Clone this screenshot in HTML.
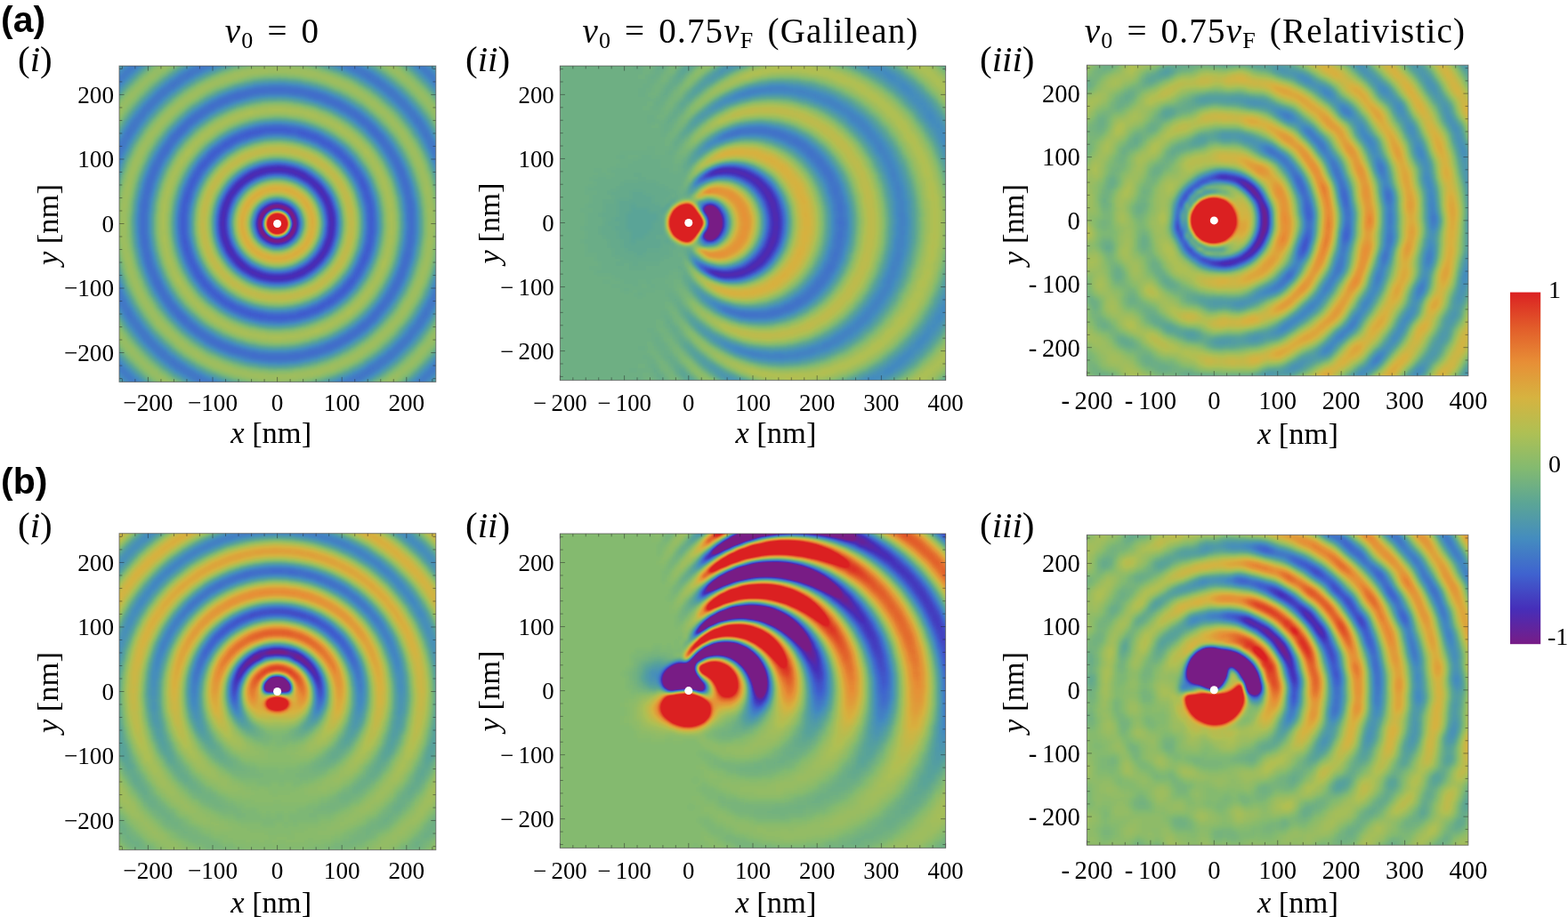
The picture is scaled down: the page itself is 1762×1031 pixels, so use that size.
<!DOCTYPE html>
<html lang="en"><head><meta charset="utf-8"><title>Figure</title>
<style>html,body{margin:0;padding:0;background:#fff}svg{display:block}text{font-family:"Liberation Serif","DejaVu Serif",serif;fill:#000}.ax{font-size:34.5px}.it{font-style:italic}.pl{font-size:41px}.bl{font-family:"Liberation Sans",sans-serif;font-weight:bold;font-size:41px}.tt{font-size:39px;letter-spacing:1.2px;word-spacing:4px}</style></head><body>
<svg width="1762" height="1031" viewBox="0 0 1762 1031">
<defs><filter id="hm" filterUnits="userSpaceOnUse" x="0" y="0" width="1762" height="1031" color-interpolation-filters="sRGB"><feGaussianBlur stdDeviation="2.5"/><feComponentTransfer><feFuncR type="table" tableValues="0.471 0.471 0.471 0.471 0.471 0.471 0.471 0.471 0.471 0.471 0.471 0.424 0.373 0.325 0.275 0.267 0.263 0.255 0.247 0.255 0.259 0.263 0.267 0.29 0.31 0.333 0.357 0.396 0.435 0.475 0.514 0.557 0.6 0.639 0.682 0.722 0.761 0.8 0.839 0.855 0.871 0.886 0.906 0.898 0.894 0.89 0.886 0.878 0.871 0.863 0.859 0.859 0.859 0.859 0.859 0.859 0.859 0.859 0.859 0.859 0.859"/><feFuncG type="table" tableValues="0.11 0.11 0.11 0.11 0.11 0.11 0.11 0.11 0.11 0.11 0.11 0.125 0.145 0.165 0.18 0.235 0.286 0.337 0.388 0.431 0.471 0.51 0.549 0.573 0.6 0.624 0.647 0.667 0.69 0.71 0.729 0.737 0.741 0.745 0.753 0.737 0.725 0.714 0.698 0.667 0.631 0.596 0.561 0.51 0.459 0.412 0.361 0.302 0.247 0.188 0.129 0.129 0.129 0.129 0.129 0.129 0.129 0.129 0.129 0.129 0.129"/><feFuncB type="table" tableValues="0.525 0.525 0.525 0.525 0.525 0.525 0.525 0.525 0.525 0.525 0.525 0.576 0.627 0.678 0.725 0.749 0.769 0.792 0.812 0.796 0.78 0.765 0.749 0.71 0.667 0.627 0.588 0.549 0.514 0.478 0.439 0.412 0.384 0.357 0.329 0.31 0.29 0.271 0.251 0.239 0.231 0.224 0.212 0.2 0.188 0.176 0.165 0.157 0.149 0.141 0.133 0.133 0.133 0.133 0.133 0.133 0.133 0.133 0.133 0.133 0.133"/><feFuncA type="linear" slope="1000" intercept="0"/></feComponentTransfer></filter>
<linearGradient id="cb" x1="0" y1="0" x2="0" y2="1"><stop offset="0" stop-color="#db2122"/><stop offset="0.1" stop-color="#e25c2a"/><stop offset="0.2" stop-color="#e78f36"/><stop offset="0.3" stop-color="#d6b340"/><stop offset="0.4" stop-color="#aec054"/><stop offset="0.5" stop-color="#83ba70"/><stop offset="0.6" stop-color="#5ba596"/><stop offset="0.7" stop-color="#448cbf"/><stop offset="0.8" stop-color="#3f63cf"/><stop offset="0.9" stop-color="#462eb9"/><stop offset="1" stop-color="#781c86"/></linearGradient></defs>
<rect width="1762" height="1031" fill="#fff"/>
<clipPath id="ca1"><rect x="134" y="74.1" width="355.8" height="355.3"/></clipPath>
<g clip-path="url(#ca1)"><g filter="url(#hm)"><g transform="translate(119 61.5) scale(5)" stroke-width="1.04" fill="none">
<path stroke="#2d2d2d" d="M36 35h1m-2 1h1m-1 4h1m0 1h1"/>
<path stroke="#2f2f2f" d="M40 35h1m0 1h1m0 2h1m-2 2h1m-2 1h1m-3 1h1"/>
<path stroke="#313131" d="M37 34h3m1 1h1m-8 2h1m7 0h1m-9 1h1m-1 1h1m7 0h1m-2 2h1m-5 1h1m1 0h1"/>
<path stroke="#333333" d="M31 28h1m-4 3h1m19 0h1M35 35h1M26 36h1m8 5h1m12 4h1M30 47h1m14 1h1"/>
<path stroke="#353535" d="M35 26h7M32 27h2m9 0h2m0 1h1M30 29h1m15 0h1M29 30h1m17 0h1M27 32h1m21 0h1M27 33h1m21 0h1M26 35h1m23 0h1m-1 1h1M26 37h1m23 0h1M26 38h1m23 0h1M26 39h1m23 0h1M26 40h1m15 0h1m7 0h1M26 41h1m23 0h1M40 42h1M27 43h1m21 0h1M27 44h1m21 0h1M28 45h1m0 1h1m17 0h1m-2 1h1M31 48h1m0 1h2m9 0h2M35 50h7"/>
<path stroke="#373737" d="M34 26h1m7 0h1M26 34h1m9 0h1m3 0h1m9 0h1M34 36h1m7 0h1m-9 4h1m-9 2h1m9 0h1m13 0h1M34 50h1m7 0h1"/>
<path stroke="#393939" d="M34 27h1m7 0h1M32 28h1m11 0h1M29 29h1m17 0h1m0 1h1M27 34h1m-1 8h1m21 0h1M28 44h1m19 2h1M29 47h1m17 0h1M30 48h1m15 0h1M34 49h1m7 0h1"/>
<path stroke="#3c3c3c" d="M30 28h1m15 0h1M28 30h1m-1 2h1m19 0h1m0 2h1M48 44h1M28 46h1m3 2h1m11 0h1"/>
<path stroke="#3e3e3e" d="M38 25h2m-7 1h1m9 0h1M26 33h1m23 0h1m0 4h1M25 38h1m25 0h1m-2 5h1m-2 2h1M33 50h1m9 0h1m-6 1h1"/>
<path stroke="#404040" d="M37 25h1m-7 2h1m3 0h1m5 0h1m3 0h1M31 29h1m-5 2h1m1 0h1m19 0h1M27 35h1m23 1h1M25 37h1m-1 2h1m25 0h1M27 41h1m-2 2h1m0 2h1m1 0h1m1 2h1m-1 2h1m3 0h1m9 0h1m-9 2h1m1 0h1"/>
<path stroke="#424242" d="M36 25h1m3 0h1m4 4h1M30 30h1m16 1h1m1 4h1M25 36h1m-1 4h1m25 0h1m-3 1h1m-3 4h1M30 46h1m14 1h1m-5 2h1m-6 2h1m3 0h1"/>
<path stroke="#444444" d="M46 30h1M46 46h1"/>
<path stroke="#464646" d="M35 25h1m5 0h1m-6 2h1m3 0h1m-8 1h1m9 0h1M28 33h1m22 2h1M27 36h1m-1 4h1m-3 1h1m25 0h1M28 43h1m4 5h1m9 0h1m-8 1h1m3 0h1m0 2h1"/>
<path stroke="#484848" d="M34 17h8M31 18h2m11 0h2M28 19h2m17 0h1M27 20h1m21 0h1M24 22h1m27 0h1M23 23h1m29 0h1M22 24h1m31 0h1M21 25h1m33 0h1M32 26h1m11 0h1M20 27h1m35 0h1M19 28h1m37 0h1M19 29h1m37 0h1m0 1h1M18 31h1m39 0h1M18 32h1m31 0h1m7 0h1M38 33h1m9 0h1M17 34h1m23 0h1m17 0h1M17 35h1m7 0h1m8 0h1m7 0h1m16 0h1M17 36h1m31 0h1m9 0h1M17 37h1m41 0h1M17 38h1m15 0h1m9 0h1m15 0h1M17 39h1m41 0h1M17 40h1m31 0h1m9 0h1M17 41h1m16 0h1m7 0h1m16 0h1M17 42h1m23 0h1m17 0h1M38 43h1m9 0h1M18 44h1m31 0h1m7 0h1M18 45h1m39 0h1m-1 1h1M19 47h1m37 0h1M20 49h1m35 0h1M21 50h1m22 0h1M35 51h1m19 0h1M22 52h1m31 0h1M23 53h1m29 0h1M24 54h1m27 0h1M25 55h1m24 0h1M27 56h1m21 0h1M28 57h2m17 0h2M31 58h2m11 0h2M34 59h9"/>
<path stroke="#4a4a4a" d="M33 17h1m8 0h2M30 18h1m2 0h1m9 0h1m2 0h1m-1 1h1m1 0h1M26 20h1m21 0h1m1 0h1M25 21h2m23 0h2M25 22h1m25 0h1M22 25h1m31 0h1M20 26h2m33 0h2M37 27h1m1 0h1M29 28h1m17 0h1M28 29h1m19 0h1M18 30h2m37 0h1M26 32h1M17 33h2m39 0h2M35 34h1m-9 3h1m-1 2h1m21 0h1M35 42h1M17 43h2m39 0h2M26 44h1m-9 2h2m37 0h1M28 47h1m19 0h1M19 48h2m8 0h1m17 0h1m8 0h2M37 49h1m1 0h1M20 50h1m11 0h1m22 0h2M21 51h2m31 0h1M25 54h1m25 0h1M26 55h1m24 0h1M26 56h1m1 0h1m19 0h1m1 0h1M30 57h1m15 0h1M30 58h1m2 0h1m9 0h1m2 0h1M33 59h1m9 0h1"/>
<path stroke="#4c4c4c" d="M32 17h1m11 0h1M34 18h1m12 0h1M30 19h1m-3 1h1m-6 2h1m0 1h1m27 0h1M23 24h1m29 0h1M38 27h1M20 28h1m35 0h1m1 1h1M17 32h1m41 0h1M37 33h1m1 0h1m1 4h1m1 0h1m5 0h1M27 38h1m13 1h1m1 0h1M18 42h1m18 1h1m1 0h1M17 44h1m41 0h1M38 49h1M23 52h1m29 0h1M24 53h1m27 0h1m1 0h1m-2 1h1M34 58h1m12 0h1M32 59h1m11 0h1"/>
<path stroke="#4f4f4f" d="M33 8h11M29 9h3M45 9h3M26 10h2m21 0h1M25 11h1m25 0h2M23 12h1m29 0h1M21 13h1m33 0h1M20 14h1m35 0h1M18 15h2m37 0h2M17 16h1m19 0h3m19 0h1M16 17h2m41 0h2M15 18h2m12 0h1m12 0h1m17 0h2M15 19h1m11 0h1m3 0h1m13 0h1m3 0h1m11 0h1M14 20h1m47 0h1M13 21h1m10 0h1m2 0h1m21 0h1m2 0h1m10 0h1M13 22h1m39 0h1M12 23h1m9 0h1m31 0h1m9 0h1M21 24h1m33 0h1m9 0h1M11 25h1m22 0h1m7 0h1m22 0h1M10 26h1m55 0h1M10 27h1m8 0h1m10 0h1m15 0h1m8 0h1m1 0h1m8 0h1M10 28h1M9 29h1m8 0h1m48 0h1M9 30h1m17 0h1m21 0h1m17 0h1M9 31h1m57 0h1M8 33h1m59 0h1M8 34h1m9 0h1m6 0h1m25 0h1m6 0h1m9 0h1M8 35h1m9 0h1m49 0h1M8 36h1m7 0h1m51 0h1M8 37h1m7 0h1m16 0h1m26 0h1m7 0h1M8 38h1m7 0h1m32 0h1m10 0h1m7 0h1M8 39h1m7 0h1m16 0h1m26 0h1m7 0h1M8 40h1m51 0h1m7 0h1M8 41h1m59 0h1M8 42h1m16 0h1m25 0h1m6 0h1m9 0h1M8 43h1m59 0h1M9 45h1m9 0h1m37 0h1m9 0h1M9 46h1m17 0h1m21 0h1m17 0h1M9 47h1m8 0h1m39 0h1m8 0h1m-2 1h1M10 49h1m8 0h1m10 0h1m15 0h1m10 0h1m8 0h1m-1 1h1M11 51h1m22 0h1m7 0h1m22 0h1M11 52h1m9 0h1m33 0h1m9 0h1M12 53h1m9 0h1m41 0h1M23 54h1M13 55h1m35 0h1m2 0h1m10 0h1M14 56h1m47 0h1M15 57h1m11 0h1m3 0h1m13 0h1m3 0h1m11 0h1M16 58h1m12 0h1m5 0h1m6 0h1m17 0h1M16 59h2m42 0h1M17 60h1m20 0h2m19 0h1M19 61h1m37 0h2M20 62h1m35 0h1M21 63h1m33 0h1M23 64h1m29 0h2M24 65h2m25 0h2M26 66h3m20 0h2M29 67h3m13 0h3M33 68h11"/>
<path stroke="#515151" d="M25 1h1M50 1h2M32 8h1M44 8h1M28 9h1m3 0h1M44 9h1m3 0h1M28 10h2m17 0h2m1 0h1M24 11h1m1 0h1m23 0h1M22 12h1m1 0h1m27 0h1m1 0h1M22 13h1m31 0h1m1 0h1M19 14h1m37 0h1M18 16h1m16 0h2m3 0h1m17 0h1M31 17h1m13 0h1M35 18h1m4 0h2M14 19h1m47 0h1M14 21h1m-3 1h1m50 0h2M11 24h2M1 25h1m18 0h1M1 26h1m9 0h1m53 0h1M21 27h1M9 28h1m56 0h2m8 1h1M17 31h1m1 0h1m37 0h1m1 0h1M8 32h2m57 0h2M58 35h1m1 0h1m-1 1h1M35 37h1m-1 2h1M16 40h1m1 1h1m39 0h1M8 44h2m19 0h1m37 0h2M17 45h1m41 0h1m8 0h1m7 1h1M20 47h1m55 0h1M9 48h2m56 0h1m8 0h1M21 49h1m33 0h1M1 50h1m8 0h2m53 0h1M1 51h1m10 1h1m51 0h1M12 54h2m49 0h2M24 55h1m2 0h1m23 1h1M14 57h1m47 0h1M15 58h1m25 0h1m19 0h1M31 59h1m13 0h1m13 0h1M18 60h1m17 0h2m2 0h1m17 0h1M18 61h1m0 1h1m37 0h1M22 63h1m31 0h1m1 0h1M22 64h1m1 0h1m27 0h1M26 65h1m23 0h1M29 66h1m18 0h1M28 67h1m3 0h2m10 0h1m3 0h1M32 68h1m11 0h1M23 74h1m5 2h2m14 0h4"/>
<path stroke="#535353" d="M30 0h2M44 0h2M24 1h1m1 0h2M49 1h1m2 0h1M22 2h2M53 2h2M20 3h2M55 3h2M18 4h2M57 4h2M17 5h2M58 5h2M15 6h2M60 6h2M14 7h2M61 7h2M13 8h1M31 8h1M45 8h1M63 8h1M12 9h1M33 9h1m8 0h2M64 9h1M11 10h1m13 0h1m25 0h1m13 0h1M10 11h1m12 0h1m29 0h1m12 0h1M9 12h1m57 0h1M8 13h1m11 0h1m47 0h1M7 14h1m13 0h1m33 0h1m13 0h1M6 15h1m62 0h2M6 16h1m34 0h1m28 0h1M5 17h1m65 0h1M4 18h2m30 0h1m34 0h2M4 19h1m67 0h1M3 20h1m9 0h1m11 0h1m3 0h1m17 0h1m3 0h1m11 0h1m9 0h1M3 21h1m58 0h1m10 0h1M2 22h1m71 0h1M2 23h1m8 0h1m53 0h1m8 0h1M1 24h2m61 0h1m9 0h1M10 25h1m45 0h1m9 0h1m8 0h1m-1 1h1M1 27h1m74 0h1M34 28h1m23 0h1m17 0h1M10 29h1m9 0h1m11 0h1m11 0h1m11 0h1m9 0h1m9 1h1M0 31h1m7 0h1m59 0h1m7 0h1M29 32h1m17 0h1m28 0h1M9 33h1m57 0h1M9 34h1m6 1h1m20 0h1m1 0h1m37 0h1M18 36h1m39 0h1M18 37h1m39 0h1m18 0h1M18 38h1m-1 1h1m-1 1h1m39 0h1M16 41h1m20 0h1m22 0h1M9 42h1m18 0h1M9 43h1m57 0h1M47 44h1m28 0h1M0 45h1m7 0h1m67 0h1M0 47h1m9 0h1m21 0h1m11 0h1m11 0h1m9 0h1M34 48h1M1 49h1m74 0h1m-2 1h1M10 51h1m9 0h1m35 0h1m9 0h1m8 0h1M1 52h2M2 53h1m8 0h1m53 0h1m8 0h1M2 54h1m71 0h1M3 55h1m10 0h1m47 0h1m10 0h1M3 56h1m9 0h1m11 0h1m3 0h1m17 0h1m15 0h1m9 0h1M4 57h1m67 0h1M4 58h2m30 0h2m1 0h2m30 0h2M5 59h1m65 0h1M6 60h1m28 0h1m5 0h1m28 0h1M7 61h1m62 0h1M7 62h1m13 0h1m33 0h1m13 0h1M8 63h1m11 0h1m47 0h1M9 64h1m57 0h1M10 65h1m12 0h1m29 0h1m12 0h1M11 66h1m13 0h1m21 0h1m3 0h1m13 0h1M12 67h1m29 0h2m20 0h1M13 68h1m17 0h1m13 0h1m17 0h1M14 69h2m45 0h2M15 70h2m43 0h1M17 71h2m39 0h2M19 72h1m37 0h2M20 73h2m33 0h2M22 74h1m1 0h1m27 0h3M25 75h2m22 0h3M27 76h2m2 0h2m11 0h1m4 0h1M38 77h2"/>
<path stroke="#555555" d="M9 0h1M28 0h2m2 0h3m7 0h2m2 0h3M67 0h1M7 1h2M28 1h1M48 1h1M68 1h2M6 2h1M24 2h1M52 2h1M70 2h1M5 3h1M22 3h1M54 3h1M71 3h1M4 4h1M20 4h1M56 4h1M72 4h1M3 5h1M16 5h1M60 5h1M73 5h1M59 6h1M74 6h1M1 7h1M37 7h3M74 7h1M1 8h1M12 8h1m1 0h1M46 8h1M62 8h1m1 0h1M75 8h2M11 9h1m1 0h1M27 9h1m6 0h2m5 0h1m7 0h1M63 9h1m1 0h1M76 9h1M10 10h1m19 0h1m15 0h1m19 0h1M9 11h1m17 0h1m21 0h1m17 0h1M8 12h1m12 0h1m33 0h1m12 0h1M23 13h1m29 0h1m15 0h1M8 14h1m59 0h1M7 15h1m12 0h1m35 0h1M5 16h1m28 0h1m7 0h1m17 0h1m10 0h1M6 17h1m21 1h1m8 0h3m8 0h1M32 19h1m11 0h1M4 20h1m10 0h1m45 0h1m10 0h1M12 21h1m51 0h1M3 22h1m22 0h1m23 0h1m22 0h1M1 23h1m11 0h1m49 0h1m11 1h1M22 26h1m31 0h1m21 0h1M9 27h1m1 0h1m53 0h1m1 0h1m7 0h1M0 28h2m16 0h1m23 0h1M0 29h1M0 30h1m7 0h1m1 0h1m57 0h1M0 32h1m18 0h1m37 0h1M0 33h1m75 0h2M0 34h1m15 0h1m11 0h1m19 0h1m11 0h1m6 0h1m9 0h1M9 35h1m57 0h1m1 0h1M7 36h1m61 0h1m7 0h1M7 37h1m61 0h1M7 38h1m50 0h1m10 0h1m7 0h1M7 39h1m50 0h1m10 0h1m7 0h1M7 40h1m61 0h1m7 0h1M9 41h1m29 0h1m27 0h1m9 0h1M0 42h1m15 0h1m31 0h1m11 0h1m6 0h1m9 0h1M0 43h1m75 0h2M0 44h1m18 0h1M0 46h1m7 0h1m57 0h1m1 0h1M0 48h2m16 0h1m23 0h1m15 0h1M9 49h1m1 0h1m53 0h1m1 0h1m7 0h1M22 50h1m31 0h1m21 0h1M12 51h1m61 1h2M13 53h1m49 0h1M3 54h1m22 0h1m23 0h1m22 0h1M12 55h1m51 0h1m9 0h1M4 56h1m10 0h1m45 0h1m10 0h1M32 57h1m-5 1h1m9 0h1m9 0h1m21 1h1M5 60h1m28 0h1m7 0h1m17 0h1m10 0h1M6 61h1m13 0h1m35 0h1m12 0h1M8 62h1m59 0h1M9 63h1m13 0h1m29 0h1M8 64h1m12 0h1m33 0h1m12 0h1M9 65h1m17 0h1m21 0h1m17 0h1M10 66h1m19 0h1m15 0h1m19 0h1M0 67h1m10 0h1m1 0h1m13 0h1m6 0h2m5 0h1m7 0h1m13 0h1m1 0h1m10 0h1M1 68h1m10 0h1m1 0h1m31 0h1m15 0h1m1 0h1m11 0h1M1 69h1m34 0h5m33 0h1M17 70h1m41 0h1m1 0h1m12 0h1M3 71h1m12 0h1m43 0h1m12 0h1M4 72h1m13 0h1m1 0h1m35 0h1m15 0h1M5 73h1m16 0h1m31 0h1m2 0h1m13 0h1M6 74h1m18 0h1m43 0h2M24 75h1m2 0h2m23 0h1M8 76h2m16 0h1m6 0h1m9 0h1m6 0h1m16 0h2M34 77h4m2 0h3"/>
<path stroke="#575757" d="M10 0h1M27 0h1m7 0h7m7 0h1M66 0h1M23 1h1M47 1h1m5 0h1M7 2h1M21 2h1m3 0h1M51 2h1m3 0h1M69 2h1M6 3h1M19 3h1M57 3h1M70 3h1M5 4h1M59 4h1M71 4h1M4 5h1M72 5h1M2 6h2M17 6h1M73 6h1M2 7h1M13 7h1M35 7h2m3 0h2M63 7h1M75 7h1M30 8h1M0 9h1M36 9h5M0 10h1m11 0h1m51 0h1m12 0h1M11 11h1m53 0h1m11 0h1M10 12h1m14 0h1m25 0h1m14 0h1M7 13h1m1 0h1m57 0h1m2 1h1M17 15h1m41 0h1M16 16h1m2 0h1m37 0h1M4 17h1m10 0h1m2 0h1m11 0h1m15 0h1m14 0h1m8 0h1M14 18h1m2 0h1m41 0h1m2 0h1M3 19h1m12 0h1m9 0h1m23 0h1m9 0h1m12 0h1M2 21h1m71 0h1M25 23h1m25 0h1m23 0h1M24 24h1M2 25h1m9 0h1m10 0h1m29 0h1m10 0h1m9 0h1M19 26h1m25 0h1m11 0h1M0 27h1m74 1h1M17 30h1m41 0h1m6 0h1M50 31h1m26 0h1m-1 1h1M60 33h1M7 34h1m61 0h1m6 0h1M0 35h1m6 0h1m68 0h1M0 36h1m8 0h1m26 0h1m30 0h1M0 37h1m8 0h1m57 0h1M0 38h1m8 0h1M0 39h1m8 0h1M0 40h1m8 0h1m26 0h1m30 0h1M0 41h1m6 0h1m61 0h1m6 0h1m-8 1h1m6 0h1M57 44h1m19 0h1M50 45h1m26 0h1M10 46h1m6 0h1m41 0h1M1 47h1m73 1h1M0 49h1m18 1h1m25 0h1m11 0h1M2 51h1m20 0h1m29 0h1m10 0h1m9 0h1M1 53h1m1 0h1m21 0h1m25 0h1m23 0h1M2 55h1m0 2h1m12 0h1m9 0h1m17 0h1m5 0h1m9 0h1m12 0h1M14 58h1m2 0h1M4 59h1m1 0h1m8 0h1m2 0h1m11 0h1m15 0h1m14 0h1m10 0h1M16 60h1m2 0h1m37 0h1M17 61h1m41 0h1m-2 1h1M7 63h1m59 0h1m1 0h1M10 64h1m14 0h1m25 0h1m14 0h1M11 65h1m53 0h1m11 0h1M0 66h1m11 0h1m51 0h1m12 0h1M36 67h5M30 68h1m44 0h1M2 69h1m10 0h1m21 0h1m5 0h2m20 0h1m11 0h1M2 70h2m69 0h1M4 71h1m14 0h1m52 0h1M5 72h1m53 0h1m11 0h1M6 73h1m12 0h1m50 0h1M7 74h1m13 0h1m29 0h1m3 0h1M7 75h2m39 0h1m4 0h1m14 0h2M10 76h1m23 0h3m4 0h2m23 0h1M10 77h2m20 0h2m9 0h2m20 0h2"/>
<path stroke="#595959" d="M8 0h1M50 0h1M68 0h1M6 1h1M29 1h1M67 1h1m2 0h1M5 2h1M4 3h1M23 3h1M53 3h1M72 3h1M3 4h1M17 4h1m3 0h1M55 4h1M73 4h1M2 5h1M19 5h1M57 5h1M74 5h1M1 6h1M14 6h1M62 6h1M16 7h1M34 7h1m7 0h1M60 7h1M0 8h1M29 8h1M47 8h1M1 9h1M77 9h1M24 10h1m6 0h1m13 0h1m6 0h1m23 0h1M6 14h1m11 0h1m3 0h1m35 0h1M7 16h1m25 0h1m9 0h1m25 0h1M58 17h1m13 0h1M5 19h1m65 0h1M4 21h1m23 0h1m19 0h1m23 0h1M14 22h1M3 23h1m69 0h1M10 24h1m41 0h1m13 0h1M43 25h1m32 0h1M2 26h1m28 0h1m35 0h1M21 28h1M1 29h1m6 0h1m59 0h1m6 0h1M31 30h1m13 0h1m31 0h1M10 31h1m15 0h1m3 0h1m15 0h1M16 33h1m8 0h1m10 0h1m3 0h1m10 0h1m17 0h1M43 36h1m32 0h1m-1 1h1M35 38h6m26 0h1m8 0h1M67 39h1m8 0h1M43 40h1m32 0h1M7 42h1m8 1h1m8 0h1m10 0h1m3 0h1m10 0h1m8 0h1M10 45h1m15 0h1m3 0h1m15 0h1m19 0h1M31 46h1m13 0h1M8 47h1m59 0h1m6 0h1M21 48h1m9 2h1m35 0h1m6 0h1M33 51h1m9 0h1m32 0h1M10 52h1m13 0h1m27 0h1m13 0h1m6 1h1M14 54h1M4 55h1m67 0h1M30 56h1M5 57h1m65 0h1M59 58h1m2 0h1m-5 1h1M7 60h1m25 0h1m9 0h1m25 0h1M6 62h1m11 0h1m35 0h1m15 0h1M22 65h1m1 1h1m6 0h1m13 0h1m6 0h1m23 0h1M50 67h1m26 0h1M0 68h1m46 0h1M16 69h1m17 0h1m25 0h1M1 70h1m12 0h1m47 0h1m-6 1h1m16 0h1M3 72h1m13 0h1m3 0h1m33 0h1m17 0h1M4 73h1m18 0h1m29 0h1m18 0h1M5 74h1m20 0h1m23 0h1m20 0h1M23 75h1m5 0h1m17 0h1M25 76h1m11 0h4m10 0h1M30 77h2m13 0h1m18 0h1m2 0h1"/>
<path stroke="#5b5b5b" d="M26 0h1M9 1h1M22 1h1m7 0h1M46 1h1m7 0h1M8 2h1M26 2h1M50 2h1m5 0h1M71 2h1M61 5h1M75 6h1M33 7h1m9 0h1M76 7h1M15 8h1M26 9h1M50 9h1M75 9h1m-9 1h1M22 11h1m5 0h1m19 0h1m5 0h1m22 1h1M19 13h1m37 0h1m-4 1h1M5 15h1m2 0h1m62 0h1M13 19h1m19 0h1m9 0h1m19 0h1M2 20h1m27 0h1m15 0h1m27 0h1M23 21h1m29 0h1M1 22h1m9 0h1m10 0h1m31 0h1m7 0h1m2 0h1M21 23h1m33 0h1M38 24h1m-6 1h1M0 26h1m8 0h1m64 0h1M11 28h1m43 0h1m9 0h1M1 30h1m18 0h1m35 0h1m18 0h1M66 31h1M7 33h1m11 0h1m13 3h1m18 2h1M33 40h1M7 43h1m11 0h1m49 0h1M1 46h1m18 0h1m35 0h1m18 0h1m1 0h1M11 48h1m43 0h1m9 0h1M0 50h1m1 0h1m6 0h1m11 3h1m33 0h1M1 54h1m9 0h1m10 0h1m31 0h1m7 0h1m2 0h1M23 55h1m4 0h1m19 0h1m4 0h1M2 56h1m43 0h1m27 0h1M13 57h1m19 0h1m9 0h1m19 0h1M5 61h1m62 0h1m2 0h1M22 62h1m-4 1h1m37 0h1m19 1h1M28 65h1m19 0h1m5 0h1M1 67h1m24 0h1m48 0h1M15 68h1m13 0h1m31 0h1M33 69h1m9 0h1m32 0h1m-2 1h1M2 71h1m12 0h1m45 0h1M8 74h1m11 0h1m35 0h1m11 0h1M6 75h1m2 0h1m20 0h1m15 0h1m20 0h1m2 0h1M7 76h1m61 0h1M9 77h1m2 0h1m33 0h1"/>
<path stroke="#5e5e5e" d="M11 0h1M65 0h1M45 1h1M20 2h1m6 0h1M68 2h1M7 3h1M18 3h1m5 0h1M52 3h1m5 0h1M69 3h1M6 4h1m8 1h1M4 6h1M18 6h1M58 6h1M3 7h1M44 7h1M73 7h1M2 8h1m8 0h1M61 8h1m3 0h1m8 0h1M10 9h1M66 9h1M9 10h1m22 0h1m11 0h1M0 11h1m7 0h1m59 0h1M26 12h1m23 0h1M24 13h1m27 0h1M21 15h1m46 0h1M44 16h1M3 18h1m2 0h1m63 0h1m2 0h1M52 20h1m11 0h1m10 2h1M3 24h1m9 0h1m6 0h1m16 0h1m1 0h1m23 0h1m9 0h1m2 0h1M12 26h1m45 1h1M8 28h1m59 0h1M59 29h1m17 0h1M7 32h1m2 0h1m49 0h1m8 0h1M57 33h1M24 37h1m27 0h1M24 38h1m-1 1h1m27 0h1m4 4h1M10 44h1m49 0h1m5 0h1m2 0h1M1 45h1m75 2h1M12 50h1m51 0h1M3 52h1m9 0h1m23 0h3m16 0h1m6 0h1m9 0h1m2 0h1m-2 2h1M52 56h1M3 58h1m2 0h1m63 0h1m2 0h1M8 61h1m0 1h1m14 1h1m27 0h1M26 64h1m23 0h1M0 65h1m7 0h1m59 0h1M9 66h1m22 0h1m11 0h1m22 0h1M10 67h1m55 0h1M2 68h1m8 0h1m53 0h1m8 0h1M3 69h1m28 0h1m11 0h1m28 0h1M18 70h1m39 0h1M7 73h1m10 0h1m5 0h1m27 0h1m5 0h1m10 0h1M22 75h1m31 0h1M29 77h1m17 0h1"/>
<path stroke="#606060" d="M7 0h1M25 0h1M51 0h1M69 0h1M31 1h1M49 2h1M16 4h1m5 0h1M54 4h1m5 0h1m9 0h1M5 5h1M20 5h1M56 5h1M71 5h1m0 1h1M0 7h1M12 7h1M32 7h1M64 7h1M28 8h1M48 8h1M14 9h1M62 9h1m13 2h1M7 12h1m12 0h1m35 0h1m12 0h1M10 13h1M9 14h1m57 0h1M55 15h1M4 16h1m27 0h1m39 0h1M29 17h1m17 0h1M27 18h1m21 0h1M5 20h1m6 0h1m11 0h1m46 0h1M15 21h1m45 0h1M4 22h1m67 0h1M56 24h1M0 25h1m63 1h1M2 27h1m15 0h1m55 0h1M35 28h1m5 0h1m6 0h1m28 0h1M17 29h1M1 31h1m73 0h1M16 32h1m49 0h1M34 34h1m7 0h1M28 35h1m9 0h1m1 1h1m11 0h1M40 40h1m11 0h1M28 41h1m9 0h1m3 1h1M7 44h1m8 0h1m58 1h1M17 47h1m41 0h1M8 48h1m32 0h1m26 0h1m8 0h1M2 49h1m15 0h1m39 0h1m15 0h1M0 51h1m19 1h1M4 54h1m10 1h1m45 0h1M5 56h1m6 0h1m11 0h1m39 0h1m6 0h1M27 58h1m21 0h1M29 59h1m17 0h1M4 60h1m27 0h1m11 0h1m27 0h1M21 61h1m33 0h1m11 1h1M7 64h1m12 0h1m35 0h1m12 0h1m6 1h1M13 66h1m0 1h1m47 0h1M28 68h1m19 0h1M0 69h1m11 0h1m51 0h1M4 70h1m67 0h1M5 71h1m14 0h1m35 0h1m14 0h1M6 72h1m15 0h1m31 0h1m5 0h1m9 0h1M27 74h1m21 0h1M31 75h1m13 0h1M11 76h1m12 0h1m27 0h1m12 0h1"/>
<path stroke="#626262" d="M32 1h1M44 1h1M55 1h1M71 1h1M3 3h1M73 3h1M13 6h1M63 6h1M17 7h1M31 7h1M45 7h1M77 8h1M25 9h1M51 9h1M13 10h1m9 0h1m9 0h1m9 0h1m9 0h1m9 0h1M12 11h1m16 0h1m17 0h1m16 0h1M11 12h1m53 0h1M6 13h1m59 0h1m3 0h1m6 0h1M60 15h1M20 16h1m35 0h1M7 17h1m26 2h1m7 0h1M16 20h1m10 2h1m21 0h1M10 23h1m55 0h1M36 24h1m3 0h1M9 25h1m57 0h1M22 27h1m31 0h1M28 28h1M11 29h1m53 0h1M7 31h1m61 0h1M1 32h1m73 0h1M10 33h1m8 1h1m37 0h1M48 35h1M24 36h1m36 2h1m-1 1h1M24 40h1m23 1h1M19 42h1m14 0h1M10 43h1m55 0h1M1 44h1m5 1h1m61 0h1M11 47h1m37 0h1M28 48h1m6 0h1m12 0h1M22 49h1M9 51h1m57 0h1M36 52h1m3 0h1M10 53h1m55 0h1M27 54h1m21 0h1m22 0h1M1 55h1m14 1h1m17 1h1m7 0h1M7 59h1m12 1h1m40 0h1m-2 1h1M6 63h1m3 0h1m55 0h1m3 0h1m6 0h1M11 64h1m53 0h1M12 65h1m16 0h1m17 0h1m16 0h1M23 66h1m9 0h1m9 0h1m9 0h1m9 0h1M25 67h1m25 0h1m25 1h1M17 69h1m13 0h1m13 0h1m13 0h1M13 70h1m49 0h1M16 72h1m57 0h1M3 73h1m69 0h1M4 74h1m27 1h1m11 0h1M8 77h1m4 0h1m14 0h1m19 0h1m14 0h1m4 0h1m8 0h1"/>
<path stroke="#646464" d="M52 0h1M5 1h1m4 0h1M21 1h1M33 1h1m9 0h1M66 1h1M4 2h1M19 2h1m8 0h1M48 2h1m8 0h1M72 2h1M25 3h1M51 3h1M2 4h1M74 4h1M1 5h1M75 5h1m0 1h1M59 7h1M1 10h1m73 0h1M59 14h1m11 0h1M16 15h1m20 0h3M15 16h1m45 0h1M14 17h1m47 0h1m6 0h1M18 18h1M2 19h1m22 0h1m25 0h1m22 0h1M31 20h1m28 0h1M1 21h1m63 0h1m9 0h1M14 23h1m61 0h1M0 24h1m2 1h1m15 0h1m37 0h1M29 27h1m17 0h1M2 28h1m24 1h1m21 0h1M20 31h1m39 0h1M1 33h1m64 0h1m8 0h1M61 36h1M15 37h1m45 0h1M15 38h1m-1 1h1m45 1h1m-5 2h1m17 2h1M20 45h1m39 0h1M27 47h1m37 0h1M2 48h1m71 0h1M29 49h1m17 0h1m6 0h1M3 51h1m15 0h1m37 0h1m15 0h1M0 52h1m75 1h1M65 55h1m9 0h1M31 56h1m28 0h1M2 57h1m22 0h1m25 0h1m22 0h1M14 59h1m4 0h1m42 0h1m6 0h1M15 60h1m40 0h1M16 61h1m20 0h3M17 62h1m5 0h1m35 0h1m11 0h1M1 66h1m73 0h1m0 4h1M1 71h1m73 0h1M2 72h1m22 1h1m25 0h1M19 74h1m8 0h1m19 0h1m8 0h1m14 0h1M5 75h1m4 0h1m10 0h1m11 0h1m9 0h1m11 0h1m10 0h1m4 0h1M6 76h1m63 0h1"/>
<path stroke="#666666" d="M12 0h1M24 0h1M64 0h1M42 1h1M9 2h1M67 2h1M17 3h1M59 3h1M23 4h1M14 5h1M62 5h1M19 6h1M39 6h1M57 6h1M16 8h1M27 8h1M49 8h1M60 8h1M2 9h1M74 9h1M34 10h1m7 0h1M21 11h1m33 0h1M0 12h1m26 0h1m21 0h1M18 13h1m39 0h1M5 14h1m11 0h1m5 0h1m29 0h1M36 15h1m3 0h1M8 16h1m22 0h1m13 0h1M3 17h1m15 0h1m37 0h1m15 0h1M58 18h1m4 0h1M6 19h1m10 0h1m17 0h1m5 0h1m17 0h1M45 20h1M11 21h1m50 2h1m10 2h1M8 27h1m3 0h1m55 0h1m8 0h1m-4 1h1M21 29h1m11 0h1m9 0h1m25 1h1M16 31h1m39 0h1m-6 1h1M29 33h1M10 34h1m55 0h1m8 0h1M19 35h1m32 0h1M15 36h1M6 37h1m63 0h1M6 38h1m63 0h1m-1 1h1M15 40h1m54 0h1M19 41h1m32 0h1M1 42h1m8 0h1m55 0h1M1 43h1m27 0h1m17 0h1m27 0h1M51 44h1M16 45h1m39 0h1m12 1h1M21 47h1m11 0h1m9 0h1M8 49h1m3 0h1m55 0h1m8 0h1M44 51h1M14 53h1m47 0h1M11 55h1m33 1h1M6 57h1m10 0h1m17 0h1m5 0h1m17 0h1m10 0h1M18 58h1m39 0h1M3 59h1m53 0h1m15 0h1M8 60h1m22 0h1m13 0h1M36 61h1m3 0h1M5 62h1m47 0h1m4 1h1M0 64h1m26 0h1m-7 1h1m33 0h1M34 66h1m7 0h1M2 67h1m71 0h1M16 68h1m10 0h1m21 0h1M19 70h1m18 0h2M14 71h1m47 0h1M17 73h1m41 0h1M9 74h1m57 0h1M34 75h1m7 0h1M23 76h1m29 0h1M27 77h1m21 0h1"/>
<path stroke="#686868" d="M6 0h1M34 1h2m5 0h1M29 2h1M47 2h1M8 3h1M68 3h1M53 4h1M21 5h1M55 5h1M0 6h1M36 6h3m1 0h1M30 7h1M46 7h1M3 8h1M66 8h1m6 0h1M67 9h1M35 10h1m5 0h1M30 11h1m15 0h1M25 13h1m25 0h1M35 15h1m5 0h1m30 0h1m-5 1h1M13 18h1m56 1h1M5 21h1m23 0h1m17 0h1m23 0h1M4 23h1m21 0h1m23 0h1m21 0h1M35 24h1m5 0h1M13 25h1m18 0h1m11 0h1m18 0h1M23 26h1m29 0h1m23 0h1M64 27h1m-6 1h1M2 29h1m52 0h1m18 0h1M7 30h1m3 0h1m53 0h1M25 32h1m21 1h1M1 34h1M1 35h1m8 0h1m4 0h1m8 0h1m18 0h1m13 0h1m3 0h1m4 0h1m3 0h1M6 36h1m63 0h1M41 38h1M6 39h1M6 40h1m3 1h1m4 0h1m8 0h1m32 0h1m3 0h1m8 0h1m4 1h1M25 44h1M7 46h1m3 0h1M2 47h1m52 0h1m8 2h1M23 50h1m29 0h1m23 0h1M13 51h1m18 0h1m30 0h1M35 52h1m5 0h1M4 53h1m21 0h1m23 0h1m21 0h1M5 55h1m23 0h1m17 0h1M13 58h1m49 0h1m4 2h1M35 61h1m5 0h1M18 63h1m6 0h1m25 0h1m-3 1h1M30 65h1m15 0h1M35 66h1m5 0h1M3 68h1m56 0h1m12 0h1M30 69h1m15 0h1M0 70h1m35 0h2m2 0h1m16 0h1M21 71h1m33 0h1M7 72h1m15 0h1m29 0h1M8 73h1m59 0h1M29 74h1m17 0h1M35 75h1m5 0h1M14 77h1"/>
<path stroke="#6a6a6a" d="M53 0h1M70 0h1M20 1h1M36 1h2m2 0h1M26 3h1M50 3h1M7 4h1m7 0h1M61 4h1m7 0h1M6 5h1M70 5h1M5 6h1M35 6h1m5 0h1M71 6h1M4 7h1M72 7h1m4 0h1M10 8h1M9 9h1m5 0h1M52 9h1m8 0h1M8 10h1m27 0h2m2 0h1m27 0h1m0 1h1M19 12h1m37 0h1m18 0h1m0 2h1M4 15h1m4 0h1m57 0h1M28 17h1m19 0h1M36 19h1m3 0h1m23 0h1M54 21h1M9 24h1m15 0h1m25 0h1m15 0h1M24 25h1M3 26h1m26 0h1m15 0h1m11 0h1M17 28h1m18 0h1m3 0h1m9 2h1M35 33h1m5 0h1M6 35h1m26 0h1m41 0h1M1 36h1m8 0h1m8 0h1m8 0h1m19 0h1m26 0h1M1 38h1M1 39h1m73 0h1M1 40h1m8 0h1m8 0h1m8 0h1m37 0h1m8 0h1M1 41h1m4 0h1m26 0h1m9 0h1m22 0h1m8 0h1m-6 1h1M35 43h1m5 0h1m8 3h1m14 0h1m8 1h1M17 48h1m18 0h1m3 0h1m18 0h1M3 50h1m42 0h1m11 0h1m14 0h1M24 51h1m0 1h1m25 0h1m15 0h1M0 53h1m53 2h1m16 0h1M1 56h1m73 0h1M12 57h1m23 0h1m3 0h1m23 0h1M50 58h1M28 59h1m19 0h1M4 61h1m4 0h1m57 0h1m4 0h1m4 1h1M57 64h1m18 0h1M7 65h1m61 0h1M8 66h1m27 0h1m2 0h2m27 0h1M9 67h1m5 0h1m36 0h1m14 0h1M10 68h1m55 0h1M4 69h1m60 0h1m6 0h1M5 70h1m29 0h1m5 0h1m29 0h1M6 71h1m63 0h1M15 72h1m45 0h1m7 0h1M26 73h1m23 0h1M36 75h5M12 76h1m51 0h1M7 77h1m18 0h1m23 0h1m11 0h1m6 0h1"/>
<path stroke="#6c6c6c" d="M23 0h1M77 0h1M38 1h2M56 1h1M18 2h1M30 2h1M58 2h1M34 6h1m7 0h1M11 7h1m6 0h1M29 7h1M47 7h1M58 7h1m6 0h1M24 9h1M14 10h1m7 0h1m15 0h2m14 0h1m7 0h1M7 11h1m62 1h1M10 14h1m11 1h1m11 0h1m7 0h1m11 0h1M2 18h1m4 0h1m18 0h1m23 0h1m18 0h1m4 0h1M12 19h1m24 0h3M1 20h1m73 0h1M22 21h1M10 22h1m4 0h1m5 0h1m33 0h1m5 0h1m4 0h1m9 0h1M0 23h1m51 2h1M18 26h1m49 0h1m4 0h1M7 29h1m61 0h1M16 30h1m9 0h1M6 34h1m8 0h1m45 0h1m8 0h1M57 36h1m8 0h1M1 37h1m8 0h1m8 0h1m46 0h1m8 0h1M10 38h1m8 0h1m46 0h1m8 0h1M10 39h1m8 0h1m46 0h1M48 40h1m8 0h1M6 42h1m8 0h1m45 0h1M26 46h1M7 47h1m61 0h1M18 50h1m11 0h1m37 0h1M52 51h1M9 52h1m46 1h1M10 54h1m4 0h1m5 0h1m33 0h1m5 0h1m4 0h1m9 0h1M22 55h1m14 2h1m1 0h1M2 58h1m4 0h1m18 0h1m47 0h1M22 61h1m11 0h1m7 0h1m11 0h1m11 1h1M19 64h1m50 0h1M1 65h1m73 0h1M14 66h1m7 0h1m14 0h2m15 0h1M24 67h1m36 0h1M50 68h1M11 69h1m6 0h1m28 0h1m10 0h1m18 0h1M34 70h1m7 0h1M18 74h1m11 0h1m15 0h1m11 0h1M11 75h1m8 0h1m35 0h1M22 76h1m31 0h1M0 77h1"/>
<path stroke="#6e6e6e" d="M13 0h1M63 0h1M4 1h1m6 0h1M65 1h1m6 0h1M3 2h1M46 2h1M73 2h1M2 3h1M16 3h1M60 3h1M74 3h1M1 4h1M24 4h1M75 4h1M12 6h1M33 6h1m9 0h1M64 6h1M26 8h1M50 8h1M1 11h1m11 0h1m17 0h1m13 0h1m17 0h1m11 0h1M6 12h1m5 0h1m15 0h1m19 0h1M0 13h1m10 0h1m54 1h1M30 16h1m15 0h1M23 20h1m8 0h1m11 0h1m8 0h1M20 23h1m35 0h1m20 2h1M8 26h1m3 2h1M2 30h1m57 0h1m13 0h1M11 31h1m53 0h1M20 32h1m35 0h1M6 33h1m63 0h1M57 37h1m-1 1h1M28 39h1m28 0h1M6 43h1m63 0h1M20 44h1M11 45h1M2 46h1m13 0h1m43 0h1m13 0h1M12 48h1M8 50h1m68 1h1M20 53h1m2 3h1m8 0h1m11 0h1m8 0h1M38 57h1m30 1h1M30 60h1m15 0h1m26 0h1M10 62h1M0 63h1m10 0h1M6 64h1m5 0h1m15 0h1m19 0h1M13 65h1m17 0h1m13 0h1m16 1h1M26 68h1m2 1h1M12 70h1m30 0h1m20 0h1M1 72h1m22 0h1m27 0h1m22 0h1M2 73h1m71 0h1M3 74h1m69 0h1m-9 1h1m6 0h1"/>
<path stroke="#717171" d="M10 2h1M31 2h1M45 2h1M66 2h1M27 3h1M49 3h1m2 1h1M13 5h1m8 0h1M63 5h1M76 5h1M20 6h1M56 6h1M2 10h1m71 0h1M20 11h1m35 0h1m7 1h1M5 13h1m20 0h1m38 0h1m5 0h1M24 14h1m27 0h1M33 15h1m9 0h1M3 16h1m17 0h1m33 0h1m17 0h1M6 20h1m4 0h1m53 0h1m4 0h1M16 21h1m43 0h1M5 22h1m22 0h1M4 24h1m9 0h1m19 0h1m7 0h1m29 0h1M3 27h1m33 1h1m1 0h1m24 0h1M2 31h1m27 1h1m39 0h1M15 33h1m45 0h1M24 34h1m27 0h1M28 37h1m19 0h1m-1 2h1M24 42h1m27 0h1M15 43h1m45 0h1M30 44h1m25 0h1M2 45h1m62 0h1M32 46h1M22 48h1m14 0h1m1 0h1m24 0h1M3 49h1m0 3h1m9 0h1m19 0h1m7 0h1m19 0h1m9 0h1M0 54h1m4 0h1m22 0h1m19 0h1M16 55h1M6 56h1m4 0h1m53 0h1m4 0h1M3 60h1m17 0h1m33 0h1M43 61h1M24 62h1m27 0h1M5 63h1m59 0h1m5 0h1m-8 1h1M20 65h1m35 0h1m6 0h1M2 66h1m17 4h1m12 0h1m22 0h1M13 71h1m8 0h1m40 0h1m12 0h1M16 73h1m10 0h1m21 0h1m10 0h1M10 74h1m20 0h1m13 0h1m20 0h1M4 75h1m0 1h1m65 0h1m5 0h1M25 77h1m25 0h1m24 0h1"/>
<path stroke="#737373" d="M5 0h1M22 0h1M54 0h1M71 0h1M57 1h1M9 3h1M0 5h1M54 5h1M32 6h1M44 6h1M28 7h1M48 7h1M17 8h1M59 8h1M3 9h1m28 2h1m11 0h1m5 2h1M16 14h1m43 0h1M15 15h1m45 0h1M14 16h1m47 0h1M8 17h1m59 0h1M24 19h1m27 0h1m22 0h1M46 21h1m29 0h1M0 22h1m47 0h1m22 0h1M19 24h1m37 0h1m4 0h1M13 26h1m49 0h1m9 1h1M7 28h1m14 0h1m15 0h1m15 0h1m14 0h1M21 30h1m10 0h1m11 0h1m29 1h1M6 32h1m4 0h1m34 0h1M28 38h1m15 0h1M6 44h1m39 0h1m23 0h1m3 1h1M21 46h1m22 0h1M7 48h1m30 0h1m15 0h1m14 0h1m3 1h1M13 50h1m49 0h1M19 52h1m37 0h1m9 1h1m3 1h1M30 55h1m15 0h1m13 0h1M24 57h1m27 0h1m22 0h1M8 59h1m11 0h1m47 0h1M14 60h1m47 0h1M15 61h1m17 0h1m27 0h1m15 0h1M16 62h1m43 0h1M26 63h1m23 0h1m-7 2h1m29 1h1M3 67h1m13 1h1m41 0h1M28 69h1m19 0h1M32 70h1m11 0h1M0 71h1m53 0h1m12 2h1M13 76h1m1 1h1m45 0h1"/>
<path stroke="#757575" d="M19 1h1M32 2h1M44 2h1M59 2h1m7 1h1M8 4h1m5 0h1M62 4h1M77 6h1M4 8h1M25 8h1M72 8h1M23 9h1M53 9h1M73 9h1M17 13h1m41 0h1m16 0h1M4 14h1m67 0h1m4 1h1M13 17h1m6 0h1m6 0h1m21 0h1m6 0h1m6 0h1m10 0h1M19 18h1M1 19h1m16 0h1m39 0h1M17 20h1m41 0h1M30 21h1m35 0h1M9 23h1m57 0h1m9 1h1M8 25h1m59 0h1M17 27h1m41 0h1m-5 3h1m14 1h1M2 32h1m35 0h1m22 0h1m3 0h1m8 0h1M32 38h1m15 0h1M2 44h1m8 0h1m26 0h1m26 0h1m8 0h1M31 45h1m19 0h1m18 0h1M55 46h1M17 49h1m41 0h1m8 2h1m8 1h1M9 53h1m66 2h1M17 56h1m41 0h1M1 57h1m16 0h1m0 1h1m-7 1h1m13 0h1m21 0h1m6 0h1m6 0h1m10 0h1M4 62h1m67 0h1M17 63h1m41 0h1m16 0h1M32 65h1M23 67h1m29 0h1m19 0h1M4 68h1m46 0h1m25 2h1M14 72h1m47 0h1M9 73h1m7 1h1m14 0h1m11 0h1m14 0h1M19 75h1m37 0h1M21 76h1m33 0h1m7 0h1M6 77h1m45 0h1m17 0h1"/>
<path stroke="#777777" d="M0 0h1M14 0h1m2 2h1M28 3h1M48 3h1M25 4h1M51 4h1M68 4h1M7 5h1M69 5h1M6 6h1M31 6h1M45 6h1M70 6h1M5 7h1m4 0h1m8 0h1M57 7h1m8 0h1m4 0h1M9 8h1M51 8h1M67 8h1M8 9h1m7 0h1M60 9h1m7 0h1M7 10h1m13 0h1m33 0h1m13 0h1M18 12h1m10 0h1m17 0h1m10 0h1M23 15h1m8 0h1m11 0h1M9 16h1m19 0h1m17 0h1m19 0h1M2 17h1m54 1h1m6 0h1M7 19h1m25 1h1m9 0h1M10 21h1M4 25h1m26 0h1m13 0h1m26 0h1M3 28h1m69 0h1M12 29h1m3 0h1m43 0h1M6 31h1m24 0h1m13 0h1m5 0h1M15 32h1M2 33h1m17 0h1m35 0h1M29 34h1m14 3h1m-1 2h1M29 42h1M20 43h1m-6 1h1m21 0h1m23 0h1M6 45h1m18 0h1m19 0h1M12 47h1m3 0h1m17 0h1m25 0h1M3 48h1m69 0h1M4 51h1m3 0h1m22 0h1m13 0h1m26 0h1M10 55h1m55 0h1M33 56h1m9 0h1M7 57h1m50 0h1m10 0h1M57 58h1m6 0h1M2 59h1m6 1h1m19 0h1m17 0h1m19 0h1M32 61h1m11 0h1M0 62h1m28 2h1m17 0h1m10 0h1m16 0h1M33 65h1M21 66h1m33 0h1m13 0h1M8 67h1m7 0h1m43 0h1m7 0h1M9 68h1m15 0h1m41 0h1m4 0h1M5 69h1m4 0h1m8 0h1m46 0h1m4 0h1M6 70h1m24 0h1m13 0h1m24 0h1M7 71h1m61 0h1M8 72h1m16 0h1m25 0h1m16 0h1M28 73h1m19 0h1M33 74h1m9 0h1M24 77h1"/>
<path stroke="#797979" d="M21 0h1M55 0h1m6 0h1M12 1h1M64 1h1M33 2h2m8 0h1M74 2h1M61 3h1M75 3h1M23 5h1M53 5h1M11 6h1m9 0h1M65 6h1M49 7h1M6 11h1m26 0h1m9 0h1m26 0h1M1 12h1m73 0h1M0 14h1m2 1h1m49 0h1m19 0h1M12 18h1m12 0h1m25 0h1m17 1h1M0 21h1m4 2h1m9 0h1m11 0h1m21 0h1m11 0h1M43 24h1M18 25h1m39 0h1M7 27h1m15 0h1m45 0h1M34 29h1m7 0h1m21 0h1M25 31h1m11 1h1m1 0h1M11 33h1m40 0h1m12 0h1m8 0h1M2 34h1m44 0h1M32 37h1m-1 2h1m14 3h1M2 43h1m8 0h1m40 0h1m3 0h1m8 0h1m8 0h1M39 44h1m2 3h1m21 0h1M49 48h1M23 49h1m29 0h1m15 0h1M18 51h1m39 0h1M5 53h1m9 0h1m11 0h1m21 0h1m11 0h1m9 0h1M0 55h1m5 0h1m5 3h1m12 0h1m25 0h1M3 61h1m19 0h1m29 0h1m12 0h1m6 0h1M1 64h1m16 0h1M6 65h1m36 0h1m26 0h1M7 66h1m41 3h1m7 0h1M11 70h1m9 0h1m33 0h1m9 0h1M23 71h1m29 0h1M15 73h1m45 0h1M34 74h1m39 0h1M12 75h1m51 0h1m8 0h1m3 0h1M1 77h1m73 0h1"/>
<path stroke="#7b7b7b" d="M76 0h1M3 1h1M73 1h1m3 0h1M2 2h1m8 0h1M35 2h1m5 0h2M65 2h1M1 3h1M15 3h1M29 3h1M76 4h1M12 5h1M38 5h1M64 5h1M46 6h1m8 0h1M27 7h1M15 10h1m45 0h1M2 11h1m11 0h1m4 0h1m14 0h1m7 0h1m14 0h1m4 0h1m11 0h1M5 12h1m65 0h1M27 13h1M11 14h1m13 0h1m12 0h1M10 15h1m55 0h1m10 1h1m-3 2h1M11 19h1m53 0h1m10 1h1M6 21h1m63 0h1m0 2h1m5 0h1M33 24h1M14 25h1m-2 2h1m14 0h1m19 0h1m4 0h1m9 0h1M27 28h1m21 0h1M3 29h1m2 1h1m63 0h1M24 33h1m49 1h1M2 35h1m2 2h1m65 0h1M5 38h1m8 0h1m47 0h1m8 0h1M5 39h1m56 0h1m8 0h1m-1 1h1M2 41h1M2 42h1m8 0h1m62 0h1M24 43h1M6 46h1m63 0h1M3 47h1m23 1h1M7 49h1m5 0h1m14 0h1m19 0h1M14 51h1m18 1h1m9 0h1m33 1h1m-8 2h1m5 1h1M11 57h1m53 0h1m11 3h1M10 61h1m14 1h1m12 0h1m26 0h1M27 63h1M5 64h1m65 0h1M2 65h1m11 0h1m4 0h1m42 0h1m11 0h1M15 66h1m45 0h1M27 69h1m2 1h1m15 0h1M12 71h1m24 0h1m26 0h1m11 1h1M1 73h1m27 0h1m17 0h1m27 0h1M2 74h1m8 0h1m23 0h1m5 0h2m22 0h1M3 75h1m14 0h1m39 0h1M0 76h1m3 0h1m15 0h1m35 0h1m15 0h1M16 77h1m6 0h1m29 0h1m6 0h1"/>
<path stroke="#7d7d7d" d="M4 0h1M72 0h1M18 1h1M58 1h1M36 2h2m1 0h2M60 2h1M47 3h1M0 4h1M26 4h1M50 4h1M35 5h3m1 0h2M77 5h1M30 6h1M18 8h1m5 0h1M52 8h1m5 0h1M22 9h1M54 9h1m18 1h1M13 12h1m16 0h1m32 0h1M4 13h1m7 0h1m36 0h1m14 0h1m7 0h1M37 14h1m1 0h2m10 0h1m13 0h1m10 0h1M31 15h1m13 0h1M2 16h1m19 0h1M1 18h1m6 0h1m59 0h1M22 20h1m11 0h1m7 0h1m11 0h1M21 21h1m33 0h1M9 22h1m46 0h1m10 0h1M26 24h1m41 0h1m-7 1h1M4 26h1m19 0h1m47 0h1M50 29h1m22 0h1M12 30h1m2 1h1m45 0h1M11 34h1m8 0h1m35 0h1m8 0h1M11 35h1m59 0h1m2 0h1M2 36h1m2 0h1m8 0h1m47 0h1m8 0h1m2 0h1M2 37h1m11 0h1m47 0h1M53 38h1M2 39h1m11 0h1M2 40h1m2 0h1m8 0h1m47 0h1m11 0h1M5 41h1m65 0h1m2 0h1M20 42h1m35 0h1m8 0h1M15 45h1m45 0h1M12 46h1m37 1h1m22 0h1M63 49h1M4 50h1m19 0h1m27 0h1m9 1h1M8 52h1m17 0h1m41 0h1M9 54h1m10 0h1m35 0h1m10 0h1M21 55h1m33 0h1M22 56h1m11 0h1m7 0h1m11 0h1M1 58h1m6 0h1m59 0h1m6 0h1M31 61h1m13 0h1M11 62h1m24 0h2m1 0h1m11 0h1m24 0h1M12 63h1m36 0h1m14 0h1M13 64h1m16 0h1m15 0h1m16 0h1M34 65h1m7 0h1m14 0h1M22 67h1m31 0h1M18 68h1m33 0h1m5 0h1M36 71h1m1 0h4M0 72h1m25 0h1m23 0h1M36 74h2m2 0h1M14 76h1m47 0h1m8 1h1"/>
<path stroke="#808080" d="M15 0h1m4 0h1M56 0h1m4 0h1M16 2h1M38 2h1M10 3h1M30 3h1M46 3h1M66 3h1M9 4h1m3 0h1M63 4h1m3 0h1M34 5h1m6 0h2m4 1h1m2 1h1M3 10h1m52 0h1M35 11h1m5 0h1m4 1h1M15 14h1m20 0h1m24 0h1M0 15h1m61 0h1M28 16h1m19 0h1m5 0h1m8 0h1m10 0h1M50 17h1m2 2h1M0 20h1m65 0h1M31 21h1m13 0h1M16 22h1m3 0h1m8 0h1m30 0h1M37 23h3M8 24h1m41 0h1M25 25h1m25 0h1M7 26h1m9 0h1m11 0h1m17 0h1m4 0h1m6 0h1m9 0h1M16 28h1m43 0h1M6 29h1m15 0h1m3 0h1m43 0h1M3 30h1m60 0h1M21 31h1M5 34h1m65 0h1M5 35h1m56 0h1m2 0h1M23 37h1m29 0h1m20 0h1M2 38h1m20 0h1m50 0h1M53 39h1m20 0h1M11 41h1m2 0h1m47 0h1m2 0h1M5 42h1m65 0h1M21 45h1m33 0h1M3 46h1m60 0h1M6 47h1m15 0h1m3 0h1m43 0h1M16 48h1m43 0h1M7 50h1m21 0h1m17 0h1m11 0h1m9 0h1m2 0h1M25 51h1m25 0h1m-2 1h1M37 53h3m17 0h1M16 54h1m12 0h1m30 0h1m16 0h1M31 55h1m13 0h1M0 56h1m52 1h1m-4 2h1M2 60h1m19 0h1m5 0h1m19 0h1m5 0h1m19 0h1M62 61h1M15 62h1m24 0h2m19 0h1M4 63h1m67 0h1M35 65h1m5 0h1M3 66h1m69 0h1m-2 1h1M24 68h1m1 1h1m23 0h1M29 70h1m17 0h1M34 71h2m41 0h1M9 72h1m3 0h1m49 0h1M10 73h1m19 0h1m35 0h1M16 74h1m21 0h2m20 0h1M13 75h1m62 1h1M5 77h1"/>
<path stroke="#828282" d="M75 0h1M13 1h1M63 1h1M75 2h1m1 0h1M14 3h1M62 3h1M27 4h1M49 4h1M8 5h1M24 5h1m8 0h1m9 0h1m8 0h1M68 5h1M7 6h1m2 0h1M22 6h1m6 0h1M69 6h1M6 7h1M9 7h1M20 7h1m5 0h1M56 7h1M67 7h1m2 0h1M5 8h1M8 8h1M68 8h1m2 0h1M4 9h1M7 9h1m9 0h1M59 9h1m9 0h1m2 0h1M20 10h1m15 1h5M1 13h1m14 0h1m43 0h1m14 0h1M3 14h1m31 0h1m5 0h1m31 0h1M14 15h1m-2 1h1M9 17h1m11 0h1m4 0h1m28 0h1m11 0h1m7 0h1m1 0h1M23 19h1M7 20h1m2 0h1m58 0h1M17 21h1M6 22h1m40 0h1m29 0h1M19 23h1m37 0h1M5 24h1m65 0h1M54 29h1m18 1h1M55 31h1M5 33h1m65 0h1M62 34h1M14 35h1m-4 1h1m53 0h1M11 37h1m53 0h1M11 38h1m-1 1h1m11 0h1M11 40h1m41 0h1m11 0h1M20 41h1m41 1h1M5 43h1m65 0h1m1 3h1M54 47h1M17 50h1M5 52h1m65 0h1M19 53h1M6 54h1m40 0h1M17 55h1m41 0h1M7 56h1m2 0h1m24 0h1m30 0h1m2 0h1M23 57h1m52 0h1M9 59h1m11 0h1m4 0h1m28 0h1m8 0h1m2 0h1m9 0h1M13 60h1m49 0h1M0 61h1m13 0h1M3 62h1m31 0h1m37 0h1M1 63h1m14 0h1m43 0h1m14 0h1M59 64h1M36 65h2m1 0h2M20 66h1m35 0h1M4 67h1m2 0h1m9 0h1m41 0h1m9 0h1M5 68h1m2 0h1m59 0h1m2 0h1M6 69h1m2 0h1m10 0h1m35 0h1m10 0h1M7 70h1m14 0h1m31 0h1M8 71h1m15 0h1m8 0h1m8 0h1m9 0h1m15 0h1M27 72h1m21 0h1m17 0h1M14 73h1m31 0h1m15 0h1m12 1h1M0 75h1m1 0h1m60 0h1M2 77h1m14 0h1m4 0h1m31 0h1m4 0h1m14 0h1"/>
<path stroke="#848484" d="M1 0h1M3 0h1M19 0h1M57 0h1M73 0h1M0 1h1M2 1h1M17 1h1M59 1h1M74 1h1M1 2h1M12 2h1M64 2h1M0 3h1M31 3h1M45 3h1M76 3h1m0 1h1M32 5h1M65 5h1M48 6h1m5 0h1M66 6h1M23 8h1M53 8h1M6 10h1m9 0h1m43 0h1m9 0h1M5 11h1m65 0h1M2 12h1m14 0h1m13 0h1m13 0h1m13 0h1m14 0h1M28 13h1m19 0h1M34 14h1m7 0h1M2 15h1m21 0h1m5 0h1m15 0h1m5 0h1M10 16h1m55 0h1M1 17h1m10 0h1m51 0h1M20 18h1m35 0h1m8 0h1m10 1h1M18 20h1m16 0h1m5 0h1m16 0h1m0 1h1m10 1h1M8 23h1m27 0h1m3 0h1m27 0h1M15 24h1m45 0h1M4 27h1m67 0h1M6 28h1m6 0h1m56 0h1M15 30h1m45 0h1M3 31h1m8 0h1m51 0h1m8 0h1M36 32h1m3 0h1m30 0h1M14 34h1m5 1h1m35 0h1M23 36h1m20 0h1m8 0h1m11 2h1m-1 1h1M23 40h1m8 0h1m11 0h1m11 1h1M14 42h1M5 44h1m34 0h1m30 0h1M3 45h1m8 0h1m51 0h1m8 0h1M15 46h1m45 0h1M6 48h1m6 0h1m49 0h1m6 0h1M4 49h1m67 0h1M15 52h1m42 0h1m2 0h1M8 53h1m27 0h1m3 0h1m29 1h1m6 1h1M18 56h1m22 0h1m16 0h1M19 57h1m0 1h1m31 0h1m3 0h1M1 59h1m10 0h1m62 0h1M10 60h1M2 61h1m21 0h1m5 0h1m15 0h1m5 0h1m23 0h1M34 62h1m7 0h1M28 63h1m19 0h1M2 64h1m14 0h1m13 0h1m13 0h1m28 0h1M5 65h1m32 0h1m32 0h1M6 66h1m63 0h1M23 68h1m46 1h1M10 70h1m55 0h1m2 0h1M32 71h1m10 0h1m21 0h1m11 1h1M0 73h1m30 0h1m13 0h1m30 0h1M1 74h1m10 0h1m51 0h1m12 0h1M17 75h1m41 0h1m14 0h1M3 76h1m15 0h1m37 0h1m15 0h1M21 77h1m33 0h1m16 0h1"/>
<path stroke="#868686" d="M2 0h1M16 0h1M60 0h1M74 0h1m0 1h2M0 2h1M15 2h1M61 2h1M11 3h1M32 3h1M44 3h1M65 3h1M77 3h1M10 4h1m1 0h1M48 4h1M64 4h1M11 5h1M25 5h1M44 5h1m6 0h1M28 6h1M25 7h1M51 7h1M19 8h1M57 8h1M21 9h1M55 9h1M3 11h1m11 0h1m2 0h1m39 0h1m2 0h1m11 0h1M4 12h1m67 0h1m0 1h1M26 14h1m16 0h1m6 0h1m24 0h1M11 15h1m53 0h1m8 0h1m1 0h1M0 16h1m74 0h1M11 18h1m12 0h1m27 0h1m24 0h1M0 19h1m7 0h1m10 0h1m37 0h1m10 0h1M40 20h1M9 21h1m57 0h1m9 0h1M18 24h1m13 0h1m11 0h1m13 0h1M5 25h1m1 0h1m38 0h1m22 0h1M14 26h1m47 0h1M4 28h1m58 0h1M35 29h1m5 0h1m9 1h1M3 32h1m1 0h1m18 0h1m27 0h1m20 0h1M14 33h1m47 0h1M29 35h1M20 36h1m11 0h1m-4 5h1m32 2h1M3 44h1m20 0h1m11 0h1m15 0h1m20 0h1m-3 1h1M51 46h1M35 47h1M4 48h1m9 2h1m47 0h1M5 51h1m1 0h1m38 0h1m22 0h1M18 52h1m13 0h1m11 0h1m23 1h1M9 55h1m57 0h1M36 56h1m3 0h1m36 0h1M0 57h1m7 0h1m48 0h1m10 0h1M11 58h1m12 0h1m40 0h1m11 0h1M0 60h1m65 0h1m-2 1h1m8 0h1M26 62h1m23 0h1M4 64h1m9 0h1m57 0h1M3 65h1m11 0h1m2 0h1m39 0h1m2 0h1m11 0h1M4 66h1m11 0h1m43 0h1m11 0h1M21 67h1m33 0h1M19 68h1m33 0h1m3 0h1M25 69h1m25 0h1M28 70h1m19 0h1M11 71h1m13 0h1m18 0h1M12 72h1m15 0h1m35 0h1m1 0h1M11 73h1m20 0h1m11 0h1m20 0h1m11 0h1M0 74h1m14 0h1m45 0h1M14 75h1m47 0h1m12 0h2M1 76h1m13 0h1m45 0h1m13 0h1M3 77h2m13 0h1m39 0h1m14 0h1"/>
<path stroke="#888888" d="M17 0h2M58 0h2M1 1h1M14 1h1m1 0h1M60 1h1m1 0h1M13 2h2M62 2h2M76 2h1M12 3h2M33 3h2m7 0h2M63 3h1M11 4h1M28 4h1M66 4h1M9 5h1M31 5h1M45 5h1M67 5h1M8 6h2M23 6h1M49 6h1m3 0h1M67 6h2M7 7h2M21 7h1M55 7h1M68 7h2M6 8h2M69 8h2M5 9h2M18 9h1M58 9h1M70 9h2M4 10h2m51 0h1m13 0h2M4 11h1m67 0h1M14 12h1m17 0h1m11 0h1m17 0h1M2 13h2m9 0h1m49 0h1m10 0h1M1 14h2m9 0h1m20 0h1m28 0h1m1 0h1m9 0h1m0 1h1M1 16h1m25 0h1m21 0h1m3 0h1m22 0h1M0 17h1M0 18h1m75 0h1M10 19h1m55 0h1m10 0h1M36 20h2m39 0h1M7 21h1m24 0h1m11 0h1m24 0h1M6 23h1m28 0h1m5 0h1m28 0h1M30 25h1m40 0h1M6 27h1m9 0h1m43 0h1m9 0h1M23 28h1m48 0h1M25 30h1m7 0h1m9 0h1M5 31h1m65 0h1M12 32h1m8 0h1M3 33h1m26 0h1m42 0h1M23 35h1m23 0h1m5 0h1m2 1h1M20 37h1m-1 2h1m-1 1h1m35 0h1M23 41h1m23 0h1m5 0h1M43 42h1M3 43h1m10 0h1m15 0h1m42 0h1M12 44h1m8 0h1m42 0h1M5 45h1m19 1h1m7 0h1m9 0h1m27 0h1M4 47h1m36 0h1M23 48h1m48 0h1M6 49h1m9 0h1m43 0h1m9 0h1M30 51h1m28 0h1m11 0h1M6 53h1m9 0h1m11 0h1m6 0h1m5 0h1m18 0h1m9 0h1M7 55h1m24 0h1m11 0h1m24 0h1M37 56h2M10 57h1m55 0h1m10 0h1M0 58h1m8 0h1m66 0h1M0 59h1m0 1h1m25 0h1m21 0h1m3 0h1m21 0h2M11 61h1m63 0h1M1 62h2m9 0h1m20 0h1m9 0h1m20 0h1m10 0h1M2 63h2m9 0h1m49 0h1m9 0h2M3 64h1m28 0h1m11 0h1m17 0h1m9 1h1M19 66h1m37 0h1M5 67h2m51 0h1m11 0h2M6 68h2m61 0h2M7 69h2m12 0h1m33 0h1m12 0h2M8 70h2m13 0h1m3 0h1m21 0h1m3 0h1m13 0h2M9 71h2m20 0h1m13 0h1m5 0h1m14 0h2M10 72h2m36 0h1M13 73h1m19 0h1m9 0h1m19 0h1M13 74h1m48 0h2m12 0h1M1 75h1m13 0h2m43 0h2M2 76h1m13 0h1m1 0h1m39 0h1m15 0h1M19 77h2m35 0h2"/>
<path stroke="#8a8a8a" d="M15 1h1M61 1h1M35 3h7M64 3h1M29 4h1m6 0h6m5 0h1M65 4h1M10 5h1M26 5h1m3 0h1M46 5h2m2 0h1M66 5h1M24 6h1m1 0h2M24 7h1M52 7h1M20 8h1m1 0h1M54 8h1m1 1h1M17 10h1m1 0h1m39 0h1M17 11h1M3 12h1m12 0h1m16 0h1m26 0h1m12 0h1M15 13h1m13 0h1m17 0h1m13 0h1M14 14h1m17 0h1m11 0h1M1 15h1m11 0h1m15 0h1m17 0h1m15 0h1M12 16h1m10 0h1m40 0h1M10 17h1m14 0h1m25 0h1m13 0h1m10 0h1M9 18h1m57 0h1M8 20h2m11 0h1m16 0h2m15 0h1m12 0h1M20 21h1m35 0h1M8 22h1m48 0h1m10 0h1M16 23h1m11 0h1m19 0h1m11 0h1M7 24h1m61 0h1M17 25h1m41 0h1M5 26h1m64 0h2M53 28h1M4 29h1m8 0h1m1 0h1m45 0h1m1 0h1m7 0h2M5 30h1m65 0h1M14 32h1m40 0h1m6 0h1m1 0h1M34 33h1m7 0h1m3 0h1M3 34h1m29 0h1m9 0h1m28 0h2M3 35h2m68 0h1M3 36h2m67 0h2M3 37h2m51 0h1m15 0h2M4 38h1m15 0h1m35 0h1m15 0h2M3 39h2m51 0h1m15 0h1M3 40h2m67 0h2M3 41h2m67 0h2M3 42h2m28 0h1m39 0h1M12 43h1m21 0h1m7 0h1m3 0h1m17 0h1M14 44h1m40 0h1m6 0h1M5 46h1m7 1h1m1 0h1m45 0h1m1 0h1m7 0h2M53 48h1M5 50h2m63 0h2M17 51h1M6 52h2m61 0h1M48 53h1M8 54h1m59 0h1M20 55h1m35 0h1M8 56h2m29 0h1m15 0h1m12 0h1m-2 2h1M10 59h2m13 0h1m25 0h1m13 0h2m9 0h1M12 60h1m10 0h1m40 0h1M1 61h1m11 0h1m15 0h1m17 0h1m15 0h1M14 62h1m17 0h1m11 0h1m17 0h1m11 0h1M15 63h1m13 0h1m17 0h1m13 0h1M16 64h1m16 0h1m26 0h1m12 0h1M4 65h1m0 1h1m11 0h1m41 0h1m11 0h1M18 67h1m37 0h1M22 68h1m31 0h1M24 69h1m27 0h1m-1 1h1M26 71h1m2 0h2m15 0h1m3 0h1M29 72h2m4 0h6m6 0h1m17 0h1M12 73h1m21 0h9m21 0h1M14 74h1m2 2h1m41 0h2"/>
<path stroke="#8c8c8c" d="M30 4h6m6 0h5M27 5h3M48 5h2M25 6h1M50 6h3M22 7h2M53 7h2M21 8h1M55 8h2M19 9h2M57 9h1M18 10h1m39 0h1M16 11h1m42 0h2M15 12h1m18 0h1m7 0h2m17 0h1M14 13h1m47 0h1M13 14h1m13 0h1m21 0h1m13 0h1M12 15h1m12 0h1m25 0h1m12 0h1M11 16h1m53 0h1M11 17h1m10 0h1m31 0h1m11 0h1M10 18h1m55 0h1M9 19h1m12 0h1m31 0h1m12 0h1m-1 1h1M8 21h1m59 0h1M7 22h1m9 0h1m1 0h1m10 0h1m15 0h1m12 0h1m9 0h1M7 23h1m50 0h1m10 0h1M6 24h1m63 0h1M6 25h1m8 0h1m45 0h1m8 0h1M6 26h1M5 27h1m8 0h1m47 0h1m8 0h1M5 28h1m65 0h1M5 29h1M4 30h1m17 0h1m31 0h1m17 0h1M4 31h1m57 0h1m9 0h1M4 32h1m67 0h1M4 33h1m7 0h1m51 0h1m7 0h1M4 34h1m67 1h1M3 38h1m59 0h1m-1 1h1m9 0h1M53 42h1m18 0h1M4 43h1m67 0h1M4 44h1m67 0h1M4 45h1m9 0h1m47 0h1m9 0h1M4 46h1m17 0h1m31 0h1m17 0h1M5 47h1M5 48h1m65 0h1M5 49h1m8 0h1m47 0h1m8 0h1M6 51h1m8 0h1m45 0h1m8 0h1m-1 1h1M7 53h1m61 0h1M7 54h1m9 0h1m1 0h1m10 0h1m15 0h1m10 0h1m1 0h1m9 0h1M8 55h1m59 0h1M21 56h1m45 0h1M9 57h1m12 0h1m31 0h1m12 0h1M10 58h1m42 0h1m12 0h1M22 59h1m31 0h1M11 60h1m53 0h1M12 61h1m12 0h1m25 0h1m12 0h1M13 62h1m13 0h1m21 0h1m13 0h1M14 63h1m47 0h1M15 64h1m18 0h1m8 0h1m17 0h1M16 65h2m41 0h2M18 66h1m39 0h1M19 67h2m36 0h1M20 68h2m33 0h2M22 69h2m29 0h2M24 70h3m23 0h2M27 71h2m18 0h3M31 72h4m6 0h6"/>
<path stroke="#8e8e8e" d="M35 12h2m3 0h2M30 13h1m4 0h6m5 0h1M31 14h1m13 0h1m2 0h1M28 15h1m19 0h1M24 16h1m1 0h1m23 0h1M24 17h1m-4 1h1m1 0h1m29 0h1m1 0h1M20 19h1m35 0h1M19 20h1m37 0h1M18 21h1m39 0h1M18 23h1m15 0h1m7 0h1M27 24h1m21 0h1m9 0h2M16 26h1m31 0h1m11 0h1M24 27h1m2 0h1m21 0h1m2 0h1M15 28h1m34 0h1m10 0h1M13 30h1m49 0h1M14 31h1m16 1h1M12 34h1m10 0h1m29 0h1m10 0h1M12 35h1m50 0h2M13 36h1m49 0h1M13 37h1m49 0h1M13 38h1m-1 1h1m-2 1h2m49 0h1M12 41h1m50 0h2M12 42h1m10 0h1m40 0h1M13 46h1m49 0h1M14 48h2m45 0h1M24 49h1m2 0h1m21 0h1m2 0h1M16 50h1m43 0h1M16 52h1m10 0h1m21 0h1m10 0h1M18 53h1m15 0h1m7 0h1m15 0h1M18 55h1m39 0h1M19 56h1m37 0h1M20 57h1m35 0h1M21 58h1m1 0h1m31 0h1M24 60h1m1 0h1m23 0h1m1 0h1M28 61h1m19 0h1M31 62h1m13 0h1M30 63h1m5 0h5m5 0h1M35 64h2m3 0h3"/>
<path stroke="#909090" d="M37 12h3m-9 1h1m1 0h2m6 0h5M28 14h3m15 0h2M26 15h2m21 0h2M25 16h1m25 0h2M23 17h1m28 0h2M22 18h1m31 0h1M21 19h1m33 0h1M20 20h1m35 0h1M19 21h1m13 0h1m9 0h1m13 0h1M17 23h1m41 0h1M16 24h2m13 0h1m13 0h1M16 25h1m9 0h1m23 0h1m9 0h1M15 26h1m9 0h1m2 0h1m22 0h1m9 0h1M15 27h1m45 0h1M14 28h1m11 0h1m35 0h1M14 29h1m21 0h1m3 0h1m21 0h1M14 30h1m47 0h1M13 31h1m10 0h1m7 0h1m11 0h1m7 0h1m10 0h1M13 32h1m31 0h1m17 0h1M13 33h1m7 0h1m33 0h1m7 0h1M13 34h1m49 0h1M13 35h1m-2 1h1m16 0h1m17 0h1m16 0h1M12 37h1m51 0h1M12 38h1m51 0h1M12 39h1m51 0h1M29 40h1m17 0h1m16 0h1M13 41h1m-1 1h1m49 0h1M13 43h1m7 0h1m33 0h1m7 0h1M13 44h1m17 0h1m13 0h1m17 0h1M13 45h1m10 0h1m7 0h1m11 0h1m7 0h1m10 0h1M14 46h1m47 0h1M14 47h1m21 0h1m3 0h1M26 48h1m23 0h1m11 0h1M15 49h1m45 0h1M15 50h1m9 0h1m2 0h1m19 0h1m2 0h1m9 0h1M26 51h1m23 0h1m9 0h1M17 52h1m13 0h1m13 0h1m13 0h1M17 53h1m41 0h1M18 54h1m39 0h1M19 55h1m13 0h1m9 0h1m13 0h1M20 56h1m35 0h1M21 57h1m33 0h1M22 58h1m0 1h2m27 0h2M25 60h1m25 0h1M26 61h2m21 0h2M28 62h3m15 0h1m1 0h1M31 63h5m5 0h5m-9 1h3"/>
<path stroke="#939393" d="M32 13h1M18 22h1m39 0h1M29 23h1m13 0h1m7 6h1m-8 6h1m-1 6h1m8 2h1m-3 4h1m10 0h1M16 51h1m30 0h1M29 53h1m24 5h1m-8 4h1"/>
<path stroke="#959595" d="M34 21h1m7 0h1M31 22h1m13 0h1M33 23h1m13 0h1M29 25h1m17 0h1M23 29h1m1 0h1m11 0h1m1 0h1m13 0h1M22 31h1m31 0h1M35 32h1m5 0h1M23 33h1m29 0h1M21 34h1m33 0h1M32 35h1m-4 2h1m-1 2h1m2 2h1M21 42h1m33 0h1M23 43h1m11 1h1m5 0h1M22 45h1m31 0h1M23 47h1m1 0h1m11 0h1m1 0h1m13 0h1M29 51h1m3 2h1m9 0h1m3 0h1M31 54h1m13 0h1M34 55h1m7 0h1"/>
<path stroke="#979797" d="M35 21h1m5 0h1m-5 1h3M28 24h1m9 5h1M21 35h1m0 2h1m24 0h1m6 0h1M22 38h1m6 0h1m17 0h1m6 0h1M22 39h1m24 0h1m6 0h1m-1 1h1M21 41h1m16 6h1m7 5h1M37 54h2m-4 1h1m5 0h1"/>
<path stroke="#999999" d="M36 21h1m1 0h1m1 0h1m-9 1h1m3 0h1m3 0h2m2 0h1M32 23h1m11 0h1M30 24h1m15 0h1m1 0h1M27 25h1m-1 1h1m21 0h1M26 27h1m23 0h1M24 28h1m27 0h1M24 30h1m9 0h1m7 0h1m9 0h1M22 32h2m29 0h1M30 34h1m15 0h1m8 1h1M21 36h2m31 0h2M21 37h1m33 0h1m-1 2h1M21 40h2m32 0h1m-1 1h1M30 42h1m15 0h1M22 44h2m29 0h2M24 46h1m9 0h1m7 0h1m9 0h1M24 48h1m27 0h1M25 49h1m24 0h1M26 50h1m22 0h1M27 51h1m21 0h1M28 52h1m1 0h1m17 0h1M30 53h1m1 0h1m11 0h1M32 54h1m3 0h1m2 0h2m3 0h1m-9 1h5"/>
<path stroke="#9b9b9b" d="M37 21h1m1 0h1m-7 1h3m6 0h2M30 23h2m13 0h2M29 24h1m17 0h1M28 25h1m19 0h2M26 26h1m23 0h1M25 27h1m25 0h1M25 28h1m25 0h1M24 29h1m27 0h1M23 30h1m29 0h1M23 31h1m29 0h1m0 1h1M22 33h1m31 0h1M22 34h1m31 0h1M22 35h1m31 0h1M21 38h1m33 0h1M21 39h1m0 2h1m31 0h1M22 42h1m31 0h1M22 43h1m31 0h1M23 45h1m29 0h1M23 46h1m29 0h1M24 47h1m27 0h1M25 48h1m25 0h1M26 49h1m24 0h1M27 50h1m22 0h1M28 51h1m19 0h1M29 52h1m17 0h1M31 53h1m13 0h2M33 54h3m5 0h3"/>
<path stroke="#9d9d9d" d="M38 31h1m4 2h1m1 4h1M31 38h1m13 0h1m-1 1h1M33 43h1m9 0h1m-6 2h1"/>
<path stroke="#9f9f9f" d="M37 31h1m1 0h1m2 1h1M33 33h1m-3 4h1m-1 2h1m12 3h1m-8 3h1m1 0h1"/>
<path stroke="#a2a2a2" d="M35 30h1m-3 1h1m2 0h1m6 0h1M34 32h1m-4 1h1m13 0h1M32 34h1m11 0h1M30 35h1m15 0h1M31 36h1m13 0h1m-1 4h1M30 41h1m1 1h1m-2 1h1m13 0h1M34 44h1m7 0h1M33 45h1m9 0h1m-9 1h1m5 0h1"/>
<path stroke="#a4a4a4" d="M41 30h1m-2 1h1m-9 1h1m11 0h1M31 40h1m14 1h1M32 44h1m11 0h1m-9 1h1m3 0h1"/>
<path stroke="#a6a6a6" d="M36 30h1m2 0h2m-6 1h1m5 0h1m1 1h1M31 35h1m13 0h1M30 36h1m15 0h1m-1 3h1M30 40h1m15 0h1M31 41h1m13 0h1M35 45h1m5 0h1m-6 1h1m3 0h1"/>
<path stroke="#a8a8a8" d="M37 30h2m-5 1h1m7 0h1M33 32h1m-2 1h1m11 0h1M31 34h1m13 0h1M30 37h1m15 0h1M30 38h1m15 0h1M30 39h1m0 3h1m13 0h1M32 43h1m11 0h1M33 44h1m9 0h1M34 45h1m7 0h1m-6 1h3"/>
<path stroke="#bfbfbf" d="M36 37h5m-5 2h5"/>
<path stroke="#c4c4c4" d="M37 36h2m-2 4h2"/>
<path stroke="#d2d2d2" d="M39 36h1m-1 4h1"/>
</g>
<path fill="#eeeeee" fill-rule="evenodd" d="M315.5 264.8 311.5 265.1 308.5 264.9 307.5 264.7 304.8 263.5 302.5 261.9 300.5 259.8 298.3 255.5 298 251.5 298.2 248.5 299.5 244.8 301.1 242.5 303.2 240.5 307.5 238.3 311.5 237.9 315.5 238.2 318.5 239.5 320 240.5 322.5 243 323.5 244.5 324.8 247.5 325.2 252.5 324.8 255.5 323.5 258.5 322.5 260 320 262.5Z"/>
<path fill="#111111" fill-rule="evenodd" d="M314.5 271.5 310.5 271.7 306.5 271 302.3 269.5 299.2 267.5 296.5 265 294.5 262.4 292.5 258.3 291.5 254.1 291.4 249.5 292.3 245.5 293.5 242.4 295.5 239.2 298 236.5 300.6 234.5 304.6 232.5 308.4 231.5 311.5 231.3 314.8 231.5 318.6 232.5 322.6 234.5 326.2 237.5 328.5 240.3 330.5 244.2 331.5 247.6 331.8 251.5 331.5 255.4 330.5 258.8 328.5 262.7 326.2 265.5 322.6 268.5 318.6 270.5ZM315.6 267.5 319.5 266 321.5 264.7 323.9 262.5 326.1 259.5 327 257.5 327.9 254.5 328.2 251.5 327.9 248.5 327 245.5 326.1 243.5 323.9 240.5 321.5 238.3 317.5 236 314.5 235.2 311.5 234.9 308.5 235.3 305.5 236.1 302.5 237.7 300.2 239.5 297.7 242.5 296.2 245.5 295.3 248.5 295 251.5 295.3 254.5 296.2 257.5 297.7 260.5 300.2 263.5 302.5 265.3 305.5 266.9 309.5 267.9 312.5 268Z"/>
</g></g>
<path d="M137.36 429.4v-3.3M137.36 74.1v3.3M151.88 429.4v-3.3M151.88 74.1v3.3M166.4 429.4v-5.5M166.4 74.1v5.5M180.92 429.4v-3.3M180.92 74.1v3.3M195.44 429.4v-3.3M195.44 74.1v3.3M209.96 429.4v-3.3M209.96 74.1v3.3M224.48 429.4v-3.3M224.48 74.1v3.3M239 429.4v-5.5M239 74.1v5.5M253.52 429.4v-3.3M253.52 74.1v3.3M268.04 429.4v-3.3M268.04 74.1v3.3M282.56 429.4v-3.3M282.56 74.1v3.3M297.08 429.4v-3.3M297.08 74.1v3.3M311.6 429.4v-5.5M311.6 74.1v5.5M326.12 429.4v-3.3M326.12 74.1v3.3M340.64 429.4v-3.3M340.64 74.1v3.3M355.16 429.4v-3.3M355.16 74.1v3.3M369.68 429.4v-3.3M369.68 74.1v3.3M384.2 429.4v-5.5M384.2 74.1v5.5M398.72 429.4v-3.3M398.72 74.1v3.3M413.24 429.4v-3.3M413.24 74.1v3.3M427.76 429.4v-3.3M427.76 74.1v3.3M442.28 429.4v-3.3M442.28 74.1v3.3M456.8 429.4v-5.5M456.8 74.1v5.5M471.32 429.4v-3.3M471.32 74.1v3.3M485.84 429.4v-3.3M485.84 74.1v3.3M134 425.57h3.3M489.8 425.57h-3.3M134 411.07h3.3M489.8 411.07h-3.3M134 396.56h5.5M489.8 396.56h-5.5M134 382.05h3.3M489.8 382.05h-3.3M134 367.55h3.3M489.8 367.55h-3.3M134 353.04h3.3M489.8 353.04h-3.3M134 338.54h3.3M489.8 338.54h-3.3M134 324.03h5.5M489.8 324.03h-5.5M134 309.52h3.3M489.8 309.52h-3.3M134 295.02h3.3M489.8 295.02h-3.3M134 280.51h3.3M489.8 280.51h-3.3M134 266.01h3.3M489.8 266.01h-3.3M134 251.5h5.5M489.8 251.5h-5.5M134 236.99h3.3M489.8 236.99h-3.3M134 222.49h3.3M489.8 222.49h-3.3M134 207.98h3.3M489.8 207.98h-3.3M134 193.48h3.3M489.8 193.48h-3.3M134 178.97h5.5M489.8 178.97h-5.5M134 164.46h3.3M489.8 164.46h-3.3M134 149.96h3.3M489.8 149.96h-3.3M134 135.45h3.3M489.8 135.45h-3.3M134 120.95h3.3M489.8 120.95h-3.3M134 106.44h5.5M489.8 106.44h-5.5M134 91.93h3.3M489.8 91.93h-3.3M134 77.43h3.3M489.8 77.43h-3.3" stroke="#222" stroke-opacity="0.6" stroke-width="0.8" fill="none"/><rect x="134" y="74.1" width="355.8" height="355.3" fill="none" stroke="#555" stroke-opacity="0.75" stroke-width="1"/><circle cx="311.6" cy="251.5" r="4.5" fill="#fff"/>
<g font-size="27.2">
<text x="166.4" y="461.7" text-anchor="middle">−200</text>
<text x="239" y="461.7" text-anchor="middle">−100</text>
<text x="311.6" y="461.7" text-anchor="middle">0</text>
<text x="384.2" y="461.7" text-anchor="middle">100</text>
<text x="456.8" y="461.7" text-anchor="middle">200</text>
<text x="128" y="405.94" text-anchor="end">−200</text>
<text x="128" y="333.41" text-anchor="end">−100</text>
<text x="128" y="260.88" text-anchor="end">0</text>
<text x="128" y="188.35" text-anchor="end">100</text>
<text x="128" y="115.82" text-anchor="end">200</text>
</g>
<text class="ax" x="304.7" y="497.5" text-anchor="middle"><tspan class="it">x</tspan> [nm]</text>
<text class="ax" transform="translate(64.8 252.6) rotate(-90)" text-anchor="middle"><tspan class="it">y</tspan> [nm]</text>
<clipPath id="ca2"><rect x="629.4" y="74.1" width="433.2" height="353.5"/></clipPath>
<g clip-path="url(#ca2)"><g filter="url(#hm)"><g transform="translate(614 61.5) scale(5)" stroke-width="1.04" fill="none">
<path stroke="#2d2d2d" d="M38 36h1"/>
<path stroke="#2f2f2f" d="M36 40h3m-2 1h1"/>
<path stroke="#313131" d="M38 26h2M36 36h2M37 49h1"/>
<path stroke="#333333" d="M40 26h3m-8 9h4M38 49h1m4 0h1"/>
<path stroke="#353535" d="M36 27h1m7 0h2m0 1h1m0 1h1m1 2h1m0 2h1M36 34h1m14 2h1M39 37h1m11 0h1M39 38h1m-4 1h3m12 0h1M35 41h2m14 0h1m-2 1h1m-1 1h1m-2 2h1m-2 1h1m-2 1h1m-3 1h2m-5 1h1m1 0h1m-6 1h2"/>
<path stroke="#373737" d="M43 26h1m-7 1h1m5 0h1m3 1h1m0 1h1m-1 1h2m-1 2h2M37 34h1m12 0h2m-1 1h1M36 37h3m-3 1h3m12 0h1M39 39h1m11 1h1m-1 2h1m-3 2h2m-5 3h1m-8 2h1m1 0h1m-1 1h1"/>
<path stroke="#393939" d="M37 26h1m7 2h1m4 3h1m0 2h1m-2 2h1M38 41h1m11 0h1m-3 4h1m-2 1h1m0 1h1M36 49h1m3 0h1m4 0h1m-4 1h1"/>
<path stroke="#3c3c3c" d="M44 26h1m-3 1h1m3 0h1m1 4h1M39 36h1m10 0h1m1 1h1m-1 1h1m-1 1h1M35 40h1m14 0h1m-2 3h1m1 0h1m-3 3h1m-6 2h1m2 0h1M38 50h1"/>
<path stroke="#3e3e3e" d="M38 27h1m7 2h1m0 1h1m1 3h1m2 3h1m-3 1h1m-1 1h1m-1 1h1m1 1h1m-3 5h1M35 48h1m7 2h1"/>
<path stroke="#404040" d="M41 27h1m9 5h1m0 3h1M36 42h1m11 2h1"/>
<path stroke="#424242" d="M35 27h1m3 0h2m3 1h1m3 0h1m0 1h1M35 34h1m3 6h1m12 1h1M37 42h1m11 0h1m-5 5h1M36 48h1m6 0h1m2 1h1"/>
<path stroke="#444444" d="M45 26h1M34 28h1m15 2h1m-2 4h1m1 10h1m-5 1h1m-4 5h1"/>
<path stroke="#464646" d="M47 27h1M35 28h1m12 4h1m3 2h1m-1 8h1m-7 4h1m2 1h1"/>
<path stroke="#484848" d="M40 25h2m-4 9h1m10 7h1m0 5h1m-3 2h1"/>
<path stroke="#4a4a4a" d="M42 25h1m2 4h1m1 2h1m3 0h1m-3 4h1M35 36h1M34 48h1m2 0h1m4 0h1"/>
<path stroke="#4c4c4c" d="M39 25h1m3 3h1m2 2h1m5 3h1M39 35h1m9 5h1m-2 3h1M34 47h1m2 3h1"/>
<path stroke="#4f4f4f" d="M49 36h1m3 1h1m-1 1h1m-2 5h1m-9 4h1m2 2h1m-3 1h1"/>
<path stroke="#515151" d="M43 17h7M40 18h3m8 0h3m2 2h1m2 2h1m1 2h1M43 25h1m-8 1h1m9 0h1m15 0h1m0 1h1M36 28h1m-4 1h1m14 4h1m4 3h1m12 2h1M49 39h1m3 0h1M35 42h1m15 3h1M33 47h1m7 1h1m21 0h1m-8 8h1m-4 1h2M41 58h4m5 0h3m-7 1h1"/>
<path stroke="#535353" d="M42 17h1m7 0h2m-2 1h1m2 1h4m-2 1h1m1 0h1m-1 1h2m-1 1h1m0 1h2m-1 1h1m0 1h2m0 1h1M49 28h1m13 0h2M50 29h1m13 0h1m-1 1h2m-2 1h2m-1 1h1m-1 1h1m-1 1h2m-2 1h2m-1 1h1M49 37h1m15 0h2M40 38h1m8 0h1m15 0h1m0 1h1M53 40h1m11 0h2m-2 1h2m-2 1h1m-1 1h1M47 44h1m17 0h1m-2 1h2m-2 1h1m-1 1h1M38 48h1m25 0h1M35 49h1m26 0h2m-2 1h1m-2 1h2m-3 1h2m-3 1h2m-3 1h2m-4 1h3m-4 1h1m1 0h1M39 57h2m14 0h1M45 58h5m-6 1h2m1 0h3"/>
<path stroke="#555555" d="M43 18h1m5 0h1m4 0h1M39 19h1m18 1h1m0 1h1m0 1h1m0 1h1m0 1h1m-1 3h1m1 0h1M42 28h1m20 1h1m1 0h1M52 32h1m11 0h1m1 0h1m-1 1h1M53 35h1m11 1h1M40 37h1m24 2h1M39 41h1m8 1h1m17 0h1m-1 1h1m-3 1h1M45 46h1m19 0h1m-3 1h1m-3 3h1m1 0h1m-4 1h1m-7 5h1m-3 1h1M40 58h1m12 0h1M43 59h1m6 0h1"/>
<path stroke="#575757" d="M46 8h5m1 0h1m1 0h1M43 9h2m7 8h1M39 18h1m4 0h2m1 0h2m6 0h1M38 19h1m13 0h1m1 1h1m1 1h1M44 25h1m15 0h1m2 0h1m-3 1h1M48 27h1m-5 2h1m18 1h1m0 3h1m2 4h1m-1 1h1M40 39h1m26 0h1M53 41h1M38 42h1m25 0h1m-1 1h1m1 1h1M46 45h1m16 1h1m1 1h1M39 48h2m21 0h1m1 1h1m-6 3h1m2 0h1m-5 1h1m2 0h1m-5 1h1m2 0h1m-6 1h1m3 0h1M41 57h1m9 0h1m4 0h1m-3 1h1m-4 1h1m11 6h1M44 67h3m11 0h1m-9 1h1m1 0h2"/>
<path stroke="#595959" d="M45 8h1m5 0h1m1 0h1m1 0h3M45 9h1M58 9h3m0 1h3m-1 1h3m-1 1h2m0 1h2m-1 1h2m-1 1h2M46 16h3m21 0h2M41 17h1m29 0h2M46 18h1m25 0h2M40 19h1m16 0h1m15 0h1m0 1h1m-1 1h2M57 22h1m17 0h1M58 23h1m17 0h1M59 24h1m16 0h1m0 1h1M64 26h1m12 0h1m-1 1h2M62 28h1m2 0h1m12 0h1M34 29h1m43 0h1M51 30h1m26 0h2M63 31h1m2 0h1m12 0h1M47 32h1m31 0h1M36 33h1m42 0h1M48 34h1m15 0h1m2 0h1m11 0h1M64 35h1m2 0h1m11 0h1M67 36h1m11 0h2m-2 1h2m-2 1h2m-2 1h1M67 40h1m11 0h2M64 41h1m2 0h1m11 0h1m-1 1h1m-1 1h1M52 44h1m26 0h1M63 45h1m2 0h1m11 0h2M33 46h1m44 0h2M35 47h1m26 0h1m15 0h1m-2 1h2M61 49h1m15 0h1m-1 1h1M41 51h1m21 0h1m12 0h2m-2 1h1m-2 1h2m-2 1h1m-2 1h2M37 56h2m14 0h1m4 0h1m14 0h2M38 57h1m11 0h1m22 0h1m-2 1h1m-2 1h2m-3 1h2m-3 1h2m-4 1h2m-3 1h2m-4 1h3m-5 1h1m1 0h1M42 66h2m15 0h4M47 67h1m8 0h2m1 0h1M47 68h3m1 0h1m2 0h3"/>
<path stroke="#5b5b5b" d="M49 0h1M44 1h2M69 1h3m0 1h1m0 1h2m1 1h1m0 1h1M50 7h4M80 7h1M58 8h1M81 8h1M42 9h1m3 0h1m9 0h2m3 0h1M40 10h3m17 0h1m3 0h1m-3 1h1m1 1h1m2 0h1m-2 1h1m3 1h1m15 0h1M68 15h1m2 0h1M45 16h1m3 0h1m22 0h1M53 17h1m-3 2h1m20 0h1m1 0h1m14 0h1M36 20h2m35 0h1m1 0h1M60 21h1m0 1h1m12 0h1m1 0h1M62 23h1m12 0h1m1 1h1m13 0h1M38 25h1m37 0h1m1 1h1M61 27h1M37 28h1m39 0h1m1 1h1M66 30h1m11 1h1m-1 1h1m1 1h1M53 34h1m26 0h1m-1 1h1M40 36h1m23 0h1m-1 1h1m-1 1h1m-1 1h1m15 0h1M64 40h1M34 41h1m45 0h1M67 42h1m10 0h1m1 0h1m-3 1h1m1 0h1M63 44h1m14 0h1M66 46h1M50 47h1m26 0h1m1 0h1M49 48h1m15 0h1m12 1h1M60 50h1m15 0h1m1 0h1M40 51h1m1 0h1m48 0h1M77 52h1m13 1h1M56 54h1m17 0h1m1 0h1m13 1h1M42 57h1m29 0h1m1 0h1m14 0h1M55 58h1m15 0h1m1 0h1M42 59h1m9 0h1m17 0h1m17 0h1M69 60h1m-2 1h1m0 1h1m-5 1h1m2 0h1m16 0h1m-2 1h1M40 65h1m24 0h1m17 0h1M41 66h1m21 0h1M43 67h1m4 0h2m1 0h2m1 0h2m4 0h1m20 0h1M46 68h1m10 0h1m22 0h1m-2 1h1m-2 1h1m-3 1h2m-6 2h2M45 75h3m19 0h3M50 76h1m13 0h1"/>
<path stroke="#5e5e5e" d="M47 0h2m1 0h1M63 0h5M90 0h1M46 1h1M67 1h2M91 1h1M71 2h1m1 0h1M92 2h1M75 3h1M75 4h1m0 1h1m1 0h1M77 6h3M49 7h1m4 0h1M79 7h1M44 8h1M59 8h1M80 8h1M47 9h1m7 0h1m6 0h1M81 9h2M59 10h1m22 0h2M38 11h2m26 0h1m16 0h2m-1 1h2M69 13h1m15 0h2M67 14h1m17 0h1m0 1h2M44 16h1m5 0h1m18 0h1m17 0h2M70 17h1m2 0h1m14 0h2M56 18h1m14 0h1m2 0h1m13 0h2M37 19h1m3 0h1m48 0h1M53 20h1m5 0h1m29 0h2M55 21h1m20 0h1m13 0h2m-2 1h2M77 23h1m13 0h1M63 24h1m11 0h1m2 1h1m12 0h2M60 26h1m15 0h1m14 0h2M65 27h1m26 0h1M79 28h1m12 0h1M62 29h1m14 0h1m14 0h1m-1 1h1M80 31h1m11 0h1M63 32h1m16 0h1M37 33h1m29 0h1m10 0h1m-1 1h1m-1 1h1m-1 1h1m-1 3h1m-1 2h1M35 43h1m31 0h1m12 1h1m-1 1h1m-4 1h1m14 0h1M43 47h1m48 0h1M79 48h1m12 0h1M76 49h1m15 0h1M46 50h1m17 0h1m26 0h2M59 51h1m15 0h1M58 52h1m16 0h1m15 0h1M57 53h1m19 0h1m12 0h1M61 54h1m28 0h2M36 55h1m36 0h1m15 0h1M75 56h1m13 0h2M49 57h1m7 0h1m30 0h1M39 58h1m48 0h2m-3 1h1M72 60h1m14 0h2m-3 1h2M66 62h1m18 0h2M63 64h1m3 0h1m17 0h1M39 65h1m21 0h1m22 0h1M44 66h1m13 0h1m23 0h2M50 67h1m2 0h1m7 0h1m20 0h1M58 68h1m20 0h1m1 0h1m-4 1h1m1 0h1m-4 1h1m1 0h1m-6 2h3m-3 1h1m-6 1h4m18 0h2M44 75h1m21 0h1m3 0h1m20 0h1M48 76h2m1 0h3m7 0h3m1 0h2"/>
<path stroke="#606060" d="M51 0h2m9 0h1m5 0h1M89 0h1M43 1h1M72 1h1M90 1h1m1 0h1M42 2h2M70 2h1M91 2h1M72 3h1M92 3h1M74 4h1m2 0h1m2 2h1M48 7h1m6 0h2M78 7h1m2 0h1M60 8h1M79 8h1m2 0h1M48 9h1m4 0h2m8 0h1M83 9h1M43 10h1m40 0h1M40 11h1m20 0h1m23 0h1M37 12h1m30 0h1m-4 1h1m18 0h1m2 1h1m0 1h1m-3 1h1M54 17h1m32 0h1M50 19h1m7 0h1m16 0h1m12 0h1M38 20h1m-4 1h2m36 0h1m15 0h1M56 22h1m20 0h1m12 1h1M78 24h1m13 0h1M59 25h1M47 26h1m28 1h1m2 0h1m11 0h1M41 28h1m24 1h1M45 30h1m31 0h1m2 0h1M46 31h1m20 1h1m24 0h1M34 33h1m28 0h1m28 0h1M34 35h1m43 2h1m2 0h1m-4 1h1m2 0h1M35 39h1m45 0h1M40 40h1m37 0h1M48 41h1m4 1h1m9 1h1m28 0h1m-1 1h1M77 45h1m14 0h1M51 46h1m10 0h1m-2 2h1M48 49h1m30 0h1m11 0h1M43 51h1m34 0h1m13 0h1m-3 1h1m1 0h1M62 53h1m11 0h1M35 55h1m18 0h1m5 0h1m15 0h1m14 0h1M36 56h1m2 0h1m12 0h1m19 0h1M43 57h1m4 0h1m22 0h1m18 0h1M74 58h1M53 59h1m19 0h1m15 0h1m-4 1h1M67 61h1m3 0h1m-2 1h1m16 0h1M64 63h1m4 0h1m14 0h1m1 0h1M38 64h1m44 0h1M41 65h1m18 0h1m5 0h1m15 0h1M40 66h1m16 0h1m6 0h1m16 0h1M42 67h1m19 0h1m17 0h1M45 68h1m13 0h1m-8 1h1m22 2h1m2 0h1m-6 1h1M41 73h1m29 0h1m3 0h1m16 0h1M43 74h2m28 0h1M48 75h1m16 0h1m5 0h1m18 0h1M54 76h7m6 0h1m20 0h3"/>
<path stroke="#626262" d="M46 0h1m6 0h1m6 0h2m7 0h1M88 0h1m2 0h1M47 1h1M66 1h1m2 1h1m4 0h1M40 3h2M76 3h1M39 4h1M73 4h1m1 1h1m3 0h1M47 7h1m9 0h1M41 9h1m7 0h4M80 9h1M39 10h1m18 0h1m6 0h1m15 0h1M67 11h1m14 0h1M38 12h1m24 0h1m19 0h1m2 0h1m0 1h1M66 14h1m4 0h1m0 1h1m12 0h1M43 16h1m7 0h1m37 0h1M40 17h1m-3 1h1m48 0h1m2 0h1M72 20h1m3 0h1m11 0h1m2 0h1M34 22h1m54 0h1M57 23h1m16 0h1m17 0h1M58 24h1m31 0h1M45 25h1m18 0h1m10 0h1m14 0h1M79 26h1M61 28h1m29 0h1M80 29h1M62 30h1M52 31h1m24 0h1m3 2h1M34 34h1m4 0h1m41 0h1m10 0h1M81 35h1m10 0h1M81 36h1m10 0h1m-1 1h1m-1 1h1m-1 1h1M81 40h1m10 0h1M81 41h1m10 0h1M63 42h1m17 0h1m10 0h1M47 43h1m19 1h1m9 0h1m2 2h1M66 47h1m9 1h1m14 0h1M65 49h1m13 1h1M39 51h1m50 0h1M63 52h1m14 0h1m13 1h1M34 54h2m37 0h1m3 0h1m11 0h1M37 55h1m21 1h1m28 0h1m2 0h1M44 57h2m1 0h1m27 0h1m-6 1h1m16 0h1M41 59h1m27 0h1M46 60h4m18 0h1m16 1h1m2 0h1M36 63h1m0 1h1m1 0h1m22 0h1m5 0h1m16 1h1M45 66h1m10 0h1m27 0h1m-2 1h1m-2 1h1M50 69h2m1 0h2m22 0h1m3 0h1m-6 1h1m3 0h1m-7 1h1M39 72h1m37 0h1m14 0h1M40 73h1m1 0h1m27 0h1m20 0h1M42 74h1m2 0h1m22 0h1m-5 1h1m7 0h1m16 0h1m2 0h1M47 76h1m20 0h1m22 0h1"/>
<path stroke="#646464" d="M54 0h6M73 1h1M89 1h1M41 2h1m2 0h1M90 2h1M39 3h1M71 3h1M38 4h1M78 4h1M92 4h1M37 5h1M76 6h1m5 1h1M43 8h1M61 8h1M83 8h1m0 1h1M44 10h1m12 0h1m27 0h1M60 11h1M36 12h1m-2 1h2m33 0h1M34 14h1m49 0h1m3 0h1M67 15h1M52 16h1m15 0h1m4 0h1m-5 1h1m4 0h1m-5 1h1M42 19h1m6 0h1m21 0h1m19 0h1M52 20h1m1 1h1m6 0h1m15 0h1M62 22h1m10 0h1m18 0h1M78 23h1m10 0h1M79 25h1m-5 1h1M38 28h1m1 0h1m35 0h1m3 0h1m10 1h1M32 30h2m33 1h1m9 1h1m3 0h1M35 33h1m17 0h1m9 1h1M48 35h1m19 1h1m-1 1h1m-1 1h1m-1 1h1m-1 1h1m8 3h1m3 0h1m-1 1h1M62 45h1M32 46h1m58 0h1M76 47h1m3 0h1m10 0h1M60 49h1m14 1h1m14 0h1M64 51h1m9 1h1m14 1h1M55 54h1m16 1h1M51 56h1m24 0h1M37 57h1m8 0h1m9 1h1m33 0h1m-5 1h1M45 60h1m43 0h1M72 61h1M35 62h1m29 0h1m18 0h1M37 63h1m45 0h1m3 0h1m-2 1h1M38 65h1m3 0h1m22 1h1m-3 1h1m-4 1h1m17 0h1M49 69h1m5 0h2M38 71h1m40 0h1M40 72h1m31 0h1m3 1h1m-3 1h1m15 0h1M43 75h1m5 0h1m19 1h1m17 0h1"/>
<path stroke="#666666" d="M45 0h1M70 0h1M42 1h1m5 0h1M65 1h1m2 1h1m6 0h1M42 3h1M70 3h1M91 3h1M38 5h1M74 5h1M36 6h1M81 6h1M46 7h1M58 7h1M77 7h1M62 8h1m1 1h1m1 1h1M41 11h1m44 0h1M62 12h1m6 0h1m-6 1h1m18 0h1M35 14h1m-3 1h1m21 2h1m30 0h1m3 0h1M57 18h1m17 0h1m11 1h1M35 20h1m24 0h1M34 21h1m53 0h1M63 23h1m10 1h1M65 26h1m24 0h1M60 27h1m19 0h1M33 28h1m5 0h1m10 0h1m15 0h1m9 1h1m14 1h1M62 31h1m18 0h1m-5 2h1m-1 1h1M63 35h1m4 0h1m-6 5h1m-1 1h1m4 0h1m8 1h1M67 45h1m-7 2h1m18 1h1M59 50h1m19 1h1M33 53h2m43 0h1m13 1h1M53 55h1m34 0h1M40 56h1m17 1h1m28 0h1m3 0h1M54 59h1m19 0h1M50 60h1m22 0h1m11 0h1M34 61h1m-1 1h1m36 0h1m16 0h1M35 63h1m34 0h1M61 64h1m20 0h1M59 65h1m7 0h1m13 0h1M46 66h1m8 0h1m24 0h1m-2 1h1M44 68h1M35 69h1m12 0h1M36 70h2m37 0h1M37 71h1m0 1h1m4 1h1m-3 1h1m25 0h1M50 75h1m12 0h1m24 0h1M46 76h1"/>
<path stroke="#686868" d="M71 0h1M87 0h1m4 0h1M33 1h1M64 1h1m9 0h1m2 2h1M40 4h1M72 4h1M36 5h1M80 5h1M35 6h1M34 7h2M59 7h1M33 8h1M78 8h1m0 1h1M45 10h1m10 0h1m23 0h1M37 11h1m30 0h1m12 0h1M39 12h1m42 0h1m4 0h1M37 13h1m51 2h1M42 16h1m42 0h1m5 2h1M48 19h1m27 0h1M39 20h1m32 1h1m19 0h1M35 22h1m42 0h1M33 23h1m55 1h1M34 27h1m55 0h1M35 29h1m7 0h1m7 0h1m9 0h1m5 1h1m13 0h1m9 1h1M27 34h1m40 0h1m8 1h1M63 36h1m13 0h1M54 37h1m8 0h1M54 38h1m8 0h1m-1 1h1m13 0h1M48 40h1m28 0h1m-1 1h1M68 42h1M53 43h1m37 1h1M32 45h1m19 0h1m28 0h1m9 0h1M44 46h1m31 0h1M66 48h1m8 1h1m4 0h1m9 0h1M65 50h1M44 51h1m13 0h1m15 0h1M57 52h1m31 0h1M56 53h1m16 0h1m3 2h1m-7 1h1m3 2h1m10 0h1m3 1h1M44 60h1m6 0h1M33 61h1m32 0h1m17 0h1M36 62h1m26 1h1m5 1h1M47 66h1m6 0h1m30 0h1M41 67h1m42 0h1M34 68h1m26 0h1m21 0h1M57 69h1m18 0h1m5 0h1M39 71h1m33 0h1m18 0h1M41 72h1m29 0h1m6 0h1M69 73h1M46 74h1m19 0h1m22 0h1M34 75h1m27 0h1m10 0h1M35 76h1"/>
<path stroke="#6a6a6a" d="M34 0h2M49 1h1M88 1h1M40 2h1m4 0h1M67 2h1M37 4h1M79 4h1M92 5h1M37 6h1M52 6h1M75 6h1M45 7h1M34 8h1m5 1h1M65 9h1m-7 2h1m28 2h1M65 14h1m6 0h1M34 15h1m38 0h1m10 0h1M32 16h1m20 0h1m20 0h1m15 0h1m-5 2h1M36 19h1m6 0h1m3 0h1m11 0h1m-9 1h1m19 0h1m5 0h1M33 22h1m21 0h1m32 0h1M73 23h1M64 24h1m14 0h1m-6 1h1M59 26h1m20 0h1M49 27h1m16 0h1m8 0h1m5 2h1m-6 1h1M32 31h1m29 1h1m28 0h1M28 33h1m9 0h1m8 0h1m20 0h1m22 0h1M82 35h1M48 36h1m33 0h1m-6 1h1m4 0h1m-6 1h1m4 0h1M54 39h1m27 0h1m-1 1h1m-1 1h1M34 42h1m56 0h1M36 43h1m54 0h1M46 44h1m15 0h1m13 1h1M67 46h1m13 0h1M36 47h1m5 0h1m17 1h1m29 0h1M36 50h1m52 1h1M33 52h1m45 0h1M63 53h1m-2 1h1m25 0h1M61 55h1m30 0h1M50 56h1m36 0h1M70 57h1m5 0h1M38 58h1m30 0h1m21 0h1M68 59h1M32 60h2m9 0h1m23 0h1m21 1h1M38 63h1m-3 1h1m3 0h1m46 0h1M58 65h1m27 0h1M39 66h1m8 0h1m4 0h1m12 0h1M33 67h1m30 0h1M33 68h1m43 0h1M34 69h1m1 0h1m10 0h1m10 0h1M35 70h1m45 0h1m9 2h1M39 73h1m50 0h1M75 74h1M33 75h1m17 0h1M36 76h1m33 0h1m15 0h1m5 0h1"/>
<path stroke="#6c6c6c" d="M44 0h1M34 1h1M63 1h1M32 2h2M76 2h1M89 2h1M31 3h1M69 3h1M90 3h1M71 4h1M91 4h1M73 5h1M50 6h2m1 0h2M82 6h1M60 7h1M76 7h1m6 0h1M42 8h1M63 8h1M84 8h1M32 9h2M85 9h1M55 10h1m11 0h1m18 0h1M42 11h1m20 2h1m7 0h1M33 14h1m49 0h1m5 0h1M66 15h1M33 16h1m-3 1h1m7 0h1m35 0h1M44 19h3m23 0h1m16 1h1m4 0h1M37 21h1m15 0h1M34 23h1m21 0h1M32 24h1m25 1h1m30 0h1m0 3h1M67 29h1m8 2h1m5 2h1m-1 1h1m8 0h1M26 35h1m13 0h1m50 0h1M54 36h1M35 37h1m12 0h1m-1 1h1m-1 1h1m5 1h1m36 0h1m-1 1h1M82 42h1M62 43h1m5 0h1M45 45h1M34 46h1m26 0h1m19 1h1m8 0h1M75 48h1M47 50h1m32 0h1M32 52h1m3 2h1m17 0h1m17 0h1m5 0h1M34 55h1m0 1h1m24 0h1m-4 2h1M32 59h1m7 0h1m14 0h1m29 0h1M64 62h1m18 0h1m-2 1h1m5 0h1m-8 1h1M43 65h1m24 0h1M32 66h1m16 0h2m1 0h1M32 67h1m45 0h1M43 68h1m18 0h1m11 2h1M36 71h1m43 0h1M32 73h1m11 0h1m23 0h1m8 0h1M32 74h2m31 0h1m-5 1h1M34 76h1"/>
<path stroke="#6e6e6e" d="M36 0h1M72 0h1M86 0h1M32 1h1M50 1h1M62 1h1M75 1h1M66 2h1M38 3h1m4 0h1M78 3h1M30 4h1m8 1h1M55 6h2M77 8h1M31 10h2m5 0h1m7 0h1M30 11h1m56 0h1M61 12h1m8 0h1M34 13h1m1 1h1m-5 1h1m14 0h2m18 1h1M32 17h1m23 0h1m11 0h1m16 0h1m5 0h1M30 18h1m6 0h1m20 0h1m10 0h1m6 0h1m1 3h1m-7 1h1M32 23h1m46 0h1m8 0h1M33 24h1m23 0h1M46 25h1m18 0h1m14 0h1M60 28h1m14 0h1m5 0h1m8 1h1M61 30h1m-9 2h1m14 0h1m7 0h1m5 0h1M62 33h1M19 34h1m-1 1h4m31 0h1M18 36h7m66 0h1M18 37h7m66 0h1M18 38h6m67 0h1M18 39h6m67 0h1M19 40h4m-4 1h3m-3 1h1m7 0h1m9 1h1m44 0h1M32 44h1m35 0h1m7 0h1M67 47h1M50 48h1m15 1h1m7 1h1m14 0h1M32 51h1m31 1h1m8 0h1m14 1h1M33 54h1m4 1h1m13 0h1m34 0h1M41 56h1m35 0h1m14 0h1m-7 1h1M31 58h1m-1 1h1m20 1h1m21 0h1m15 0h1M35 61h1m37 0h1m-2 1h1M62 63h1m-3 1h1M31 65h1m5 0h1m19 0h1m22 0h1M31 66h1m19 0h1m27 0h1M35 68h1m48 0h1M46 69h1m12 0h1M38 70h1m53 0h1M30 71h1m41 0h1M30 72h2m38 0h1m8 0h1M31 73h1m15 1h1M35 75h1m6 0h1m9 0h2m6 0h1m13 0h1m12 0h1M45 76h1m25 0h1"/>
<path stroke="#717171" d="M27 0h2M41 1h1M31 2h1M46 2h1M30 3h1m1 0h1M31 4h1m9 0h1M29 5h2m4 0h1M81 5h1M29 6h1m4 0h1M49 6h1M74 6h1M33 7h1m2 0h1M61 7h1M32 8h1M31 9h1M78 9h1M47 10h1m6 0h1M31 11h1m26 0h1m10 0h1m10 0h1M30 12h1m4 0h1m45 0h1m6 0h1m-7 1h1M64 14h1M46 15h1m2 0h1m40 0h1M41 16h1m12 0h1M31 18h1m45 1h1m8 0h1m5 0h1M50 20h1m11 1h1m24 0h1M63 22h1m9 2h1M31 25h2m4 0h1m10 1h1m25 0h1m14 0h1M32 29h1m19 1h1m37 0h1M19 31h3m9 0h1m50 0h1M19 32h5m-8 1h8m52 0h1M16 34h3m1 0h6m36 0h1M16 35h3m4 0h3M16 36h2m7 0h2M15 37h3m7 0h2M14 38h1m1 0h2m6 0h3M15 39h3m6 0h3M16 40h3m4 0h4M16 41h3m3 0h3m1 0h1M17 42h2m1 0h6m13 0h1m7 0h1m14 0h1M17 43h9m2 0h1m47 0h1M18 44h5m1 0h1m6 0h1m50 0h1M20 45h2m11 0h1m56 1h1M51 47h1m23 0h1m5 1h1M59 49h1M31 50h1m-1 1h1m33 0h1m14 0h1M32 53h1m22 0h1m23 0h1m-9 2h1m6 0h1M49 56h1M30 57h1m5 0h1m22 0h1M30 58h1m44 1h1m15 0h1M34 60h1m49 0h1M65 61h1m23 1h1M71 63h1M30 64h1m39 0h1M30 65h1m36 1h1m18 0h1M34 67h1m30 0h1m19 0h1M75 69h1m7 0h1M29 70h1m52 0h1M29 71h1m7 1h1m4 0h1m47 0h1m-2 1h1M40 74h1m23 0h1m11 0h1m11 0h1M27 75h1m26 0h1m3 0h2M28 76h1m56 0h1"/>
<path stroke="#737373" d="M33 0h1M26 1h2M51 1h1m9 0h1M87 1h1M26 2h1M77 2h1M25 3h1M68 3h1M29 4h1M80 4h1M72 5h1M28 6h1M48 6h1m8 0h1M92 6h1M27 7h2M44 7h1M27 8h1M64 8h1M26 9h1M66 9h1M48 10h1m4 0h1m14 0h1m10 0h1M29 12h1m10 0h1M28 13h2m8 0h1M28 14h1m44 0h1M27 15h1m7 0h1m9 0h1m4 0h1m23 0h1M31 16h1m52 0h1m6 0h1M29 19h2m-2 1h1m10 0h1m20 0h1m9 1h1M54 22h1m24 0h1M64 23h1M31 24h1m48 0h1m7 0h1M31 26h1m34 0h1M20 27h1m38 0h1m21 0h1m7 0h1M21 28h1m45 0h1M17 29h8m50 0h1M16 30h11m17 0h1m37 0h1M14 31h5m3 0h7m32 0h1m6 0h1m21 0h1M15 32h4m5 0h4m1 0h1m1 0h1m14 0h1M13 33h1m1 0h1m8 0h3M13 34h3m60 0h1M13 35h3m-4 1h4m53 0h1M13 37h2m54 0h1M13 38h1m1 0h1m53 0h1M12 39h3m54 0h1M12 40h4m-3 1h3m9 0h1m1 0h1m26 0h1m7 0h1M14 42h3m9 0h1m49 0h1M14 43h3m9 0h1M15 44h3m5 0h1m1 0h3m25 0h1m36 0h1M15 45h5m2 0h6m3 0h1m29 0h1m20 0h1m7 0h1M17 46h9M16 47h1m2 0h2m1 0h1m1 0h1m35 0h1M19 48h1m1 0h1m8 0h1m0 1h1m17 0h1m31 0h1m7 0h1M58 50h1M38 51h1m6 0h1m42 1h1m-2 2h1M28 55h1m0 1h1m40 0h1m21 1h1M76 58h1m8 0h1M33 59h1m-7 1h1m14 0h1m10 0h1m12 0h1M28 61h1m3 0h1m50 0h1M28 62h2m3 0h1m-5 1h1m-1 1h1m11 0h1M32 65h1m11 0h1m11 0h1m30 0h1M33 66h1m-7 2h1m35 0h1m12 0h1M28 69h1m31 0h1M28 70h1m23 0h2m19 0h1M24 71h1m15 0h1m50 0h1M25 72h1m-1 1h1m7 0h1m33 0h1m10 0h1M26 74h1m4 0h1m2 0h1m13 0h1M26 75h1m5 0h1m22 0h3M27 76h1m9 0h1m34 0h1"/>
<path stroke="#757575" d="M22 0h1M73 0h1M85 0h1M21 1h1M35 1h1M52 1h1m7 0h1M20 2h2m3 0h1M39 2h1M65 2h1M88 2h1M20 3h1m3 0h1m1 0h1M44 3h1M79 3h1m9 0h1M24 4h2M36 4h1M70 4h1M90 4h1M23 5h2m3 0h1M23 6h1M38 6h1M58 6h1M22 7h1M62 7h1M75 7h1m8 0h1M21 8h1m4 0h1m8 0h1M21 9h1m5 0h1m-3 1h2m3 0h1m18 0h4M24 11h2m3 0h1m6 0h1m6 0h1m13 0h1M24 12h1m35 0h1m10 0h1M30 13h1m31 0h1m9 0h1m16 0h1M23 14h1m3 0h1m1 0h1m-7 1h1m4 0h1m36 0h1m17 0h1M26 16h2m47 0h1M26 17h2m2 0h1m45 0h1M26 18h1m58 0h1M60 19h1M28 20h1m5 0h1m43 0h1M23 21h1m4 0h2m3 0h1m18 0h1M17 22h1m1 0h1m1 0h1m1 0h1m3 0h2m3 0h1m54 0h1M16 23h2m3 0h3m1 0h1m1 0h1M17 24h1m1 0h7m1 0h1m14 0h1M16 25h1m1 0h8m1 0h1m2 0h1M11 26h1m2 0h14m2 0h1m4 0h1m45 0h1M12 27h1m2 0h5m1 0h11M10 28h11m1 0h9M11 29h6m8 0h6m29 0h1M9 30h7m11 0h3M9 31h1m1 0h3m15 0h1m15 0h1M10 32h5m15 0h1m59 0h1M10 33h3m1 0h1m14 0h1m60 0h1M9 34h4m13 0h1m20 0h1m6 0h1M8 35h1m1 0h3m14 0h1m34 0h1m6 0h1m6 0h1m6 0h1M9 36h3m71 0h1M9 37h4m70 0h1M9 38h4m70 0h1M8 39h4m71 0h1M9 40h3m50 0h1m6 0h1m6 0h1m6 0h1M9 41h4m27 0h1m35 0h1M8 42h6m14 0h1M9 43h5m13 0h1m1 0h2m59 0h1M9 44h6m13 0h3M9 45h1m1 0h4m13 0h2m38 0h1M11 46h6m9 0h5m44 0h1m6 0h1M12 47h4m1 0h2m2 0h1m1 0h1m1 0h6m10 0h1M10 48h1m1 0h7m1 0h1m1 0h8m59 0h1M11 49h17m2 0h1m43 0h1M15 50h12m3 0h1m1 0h1M13 51h1m3 0h4m1 0h2m33 0h1m15 0h1M15 52h1m1 0h1m1 0h2m2 0h4m4 0h1m24 0h1m23 0h1M17 53h2m2 0h1m1 0h1m3 0h1m7 0h1m36 0h1M20 54h2m5 0h2m34 0h1M29 55h1m32 0h1M30 56h1m17 0h1m37 0h1M29 57h1m1 0h1m37 0h1m7 0h1M26 58h1m5 0h1m25 0h1m9 0h1M26 59h2m28 0h1m10 0h1M31 60h1m-5 1h1m62 0h1M23 62h1m13 0h1m25 0h1m18 0h1M24 63h1m3 0h1m1 0h1m3 0h1m4 0h1M24 64h2m5 0h1m27 0h1m28 0h1M24 65h3m42 0h1M21 66h1m3 0h2m3 0h1m-5 1h2m3 0h1m8 0h1m36 0h1M22 68h1m3 0h1m1 0h1m3 0h1m9 0h1M23 69h1m3 0h1m1 0h1m3 0h1m3 0h1m7 0h1M23 70h2m5 0h1m3 0h1m15 0h2m2 0h2M19 71h1m11 0h1m49 0h1M24 72h1m4 0h1m2 0h1m36 0h1M20 73h1m5 0h1m3 0h1m7 0h1m6 0h1M20 74h2m3 0h1m1 0h1m35 0h1M17 75h1m3 0h2m5 0h1m46 0h1M22 76h1m6 0h1m14 0h1"/>
<path stroke="#777777" d="M0 0h20m1 0h1m1 0h1m2 0h1m2 0h1M43 0h1M0 1h19m1 0h1m1 0h1m2 0h1m2 0h1M59 1h1M76 1h1M0 2h20m4 0h1m2 0h1m6 0h1M47 2h1M64 2h1M0 3h20m1 0h1M0 4h22m1 0h1M0 5h21m1 0h1m2 0h1M82 5h1m8 0h1M0 6h23m1 0h1m2 0h1m2 0h1M47 6h1M59 6h1M83 6h1M0 7h22m1 0h1m2 0h1m2 0h1M0 8h21m1 0h2m4 0h1M41 8h1M76 8h1m8 0h1M0 9h21m1 0h1m2 0h1m8 0h1m4 0h1M86 9h1M0 10h25m62 0h1M0 11h23m3 0h1m43 0h1M0 12h22m1 0h1m1 0h1m2 0h1m2 0h1M0 13h26M0 14h23m1 0h1M0 15h23m1 0h3m17 0h1m6 0h1M0 16h24m1 0h1m2 0h1m5 0h1m20 0h1M0 17h26m31 0h1M0 18h26m3 0h1m62 0h1M0 19h27m1 0h1m2 0h1m3 0h1M0 20h27m3 0h1m18 0h1m20 0h1m15 0h1M0 21h23m1 0h4M0 22h17m1 0h1m1 0h1m1 0h1m1 0h3m9 0h1M0 23h16m2 0h3m3 0h1m1 0h1m1 0h1m2 0h1m23 0h1m16 0h1M0 24h17m1 0h1m7 0h1m1 0h1m1 0h1m10 0h1m23 0h1M0 25h16m1 0h1m8 0h1m1 0h2m43 0h1M0 26h11m1 0h2m14 0h2m28 0h1M0 27h12m1 0h2m59 0h1M0 28h10m79 0h1M0 29h11m31 0h1m39 0h1M0 30h9m21 0h1m3 0h1m33 0h1m6 0h1M0 31h9m1 0h1m19 0h1m2 0h1M0 32h10m18 0h1m3 0h1M0 33h10m17 0h1M0 34h9m60 0h1m13 0h1M0 35h8m1 0h1M0 36h9m53 0h1m13 0h1M0 37h9m53 0h1m13 0h1M0 38h9m32 0h1m20 0h1m13 0h1M0 39h8m54 0h1m13 0h1M0 40h9M0 41h9m60 0h1m13 0h1M0 42h8m75 0h1m6 0h1M0 43h9m25 0h1M0 44h9m52 0h1M0 45h9m1 0h1m19 0h1M0 46h11m41 0h1M0 47h12m25 0h1m44 0h1M0 48h10m1 0h1m19 0h1m1 0h1m33 0h1M0 49h11m17 0h2M0 50h15m12 0h3m36 0h1m14 0h1M0 51h13m1 0h3m4 0h1m2 0h5m1 0h1m57 0h1M0 52h15m1 0h1m1 0h1m2 0h2m4 0h2m5 0h1M0 53h17m2 0h2m1 0h1m1 0h3m1 0h1m35 0h1M0 54h20m2 0h5m2 0h1m23 0h1m25 0h1M0 55h28m2 0h1m20 0h1M0 56h27m1 0h1m13 0h1m4 0h1m13 0h1m16 0h1M0 57h27M0 58h26m1 0h1m9 0h1M0 59h26m4 0h1m8 0h1m44 0h1M0 60h25m1 0h1m1 0h1m46 0h1m15 0h1M0 61h25m1 0h1m2 0h1m44 0h1M0 62h23m1 0h1m2 0h1m45 0h1M0 63h24m1 0h1m35 0h1m19 0h1m7 0h1M0 64h24m56 0h1M0 65h23m6 0h1m49 0h1M0 66h21m1 0h1m1 0h1m2 0h1m10 0h1m39 0h1M0 67h23m2 0h1m40 0h1M0 68h22m1 0h1M0 69h23m1 0h1m36 0h1m30 0h1M0 70h21m1 0h1m33 0h1M0 71h19m1 0h4m1 0h1m2 0h1m6 0h1m35 0h1M0 72h22m1 0h1m2 0h1m53 0h1M0 73h20m1 0h1m2 0h1m41 0h1M0 74h20m2 0h1m54 0h1M0 75h17m1 0h1m1 0h1m4 0h1m60 0h1M0 76h19m2 0h1m1 0h1m9 0h1"/>
<path stroke="#797979" d="M20 0h1M37 0h1M74 0h1M19 1h1m3 0h1m7 0h1M53 1h2m1 0h3M22 2h1m7 0h1M78 2h1M22 3h2m5 0h1m3 0h1m3 0h1M67 3h1M22 4h1m3 0h1m5 0h1M21 5h1m5 0h1m3 0h1m8 0h1M25 6h1M73 6h1M24 7h2M24 8h2m5 0h1M65 8h1M23 9h2M67 9h1M27 10h1m5 0h1M23 11h1m8 0h1m55 0h1M22 12h1m3 0h1m-1 1h2m-3 1h2m55 0h1m7 0h1M29 15h1m22 0h1M24 16h1m41 0h1M28 17h1m4 0h1m4 0h1m28 0h1m16 0h1M27 18h1m4 0h1m26 0h1m8 0h1m8 0h1M27 19h1m41 0h1M27 20h1m10 1h1m40 0h1M29 22h1m-1 1h2m49 0h1M29 24h1m13 0h1m12 0h1m0 1h1m30 0h1M32 26h1m34 1h1M31 28h1m50 0h1m6 1h1M31 30h1m21 1h1m21 0h1M61 32h1m21 1h1m6 1h1m-1 1h1m-1 1h1M41 37h1m-7 1h1m54 1h1M34 40h1m55 0h1m-1 1h1M33 42h1m20 0h1m14 0h1M31 43h2m50 0h1m-9 2h1M60 46h1m7 0h1m20 1h1M59 48h1m14 0h1M29 51h1m3 0h1m-5 1h2m-2 1h1m1 0h1m55 0h1M32 54h1m38 0h1M33 55h1m52 0h1M27 56h1m6 0h1m8 0h1M27 57h2m56 0h1M29 58h1m62 0h1M28 59h1m47 0h1M25 60h1m28 0h1M25 61h1m10 0h1m10 0h3m14 0h1M25 62h2m3 0h1m-5 1h2m44 0h1M26 64h1m1 0h1m6 0h1m35 0h1M23 65h1m3 0h1m17 0h1m9 0h1M23 66h1m44 0h1M23 67h2m3 0h1m57 0h1M24 68h2m3 0h1m34 0h1m20 0h1M26 69h1m47 0h1M21 70h1m3 0h1m1 0h1m21 0h1m7 0h1m25 0h1M22 72h1m-1 1h2m3 0h1m60 0h1M23 74h2m24 0h1m12 0h1m24 0h1M19 75h1m3 0h1m17 0h1M19 76h2m3 0h1m1 0h1m46 0h1m10 0h1"/>
<path stroke="#7b7b7b" d="M24 0h2m6 0h1M24 1h1M40 1h1M55 1h1M86 1h1M23 2h1m4 0h1M87 2h1M27 3h1M27 4h2M42 4h1M69 4h1M81 4h1M26 5h1M71 5h1M26 6h1m6 0h1M60 6h1M32 7h1m4 0h1m5 0h1M63 7h1M92 7h1M29 8h1M28 9h1m1 0h1M77 9h1M28 10h2m7 0h1m31 0h1m8 0h1M27 11h2m15 0h1m11 0h1m22 0h1M27 12h1m31 0h1m20 0h1m8 0h1m-9 1h1M30 14h1m1 0h1m4 0h1m25 0h1m10 0h1M31 15h1m11 0h1m47 0h1M29 16h2m9 0h1M29 17h1m-2 1h1m7 0h1m41 1h1m6 0h1M41 20h1M30 21h1m-1 1h2m39 0h1m15 1h1M40 24h1m25 1h1m14 0h1m6 1h1M50 27h1m0 1h1m22 0h1M36 29h1m46 3h1M69 33h1M28 34h1m61 3h1m-1 1h1M41 39h1m5 2h1M38 43h1m30 0h1m13 1h1M31 46h1m11 0h1m45 0h1M32 47h1m49 1h1M34 49h1m13 1h1m39 0h1m-8 1h1M65 52h1m6 0h1M30 53h1m49 0h1M30 54h1m8 1h1m39 0h1M31 56h1m14 0h1m13 1h1M28 58h1m48 0h1M29 59h1m-1 1h1m11 0h1m41 0h1M46 61h1m3 0h1m39 1h1M27 64h1m14 0h1m15 0h1M28 65h1m7 0h1m17 0h1m33 0h1M28 66h1m58 0h1M36 68h1m38 0h1M25 69h1m36 0h1m21 0h1M26 70h1m12 0h1m8 0h1m9 0h1m13 0h1m18 0h1M26 71h2m42 0h1m11 0h1m7 0h1M27 72h2m7 0h1m6 0h1m24 0h1m20 0h1M29 73h1m49 0h1M28 74h1m1 0h1m8 0h1m21 0h1M24 75h1m11 0h1m39 0h1M25 76h1m4 0h1"/>
<path stroke="#7d7d7d" d="M30 0h1M84 0h1M29 1h1M77 1h1M29 2h1M48 2h1M63 2h1M28 3h1M66 3h1M80 3h1m7 0h1M34 5h1M90 5h1M46 6h1M30 7h1M74 7h1M66 8h1M29 9h1m11 3h1m30 0h1M31 13h1m1 0h1m5 0h1m21 0h1m11 0h1m16 0h1M30 15h1m44 0h1m0 1h1m6 0h1m8 1h1M31 20h1m16 0h1m13 0h1M31 21h2m18 0h1m11 0h1m22 0h1M53 22h1M35 23h1m8 1h1m36 0h1M47 25h1m25 1h1m8 1h1M59 28h1M31 29h1m36 0h1m-9 1h1m28 0h1m-7 1h1M69 32h1m5 0h1M54 33h1m6 0h1M46 43h1m14 0h1m13 1h1m7 1h1m5 0h1M31 47h1m8 0h1m33 0h1M58 49h1m8 0h1m20 0h1M73 50h1M46 51h1m40 1h1M54 53h1M31 54h1m5 0h1m-7 1h1m18 0h1m19 0h1M44 56h2m23 0h1M32 57h1m2 0h1m42 0h1m5 1h1M57 59h1m34 0h1M30 60h1m4 0h1m29 0h1M30 61h1m14 0h1m36 0h1m8 0h1M62 62h1M31 63h1m28 0h1M32 64h1m13 1h1m23 0h1M29 66h1m-1 1h2m4 0h1m31 0h1m8 0h1M31 68h1m-2 1h1m13 0h1M31 70h1m9 1h1m39 1h1M28 73h1m17 0h1m18 0h1M29 74h1m5 0h1m14 0h1m27 0h1M29 75h1m1 0h1m0 1h1m5 0h1m4 0h1"/>
<path stroke="#808080" d="M31 0h1M42 0h1M75 0h1M30 1h1m7 1h1M62 2h1M79 2h1M45 3h1M35 4h1M89 4h1M52 5h4M31 6h1M61 6h1M72 6h1M84 6h1m6 0h1M64 7h1M85 7h1M30 8h1m5 0h1M86 8h1M68 9h1M87 9h1M55 11h1m15 0h1M34 12h1m-4 2h1m21 1h1m10 0h1m17 0h1M56 16h1m1 1h1m18 0h1m6 1h1M32 19h1m28 0h1M33 20h1m45 0h1M70 21h1m-7 1h1m15 0h1m-9 2h1m14 0h1M33 25h1m54 2h1M52 29h1m21 0h1m8 1h1m5 1h1M33 33h1m41 0h1M47 35h1m36 1h1m-1 2h1m-1 1h1M27 40h1m33 2h1m-8 1h1m20 0h1m-7 1h1M53 45h1m6 0h1m22 1h1M38 47h1m29 0h1M32 49h1m49 0h1M57 50h1m8 1h1M55 52h1m30 2h1M32 55h1m52 1h1M68 57h1M33 58h1m25 0h1m7 0h1m-2 1h1M55 60h1M31 61h1m19 0h1m23 0h1M31 62h2m5 0h1m35 0h1m6 0h1M40 63h1m32 0h1M57 64h1m31 0h1M33 65h1m13 0h1m4 0h2M34 66h1m4 1h1M30 68h1m10 0h1m23 0h1m26 0h1M32 69h1m30 0h1m9 0h1M33 70h1m13 0h1m11 0h1M32 71h1m0 1h1m0 1h1m2 0h1m13 1h1m8 0h1M30 75h1m54 0h1M31 76h1m42 0h1m8 0h1"/>
<path stroke="#828282" d="M38 0h1M36 1h1M35 2h1M49 2h1M61 2h1M34 3h1M65 3h1m2 1h1M82 4h1M32 5h1M50 5h2m4 0h1M70 5h1M83 5h1M32 6h1m6 0h1M31 7h1m8 1h1M75 8h1M92 8h1M35 9h1m2 0h1m-5 1h1m35 0h1m17 0h1M33 11h1m1 0h1m9 0h1M32 12h1m25 0h1M32 13h1m58 1h1M36 15h1m5 0h1m22 1h1m26 0h1M78 18h1M34 19h1m-3 1h1m9 0h1m4 0h1m37 0h1m0 2h1M54 23h1m10 0h1M34 24h1m14 2h1m17 0h1m14 0h1M32 27h1m25 0h1m9 1h1m19 0h1m-6 1h1M69 31h1M36 32h1m52 0h1M30 33h1m58 0h1M33 34h1m27 0h1m13 0h1m8 1h1M55 37h1m14 0h1m13 0h1M55 38h1m14 0h1M55 39h1m28 1h1M61 41h1m22 0h1M75 42h1m8 0h1m4 1h1M45 44h1m43 0h1M35 46h1m3 1h1m19 0h1m23 0h1m4 1h1M73 49h1m8 1h1M56 51h1m15 0h1m14 0h1m-7 1h1M71 53h1M52 54h1m27 0h1M63 55h1m-2 1h1m16 0h1M34 59h1m3 0h1m38 0h1m5 0h1m-8 1h1M44 61h1M33 63h1m46 0h1m9 0h1M72 64h1m6 0h1M48 65h1m2 0h1m26 0h1M37 66h1m31 0h1m7 0h1m8 2h1M31 69h1m6 0h1m46 0h1M60 70h1m10 0h1M34 71h1m34 0h1m-3 1h1m-4 1h1m15 0h1M52 74h1m6 0h1m26 0h1M77 75h1"/>
<path stroke="#848484" d="M83 0h1m1 1h1M50 2h1m9 0h1M86 2h1M36 3h1M81 3h1M33 4h1m9 0h1M33 5h1m7 0h1M57 5h1M45 6h1M62 6h1M42 7h1M73 7h1m2 2h1m0 1h1M54 11h1m34 0h1M33 12h1m45 0h1M60 13h1m13 0h1m5 0h1M62 14h1m18 0h1M54 15h1M35 16h1m3 0h1m-6 1h1m2 0h1m28 0h1m16 0h1M33 18h1m26 0h1m6 0h1m0 1h1m0 1h1m10 1h1M71 23h1m9 0h1M39 24h1m32 1h1m14 0h1M57 26h1m15 1h1M41 29h1m17 0h1m14 1h1M60 31h1m-7 1h1M32 33h1m13 0h1m37 0h1m-1 1h1m4 0h1M61 35h1m13 0h1M41 36h1m13 0h1m14 0h1m4 0h1m-6 3h1M47 40h1m22 0h1m4 0h1m13 0h1M75 41h1m13 0h1M29 42h1m59 0h1m-6 1h1M44 45h1m24 0h1m4 1h1m13 1h1M51 48h1m16 0h1M50 49h1m13 5h1m5 0h1M32 56h2m50 1h1M36 58h1m3 2h1m41 0h1M52 61h1m10 0h1m27 1h1M32 63h1m1 1h1m8 0h1m5 1h2m20 0h1m16 1h1M68 67h1m18 0h1M66 68h1m7 0h1M43 69h1m47 0h1M32 70h1m51 0h1m5 0h1m-8 1h1m5 0h1M35 72h1m8 0h1m43 0h1M47 73h1m15 0h1m23 0h1M38 74h1m14 0h6M40 75h1m34 1h1"/>
<path stroke="#868686" d="M41 0h1M76 0h1M39 1h1M78 1h1M37 2h1M35 3h1M46 3h1M87 3h1M34 4h1M67 4h1M88 4h1M49 5h1m8 0h1M89 5h1m0 1h1M65 7h1M91 7h1M67 8h1M36 10h1m9 1h1m6 0h1m24 0h1M42 12h1m14 0h1m15 0h1m16 0h1M48 14h1m26 0h1m0 1h1m0 1h1M35 18h1m43 1h1m4 0h1M43 20h4m3 1h1m34 0h1M52 22h1m33 1h1M45 24h1m9 0h1m10 0h1M56 25h1m25 0h1M32 28h1m50 0h1m4 1h1M43 30h1m9 0h1m15 0h1m14 2h1M40 34h1m29 0h1m-1 1h1m18 0h1M47 36h1m13 0h1m27 0h1M61 37h1m13 0h1m13 0h1M75 38h1m13 0h1M61 39h1m13 0h1m13 0h1M55 40h1m5 0h1m8 1h1M60 44h1m23 0h1M34 45h1m39 0h1M52 47h1M32 48h1m25 0h1m24 0h1M67 50h1m19 0h1m-6 1h1M42 52h1m10 1h1m11 0h1m15 0h1m4 0h1M40 55h1m8 0h1m30 0h1m4 0h1M61 57h1m16 1h1M58 59h1m-3 1h1m7 0h1m27 0h1M37 61h1m5 0h1m9 0h1m7 1h1m-3 1h1M33 64h1m22 0h1M34 65h2m53 0h1M70 66h1M36 67h1m38 0h1m16 0h1M37 68h1m26 1h1M40 70h1m5 0h1m14 0h1M33 71h1m8 0h1m9 0h3M34 72h1m31 0h1m15 0h1M35 73h2m-1 1h1m42 0h1M37 75h1m1 1h1m2 0h1m39 0h1"/>
<path stroke="#888888" d="M36 2h1M51 2h1m7 0h1M80 2h1M64 3h1M48 5h1M59 5h1m9 0h1M84 5h1M44 6h1M63 6h1m7 0h1M85 6h1M38 7h1M86 7h1M74 8h1M87 8h1M36 9h1M69 9h1M88 9h1m3 0h1M35 10h1m-2 1h1m12 0h1m4 0h1m19 0h1M40 13h1m50 0h1M38 14h1m7 0h2m1 0h2m12 1h1m28 0h1M57 16h1m24 0h1M59 17h1m18 0h1M33 19h1m29 1h1m16 0h1M39 21h1m-3 1h1m32 0h1m10 0h1m0 2h1m4 2h1M68 27h1m14 0h1M73 28h1m10 2h1m3 0h1M74 31h1m9 0h1M60 32h1M31 33h1m7 0h1m15 2h1M27 36h7m27 2h1M47 39h1m-7 1h1m13 1h1m14 1h1M33 43h1m-1 1h1m20 0h1m29 1h1m3 0h1M59 46h1m9 0h1m18 0h1M73 48h1m13 1h1M33 50h1m38 0h1M37 51h1m9 0h1m-7 1h1m1 0h1m22 0h1m4 0h1m14 0h1M36 53h1m14 1h1m29 0h1M69 55h1M33 57h2m44 0h1M60 58h1m22 0h1M65 59h1m10 2h1m4 0h1m-7 1h1m4 0h1m-7 1h1m4 0h1m10 1h1M35 66h1m40 0h1M38 67h1m1 1h1m31 1h1m-3 1h1M51 71h1m3 0h2m11 0h1M48 73h1m13 0h1m18 0h1M37 74h1m47 0h1m-2 1h1"/>
<path stroke="#8a8a8a" d="M39 0h2M77 0h1m4 0h1M37 1h1M79 1h1m4 0h1M52 2h3m1 0h3M85 2h1M47 3h1M63 3h1M82 3h1m0 1h1M60 5h1M40 6h1M66 7h1M37 8h1m1 0h1M68 8h1M37 9h1M75 9h1m-5 1h1m4 0h1m12 0h1M48 11h2m1 0h1m38 0h1M59 13h1m-9 1h1m9 0h1m18 0h1M41 15h1m13 0h1m25 0h1M34 18h1m44 0h1m3 0h1M62 19h1m21 1h1M64 21h1m0 1h1m5 2h1m14 0h1M36 25h1m11 0h1m18 0h1m4 1h1m10 0h1M33 27h1m53 0h1M58 28h1m10 1h1m14 0h1m3 2h1M35 32h1m9 0h1m24 0h1m3 0h1m-5 1h1M55 34h1m29 1h1m-1 1h1M47 37h1m37 0h1M47 38h1m37 0h1m-1 1h1m-1 1h1M46 42h1m13 1h1m9 0h1m3 1h1m13 0h1M42 46h1m10 0h1m30 0h1M73 47h1M57 49h1m25 0h1M35 50h1m13 0h1m33 0h1M44 52h1m9 0h1m27 0h1m2 2h1M48 55h1m19 1h1m11 0h1m3 0h1M67 57h1M34 58h2m30 0h1M35 59h1m1 0h1m44 0h1M36 60h1m40 0h1M54 61h1m7 0h1m29 0h1M39 62h1m1 1h1m49 0h1M44 64h1m10 0h1m17 0h1m4 0h1m-7 1h1m4 0h1M36 66h1m52 0h1M37 67h1m31 0h1m18 0h1M67 68h1m5 0h1m13 0h1m3 0h1M39 69h1m25 0h1m20 0h1m3 0h1M45 70h1m16 0h1m22 0h1m3 0h1M50 71h1m6 0h2m29 0h1M45 72h1m19 0h1m21 0h1M61 73h1m24 0h1m-7 1h1M39 75h1m38 0h1M40 76h2m34 0h1"/>
<path stroke="#8c8c8c" d="M38 1h1M55 2h1M81 2h1m4 1h1M44 4h1M66 4h1M87 4h1M42 5h1m4 0h1M61 5h1m6 0h1M88 5h1M64 6h1m5 0h1M86 6h1m2 0h1M39 7h1m1 0h1M72 7h1M90 7h1M38 8h1M73 8h1M88 8h1m2 0h1M70 9h1m21 1h1M50 11h1m22 0h1m3 0h1M43 12h1m12 0h1m17 0h1m3 0h1m12 0h1M75 13h1m3 0h1M45 14h1m6 0h1m23 0h1m15 0h1M37 15h1m39 0h1M36 16h1m1 0h1m25 0h1M35 17h2m28 0h1m16 0h1M61 18h1M49 21h1m19 0h1m11 0h1m3 1h1M53 23h1m12 0h1m15 0h1m0 2h1m2 0h1M33 26h1m17 1h1m32 1h1m2 0h1M37 29h1m2 0h1m32 0h1M59 30h1M44 31h1m-8 1h1m50 0h1M60 33h1m13 0h1m10 0h1m2 0h1m-4 1h1m2 0h1m-4 7h1m-1 1h1m2 0h1M74 43h1m13 0h1M70 44h1m-2 3h1m14 0h1m2 0h1m-1 1h1M68 49h1m3 0h1M56 50h1M34 51h1m20 0h1m11 0h1m18 0h1M35 52h1m4 0h1m29 1h1m11 0h1m2 0h1M38 54h1m25 1h1m-2 1h1m19 1h1m-5 1h1m-2 1h1M39 60h1m17 0h1m23 0h1M42 61h1m17 1h1m31 0h1M58 63h1m31 2h1M71 66h1m20 0h1M74 67h1M38 68h2m28 0h1M42 69h1m28 0h1M41 70h1m21 0h1m5 0h1M49 71h1m9 0h1m7 0h1m16 0h1m-2 1h1M49 73h1m10 0h1m23 1h1M38 75h1m44 0h1m-7 1h1m3 0h1"/>
<path stroke="#8e8e8e" d="M78 0h1m2 0h1M80 1h1m2 0h1m0 1h1M48 3h1M62 3h1M52 4h5m8 0h1M84 4h1M46 5h1M62 5h1M85 5h1M41 6h1m1 0h1M40 7h1M67 7h1M87 7h1M69 8h1m4 1h1M89 9h1M72 10h1m17 0h1m0 1h1m0 2h1M44 14h1m11 1h1m5 0h1m-5 1h1m19 0h1m2 0h1M60 17h1m18 0h1M66 18h1m0 1h1m12 0h1m2 0h1M68 20h1m12 0h1m2 1h1m-3 1h1M70 23h1m14 0h1M46 24h1m36 0h1M71 25h1m-4 1h1m17 0h1M57 27h1m14 0h1m11 0h1M52 28h1m16 0h1m17 1h1M73 30h1M54 31h1m15 0h1m14 0h1m-1 1h1M46 34h1m27 0h1M41 35h1m32 0h1m13 0h1m-1 1h1M71 37h1m16 0h1M71 38h1m16 0h1m-1 1h1m-1 1h1M74 41h1m13 0h1M40 42h1m14 0h1m4 0h1m13 0h1m10 1h1m-1 1h1M59 45h1m25 0h1M73 46h1m13 0h1M58 47h1m25 1h1M33 49h1m50 0h1m1 1h1M71 51h1m11 0h1M66 53h1m-2 1h1m3 0h1M41 55h1m5 0h1m33 0h1m2 0h1M62 57h1m17 0h1m1 1h1M36 59h1m22 0h1m3 1h1M38 61h1m38 0h1m2 0h1M47 62h4m25 0h1m2 0h1m-5 1h1m2 0h1m13 0h1M45 64h1m8 0h1m19 0h1m2 0h1m13 0h1M76 65h1m15 0h1M75 66h1m-6 1h1m20 0h1M72 68h1m15 0h1m1 0h1M40 69h2m24 0h1m20 0h1m1 0h1M44 70h1m41 0h1m1 0h1M43 71h1m4 0h1m11 0h1m26 0h1M64 72h1m21 0h1M50 73h1m8 0h1m22 0h1m2 0h1m-5 1h1m-3 1h1m0 1h1"/>
<path stroke="#909090" d="M79 0h2m0 1h2M82 2h2M49 3h1M60 3h2M83 3h3M45 4h1m4 0h2m5 0h2m5 0h1M85 4h2M43 5h1M63 5h1m3 0h1M86 5h2M42 6h1M65 6h1m3 0h1M87 6h2M68 7h1m2 0h1M88 7h2M72 8h1M89 8h2M71 9h1M90 9h2M75 10h1m15 0h1M74 11h1m1 0h1m15 0h1M55 12h1m19 0h1m1 0h1m14 0h1M41 13h1m16 0h1m17 0h1m1 0h1M39 14h1m13 0h1m6 0h1m16 0h1m1 0h1M40 15h1m37 0h1m1 0h1M37 16h1m43 1h1m-2 1h1m1 0h1m0 2h1m-2 1h1M51 22h1m17 0h1m14 0h1M36 23h1m46 0h1M38 24h1m15 0h1m12 0h1m17 0h1M55 25h1m28 0h1M34 26h1m15 0h1m5 0h1m27 0h1m1 1h1m-2 1h2M39 29h1m13 0h1m31 0h1M35 30h1m49 0h1m1 0h1M59 31h1m27 0h1M55 33h1m30 0h1M60 34h1m25 0h1M71 35h1m14 0h1M34 36h1m36 0h1m2 0h1m11 0h1M74 37h1m11 0h1M74 38h1m11 0h1M27 39h8m36 0h1m2 0h1m11 0h1M71 40h1m2 0h1m11 0h1M28 41h1m57 1h1m0 2h1M54 45h1m15 0h1m2 0h1m13 0h1m-3 1h1m-1 1h2M69 48h1m15 0h2m-1 1h1M68 50h1m15 0h1m0 1h1M45 52h1m37 0h1m1 0h1M52 53h1m30 0h2M50 54h1m31 0h1m1 0h1m-3 1h2M67 56h1m13 0h1m1 0h1m-3 1h1M61 58h1m18 0h1M64 59h1m14 0h1m1 0h1M37 60h2m39 0h1M41 61h1m13 0h1m5 0h1m16 0h1M46 62h1m4 0h1M42 63h1m14 0h1m-5 1h1m21 0h1m16 0h1M73 65h1m17 0h1M72 66h1m17 0h2M71 67h1m1 0h1m15 0h2M69 68h1m19 0h1M67 69h1m2 0h1m17 0h1M42 70h2m20 0h1m3 0h1m18 0h1M44 71h1m2 0h1m13 0h1m3 0h2m18 0h2M46 72h1m16 0h1m20 0h2M51 73h3m3 0h2m24 0h2m-3 1h2m-4 1h1m1 0h1m-5 1h2"/>
<path stroke="#939393" d="M50 3h2m1 0h2m1 0h4M46 4h1m1 0h2m9 0h5M44 5h2M64 5h3M66 6h3m0 1h2M70 8h2m0 1h2m-1 1h2m0 1h1M44 12h1m9 0h1m21 0h1m0 1h1M43 14h1m10 0h1m23 0h1M38 15h1m18 0h1m21 0h1M59 16h1m3 0h1m15 0h2m-1 1h1m0 1h1M63 19h1m17 0h2M64 20h1m17 0h1M40 21h1m7 0h1m16 0h1m2 0h1m14 0h1M66 22h1m16 0h1m0 1h1M35 24h1m48 0h1M34 25h1m33 0h1m16 0h1m-1 1h1M69 27h1m15 0h1M72 28h1M38 29h1m19 0h1m27 0h1M70 30h1m15 0h1M73 31h1m12 0h1M33 32h1m39 0h1m12 0h2m-1 1h1M71 34h1m15 0h1M60 35h1m26 0h1m-1 1h1M27 37h8m52 0h1M27 38h8m52 0h1m-1 1h1M60 40h1m26 0h1M60 41h1m10 0h1m14 0h2M71 42h1m15 0h1M55 43h1m30 0h2M73 44h1m12 0h1m-1 1h1M70 46h1m15 0h1M52 48h1m4 0h1m14 0h1M51 49h1m17 0h1m15 0h1M71 50h1m13 0h1M48 51h1m35 0h1M67 52h1m2 0h1m13 0h1m-2 2h1M42 55h1m3 0h1m21 0h1m13 1h1M66 57h1m15 0h1M65 58h1m15 0h1M60 59h1m19 0h1M58 60h1m20 0h2M56 61h1m22 0h1M40 62h1m4 0h1m6 0h1m6 0h1m17 0h2M56 63h1m19 0h2M46 64h2m3 0h2m23 0h1m-3 1h2m-3 1h2m-3 1h1m-3 1h2m-4 1h2m-5 1h3M45 71h2m15 0h3M47 72h1m2 0h13m-9 1h3m24 2h1"/>
<path stroke="#959595" d="M52 3h1m2 0h1M47 4h1m-3 8h1m7 0h1m3 1h1M40 14h1m14 0h1m3 0h1M39 15h1m21 0h1m-1 2h1m2 0h1m-3 1h1m2 0h1m0 1h1m0 1h1M52 23h1m14 0h1m1 0h1m0 1h1M49 25h1m19 1h1m1 0h1m-2 2h1m-1 1h1m1 0h1M42 30h1m16 2h1m11 0h1m-1 1h1m1 0h1M29 34h1m43 0h1M60 36h1m-5 1h1m3 0h1m-5 1h1m3 0h1m-5 1h1m3 0h1M41 41h1m4 0h1m26 1h1M39 43h1m5 0h1m25 0h1m1 0h1M59 44h1m11 0h1M43 45h1m14 1h1m-6 1h1m16 0h1m1 0h1m-2 2h1M34 50h1m33 1h1m1 0h1M39 52h1m13 0h1m15 1h1m-4 1h1M43 55h1m1 0h1m19 0h1m-2 1h1m-2 1h1m-2 1h1m-1 2h1M39 61h2m19 0h1M44 62h1m8 0h1m4 0h1M48 64h3m-3 8h2"/>
<path stroke="#979797" d="M46 12h3m1 0h3M42 13h1m4 0h5m3 0h2M41 14h2m13 0h1m1 0h1m-1 1h1m1 0h1m-1 1h1m1 0h1m0 1h1m-1 1h2m-1 1h1m0 1h1M47 21h1m18 0h1M38 22h1m11 0h1m16 0h2m-1 1h1M47 24h1m20 0h2M35 25h1m33 0h2m-1 1h1m-1 1h2M57 28h1m13 0h1m-1 1h1M54 30h1m3 0h1m12 0h2M34 31h1m36 0h2M55 32h1m16 1h1m-1 1h1M46 35h1m25 0h2M56 36h1m15 0h2m-2 1h2M42 38h1m29 0h2m-2 1h2M56 40h1m15 0h2M33 41h1m38 0h2m-2 1h1M59 43h1m12 0h1m-1 1h1m-2 1h2M41 46h1m29 0h2m-2 1h1m-2 1h2M56 49h1m13 0h1M50 50h1m4 0h1m13 0h2M35 51h2m17 0h1m-9 1h1m21 0h2M37 53h1m29 0h2M49 54h1m17 0h2M44 55h1m21 0h2m-3 1h2m-3 1h2m-2 1h1m-4 1h1m1 0h1m-5 1h3m-5 1h1M41 62h1m1 0h1m10 0h4M43 63h1m10 0h2"/>
<path stroke="#999999" d="M49 12h1m-7 1h4m5 0h3m2 1h1m1 1h1m1 1h1m0 1h1m2 2h1m0 1h1M41 21h1m25 0h1M42 23h2m9 1h1m-2 3h1m3 0h1m15 5h1M45 33h1m13 0h1m-4 2h1M42 37h1m13 4h1M44 44h1m10 0h1M36 46h1m17 0h1m14 5h1M36 52h1m14 1h1M39 54h1m23 4h1m-2 1h1m-5 2h2M42 62h1m1 1h10"/>
<path stroke="#9b9b9b" d="M42 21h1m2 0h2m2 1h1m-9 1h1m2 0h1m-8 1h1m16 1h1m-4 1h1m3 0h1m-3 2h1m4 3h1M38 32h1m17 2h1m2 0h1M42 39h1m3 1h1m12 1h1M30 42h1m25 0h1m2 0h1m-2 3h1m-2 2h1m-9 4h1"/>
<path stroke="#9d9d9d" d="M43 21h2m-8 2h1m7 0h1m5 0h1M36 24h1m11 0h1m1 1h1m3 4h1m2 0h1M43 31h1m11 0h1M44 32h1m-5 1h1m15 0h1M41 34h1m17 1h1M42 36h1m16 0h1m-4 7h1m1 1h1m-4 1h1m-3 3h1m2 0h1m-5 1h1m2 0h1m-3 2h1M38 52h1m8 0h1m4 0h1m-5 2h1"/>
<path stroke="#9f9f9f" d="M48 22h1m-9 1h1m5 0h1m5 1h1m2 3h1m0 1h1m-2 2h1m2 2h1M46 36h1m10 1h1m1 0h1m-3 1h1m1 0h1M46 39h1m10 0h1m1 0h1m-1 1h1M32 42h1m25 1h1M36 44h1m20 2h1m-4 1h1m-4 3h1m2 0h1M37 52h1m10 0h1m-6 1h1m6 0h1M40 54h1m6 0h1"/>
<path stroke="#a2a2a2" d="M39 22h1m7 1h1m2 0h1m-2 1h1m1 1h1m1 0h1m-2 1h1m1 0h1m-2 1h2m-1 1h2m-1 1h2M41 30h1m14 0h2m-2 1h2m-2 1h1m1 1h1m-2 1h2m-2 1h2m-2 1h1M46 37h1m-1 1h1m11 1h1M42 40h1m14 0h2m-2 1h2M45 42h1m11 0h2m-2 1h1M37 44h1m18 0h1m0 1h1M40 46h1m14 0h2m-2 1h2m-2 1h1m-2 1h1m-5 2h1m1 0h1m-4 1h1m1 0h1M38 53h1m2 0h2m1 0h2m3 0h1m-5 1h2"/>
<path stroke="#a4a4a4" d="M44 22h4M38 23h2m8 0h2m0 1h2m0 1h1m0 1h1m3 6h1m-1 1h1M28 35h5m25 1h1m-1 1h1m-1 1h1M41 42h1m15 2h1M42 45h1m13 0h1M37 46h1m16 2h1m-2 1h1m-2 1h2m-3 1h1m-2 1h1m-5 1h3m-8 1h4"/>
<path stroke="#a6a6a6" d="M40 22h4M39 32h1m5 2h1m-4 1h1m-3 8h1m3 0h1m-6 3h1m-1 7h2"/>
<path stroke="#a8a8a8" d="M42 41h1m2 0h1m-3 3h1m-9 1h1m2 1h1"/>
<path stroke="#aaaaaa" d="M36 30h1m3 0h1m1 1h1m1 2h1m0 2h1m-8 9h1"/>
<path stroke="#acacac" d="M43 32h1m-3 1h1m0 1h1m0 3h1m-1 1h1m-1 1h1m1 1h1m-7 4h1m1 1h1"/>
<path stroke="#aeaeae" d="M39 30h1m0 2h1m2 4h1m1 0h1m-3 4h1m-2 2h1m1 0h1m-4 1h1"/>
<path stroke="#b0b0b0" d="M37 30h2m-5 2h1m7 1h1m1 1h1m-2 1h1m1 2h1m-2 1h2m-1 1h1m-3 2h1m-1 2h1m-4 1h1m1 0h1"/>
<path stroke="#b2b2b2" d="M39 31h3m-1 1h2m0 1h1m-1 1h1m0 1h1m-1 1h1m-1 1h1m-1 2h1m-1 1h1m-1 1h1m-2 1h1m-2 1h1m-9 1h1m6 0h1m-2 1h1"/>
<path stroke="#b5b5b5" d="M37 31h2m-6 4h1m4 10h2"/>
<path stroke="#b7b7b7" d="M31 42h1m3 2h1m1 1h1"/>
<path stroke="#bbbbbb" d="M35 31h1m-4 3h1m3 11h1"/>
<path stroke="#bfbfbf" d="M36 31h1m-9 9h6m-5 1h4"/>
<path stroke="#c1c1c1" d="M30 34h2"/>
</g>
<path fill="#eeeeee" fill-rule="evenodd" d="M775.5 272.5 773.5 273.2 768.5 272.5 763.5 270.7 759.5 268.1 756.5 265.2 754 261.5 752.2 257.5 751.2 252.5 751.2 248.5 752.2 243.5 754 239.5 756.8 235.5 760 232.5 763.5 230.3 768.5 228.5 772.5 227.9 774.5 228 776.5 229 779.6 231.5 782.5 234.4 788.5 242.5 790.7 246.5 791.9 250.5 791.5 252.3 789.7 256.5 785.7 262.5 781.5 267.7 777.5 271.3Z"/>
<path fill="#111111" fill-rule="evenodd" d="M799.5 269.6 796.5 269.7 794.5 269 792.5 267.5 791.5 265.5 791.7 264.5 795.4 260.5 797.3 257.5 798.3 254.5 798.8 250.5 798.3 246.5 797.3 243.5 795.4 240.5 791.7 236.5 791.5 235.5 792.5 233.5 793.6 232.5 795.5 231.6 797.5 231.2 799.9 231.5 801.8 232.5 804 234.5 806.5 237.5 808.2 240.5 809.3 243.5 810.4 249.5 809.9 255.5 809 258.5 807.7 261.5 805.8 264.5 804 266.5 801.5 268.7Z"/>
</g></g>
<path d="M629.4 427.6v-5.5M629.4 74.1v5.5M643.84 427.6v-3.3M643.84 74.1v3.3M658.28 427.6v-3.3M658.28 74.1v3.3M672.72 427.6v-3.3M672.72 74.1v3.3M687.16 427.6v-3.3M687.16 74.1v3.3M701.6 427.6v-5.5M701.6 74.1v5.5M716.04 427.6v-3.3M716.04 74.1v3.3M730.48 427.6v-3.3M730.48 74.1v3.3M744.92 427.6v-3.3M744.92 74.1v3.3M759.36 427.6v-3.3M759.36 74.1v3.3M773.8 427.6v-5.5M773.8 74.1v5.5M788.24 427.6v-3.3M788.24 74.1v3.3M802.68 427.6v-3.3M802.68 74.1v3.3M817.12 427.6v-3.3M817.12 74.1v3.3M831.56 427.6v-3.3M831.56 74.1v3.3M846 427.6v-5.5M846 74.1v5.5M860.44 427.6v-3.3M860.44 74.1v3.3M874.88 427.6v-3.3M874.88 74.1v3.3M889.32 427.6v-3.3M889.32 74.1v3.3M903.76 427.6v-3.3M903.76 74.1v3.3M918.2 427.6v-5.5M918.2 74.1v5.5M932.64 427.6v-3.3M932.64 74.1v3.3M947.08 427.6v-3.3M947.08 74.1v3.3M961.52 427.6v-3.3M961.52 74.1v3.3M975.96 427.6v-3.3M975.96 74.1v3.3M990.4 427.6v-5.5M990.4 74.1v5.5M1004.84 427.6v-3.3M1004.84 74.1v3.3M1019.28 427.6v-3.3M1019.28 74.1v3.3M1033.72 427.6v-3.3M1033.72 74.1v3.3M1048.16 427.6v-3.3M1048.16 74.1v3.3M1062.6 427.6v-5.5M1062.6 74.1v5.5M629.4 423.42h3.3M1062.6 423.42h-3.3M629.4 409.01h3.3M1062.6 409.01h-3.3M629.4 394.6h5.5M1062.6 394.6h-5.5M629.4 380.19h3.3M1062.6 380.19h-3.3M629.4 365.78h3.3M1062.6 365.78h-3.3M629.4 351.37h3.3M1062.6 351.37h-3.3M629.4 336.96h3.3M1062.6 336.96h-3.3M629.4 322.55h5.5M1062.6 322.55h-5.5M629.4 308.14h3.3M1062.6 308.14h-3.3M629.4 293.73h3.3M1062.6 293.73h-3.3M629.4 279.32h3.3M1062.6 279.32h-3.3M629.4 264.91h3.3M1062.6 264.91h-3.3M629.4 250.5h5.5M1062.6 250.5h-5.5M629.4 236.09h3.3M1062.6 236.09h-3.3M629.4 221.68h3.3M1062.6 221.68h-3.3M629.4 207.27h3.3M1062.6 207.27h-3.3M629.4 192.86h3.3M1062.6 192.86h-3.3M629.4 178.45h5.5M1062.6 178.45h-5.5M629.4 164.04h3.3M1062.6 164.04h-3.3M629.4 149.63h3.3M1062.6 149.63h-3.3M629.4 135.22h3.3M1062.6 135.22h-3.3M629.4 120.81h3.3M1062.6 120.81h-3.3M629.4 106.4h5.5M1062.6 106.4h-5.5M629.4 91.99h3.3M1062.6 91.99h-3.3M629.4 77.58h3.3M1062.6 77.58h-3.3" stroke="#222" stroke-opacity="0.6" stroke-width="0.8" fill="none"/><rect x="629.4" y="74.1" width="433.2" height="353.5" fill="none" stroke="#555" stroke-opacity="0.75" stroke-width="1"/><circle cx="773.8" cy="250.5" r="4.5" fill="#fff"/>
<g font-size="26.8">
<text x="629.4" y="461.8" text-anchor="middle">− 200</text>
<text x="701.6" y="461.8" text-anchor="middle">− 100</text>
<text x="773.8" y="461.8" text-anchor="middle">0</text>
<text x="846" y="461.8" text-anchor="middle">100</text>
<text x="918.2" y="461.8" text-anchor="middle">200</text>
<text x="990.4" y="461.8" text-anchor="middle">300</text>
<text x="1062.6" y="461.8" text-anchor="middle">400</text>
<text x="622.7" y="403.85" text-anchor="end">− 200</text>
<text x="622.7" y="331.8" text-anchor="end">− 100</text>
<text x="622.7" y="259.75" text-anchor="end">0</text>
<text x="622.7" y="187.7" text-anchor="end">100</text>
<text x="622.7" y="115.65" text-anchor="end">200</text>
</g>
<text class="ax" x="871.9" y="498.4" text-anchor="middle"><tspan class="it">x</tspan> [nm]</text>
<text class="ax" transform="translate(561 251) rotate(-90)" text-anchor="middle"><tspan class="it">y</tspan> [nm]</text>
<clipPath id="ca3"><rect x="1221.4" y="73.2" width="428.5" height="349.4"/></clipPath>
<g clip-path="url(#ca3)"><g filter="url(#hm)"><g transform="translate(1206 60.5) scale(5)" stroke-width="1.04" fill="none">
<path stroke="#2a2a2a" d="M39 30h1m0 1h1m0 1h1m0 2h1m-1 1h1m0 2h1m-1 1h1m-2 2h1m-1 1h1m-2 2h1"/>
<path stroke="#2d2d2d" d="M38 29h1m3 7h2m-2 3h2m-4 5h1"/>
<path stroke="#2f2f2f" d="M42 37h1m-1 1h1m-2 4h1m-3 3h1m-6 2h1"/>
<path stroke="#313131" d="M40 30h1m1 12h1M33 47h1m1 0h1"/>
<path stroke="#333333" d="M37 29h1m3 4h2m0 2h1m-1 5h1m-6 6h1"/>
<path stroke="#353535" d="M33 28h2m6 3h1M37 46h1m-6 1h1"/>
<path stroke="#373737" d="M35 28h2m2 1h1m-2 1h1m1 2h1M23 39h1m7 8h1m4 0h1"/>
<path stroke="#393939" d="M32 28h1m6 3h1m0 12h1m0 1h1m-4 1h1m1 0h1"/>
<path stroke="#3c3c3c" d="M37 28h1M25 32h1m-3 6h1m0 3h1m16 0h1M26 44h1m9 2h1"/>
<path stroke="#3e3e3e" d="M31 28h1m-6 3h1m-3 3h1m0 9h1m13 1h1M29 46h1"/>
<path stroke="#404040" d="M27 30h1M27 45h1m11 1h1M30 47h1m6 0h1"/>
<path stroke="#424242" d="M28 29h2m12 3h1M24 33h1m16 1h1m1 0h1M23 37h1m-1 3h1m19 1h1m-2 2h1M28 46h1"/>
<path stroke="#444444" d="M33 27h1m-4 1h1m5 1h1M52 42h1"/>
<path stroke="#464646" d="M34 27h1m3 1h1M23 36h1m0 6h1m27 1h1m-2 1h1M35 46h1m-3 2h2"/>
<path stroke="#484848" d="M32 27h1M52 41h1m8 0h1M51 43h1M25 44h1m0 1h1m24 0h1M29 47h1"/>
<path stroke="#4a4a4a" d="M25 31h1m26 3h1m-1 1h1m-1 1h1M41 40h1m19 0h1M52 44h1M32 48h1"/>
<path stroke="#4c4c4c" d="M35 27h1m-7 1h1m20 0h1m-1 1h1M26 30h1m24 0h1m-1 1h1m8 0h1m-1 1h1m-9 1h1m8 0h1m-1 1h1M23 35h1m29 1h1m-2 1h2m7 2h1M24 40h1m27 0h1m8 2h1M30 46h1m4 2h1m12 2h1"/>
<path stroke="#4f4f4f" d="M44 22h1m6 7h1m8 1h1m-9 2h1m8 0h1m8 0h1M41 35h1m11 0h1m7 0h1m-1 1h1m-1 2h1M51 42h1M27 46h1m10 1h1"/>
<path stroke="#515151" d="M46 23h1m0 1h1m10 1h1M49 27h1m9 0h1m-1 1h1M30 29h1m4 0h1m24 0h1M41 30h1m28 1h1M24 32h1m35 1h1m0 4h1M52 38h2m-2 1h2m-1 1h1m-1 1h1m6 0h1M40 42h1m19 0h1M50 45h1m19 0h1M34 46h1m-4 2h1m15 3h1"/>
<path stroke="#535353" d="M53 18h1m0 1h1m0 1h1m-1 1h1M45 22h1m-1 1h1m2 2h1m0 1h1m8 0h2m9 0h1M31 27h1m4 0h1m13 0h1M27 29h1m12 0h1M28 30h1m21 0h1m1 1h1m8 0h1M51 32h1m19 0h1M25 33h1m44 0h2M53 34h1M23 41h1m47 0h1M25 42h1m45 0h1M60 43h1m-1 1h1m9 0h1M37 45h1m12 1h2m17 0h2M59 48h1M48 49h2m9 0h1M46 52h1"/>
<path stroke="#555555" d="M61 13h1M47 14h2m3 3h1m1 3h1M43 21h1m12 0h1M43 22h1m12 0h1m1 2h1m9 1h2M48 26h1m20 1h1M49 28h1m9 1h1M37 30h1m32 0h1M23 34h1m36 0h1m10 2h1m-1 1h1m8 0h2M44 38h1m26 0h1M60 40h1m10 0h1M43 42h1m9 0h1m16 0h1M24 43h1m36 0h1m8 0h1M50 44h1M28 45h1m12 0h1m18 0h1m-1 1h1M28 47h1m30 0h2m8 0h1M47 50h1m10 0h1m9 0h1M48 51h1m19 0h1m9 1h1M45 53h1m32 0h1M62 61h1m5 8h1"/>
<path stroke="#575757" d="M60 12h1m-9 6h1m0 1h1M44 21h1m12 2h1M46 24h1m10 0h1m10 0h1M47 25h1m20 1h1M58 27h1m-8 1h1m8 0h1m10 3h1M28 32h1m11 1h1m2 0h1m7 0h1m18 1h2m8 0h1M71 35h1m8 0h1M62 36h1m17 0h1M44 37h1m17 0h1m-1 1h1m17 0h2M41 39h1m20 0h1m8 0h1M62 40h1M51 41h1m18 0h1m0 2h1M52 45h1m16 0h1m10 0h1M40 46h1m38 0h2M50 47h1m28 0h1M36 48h1m12 0h1m10 0h1m8 0h1M49 50h1m-4 1h1m10 0h2M45 52h1m1 0h1m9 0h1M44 53h1m11 0h1m20 0h1m-1 1h1M53 57h1m9 3h1m-3 2h1m-2 1h1m-2 1h1m8 4h1m-2 1h1"/>
<path stroke="#595959" d="M57 9h1m2 4h1m-8 4h1m11 1h1m0 1h1m-1 1h1M42 21h1m4 2h1m30 0h1M48 24h1m10 1h1M28 28h1m40 0h1M52 30h1m8 0h1m18 2h1M27 33h1m52 0h1M51 34h1M24 35h1m26 0h1m10 0h1M41 36h1m2 0h1m25 0h1m10 0h1M70 37h1m-1 1h1M44 39h1m25 0h1m9 0h1M70 40h1m-9 1h1m-2 3h1m18 0h1m-2 1h1M59 46h1m10 1h1M30 48h1m19 0h1m7 1h1m9 0h2M59 50h1m8 2h1M57 53h1m-2 1h1m-2 1h1m10 0h1M54 56h1m10 0h1m-1 1h1M52 58h1m-2 1h1m11 0h1M49 60h1m-2 1h1m14 0h1M47 62h1m14 0h1m-5 3h1m-2 1h1m-2 1h1m12 1h1m-3 2h1"/>
<path stroke="#5b5b5b" d="M52 6h1m3 2h1M69 8h1M56 9h1m4 3h1m11 0h1M46 13h2m14 0h1M49 14h1m11 0h2M48 15h2m1 2h1m12 0h1M54 18h1m0 1h1m9 0h1M56 20h1m10 0h1m-1 1h1m9 0h1M57 22h1m9 0h1m9 0h2M44 23h1m11 0h1m-8 2h1m10 2h1m18 0h1M70 28h1m8 0h1M70 29h1m8 0h1M59 30h1m20 0h1M42 31h1m7 0h1m29 0h1M53 33h1M26 34h1m33 1h1m9 0h1m19 2h1M41 38h1m47 0h2M60 39h1m20 0h1M26 41h1m53 2h1M42 44h1M31 46h1m1 0h1m46 1h1m-2 1h1M60 49h1m27 0h1M69 50h1m18 0h1M78 51h1M56 52h1m10 0h1M43 53h1m2 0h1m20 0h1M42 54h2m11 0h1m11 0h1m10 0h1m-2 1h1M53 56h1m12 0h1M52 57h1m-2 1h1m12 0h1M50 59h1m13 0h1m10 0h1M50 60h1m11 0h1m11 0h1M47 61h1m-2 1h1m26 0h1M59 63h1m1 0h1m-2 1h1m11 0h1M57 67h1m11 0h1"/>
<path stroke="#5e5e5e" d="M62 1h1M51 5h1m3 3h1M70 8h1M70 9h1M58 10h1m13 1h1m0 2h1M46 14h1m3 1h1m0 1h1m12 0h1m10 0h1M65 17h1m9 0h2m-1 1h1m0 2h1M66 21h1m20 0h1M46 22h1m8 0h1m31 0h1M68 23h1m8 0h1m-9 1h1m8 0h1M57 25h1m21 0h1m-1 1h1M30 27h1m6 0h1m10 0h1m19 0h1m1 0h1M39 28h1m-6 1h1m14 0h1m19 0h1m10 0h1M69 30h1m9 0h1M30 31h1m38 0h1m-8 3h1m27 0h1M81 35h1M51 36h1M41 37h1m47 0h1M25 38h1m-1 1h1m63 0h2M80 40h1M27 42h1m52 0h1M28 43h1m21 0h1m20 1h1m7 0h1M25 45h1m33 0h1m1 0h1m-4 3h1m9 0h1m19 0h1M79 49h1M67 51h1m11 0h1m7 0h2M58 52h1m18 0h1M68 53h1M44 54h1m21 0h1M54 55h1m0 1h1m-2 1h1m21 0h1M53 58h1m11 0h1m9 0h2M48 60h1m0 1h1m23 0h2M60 62h1m11 1h2M58 64h1m12 1h1M56 66h1m1 0h1m11 0h1m-5 4h1m-2 1h2m10 0h2M64 72h2m11 0h1m8 3h1"/>
<path stroke="#606060" d="M63 2h2M64 3h1m0 1h1M50 5h1m0 1h1m1 0h1M53 7h2M68 7h2M80 7h1M57 8h1m0 1h1M69 9h1M57 10h1m13 0h1M40 11h2m17 0h1m-1 1h1m12 0h1M45 13h1m2 0h1m25 1h1m9 0h1M63 15h1m20 0h1M52 16h1m32 0h1m-1 1h2M64 18h1m21 0h1M76 19h1m9 0h1m0 1h1M78 21h1M42 22h1m25 0h1M58 23h1m8 0h1m19 0h1m-9 1h1M50 26h1m19 0h1M61 29h1m27 0h1M38 31h1m20 0h1m29 0h1M39 32h1m29 0h1m19 0h1M23 33h1m65 0h2M81 34h1m7 0h1m0 1h1M60 36h1m28 0h2M60 38h1M22 39h1m66 1h1M80 41h1M62 42h1M39 43h1m13 0h1M38 44h1m30 0h1M26 46h1m5 0h1m28 0h1M49 47h1m1 0h1m36 0h1M50 49h1m6 1h1m20 0h2m7 0h1M69 51h1M44 52h1m34 0h1m7 0h1m-1 1h1M41 54h1m-2 1h2m25 0h1m8 0h1M37 56h2m37 0h1M64 57h1M52 59h1m21 0h1m0 1h1M61 61h1M45 63h2m24 1h1M57 65h1m1 0h1m-5 2h1m14 0h1M50 70h1m-2 1h1m26 1h1M59 75h2m24 0h1"/>
<path stroke="#626262" d="M60 0h1M73 0h1M61 1h1m1 0h1m1 2h1M47 4h1m4 1h1M66 5h1m0 1h2M79 6h1M90 6h1M55 7h1M90 7h1M68 8h1M80 8h2m9 0h1M71 9h1m9 0h1M39 11h1m2 0h1m15 0h1m1 0h1m12 0h1M44 12h2m37 0h1M74 13h1m8 0h1M63 14h1m9 0h1M47 15h1m16 0h1m9 0h2m9 0h1M50 16h1m12 0h1m2 2h1m8 0h1M38 19h2m27 0h1m9 0h1M40 20h3m22 0h1m10 0h1m9 0h1M41 21h1m15 0h1m30 1h1m-1 1h1M59 24h1m7 0h1m10 1h1m9 1h1m-1 1h1M58 28h1m21 0h1m7 0h2M31 29h1m56 0h1M25 30h1m45 0h1m17 0h1M31 31h1m47 0h1M53 32h1m25 0h1m10 0h1M62 33h1m18 0h1M44 35h1m44 0h1M60 37h1M22 38h1m1 1h1m26 1h1m29 0h1m8 0h1M72 41h1m16 0h1m-1 1h1M79 43h1M33 44h1m37 1h1m16 1h2M39 47h1m49 0h1M48 48h1m21 0h1m9 0h1m8 0h1M47 49h1m19 1h1m20 2h1M42 53h1m12 0h1m20 1h1m10 0h1M56 55h1m8 0h1m20 0h1M36 56h1m2 0h1m37 0h1M66 57h1m-4 1h1M49 59h1m35 0h1M64 60h1M45 62h1m2 0h1m25 0h1M44 63h1m-5 1h2m30 1h1m-2 1h1m-4 1h1m22 0h1M55 68h2m10 0h1M51 69h1m-3 1h1m1 0h1m16 0h1m9 0h1M48 71h1m40 0h1m-2 1h1M63 73h2m11 0h1M61 74h1m24 0h1M73 75h2"/>
<path stroke="#646464" d="M59 0h1M74 0h1M86 0h1M37 1h2M87 1h1M62 2h1M46 3h1M77 3h1M88 3h1M46 4h1m1 0h2M66 4h1M78 4h1M49 5h1M67 5h1M78 5h2m0 1h1M52 7h1M79 7h1M91 7h1M54 8h1m15 2h1m1 0h1m9 0h1M38 11h1m4 0h1m27 0h1m11 0h1M43 12h1m28 1h1m11 0h1M62 15h1m2 1h1m8 0h1m1 0h1M34 18h1m-1 1h1m2 0h1m2 0h1m46 0h1M39 20h1m3 0h1m1 1h1m8 0h1m13 0h1m7 0h1m9 0h1M45 24h1m41 0h2M67 25h1m20 0h1M47 26h1m12 0h1m17 2h1M52 29h1M24 31h1m56 1h1m-3 1h1m-1 1h1M25 37h1m25 0h1m20 0h1M44 40h1m27 0h1m17 1h1M23 42h1m55 0h1m10 0h1m-2 1h1M24 44h1m34 0h1m29 0h1m-1 1h1M49 46h1m11 1h1m6 0h1m9 0h1M29 48h1m48 0h1m-1 1h1m8 0h1m1 0h1M46 50h1m12 1h1m6 2h1M45 54h1m11 0h1m28 0h1M39 55h1m2 0h1m44 0h1M35 56h1m50 0h1M36 57h2m37 0h1m9 1h1M76 59h1M51 60h1m21 0h1m10 0h1M46 61h1m25 1h1m10 1h1M39 64h1m2 0h1m39 0h1M33 65h1m36 0h1m20 1h1M81 67h1m-2 1h1M52 69h1m16 0h1m9 0h1m-1 1h1M50 71h1m13 0h1M43 72h2m18 0h1m14 0h1m10 0h1M43 73h1m31 0h1M62 74h1m12 0h1m11 0h1M61 75h1"/>
<path stroke="#666666" d="M61 0h1M85 0h1M34 1h1m1 0h1m2 0h1M74 1h2M86 1h1m0 1h2M45 3h1m1 0h1M63 3h1M76 3h1M50 4h1M64 4h1M77 4h1M89 4h1M65 5h1M90 5h1M50 6h1m5 1h1M67 7h1M81 7h1M55 9h1M91 9h1M35 10h5m19 0h1m21 0h1m0 1h1M42 12h1m3 0h1m15 0h1m21 0h1M50 14h1m9 0h1m22 0h1M51 15h1m32 1h1m1 0h1M33 18h1m1 0h3m47 0h1M33 19h1m1 0h2m27 0h1M53 20h1m24 0h1m9 1h1M66 22h1m9 0h1M43 23h1m35 0h1m-3 1h1M46 25h1m23 0h1m16 0h1M57 26h1m20 0h1M51 27h1m26 0h1m1 0h1m8 0h1M26 29h1m6 0h1m54 1h1M29 31h1m51 0h1m8 0h1M50 32h1m11 0h1m6 1h1m9 2h1M54 36h1m17 0h1m6 0h1M54 37h1m24 0h1m-8 1h1M51 39h1m20 0h1M22 40h1m58 1h1M72 42h1m-4 1h1m11 0h1m8 0h1M30 44h2m49 0h1m-1 1h1m6 0h1M52 46h1m25 0h1M58 47h1M37 48h1m51 2h1M45 51h1m10 0h1m12 1h1m9 1h1m6 0h1M40 54h1m27 0h1M31 56h4m5 0h1m23 0h1M51 57h1m25 0h1m8 0h1M50 58h1m35 0h1M62 59h1m21 0h1m0 1h1m-2 1h1M63 62h1m19 0h1M26 63h1m14 0h3m29 1h1m9 0h1M32 65h1m1 0h1m46 0h2m8 0h1M69 66h1m11 0h1m-2 1h1M53 68h2m36 0h1M53 69h1m12 0h1m23 0h1m-2 1h2M47 71h1m19 0h1m20 0h1M45 72h1m1 0h2m-7 1h1m19 0h1m14 0h1m9 0h2M60 74h1m13 0h1"/>
<path stroke="#686868" d="M58 0h1M87 0h1M32 1h2m1 0h1m4 0h1M60 1h1M34 2h2m4 0h1M75 2h2m1 1h1M89 3h1M20 4h2M45 4h1m2 1h1M89 5h1M54 6h1M66 6h1M78 6h1M90 8h1M80 9h1m1 0h1M29 10h6m5 0h1m15 0h1M37 11h1m6 0h1m-5 1h2m32 0h1M44 13h1m4 0h1m13 0h1m9 2h1M49 16h1m13 1h1m10 0h1M38 18h1m12 0h1m25 0h1m9 0h1M52 19h1m22 0h1m9 0h1M38 20h1m29 0h1M40 21h1m45 1h1M48 23h1m20 0h1M56 24h1m23 2h1m6 0h1M29 27h1m31 1h1m6 0h1M32 29h1m45 0h1m11 0h1M49 30h1m40 0h1m-3 1h1M29 32h1m29 0h1m12 1h1m-1 1h1m-1 1h1M25 36h1m-4 1h1m28 1h1m2 0h1m24 0h1m8 0h1m-1 1h1M25 40h1m24 2h1m18 0h1m11 0h1M62 43h1m27 1h1M68 46h1m2 0h1M27 47h1m33 1h1m25 0h1M70 49h1M58 53h1m17 0h1m11 0h1M54 54h1M38 55h1m39 0h1M30 56h1m21 0h1m14 0h1m17 0h1m1 0h1M35 57h1m2 0h1m16 0h1m29 0h1M54 58h1m19 0h1M65 59h1m20 0h1M47 60h1m2 1h1m32 0h1M44 62h1m39 0h1M25 63h1m14 0h1m6 0h1m14 0h1m8 0h1m10 0h1M34 64h2m2 0h1m4 0h2M31 65h1m3 0h2m2 0h2m41 1h1M54 67h1m-3 1h1m17 0h1m8 0h1m1 0h1m8 0h1M50 69h1m29 0h1M52 70h1m24 0h1m-2 1h1m13 0h1M42 72h1m3 0h1m-6 1h1m2 0h1M35 74h2m3 0h2m21 0h1m-6 1h1m28 0h1"/>
<path stroke="#6a6a6a" d="M72 0h1M31 1h1M64 1h1M88 1h1M33 2h1m2 0h4m1 0h1M65 2h1M44 3h1m3 0h1M87 3h1M51 4h1M79 4h1m8 0h1M47 5h1M89 6h1M70 7h1m0 1h1m7 0h1M28 10h1m12 0h2m26 0h1M28 11h2m4 0h3m24 0h1m20 1h1M59 13h1M45 14h1m29 0h1m9 0h1m-3 1h1M54 17h1M32 18h1m22 0h1M28 19h2m2 0h1m8 0h1m14 0h1M27 20h2m12 2h1m16 0h1m21 3h1m8 1h1m-3 1h1M27 28h1m20 0h1m22 1h1m9 1h1M62 31h1m9 1h1m15 0h1M54 35h1m27 2h1m-1 1h1M54 39h1m24 0h1M54 40h1m33 0h1M40 41h1m28 0h1m9 0h1m8 0h1m-1 1h1M59 43h1m28 0h1M27 44h1m4 0h1m20 0h1m34 0h1M49 45h1m28 0h1m11 0h1M81 46h1M67 49h1m12 0h1M60 50h1M49 51h1m27 0h1M43 52h1m4 0h1m37 0h1M41 53h1m5 0h1m40 1h1M53 55h1m31 0h1M29 56h1m1 1h2m44 1h1m5 2h1M27 63h1m30 0h1m25 0h1M32 64h2m2 0h2m7 0h1m15 0h1M37 65h2m2 0h1m41 0h1M55 66h1m24 0h1M58 67h1m31 0h1M57 68h1m-4 1h1m23 0h1M48 70h1m16 0h1M51 71h1m27 0h1M49 72h1m16 0h1m8 0h1M40 73h1m4 0h1m19 0h1M30 74h1m6 0h2m3 0h1m33 0h1m8 0h1m2 0h1M72 75h1m2 0h1"/>
<path stroke="#6c6c6c" d="M62 0h1M75 0h1M30 1h1M41 1h1M76 1h1M32 2h1m9 0h2M77 2h1M43 3h1M66 3h1m0 1h1M90 4h1M19 5h2M53 5h1M68 5h1m8 0h1m2 0h1M69 6h1M91 6h1M53 8h1m4 0h1m9 1h1m14 1h1m7 0h1M30 11h1m2 0h1m5 1h1m7 0h1m23 0h1M21 13h1m42 1h1m7 0h1M53 16h1m-4 1h1m15 0h1m17 0h1m2 0h1M63 18h1M30 19h1m-2 1h1m55 0h1m-7 2h1M66 23h1m9 0h1m9 0h1M49 24h1m10 1h1M32 26h3m32 0h1m22 2h1M32 31h1m20 0h1m34 2h1M69 34h1m18 0h1M22 36h1m65 1h1M26 40h9m34 0h1m9 0h1M26 43h1m2 0h1m13 0h1m-8 2h1m53 1h1m-4 1h1M51 48h1m5 1h1m12 1h1m18 1h1M66 52h1m-2 2h1M28 55h2m1 0h3m3 0h1m5 0h1m-3 1h1m14 0h1m18 0h1M30 57h1m2 0h2m31 1h1m17 0h1M53 59h1m10 2h1m10 0h1m9 0h1M21 62h2m26 0h1m9 0h1M24 63h1m49 0h1M26 64h2m29 0h1m23 0h1M56 65h1m3 0h1m-2 1h1m11 1h1m10 0h1M51 68h1m37 1h1M44 71h3m40 1h1M29 73h2m4 0h2m2 0h1m21 0h1m27 0h1M29 74h1m1 0h1m2 0h1m4 0h1"/>
<path stroke="#6e6e6e" d="M29 1h1M73 1h1M31 2h1M44 2h2M61 2h1M74 2h1M86 2h1m2 0h1M21 3h1M41 3h2m6 0h1M75 3h1M19 4h1m2 0h1M76 4h1M18 5h1M17 6h1M51 7h1M89 7h1M82 8h1M72 9h1M27 10h1m15 0h1M27 11h1m3 0h2m24 0h1m12 0h1m10 0h1m2 0h1M58 12h1M20 13h1m1 0h1m59 0h1M20 14h2m39 1h1m3 0h1M48 16h1m13 0h1m14 1h1M31 18h1m7 0h1M27 19h1m3 0h1m-6 1h1m10 0h1m6 0h1m12 0h1m30 0h1M65 21h1M47 22h1m7 1h1m3 0h1m29 0h1m-1 1h1M77 25h1m11 0h1M71 28h1m15 0h1M78 30h1M27 31h1m-5 1h1m2 0h1m16 0h1m6 1h1m8 0h1M22 35h1m65 0h1M63 36h1m24 0h1M63 37h1M24 38h1m44 1h1M59 42h1m12 1h1M29 44h1m32 0h1m15 0h1M58 46h1m12 1h1m18 0h1m-5 4h1M55 52h1m13 1h1M27 55h1m2 0h1m3 0h3m-9 1h1m10 1h1m47 0h1M73 59h1M52 60h1m8 0h1M20 61h2m50 0h1M23 62h1m58 0h1M23 63h1m4 0h1m10 0h1M25 64h1m2 0h1m2 0h1m38 0h1m13 0h1m6 0h1M30 65h1m11 0h1M32 66h2m1 0h1m36 0h1m17 0h1M55 69h1m35 0h1M53 70h1m34 0h1M62 72h1m27 0h1M28 73h1m2 0h1m5 0h2m7 0h1m27 0h1m11 0h1M28 74h1m3 0h2m9 0h1m18 1h1m21 0h1"/>
<path stroke="#717171" d="M57 0h1M84 0h1M28 1h1M42 1h1M59 1h1M85 1h1M30 2h1M46 2h1M20 3h1m1 0h2M40 3h1m3 1h1M17 5h1m3 0h1M46 5h1M88 5h1M16 6h1m1 0h1M55 6h1M81 6h1M57 7h1M78 7h1M30 9h4m2 0h2M59 9h1m0 1h1m12 0h1m6 0h1M26 11h1m18 0h1M26 12h1m11 0h1m4 1h1m41 0h1M46 15h1m5 0h1m23 0h1m9 0h1M29 18h2m36 0h1m6 0h1M42 19h1m35 0h1M34 20h1m40 0h1M23 21h5m11 0h1M22 22h1m46 0h1m19 0h1M42 23h1m27 1h1m9 0h1m5 0h1M50 25h1M38 27h1m51 0h1M58 29h1m9 0h1m12 0h1M62 30h1m9 1h1M22 34h1m17 0h1m3 0h1M25 35h1m43 0h1M24 36h1m44 0h1m12 0h1M69 37h1m-7 1h1m5 0h1m12 1h1M22 41h1m31 0h1m32 5h1M48 47h1m32 0h1M28 48h1m21 2h1m29 0h1M20 51h2m-1 1h2m16 2h1m6 0h1m32 0h1m5 0h1M26 55h1m30 0h1m10 0h1m6 0h1m12 0h1M63 57h1M48 59h1m34 0h1M18 60h2m56 0h1m9 0h1M19 61h1m25 0h1m14 0h1M20 62h1m3 0h2m17 0h1M29 64h2m15 0h1M11 65h2m67 0h1M31 66h1m2 0h1m1 0h1m16 1h1m13 0h1m11 0h1M49 69h1m31 0h1m-2 1h1M43 71h1m19 0h1M41 72h1M25 73h3m4 0h3m-8 1h1m31 0h1m4 0h1m-8 1h1"/>
<path stroke="#737373" d="M10 0h2M27 1h1M43 1h1M25 2h2m1 0h2M47 2h1M24 3h2M62 3h1M79 3h1M52 4h1M63 4h1m0 1h1M49 6h1M2 7h2M16 7h1M67 8h1M12 9h1M34 9h2m2 0h1M54 9h1M90 9h1M11 10h2m12 1h1m48 0h1m16 0h1M22 12h1m1 0h2m1 0h1m20 0h1M23 13h1m-5 1h1m2 0h1m50 2h1m9 0h1M17 17h1m10 1h1M14 19h1m53 0h1M13 20h2m10 0h1m7 0h1m1 0h2M23 22h1m20 2h1M31 26h1m3 0h1m11 1h1m9 0h1m13 0h1M52 28h1M8 29h1m78 0h1M50 34h1m3 0h1m8 1h1m-1 4h1m-1 1h1M44 41h1m5 0h1M7 43h1m15 0h1M7 44h1m41 0h1m18 1h1m21 3h1M19 49h1m13 0h2m26 0h1M10 50h1m9 0h1m56 0h1m8 0h1M44 51h1m25 0h1M59 52h1m16 0h1M25 54h3m-3 1h1m38 0h1M27 56h1m1 1h1m37 0h1m16 0h1M17 59h2m-2 1h1m4 1h1m3 1h1m-5 1h1m15 0h1M10 64h2m17 1h1m39 0h1m3 0h1M37 66h1M16 69h1m3 2h1m31 0h1M25 72h2m23 0h1m28 0h1M7 73h1m39 0h1m30 0h1M26 74h1m17 0h1m28 0h1M11 75h2"/>
<path stroke="#757575" d="M12 0h1M38 0h1M9 1h1M26 1h1M77 1h1M24 2h1m2 0h1M78 2h1M7 3h1M26 3h1m6 0h2m4 0h1M50 3h1M90 3h1M18 4h1m4 0h1M80 4h1m6 0h1M16 5h1m2 1h1M65 6h1M15 7h1m1 0h1M66 7h1M1 8h2M13 9h1M29 9h1M79 9h1m3 0h1M26 10h1M10 11h2m-2 1h1m10 0h1m1 0h1m4 0h1m8 0h1M24 13h2m45 0h1m3 0h1M51 14h1m30 0h1M6 15h1m12 0h2M6 16h1m10 0h2m47 0h1m20 0h1M18 17h1m14 0h4m3 1h1M13 19h1m10 1h1m5 0h1m33 0h1M12 21h2m8 0h1m5 0h1m50 0h1m5 0h1M1 22h2m8 0h1m9 0h1m2 0h1m29 0h1M1 23h1m19 0h2m43 1h1m19 1h1M18 26h2m-2 1h1m9 0h1m32 0h1M8 28h1m0 1h1m31 0h1M8 30h1m27 0h1m-4 1h2m43 0h1m12 2h1m-1 1h1M14 35h2m10 0h10m46 0h1m8 1h1M24 37h1m66 0h1M59 41h1M15 42h2M8 43h1m6 0h2m61 0h1M8 44h1m15 1h1m37 0h1M25 46h1m-8 1h1m-1 1h1m19 0h1m8 0h1m19 0h1m3 0h1M9 49h2m7 0h1m13 0h1m13 0h1M9 50h1m9 0h1m46 1h1m13 0h1M1 52h2m17 0h1m2 0h1m18 0h1m46 0h1M22 53h2M13 55h1m30 0h1M4 56h1m8 0h1m12 0h1m15 0h1m35 0h1M40 57h1m33 0h1M16 58h2m44 0h1m24 0h1M77 59h1M20 60h1m44 0h1M6 61h2m10 0h1m32 0h1m30 0h1M27 62h1m14 0h1m28 0h1m13 0h1M21 63h1m26 0h1m32 0h1M24 64h1M10 65h1m2 0h1m29 0h1M12 66h2m16 0h1m7 0h1m29 0h1m14 0h1M52 67h1M16 68h1m49 0h1m11 0h1m3 0h1m6 0h1M17 69h1m38 0h1M17 70h4m26 0h1m16 0h1m4 0h1m21 0h1M19 71h1m1 0h1m46 0h1m18 0h1M6 72h1m17 0h1m2 0h1m12 0h1M6 73h1m1 0h1m15 0h1m35 0h1M25 74h1m19 0h1"/>
<path stroke="#777777" d="M37 0h1m1 0h1M63 0h1M88 0h1M8 1h1m1 0h1M25 1h1M44 1h1M7 2h3M23 2h1M48 2h1M60 2h1M6 3h1M8 3h1M27 3h1m4 0h1m2 0h1M6 4h1M43 4h1M91 5h1M3 6h1M15 6h1M77 6h1M88 6h1M1 7h1M82 7h1M3 8h1m9 0h1M11 9h1M28 9h1M10 10h1m2 0h1m41 0h1M12 11h1m11 0h1m37 0h1M9 12h1m10 0h1m42 0h1m17 0h1m3 0h1m5 0h1M19 13h1m6 0h1m15 0h1m7 0h1M6 14h1M5 15h1m12 0h1m53 0h1M5 16h1m13 0h1M5 17h2m9 0h1m15 0h1m4 0h1M14 18h3m67 0h1M15 19h1m10 0h1m61 0h1M12 20h1m18 0h2M11 21h1m63 0h1M40 22h1M2 23h1m8 0h1M1 24h1m8 0h1m9 0h2m38 0h1m15 0h1M19 25h2m35 0h1M46 26h1m30 0h1m12 0h1M17 27h1m1 0h1m47 0h1M9 28h1m71 0h1M7 30h1m34 0h1m10 0h1m14 0h1M7 31h1m8 0h1m32 0h1M7 32h1m19 0h1M6 33h2m7 0h1M7 34h1m6 0h3m42 0h1M50 35h1m40 0h1M14 36h1m76 2h1M82 40h1M15 41h2m46 0h1M7 42h1M6 43h1m8 1h2m70 1h1M0 46h1m40 0h1M0 47h1m16 0h1M0 48h1m8 0h2m6 0h1m1 0h1m66 1h1m3 0h1M45 50h1m10 0h1M1 51h2m6 0h2m8 0h1m2 0h1M1 53h2m18 0h1m2 0h2m14 0h1M2 54h1m10 0h1m10 0h1m3 0h1m29 0h1m16 0h1M3 55h2m7 0h1M5 56h1m6 0h1m1 0h1m73 0h1M4 57h2m9 0h2m1 1h1m17 0h2m11 0h1m5 0h1M16 59h1m2 0h1m67 0h1M5 60h2m65 0h1M7 62h1m21 1h1m33 0h1m27 0h1M9 64h1m2 0h1m14 1h2m61 0h1M11 66h1m2 0h1m39 0h1M15 68h1m1 0h1m32 0h1M15 69h1m2 0h1m58 0h1M16 70h1m4 0h1m32 0h1M18 71h1m3 0h1m19 0h1M5 72h1m1 0h1m15 0h1m4 0h4M9 73h1m38 0h1M7 74h2m68 0h1m11 0h1M0 75h1m34 0h3"/>
<path stroke="#797979" d="M9 0h1M30 0h4m6 0h1M76 0h1M58 1h1M89 1h1M66 2h1M19 3h1m8 0h1m2 0h1m4 0h1m1 0h1M86 3h1M5 4h1M7 4h1m9 0h1m6 0h2M42 4h1M75 4h1M5 5h1M22 5h1M45 5h1m8 0h1M76 5h1M2 6h1M4 6h1M48 6h1M70 6h1M4 7h1M18 7h1M71 7h1M12 8h1m1 0h2M52 8h1M89 8h1M1 9h1M14 9h1M39 9h1M25 10h1m18 0h1m23 0h1M9 11h1m13 0h1M11 12h1m17 0h1m6 0h1M7 14h1m10 0h1m4 0h1m20 0h1M7 15h1m13 0h1M4 16h1m2 0h1m69 0h1M4 17h1m26 0h1M5 18h1m7 0h1m3 0h1m45 1h1M15 20h1m7 0h1M2 21h2m10 0h1m14 0h1m8 0h1m7 0h1m11 0h1m10 0h1m19 0h1M3 22h1m6 0h1m1 0h1m12 0h1m39 0h1M10 23h1m9 0h1m2 0h1M2 24h1m8 0h1m10 0h1M1 25h1m8 0h1m7 0h1m2 0h1M9 26h2m6 0h1m2 0h1m30 0h1m19 0h1m14 0h1M0 27h1m7 0h2m67 0h1M0 28h1m16 0h2M7 29h1m9 0h1m7 0h1m22 0h1m13 0h1M9 30h1m6 0h1m7 0h1m62 0h1M8 31h1m6 0h1m52 0h1M6 32h1m8 0h2m61 0h1M16 33h1m5 0h1m31 0h1M6 34h1m56 0h1m18 0h1M7 35h1m5 0h1m2 0h1m-2 1h1m34 0h1M6 38h2m83 1h1M59 40h1M6 42h1m1 0h1m45 0h1m23 0h1M6 44h1m27 0h1m37 0h1M0 45h1m6 0h2m8 0h1m24 0h1m10 0h1m4 0h1M17 46h2m43 0h1M19 47h1m32 0h1m24 0h1M57 48h1m19 0h1M20 49h1m10 0h1m3 0h1m41 0h1M11 50h1m6 0h1m2 0h1m38 1h1m19 1h1M54 53h1m30 0h1M3 54h1m8 0h1m10 0h1m5 0h1m8 0h1m30 0h1M14 55h1m9 0h1M3 56h1m11 0h1m9 0h1m58 0h1M14 57h1m2 0h1m38 0h1M4 58h2m9 0h1m15 0h1M5 59h1m1 1h1m8 0h1m4 0h1m24 0h1m35 0h1M5 61h1m2 0h1m14 0h1M6 62h1m1 0h1m32 0h1m22 0h1m10 0h1M9 63h2m23 0h4M23 64h1m50 0h1m5 0h1M0 65h1m13 0h1m11 0h1m57 0h1M0 66h2m37 0h2m38 0h1M1 67h2m11 0h3m2 2h1m45 0h1m4 0h1m17 0h1M4 70h1m17 0h1m53 0h1M4 71h2m17 0h3m49 0h1M4 72h1m3 0h1m10 0h4m9 0h1m2 0h5m34 0h1M5 73h1m17 0h1m66 0h1M9 74h2m13 0h1M13 75h1m18 0h3m3 0h1m32 0h1m4 0h1m11 0h1"/>
<path stroke="#7b7b7b" d="M13 0h1M34 0h3M71 0h1M11 1h1M24 1h1M45 1h1M65 1h1M6 2h1m3 0h1M22 2h1M85 2h1M5 3h1M9 3h1M29 3h2m6 0h1M67 3h1M4 4h1M26 4h1M41 4h1M68 4h1M4 5h1M15 5h1M69 5h1M5 6h1M20 6h1M56 6h1M14 7h1M50 7h1M78 8h1M0 9h1M2 9h1m7 0h1M27 9h1M40 9h1M0 10h1m8 0h1m14 0h1m59 0h1M0 11h1m45 0h1m22 0h1m10 0h1M8 12h1m25 0h2M7 13h4m53 0h1M5 14h1m53 0h1M17 15h1m64 0h1M16 16h1m30 0h1M3 17h1m3 0h1m7 0h1m33 0h1m12 0h1m10 0h1M3 18h2m1 0h1m20 0h1m50 0h1M4 19h1m7 0h1m3 0h1m8 0h1m17 0h1m30 0h1M3 20h1M1 21h1m8 0h1M0 22h1m84 0h1M0 23h1m79 0h1M0 24h1m8 0h1m9 0h1M0 25h1m8 0h1m1 0h1m33 0h1M0 26h2m6 0h1m21 0h1m5 0h1m44 1h1M7 28h1m32 0h1m36 0h1M0 29h1m15 0h1m1 0h1m-4 1h1m1 0h1m54 0h1M6 31h1m10 0h1m69 0h1M8 32h1m21 0h1m60 0h1M14 33h1m11 0h1m51 0h1m3 0h1M8 34h1m4 0h1m64 0h1M6 35h1M0 36h1m6 0h1m5 0h1M0 37h1m6 0h1m6 0h2M6 39h2m7 0h1m-1 1h2m23 0h1m41 1h1M14 42h1m76 0h1M0 43h1m13 0h1m2 0h1m73 0h1M0 44h1m13 0h1m2 0h1m69 0h1M15 45h2M8 46h1m39 0h1m28 0h1M8 47h2m16 0h1m13 0h1M8 48h1m72 0h1M0 49h1m7 0h1m2 0h1m5 0h1m33 0h1m19 0h1M0 50h2m6 0h1m81 0h1M11 51h1m-2 1h2m12 0h1M12 53h2m12 0h1m38 0h1m23 0h1M1 54h1m20 0h1M2 55h1m8 0h1m39 1h1m16 0h1M12 57h2m14 0h1m21 0h1M30 58h1m4 0h1m37 0h1m9 0h1M4 59h1m1 0h1m47 0h1m11 0h1M17 61h1m26 0h1m41 0h1M9 62h1m9 0h1m8 0h1M8 63h1m21 0h1m2 0h1m36 0h1m14 0h1M13 64h1M9 65h1m34 0h1M2 66h1m7 0h1m4 0h1m25 0h1M12 67h2m69 0h1M2 68h2m10 0h1m43 0h1M3 69h1M3 70h1m11 0h1m7 0h1m22 0h1M3 71h1m13 0h1m8 0h1m53 0h1M9 72h1m8 0h1m14 0h2m16 0h1m9 0h1m5 0h1m18 0h1m-2 1h1M6 74h1m4 0h1m34 0h1M10 75h1m19 0h2m7 0h2m15 0h1"/>
<path stroke="#7d7d7d" d="M0 0h1M8 0h1M27 0h3M41 0h1M56 0h1M7 1h1M72 1h1M21 2h1M49 2h1M73 2h1M51 3h1M74 3h1M8 4h1m7 0h1M3 5h1M6 5h1M81 5h1m5 0h1M1 6h1M13 7h1M0 8h1M4 8h1m6 0h1m4 0h1M72 8h1M26 9h1M41 9h2M1 10h1m59 0h1M8 11h1m4 0h1m42 0h1M0 12h1m11 0h1m17 0h1m2 0h1m15 0h1m20 0h1M6 13h1m11 0h1m8 0h1m13 0h1m49 0h1M8 14h1m15 0h1m40 0h1m20 0h1M4 15h1m55 0h1M3 16h1m50 0h1M14 17h1m4 0h1m10 0h1m36 0h1M18 18h1m22 0h1m14 0h1m31 0h1M3 19h1m1 0h1m45 0h1m5 0h1m26 0h1M4 20h1m6 0h1m10 0h1m56 0h1M4 21h1m16 0h1m31 0h1M13 22h1m6 0h1m5 0h1m48 0h1M3 23h1m5 0h1m2 0h1m57 0h1M2 25h1m5 0h1m8 0h1m72 0h1M11 26h1m9 0h1m39 0h1M1 27h1m8 0h1m75 0h1M10 28h1m5 0h1m2 0h1m6 0h1M10 29h1m66 0h1M0 30h1m5 0h1m22 0h1m28 0h1M23 31h1M14 32h1m2 0h1m64 0h1M8 33h1M0 35h1m7 0h1m69 0h1M6 36h1m1 0h1m7 0h1m61 0h1M6 37h1m1 0h1m69 0h1M0 38h1m4 0h1m2 0h1m5 0h2M5 39h1m2 0h1m12 0h1M6 40h3m5 0h1m35 0h1m40 0h1M6 41h3m5 0h1m72 0h1m3 0h1M0 42h1m16 0h1m45 0h1m18 0h1m4 0h1M1 43h1m3 0h1m3 0h1m21 0h1m17 0h1m32 0h1m4 0h1M1 44h1m7 0h1m58 0h1m22 0h1M1 45h1M1 46h1m5 0h1m8 0h1m-1 1h1m45 0h1m23 1h1M30 49h1M2 50h1m63 0h1M0 51h1m2 0h1m19 0h1M3 52h1m5 0h1m2 0h1m6 0h1m50 0h1M3 53h1m7 0h1m8 0h1M11 54h1m2 0h1m15 0h2m21 0h1M5 55h1m78 0h1M11 56h1m4 0h1m7 0h1m38 0h1M3 57h1m14 0h1m22 0h1m36 0h1M14 58h1m17 0h1m5 0h1M15 59h1m4 0h1M4 60h1m0 2h1m44 0h1m30 0h1m9 0h1M11 63h1m8 0h1m11 0h1M0 64h1m46 0h1m14 0h1M1 65h1m23 0h1m29 0h1M29 66h1M0 67h1m2 0h1m13 0h1m41 0h1m29 0h1M1 68h1m2 0h1m13 0h1m52 0h1M2 69h1m1 0h1m9 0h1m5 0h3m25 0h1m8 0h1M5 70h1m0 1h1m9 0h1m36 0h1m37 0h1M3 72h1m6 1h1m11 0h1m26 0h1m16 0h1M12 74h1m52 0h1m18 0h1M1 75h1m27 0h1m11 0h1m21 0h1"/>
<path stroke="#808080" d="M14 0h1M26 0h1M6 1h1M84 1h1M5 2h1M90 2h1M4 3h1M18 3h1M61 3h1M27 4h1M40 4h1M53 4h1m8 0h1M91 4h1M14 6h1m6 0h1M47 6h1M0 7h1M5 7h1M58 7h1M88 7h1M31 8h2M59 8h1M9 9h1M67 9h1M14 10h1m75 0h1M22 11h1m62 0h1M7 12h1m11 0h1m11 0h2m42 0h1M5 13h1m5 0h1m46 0h1m22 0h1M17 14h1m7 0h1m45 0h1m4 0h1M8 15h1m44 0h1M2 16h1m17 0h1M2 17h1m26 0h1m8 0h1m16 0h1m27 0h1M2 18h1m47 0h1M2 20h1m42 0h1m6 0h1m16 0h1M0 21h1m14 0h1M4 22h1m54 0h1M41 23h1M8 24h1m3 0h1m-1 1h1m9 0h1m43 0h1m4 0h1m9 1h1M7 27h1m8 0h1m3 0h1M1 28h1m4 1h1m8 0h1m16 1h1M0 31h1m8 0h1m72 0h1m8 0h1M5 32h1m62 0h1m18 0h1M5 33h1m11 0h1m69 0h1M0 34h1m16 0h1m22 1h1m18 0h1M5 37h1m7 0h1m2 0h1m56 0h1m-1 1h1m4 0h1M14 39h1m1 0h1m42 0h1m27 0h1M9 40h1m11 0h1m51 0h1m13 0h1M0 41h1m8 0h1m7 0h1m55 0h1m4 0h1M5 42h1m3 0h1m12 0h1m16 0h1M27 43h1M2 44h1m20 0h1m58 0h1M6 45h1m2 0h1m8 0h1m13 0h1m2 0h1m36 0h1m4 0h1M9 46h1M1 47h1m5 0h1m2 0h1m56 0h1M1 48h1m9 0h1m4 0h1m3 0h1m6 0h1M1 49h1m14 0h1m0 1h1M8 51h1m3 0h1m5 0h1m36 0h1M0 52h1m24 0h1M10 53h1m16 0h1m31 0h1m15 0h1m4 0h1M4 54h1m27 0h3m1 0h2m51 0h1M15 55h1m7 0h1m21 0h1m6 0h1M2 56h1m3 0h1m50 0h1m16 0h1M6 57h1m4 0h1m15 0h1m60 0h1M3 58h1m2 0h1m12 0h1m13 0h2m32 0h1M3 59h1m57 0h1M8 60h1m6 0h1m37 0h1m33 0h1M4 61h1m4 0h1m6 0h1m7 0h1m15 1h1m17 0h1M7 63h1m23 0h1m25 0h1M8 64h1m13 0h1m33 0h1m12 0h1M45 65h1m15 0h1M16 66h1m43 0h1M11 67h1m20 0h2m17 0h1m20 0h1m5 0h1M13 68h1M5 69h1m76 0h1M2 70h1m21 0h1m20 0h1m9 0h1m31 0h1M7 71h1m19 0h1m34 0h1M4 73h1m14 0h3m51 0h1m5 0h1M23 74h1m34 0h1M28 75h1"/>
<path stroke="#828282" d="M25 0h1M42 0h1M83 0h1M0 1h1M12 1h1M23 1h1M46 1h1M78 1h1M20 2h1M59 2h1M79 2h1M10 3h1M3 4h1M9 4h1M2 5h1M7 5h1M23 5h1M44 5h1M63 5h1M6 6h1m5 1h1m6 0h1M77 7h1M17 8h1M33 8h1m3 0h1M83 8h1M3 9h1M15 9h1m9 0h1M53 9h1m6 0h1M8 10h1m14 0h1m55 0h1M1 11h1m19 0h1M6 12h1m50 0h1M0 13h1m39 0h1M4 14h1m4 0h1M3 15h1m12 0h1m5 0h1m22 0h1M8 16h1m6 0h1m56 0h1M13 17h1M7 18h1m4 0h1M2 19h1m3 0h1m10 0h1m6 0h1M1 20h1m3 0h1m4 0h1m5 0h1m13 1h1m6 0h1M9 22h1m4 0h1m12 0h1m-4 1h1m24 0h1m35 0h1M3 24h1m14 0h1m4 0h1m19 0h1m46 0h1M7 25h1m68 0h1M2 26h1m4 0h1m4 0h1m3 0h1m5 0h1M11 27h1m15 0h1m34 1h1m9 1h1M5 30h1m4 0h1m3 0h1m3 0h1m12 0h1M5 31h1m8 0h1M0 32h1m30 0h1m17 0h1M0 33h1m12 0h1m25 0h1m23 0h1M5 34h1M1 35h1m10 0h1m4 0h1M1 36h1m71 0h1M4 37h1m45 0h1M4 38h1m11 0h1m4 0h1m65 0h1M0 39h1m8 0h1m63 0h1M0 40h1m4 0h1m11 0h1M5 41h1M2 43h1m1 0h1m25 0h1m3 0h1M3 44h1m1 0h1m31 0h1m5 0h1M2 45h1m11 0h1m14 0h1m1 0h1m50 0h1M15 46h1m3 0h1m66 1h1M7 48h1m13 1h1m14 0h1M3 50h1m8 0h1m9 0h1m38 0h1m9 0h1M43 51h1m32 0h1m13 0h1M8 52h1m4 0h1m27 0h1m43 0h1M0 53h1m8 0h1m4 0h1m6 1h1m13 0h1m28 0h1M1 55h1m4 0h1m72 0h1M17 56h1m25 0h1M26 57h1M13 58h1m15 0h1M7 59h1m64 0h1m9 0h1M3 60h1m18 0h1m42 1h1M10 62h1m7 0h1M0 63h1m5 0h1m5 0h1m1 1h1m70 0h1m4 0h1M2 65h1m12 0h1m8 0h1m54 0h1M3 66h1m5 0h1m32 0h1m10 0h1m19 0h1m10 0h1M4 67h1m26 0h1m2 0h3M0 68h1m4 0h1m13 0h1M1 69h1m4 1h1m7 0h1m29 0h1m18 0h1m17 0h1M2 71h1m5 0h1m6 0h1m25 0h1M10 72h1m6 0h1m-7 1h1m47 0h1M47 74h1m24 0h1M9 75h1m4 0h1m12 0h1m14 0h1m40 0h1"/>
<path stroke="#848484" d="M7 0h1m7 0h1m8 0h1M77 0h1M47 1h1M11 2h1M50 2h1M80 3h1M15 4h1M86 4h1M0 6h1M64 6h1M82 6h1M5 8h1m4 0h1M30 8h1m5 0h1M8 9h1M43 9h1M73 9h1M89 9h1M2 10h1m4 1h1m6 0h1m32 0h1M13 12h1m3 1h1m21 0h1M10 14h1m15 0h1m25 0h1m13 1h1m10 0h1m9 0h1M1 16h1m59 0h1M1 17h1m26 0h1m59 0h1M26 18h1m41 0h1M11 19h1m11 0h1m34 1h1m25 0h1m4 0h1M5 21h1m3 0h1m24 0h1m1 0h1m-9 1h1m10 0h1m8 0h1M4 23h1m3 0h1m4 0h1m5 0h1m55 0h1m5 2h1M29 26h1m7 0h1M2 27h1m18 0h1m30 0h1M2 28h1m3 0h1m8 0h1m31 0h1m9 0h1m9 0h1m18 0h1M1 29h1m3 0h1m13 0h1m13 1h1m48 0h1M18 31h1m18 0h1m5 0h1M9 32h1m24 0h1m19 0h1M1 33h1m42 0h1m23 0h1M1 34h1m10 0h1m74 0h1M5 35h1m3 0h1m63 0h1M2 36h1m2 0h1m11 0h1m41 0h1M1 37h1m1 0h1m17 0h1m65 0h1M9 38h1m3 0h1m45 0h1M13 39h1m26 0h1m9 0h1m27 0h1M10 40h1m67 0h1M26 42h1m17 0h1m28 0h1M3 43h1m64 0h1M13 44h1m4 0h1m14 1h1m14 0h1m42 0h1M20 47h1m26 0h1M2 49h1m4 0h1m21 0h1M16 50h1m7 1h1M14 52h1m34 0h1M4 53h1m34 0h1m8 0h1M0 54h1m9 0h1m73 0h1M10 55h1m58 0h1m19 0h1M10 56h1m14 1h1M12 58h1m65 0h1M14 59h1m32 0h1M0 60h1m8 0h1M0 61h1m2 0h1m39 0h1m8 0h1m18 0h1m4 0h1M4 62h1m24 0h1m9 0h1m9 1h1m25 0h1m4 0h1M1 64h1m5 0h1m0 1h1m59 0h1M28 66h1m38 0h1m21 0h1M18 67h1m18 0h1M12 68h1m64 0h1m5 0h1M6 69h1m6 0h1m9 0h1m1 1h2m16 0h1M9 71h1m18 0h1M2 72h1m49 0h1M3 73h1m14 0h1M0 74h1m4 0h1m72 0h1M26 75h1m16 0h1m11 0h1"/>
<path stroke="#868686" d="M1 0h1M6 0h1m9 0h1M43 0h1M64 0h1M5 1h1M22 1h1M57 1h1M0 2h1M4 2h1M3 3h1M17 3h1M52 3h1M2 4h1m7 0h1M28 4h1m4 0h2M1 5h1M14 5h1m9 0h1M55 5h1M13 6h1M57 6h1M6 7h1m4 0h1m6 1h1M29 8h1m4 0h2m2 0h1M66 8h1M4 9h1M24 9h1m20 1h1m8 0h1m19 0h1M20 11h1m69 0h1M1 12h1m3 0h1m12 0h1M4 13h1m7 0h1m15 0h1M0 14h1m10 0h1m4 0h1m26 0h1M2 15h1m11 1h1m6 0h1m60 0h1M8 17h1m3 0h1m65 0h1M1 18h1m40 0h1m19 0h1m10 0h1M1 19h1M0 20h1m20 0h1m52 0h1M20 21h1m10 0h1m1 0h1m1 0h1m28 0h1M5 22h1m54 1h1m4 0h1m24 0h1M7 24h1m5 0h1m3 0h1m37 0h1m29 0h1M3 25h1m9 0h1m2 0h1m6 0h1m37 0h1M23 26h1M12 27h1m9 0h1m16 0h1M11 28h1m8 0h1m-7 1h1m38 0h1M1 30h1m2 0h1m25 0h1m46 0h1m13 0h1M1 31h1m2 0h1m30 0h1M1 32h1m16 0h1m3 0h1m10 0h1m1 0h1m27 0h1M9 33h1m8 0h1m54 0h1M9 34h1m8 0h1m2 0h1m51 0h1M2 35h1m15 0h1m2 0h1m65 0h1M3 36h2m4 0h1m2 0h1m8 0h1m65 0h1M2 37h1m6 0h1m7 0h1m41 0h1M50 38h1M4 39h1m5 0h1m6 0h1m8 0h10M13 40h1m-4 1h1m2 0h1m7 0h1m3 0h1m42 0h1M1 42h1m2 0h1m5 0h1m2 0h1m54 0h1M10 43h1m2 0h1m4 0h1m14 0h1m4 0h1m15 0h1m8 0h1M4 44h1m30 0h1m22 0h1M13 45h1m20 0h1M2 46h1m3 0h1m3 0h1m3 0h1m9 0h1m47 0h1M6 47h1m4 0h1m3 0h1m41 0h1M6 48h1m8 0h1m46 0h1M12 49h1m43 0h1m24 0h1M4 50h1m2 0h1m5 1h1m36 0h1M26 52h1M8 53h1m19 0h1m41 0h1M5 54h1m3 0h1m37 0h1M22 55h1m35 0h1M1 56h1m16 0h1m4 0h1M2 57h1m16 0h1m42 0h1m20 0h1M11 58h1m27 0h1m48 0h1M2 59h1m5 0h1m12 0h1M2 60h1m42 0h1m14 0h1M15 61h1m9 0h1m33 0h1m21 0h1M0 62h1m85 0h1M5 63h1m15 1h1M3 65h1m70 0h1M4 66h1m0 1h1m4 0h1m19 0h1m7 0h1m27 0h1M6 68h1m4 0h1m8 0h2m27 0h1m38 0h1M0 69h1m0 1h1m5 0h1m21 1h1M16 72h1m43 0h1M2 73h1m47 0h1M1 74h1m11 0h1m8 0h1m67 0h1M2 75h1m4 0h2"/>
<path stroke="#888888" d="M5 0h1M23 0h1M55 0h1M89 0h1M13 1h1M48 1h1M19 2h1M0 3h1M16 3h1M85 3h1m5 0h1M1 4h1M31 4h2m6 0h1M81 4h1M0 5h1M8 5h1M25 5h2M43 5h1M7 6h1M22 6h1M46 6h1M76 6h1M87 6h1M20 7h1M49 7h1M65 7h1M6 8h1M9 8h1M27 8h2M51 8h1M16 9h1M78 9h1m5 0h1M7 10h1m7 0h1m6 0h1M2 11h1m3 0h1m56 0h1m16 1h1M16 13h1m21 0h1m12 0h1m34 0h1M3 14h1m77 0h1m9 0h1M0 15h2m7 0h1m5 0h1m7 0h1m47 0h1M0 16h1m12 0h1m18 0h1M20 17h1m18 0h1M19 18h1M7 19h1m10 0h1m25 0h1m34 0h1M6 20h1m2 0h1m6 1h1m15 0h1m51 0h1M15 22h1m13 0h1m40 0h1m9 0h1M25 23h1m24 1h1M6 26h1m6 0h1m42 0h1M6 27h1m8 0h1m7 0h1m22 0h1M3 28h1m87 0h1M2 29h3m6 0h1m12 0h1m61 0h1m4 0h1M2 30h2m15 0h1m15 0h1m12 0h1m9 1h1M4 32h1m8 0h1m18 0h1m5 0h1m34 0h1M2 33h1m1 0h1m7 0h1m8 0h1M2 34h1m1 0h1m20 0h1M3 35h2m6 0h1m6 1h1m21 0h1M12 37h1M1 38h1m1 0h1m8 0h1m4 0h1m-7 1h2m-2 1h1m56 0h1M18 41h1m-1 1h1m9 0h1m3 1h1m2 0h1m41 1h1M3 45h1m1 0h1m13 0h1m3 0h1M13 46h1m39 0h1m28 0h1m3 0h1M2 47h1m22 0h1m46 0h1M2 48h1m9 0h1m8 0h1m17 0h1m6 0h1M3 49h4m8 0h1m29 0h1M15 50h1m28 0h1M4 51h1m2 0h1m6 0h4m67 0h1M4 52h1m13 0h1m0 1h1M6 54h1m1 0h1m6 0h1m4 0h1M0 55h1m6 0h1m1 0h1m6 0h1m4 0h1m52 0h1M10 57h1m13 0h1m17 0h1m25 0h1m4 0h1M2 58h1m4 0h1m12 0h1M0 59h2M1 60h1m75 0h1M1 61h2m7 0h1m15 0h2m63 0h1M3 62h1m7 0h1m5 0h1M4 63h1m8 0h1m5 0h1m44 0h1M2 64h1m3 0h1m8 0h1M7 65h1m15 0h1m22 0h1M5 66h1m1 0h2m8 0h1m9 0h1m15 0h1M6 67h1m2 0h1M7 68h1m14 0h1M7 69h1m4 0h1m11 0h1m39 0h1m11 0h1M8 70h1m4 0h1m13 0h1M1 71h1m8 0h1m3 0h1m15 0h4m6 0h1m13 0h1m31 0h1M1 72h1m78 0h1m10 0h1M1 73h1m10 0h1m4 0h1m3 1h1M6 75h1m8 0h1m9 0h1m18 0h1m25 0h1m18 0h1"/>
<path stroke="#8a8a8a" d="M2 0h1M4 0h1M17 0h1M1 1h1M4 1h1m9 0h1M1 2h1M3 2h1m8 0h1M67 2h1M84 2h1M1 3h2m8 0h1M60 3h1m7 0h1M0 4h1M14 4h1M29 4h2M54 4h1M69 4h1m4 0h1M9 5h1M42 5h1M75 5h1M11 6h2M71 6h1M7 7h1M83 7h1M7 8h2M26 8h1M88 8h1M5 9h1M7 9h1M23 9h1M3 10h1m11 1h1m3 0h1m-6 1h2m1 0h1m32 0h1m13 0h1M1 13h1m13 0h1m54 0h1M27 14h1m3 2h1m1 0h4m51 0h1M0 17h1m26 0h1m20 0h1M8 18h1m2 0h1m13 0h1m57 0h1M10 19h1m11 0h1m46 0h1M17 20h1M8 22h1m10 0h1m70 0h1M5 23h1m1 0h1m6 0h1m3 0h1M4 24h1m1 0h1m17 0h1m56 0h1M6 25h1m78 0h1M3 26h1m11 0h1m12 0h1M3 27h1m9 0h2M4 28h2m6 0h3m6 0h3m1 0h1m46 0h1m9 1h1M23 30h1M2 31h2m6 0h1m2 0h1m5 0h1m8 0h1m34 0h1M2 32h1m16 0h1M3 33h1m15 0h1m8 0h1m20 0h1M3 34h1m7 0h1m7 0h1m7 0h8m33 0h1M19 35h1m-2 2h1m21 0h1m42 0h1M2 38h1m7 0h1m7 0h1m21 0h1m4 0h1m37 0h1M18 39h1m26 0h1M4 40h1m7 0h1m5 0h1m1 0h1M4 41h1m6 0h2m6 0h1m7 0h8M2 42h2m7 0h1m37 0h1M22 43h1M10 44h1m8 0h1M4 45h1m5 0h1m9 1h1m46 0h1m23 0h1M12 47h1m1 0h1M5 48h1m20 0h1m25 0h1M28 49h1m8 0h1m28 0h1M5 50h2m6 0h2m8 0h1m52 0h1M25 51h1m45 0h1M7 52h1m7 0h1m38 0h1m5 0h1m4 0h1m24 0h1M7 53h1m7 0h1m13 0h1M7 54h1m55 1h1M0 56h1m6 0h1m11 0h1m2 0h1m66 0h1M1 57h1m5 0h1m2 1h1m17 0h1m27 0h1M9 59h2m2 0h1m41 0h1M10 60h1m3 0h1m8 0h1m42 0h1M28 61h1m13 0h1m44 0h1M1 62h1m14 0h1m13 0h1m7 0h1m31 0h1M1 63h1m3 1h1m73 0h1M4 65h1m1 0h1m9 0h1m68 0h1m3 0h1M6 66h1m18 0h2m51 0h1M7 67h2m30 0h1M10 68h1m12 0h1m41 0h1M11 69h1m13 0h1m21 0h1m39 0h1M0 70h1m8 0h2m45 0h1m18 0h1M0 71h1m33 0h6m21 0h1m7 0h1m4 0h1M11 72h1m3 0h1M0 73h1m1 1h1m1 0h1m13 0h3m27 0h1M16 75h1m7 0h1m20 0h1m18 0h1m12 0h1"/>
<path stroke="#8c8c8c" d="M3 0h1M44 0h1M3 1h1M21 1h1M49 1h1M66 1h1M90 1h1M2 2h1M18 2h1M51 2h1m6 0h1M72 2h1M15 3h1M73 3h1M11 4h1M35 4h1M10 5h2m1 0h1M27 5h1M41 5h1M70 5h1M8 6h1m1 1h1M59 7h1M72 7h1M25 8h1M39 8h1M6 9h1M17 9h1M6 10h1m55 0h1m4 0h1m17 0h1M5 11h1m42 0h1m6 0h1m12 0h1m6 0h1M2 12h1m1 0h1m11 0h1M3 13h1m9 0h2m14 0h1m7 0h1m38 0h1M1 14h2m9 0h1m2 0h1m-6 1h2m2 0h1m9 0h1M9 16h1m2 0h1m33 0h1m20 0h1M40 17h1M0 18h1M0 19h1m7 0h2m10 1h1m42 0h1M6 21h1m1 0h1m38 0h1M6 22h1m9 0h1M6 23h1m19 0h1m13 0h1m13 0h1M5 24h1m10 0h1m54 0h1m3 0h1M14 25h2m16 0h1M14 26h1m9 0h1m41 0h1m9 0h1M24 27h1m1 0h1m45 0h1m18 0h1M24 28h1M13 29h1m6 0h1M11 30h1m1 0h1m6 0h1m13 0h1m28 0h1m22 0h1M20 31h1m56 0h1M3 32h1m6 0h1m9 0h2M10 33h2m8 0h1M10 34h1m9 0h1M10 35h1m-1 1h2m33 0h1m9 0h1M45 37h1m9 0h1M11 38h1m7 1h2m-2 1h1m0 1h1m-9 1h1m6 0h1m1 0h1M11 43h2m6 0h1m57 0h1M12 44h1m50 0h1M12 45h1m17 0h1m55 0h1M3 46h1m1 0h1m5 0h2M5 47h1m7 0h1m7 0h1M3 48h2m8 0h2m57 0h1M13 49h2m7 0h1m1 1h1m56 0h1M5 51h1m20 0h1m0 1h1m47 0h1M5 53h2m31 0h1m45 0h1M59 54h1m20 0h1M8 55h1m8 0h1m2 0h1M8 56h2m11 0h1m22 0h1M9 57h1m10 0h1m2 0h1M0 58h2m6 0h2m30 0h1m7 0h1m23 0h1M11 59h2m17 0h2m56 0h1M71 60h1m9 0h1M14 61h1M2 62h1m12 0h1m18 0h2m1 0h1m13 0h1M2 63h2m10 0h1m54 0h1M3 64h2m15 0h1m27 0h1m14 0h1M5 65h1m16 0h1m31 0h1M24 66h1m27 0h1M19 67h1m9 0h1m20 0h1m33 0h1M8 68h2M8 69h3m15 0h1M11 70h2m29 0h1m27 0h1M11 71h1m1 0h1M0 72h1m52 0h1m14 0h1m16 0h1M13 73h1m2 0h1m67 0h1M3 74h1m10 0h1m2 0h1m-1 1h1m5 0h1m30 0h1"/>
<path stroke="#8e8e8e" d="M18 0h1m3 0h1M54 0h1M70 0h1M2 1h1M15 1h1M13 2h3m1 0h1M14 3h1M36 4h1m1 0h1M61 4h1M12 5h1M62 5h1M82 5h1m3 0h1M9 6h2M8 7h2M32 7h1M19 8h1m4 0h1M77 8h1M44 9h1M4 10h2m10 0h1m4 0h1m67 0h1M3 11h2m13 0h1m60 0h1M3 12h1m65 0h1m16 0h1m3 0h1M2 13h1m33 0h1m28 0h1M13 14h2m27 0h1M12 15h2m11 0h1m55 0h1M22 16h1m7 0h1m6 0h1M11 17h1m9 0h1m50 0h1M20 18h1m3 0h1m32 0h1M19 19h1m69 0h1M7 20h2m10 1h1m39 0h1m20 0h1M7 22h1m22 0h1m7 0h1M15 23h3m-4 1h2m26 0h1M4 25h2m18 0h1m6 0h1m1 0h1m10 0h1m6 0h1M5 26h1m21 0h1m17 0h1M4 27h2m19 0h1m36 0h1M12 29h1m8 0h3m43 0h1M22 31h1m13 0h1m36 0h1M12 32h1m23 0h1M20 35h1m47 0h1M19 36h1m6 0h10m28 0h1m18 0h1M10 37h2m7 1h1m35 0h1M1 39h1m1 0h1m64 0h1m14 0h1M1 41h1m18 1h1m15 1h1m36 0h1M11 44h1m24 0h1M11 45h1m8 0h1M4 46h1m18 0h1M3 47h2m19 0h1m51 0h1m5 0h1m8 0h1M22 48h1m53 0h1M27 49h1m-3 1h1m25 0h1m33 0h1M6 51h1m35 0h1M5 52h2m9 0h1m23 0h1M30 53h1M19 54h1m54 0h1M18 55h2m26 0h1M20 56h1m62 0h1M0 57h1m7 0h1m12 0h1m35 0h1M21 58h1m60 0h1M22 59h1m6 0h1m6 0h1m30 0h1m10 0h1M11 60h1m1 0h1m30 0h1m9 0h1M11 61h1m17 0h1M12 62h1m1 0h1m21 0h1m28 0h1M15 63h1m70 0h1m3 0h1M75 64h1M18 66h1m9 1h1m11 0h1m36 0h1M24 68h1m34 0h1m-2 1h1m12 0h1m11 0h1M28 70h1m33 0h1m19 0h1M12 71h1m68 0h1M12 72h1m1 0h1m58 0h1M14 73h2m35 0h1m15 0h1M16 74h1m40 0h1m8 0h1M3 75h1m1 0h1m12 0h1m3 0h1m23 0h1"/>
<path stroke="#909090" d="M45 0h1M16 1h1m3 0h1M71 1h1m7 0h1m3 0h1M16 2h1M12 3h1M53 3h1M12 4h2M40 5h1M56 5h1M23 6h1M45 6h1M63 6h1M21 7h1m9 0h1m1 0h1M87 7h1M40 8h2M60 8h1M73 8h1M18 9h1M52 9h1m8 0h1M46 10h1M16 11h1m13 2h1m3 0h2m44 0h1M66 14h1M26 15h1m17 0h1m46 0h1M11 16h1m17 0h1m48 0h1M9 17h1m16 0h1m55 0h1M9 18h2m12 0h1m19 0h1M20 19h2m36 0h1m14 0h1M18 20h2M7 21h1m9 0h1m52 0h1m3 0h1m15 0h1M17 22h2m65 0h1M27 23h1m-3 1h1m35 0h1m3 0h1M29 25h2m3 0h1M4 26h1m20 0h1m59 0h1m5 0h1M76 27h1M42 29h1M12 30h1m8 0h2M11 31h2m8 0h1m32 0h1m31 0h1M11 32h1m46 0h1M49 34h1m-5 1h1m9 0h1M20 36h1m47 0h1M19 37h1m44 0h1m3 0h1M20 38h1m43 0h1m3 0h1M55 39h1M1 40h1m43 0h1m18 0h1M39 41h1M20 43h2m15 0h1m20 0h1m27 0h1M20 44h1m1 0h1m25 0h1m5 0h1m31 0h1M21 45h1m41 0h1M21 46h2m24 0h1m9 0h1m18 0h1M22 47h2m-1 1h3m65 0h1M23 49h4m35 0h1m9 0h1m3 0h1M26 50h1m28 0h1m25 1h1M17 52h1m0 1h1m12 0h1m5 0h1M16 54h1m53 0h1m-2 2h1m9 0h1M22 57h1m4 1h1m13 0h1m19 0h1M32 59h1m2 0h1m1 0h1M12 60h1m78 0h1M53 61h1M13 62h1m17 0h1m1 0h1m42 0h1m3 0h1M16 63h1m1 0h1m-3 1h1m72 0h1M17 65h1m3 0h1m1 1h1m20 0h1M20 67h5m1 0h2m13 0h1m18 0h1m27 0h1M25 68h1m7 0h1m38 0h1M27 69h1M13 72h1m77 1h1M15 74h1m33 0h1m21 0h1m7 0h1M4 75h1m14 0h3"/>
<path stroke="#939393" d="M19 0h1M53 0h1M65 0h1M78 0h1m3 0h1M17 1h3M50 1h1m5 0h1M80 2h1M91 2h1M13 3h1M59 3h1M81 3h1M37 4h1M28 5h1m3 0h2M24 6h3M58 6h1M48 7h1M23 8h1M42 8h1M22 9h1M88 9h1M17 10h1m2 0h1m57 0h1M17 11h1m31 0h1m36 0h1M56 12h1M32 13h2m-6 1h1m24 0h1m4 0h1m18 0h1m9 0h1M27 15h1m26 0h1m4 0h1M10 16h1m12 0h1m4 0h1m26 0h1m15 0h1M10 17h1m30 0h1m19 0h1m6 0h1M21 18h2m56 0h1M62 19h1m20 0h1M18 21h1m12 1h1m5 0h1M28 23h2m-5 2h1m1 0h2m6 0h1M26 26h1m11 0h1m33 0h1M53 28h1m22 0h1m5 0h1M47 29h1m15 0h1M48 31h1M37 32h1m39 0h1m8 0h1M35 33h1m3 1h1m9 1h1m14 0h1M20 37h1M2 39h1m61 0h1M3 40h1m79 0h1M2 41h2m73 1h1m8 0h1M44 43h1M21 44h1m6 0h1m-7 1h1m18 2h1m43 2h1m5 0h1M27 50h1m-1 1h1m0 1h1m52 0h1M32 53h5m53 0h1m-8 2h1M50 56h1m22 0h1M43 57h1m5 0h1m39 0h1M22 58h3m1 0h1m19 1h1M24 60h1m63 0h1M12 61h2m27 0h1M32 62h1M17 63h1m32 0h1M19 64h1m35 0h1m12 0h1M47 65h1m14 0h1m4 0h1m10 0h1M19 66h1m2 0h1m38 0h1m4 0h1m7 0h1m10 0h1M25 67h1m16 0h1m30 0h1M26 68h2m3 0h2m1 0h1m1 0h2m10 0h1M29 70h1m27 0h1m28 0h1M55 71h1m3 1h1m-8 1h1m5 0h1m13 0h1m7 0h1m2 1h1M53 75h1m28 0h1m7 0h1"/>
<path stroke="#959595" d="M21 0h1M46 0h1m5 2h1m2 2h1M85 4h1M29 5h1m1 0h1M27 6h1M83 6h1M22 7h1m2 0h3m2 0h1m5 0h2M76 7h1M20 8h1M50 8h1M84 8h1M19 9h1M66 9h1m7 0h1M18 10h2m69 1h1M31 13h1m25 0h1m32 0h1M41 14h1m28 0h1m17 1h1M26 16h2m32 0h1M22 17h1m2 0h1m30 0h1m-8 1h1m39 0h1M46 20h1M35 22h2m16 0h1m10 0h1M30 23h1m50 0h1M26 24h5m-5 1h1m9 0h1m38 0h1m15 0h1M56 27h1m28 0h1M41 28h1m1 2h1m23 0h1m5 0h1M36 33h1m46 2h1m-7 1h1m-1 1h1M55 40h1m-7 1h1m14 0h1m18 0h1m2 0h1M35 42h1m2 0h1m28 3h1M42 46h1m20 0h1m2 2h1M38 49h1M29 50h3m40 0h1m18 0h1M61 51h1m3 0h1m5 1h1M16 53h2m35 0h1m10 0h1M17 54h2m32 1h1m6 1h1m3 0h1M25 58h1m42 0h1M23 59h1m4 0h1m4 0h2m36 0h1m9 0h1M28 60h3m12 0h1m26 1h1M57 62h1m29 0h1M56 63h1m22 0h1M17 64h1m68 0h1M18 65h1m1 0h1m-1 1h2m29 0h1M35 68h1m2 0h1m37 0h1m7 0h1m2 0h1M28 69h1m17 0h1m16 0h1M31 70h3m7 0h1m18 1h1M50 74h1m-4 1h1m4 0h1m12 0h1"/>
<path stroke="#979797" d="M20 0h1M47 0h1m4 0h1m4 2h1M68 2h1M83 2h1M69 3h1M84 3h1M30 5h1m3 0h1m4 0h1M61 5h1M31 6h2M44 6h1M75 6h1M86 6h1M23 7h2m3 0h2m4 0h2m2 0h1M64 7h1M21 8h2M43 8h1M65 8h1M21 9h1m31 1h1m9 0h1m15 2h1M52 13h1m25 2h1M24 16h2m12 0h1m42 0h1m9 0h1M23 17h2m17 0h1m26 1h1M50 19h1m19 1h1m9 0h1M32 22h3m14 0h1m10 0h1m13 0h1M31 23h1m7 0h1m31 0h1m12 0h1M31 24h1m9 0h1m10 2h1m13 1h1m15 0h1M46 28h1m38 0h1M57 29h1m18 0h1m6 1h1m-1 1h1M44 32h1m38 0h1M38 33h1m19 0h1m18 0h1m5 0h1m2 0h1M55 34h1m8 0h1m12 0h1m5 0h1m-7 1h1M49 36h1m24 1h1m2 1h1M2 40h1m83 0h1M36 42h1m46 0h1m-1 1h1M43 45h1m2 2h1m6 0h1M40 48h1m41 0h1m2 0h1M28 50h1m3 0h4m7 0h1M28 51h1m0 1h1m54 0h1M60 53h1m13 0h1m6 0h1M52 54h1m30 0h1m6 0h1M72 57h1m6 0h1M42 58h1m-5 1h1M25 60h1m1 0h1m2 1h1m9 0h1m25 0h1M52 62h1m12 1h1M18 64h1m45 0h1M19 65h1m33 0h1m21 0h1M45 66h1m31 0h1m10 0h1M65 67h1M28 68h3m12 1h3M30 70h1m3 0h1m2 0h2m15 2h1m14 3h1m8 0h1"/>
<path stroke="#999999" d="M48 0h1M90 0h1M51 1h1M67 1h1M54 3h1m5 1h1m9 0h1m2 0h1m8 0h1M57 5h1M71 5h1m2 0h1M33 6h1m9 0h1M62 6h1m9 0h1M47 7h1M60 7h1M87 8h1M20 9h1M77 9h1m7 0h1M47 10h1m27 0h1m10 0h1m1 0h1M64 11h1m11 1h1m3 2h1M28 15h1m2 0h2m34 0h1M45 16h1m1 1h1m41 0h1M45 19h1m5 1h1m31 0h1M52 21h1m2 4h1m16 0h1m9 0h1M62 26h1m19 0h1M45 27h1m39 2h1M67 31h1M37 33h1m7 1h1m28 4h1m11 0h1M74 39h1m11 0h1M55 41h1m21 0h1M37 42h1m20 0h1m14 2h1m9 0h1M47 45h1m28 0h1M45 48h1m10 0h1m-5 1h1M36 50h1m4 1h1m33 0h1m15 0h1M39 52h1m8 2h1m14 0h1m6 1h1m9 0h1m9 0h1M45 56h1m23 1h1m19 1h1M24 59h1m35 0h1m30 0h1M26 60h1m4 0h1m46 0h1M58 61h1m18 0h1m2 0h1m7 0h1M69 62h1m20 0h1M76 63h1m12 0h1M49 64h1m28 0h1m7 1h1M49 67h1m35 0h1M64 68h1M29 69h1m2 0h2m41 0h1m10 0h1M35 70h2m2 0h2m33 0h1m10 1h1m-5 1h1m2 0h1M53 73h1m-3 1h1m4 0h1m34 0h1M51 75h1"/>
<path stroke="#9b9b9b" d="M49 0h3M66 0h1m2 0h1M55 1h1M91 1h1M53 2h1M71 2h1m0 1h1M35 5h1M85 5h1M28 6h3M41 6h2M59 6h1M39 7h1M73 7h1M84 7h1M45 9h1M62 9h1m-9 2h1m-4 1h1m13 0h1m23 0h1m-3 1h1M29 14h1m6 0h2m2 0h1m49 0h1M29 15h2m2 0h4m6 0h1m26 0h1m18 1h1M79 17h1m-8 1h1m9 0h1m-3 1h1M59 20h1m13 0h1m16 0h1M50 23h1m23 0h1M32 24h1m51 0h1m6 0h1M63 28h1m9 1h1M54 30h1m21 0h1M36 34h2m48 0h1M39 35h1m34 1h1M26 38h10m41 1h1M39 40h1m9 0h1m24 0h1m2 0h1M45 41h1m28 0h1M64 42h1m18 3h1M63 47h1m21 0h1M44 49h1M29 51h1m24 0h1M30 52h1m18 1h1m9 2h1m30 1h1m-9 1h1M43 58h1m27 0h1m7 0h1M27 59h1m17 0h1m10 0h1M42 60h1m16 0h1m7 0h1m12 0h1M31 61h1m3 0h1m32 2h1m19 2h1M43 67h1m32 0h1M39 68h1m-9 1h1m2 0h1m1 0h3m23 0h1m21 0h1M58 70h1m2 0h1m21 0h1M70 71h1m2 0h1m8 0h1M69 72h1m-2 1h1m14 0h1M52 74h2m26 0h1M48 75h1m17 0h1"/>
<path stroke="#9d9d9d" d="M79 0h1M52 1h3M70 1h1M82 1h1M56 2h1M69 2h1M81 2h1M58 3h1M38 5h1M83 5h1M34 6h1m5 0h1M61 6h1M40 7h2M86 7h1M49 8h1M61 8h1M51 9h1M87 9h1M50 11h1m16 0h1m10 0h1m9 0h1M68 12h1m18 0h1M69 13h1m7 0h1m1 0h1M30 14h2m3 0h1m2 0h2m-3 1h1m42 0h1m8 0h1M68 16h1m22 1h1M44 18h1m16 0h1M48 21h1m14 0h1m19 0h1m-3 1h1M32 23h1m58 0h1M33 24h1m1 0h1m46 0h1M37 25h1m5 0h1m21 0h1m18 0h1M40 27h1m42 2h1m1 1h1M48 32h1m18 0h1M55 33h1m8 0h1M38 34h1m19 0h1M37 35h1m48 0h1m-1 1h1M49 37h1m36 0h1M36 41h1m11 2h1m18 1h1M54 45h1m2 0h1m15 0h1m-1 1h1m9 0h1m1 0h1M73 47h1m-1 1h1M37 50h1m24 0h1m2 0h1M30 51h1m41 0h1m11 0h1M31 52h1m2 0h3m1 0h1m11 0h1m20 1h1m11 0h1m-3 1h1m-9 1h1m-4 1h1M44 57h1m16 0h1M47 58h1m9 0h1m23 0h1M25 59h2m12 0h1m3 0h1m24 0h1m10 0h1m9 0h1M32 60h1m2 0h2m18 0h1M32 61h1m1 0h1m1 0h2m1 0h1m47 2h1M65 64h1m1 0h1m8 0h1M48 65h1m17 0h1m10 0h1M46 66h1m28 0h2m9 0h1M74 67h1m12 0h1M40 68h1m6 0h1m12 0h1m12 0h1m11 0h2M30 69h1m4 0h1m6 0h1m16 0h1m-4 2h1m2 0h1m-2 1h1m-5 1h1m-1 1h2m11 0h1m2 0h1m8 1h1m1 0h1m9 0h1"/>
<path stroke="#9f9f9f" d="M67 0h2M68 1h1M80 1h1M54 2h2M70 2h1M82 2h1M55 3h1M70 3h1M82 3h2M56 4h1M84 4h1M36 5h2M60 5h1M35 6h2m2 0h1M60 6h1M73 6h1M84 6h2M42 7h1m3 0h1M61 7h1m1 0h1M44 8h1M74 8h1m1 0h1m8 0h1M48 10h1m17 0h1m20 0h1M76 11h1m10 0h1M55 12h1m10 1h1m22 0h1M32 14h3m19 0h1m23 0h1m9 0h1M42 15h1m36 0h1m10 0h1M39 16h1m39 0h1m-9 1h1m9 0h1M58 18h1m11 1h1m0 3h1m19 0h1M33 23h6m22 0h1m2 0h1M34 24h1m1 0h1m25 1h1M44 26h1m30 0h1M66 28h1m6 0h1M43 29h1m3 1h1m37 1h1M67 33h1m6 0h1M38 35h1m35 0h1M37 36h3M26 37h10m1 0h1m11 1h1m-1 1h1M38 41h1m19 0h1m8 0h1m-1 1h1m6 0h1M44 44h1m31 0h1M66 47h1m8 0h1m-1 1h1M39 49h1m42 0h1m-8 1h1M31 51h1m3 0h2m-5 1h2m3 0h1m36 0h1m16 0h1M47 55h1m24 1h1m-2 1h1m-3 1h1m21 0h1M41 59h2m1 0h1m35 0h1M33 60h2m2 0h1m32 0h1m18 0h1M33 61h1m4 0h1m15 0h1m34 0h2M66 62h1m12 0h1m8 0h2M51 63h1m26 0h1m9 0h1M54 64h1m32 0h2M52 65h1m10 0h1m12 0h1M50 66h1m14 0h1M44 67h1m16 0h1m13 0h1m10 0h1M41 68h3m31 0h1M39 69h1m32 0h1m12 0h1M71 70h1m12 0h2m-2 1h1M72 72h1M57 73h1m13 0h1m9 0h1m0 1h1M49 75h2m16 0h2m11 0h1"/>
<path stroke="#a2a2a2" d="M81 0h1m9 0h1M69 1h1M57 3h1M71 3h1M59 4h1M71 4h1M83 4h1M58 5h1M72 5h2M84 5h1M37 6h2M74 6h1M43 7h1M62 7h1M75 7h1m9 0h1m0 1h1M86 9h1M64 10h1m12 0h1m1 4h1m9 0h1M55 15h1M41 16h1m28 0h1m9 0h1m9 0h1M43 17h1m25 0h1m10 0h1m-1 1h1m-9 1h1m9 0h1M62 20h1m20 2h1m-2 1h1M40 24h1m10 0h1m2 0h1m17 0h1m1 0h1M39 26h1m44 0h1M53 27h1m19 0h1m9 1h1m0 1h1m-1 1h1M44 31h1m31 0h1m7 0h1M64 32h1m9 0h1M45 33h1m28 1h1M38 37h2m-1 1h1m44 0h1M39 39h1m27 1h1M34 42h1m20 0h1m29 0h1M64 43h1m2 0h1m17 0h1m-1 1h1m-1 1h1M46 46h1m16 2h1m-9 1h1m17 0h1m1 0h1M32 51h1m4 0h1m2 0h1m10 0h1m9 1h1m20 0h1m-1 1h1M60 54h1m10 0h1m10 0h1M62 55h1m19 0h1m-1 1h1m8 0h1M58 57h1m11 0h1m19 0h2M40 59h1m29 0h1M41 60h1m37 0h1M53 62h1m23 0h1M55 63h1m10 0h1m-1 1h1m10 0h1M65 65h1m21 0h1M62 66h1m24 0h1M63 68h1M41 69h1m17 1h2m-4 1h2m24 0h1M55 72h1m27 0h1m-3 2h1"/>
<path stroke="#a4a4a4" d="M81 1h1M56 3h1m0 1h2M72 4h1M59 5h1M44 7h2M74 7h1M62 8h1m1 0h1M46 9h1M63 9h1m1 0h1m9 0h2M49 10h1m2 0h1m23 0h1M65 11h1m11 1h2m9 0h1M53 13h1m2 0h1m21 0h1m9 0h1M67 14h1M38 15h1m19 0h1M40 16h1m1 0h3m11 0h1M46 17h1m10 0h1M48 18h1m32 0h1m9 0h1M59 19h1m30 0h1m0 1h1M60 21h1m12 0h1m7 0h1m9 0h1m-9 2h1M37 24h1m45 0h1M38 25h1m44 0h1M73 26h1m1 1h1m8 0h1M42 28h1m2 0h1m10 0h1m27 0h1M64 30h1m-1 1h1m9 0h1m10 1h1M34 33h1m13 0h1m18 1h1M36 35h1m21 0h1m17 2h1m7 0h1m-1 2h1M58 40h1m25 0h2M37 41h1m46 0h2m-2 1h1m-9 1h1m7 0h1M75 46h1M56 47h1m26 0h1M41 48h1m11 0h1M38 50h1m3 0h1m30 0h1m8 0h1m1 0h1M33 51h2m47 0h1M64 52h1m7 0h1m10 0h1M73 54h1m-3 1h1m19 0h1M46 56h1m24 0h1m8 0h1M48 57h1m-5 1h1m25 0h1m9 0h1M38 60h1m51 0h1M67 61h1m1 0h1m8 0h2M56 62h1m11 0h1m-2 1h1m9 0h1M50 64h1m13 1h1M47 66h1m0 1h1m15 0h1M44 68h1m16 0h1m12 0h1M40 69h1m19 0h2m11 0h2m-2 1h1m-4 2h1m11 0h1M69 73h2m11 0h1M69 74h1"/>
<path stroke="#a6a6a6" d="M80 0h1M48 8h1M75 8h1M50 9h1m2 2h1m12 0h1m10 0h1M52 12h1m13 0h1M57 14h1m11 0h1M41 15h1m26 0h1M59 16h1m9 0h1M60 17h1m9 0h1m19 0h1M70 18h2M61 19h1m19 0h1m9 0h1M47 20h1m33 0h2M71 21h1M53 23h1m8 1h1m10 1h2m8 1h1M44 27h1m18 0h1m19 0h1M43 28h1m31 0h1M44 29h1m1 0h1m7 0h1m11 0h1M44 30h1m12 0h1m16 0h1M55 32h1m20 0h1m7 0h1m-1 1h2m-2 2h1m-9 1h1m7 0h1M75 37h1M37 38h1m37 0h2m8 1h1M37 40h1m7 2h1m30 0h1M47 44h1m16 0h1m19 0h1M44 45h1m39 0h1M43 46h1m-2 1h1m2 0h1m28 0h1m-1 1h1M40 49h1m11 1h1M38 51h2m33 0h2M53 52h1m37 1h1m-1 1h1M72 55h1m8 0h1M49 56h1m9 0h1M46 58h1m13 0h1m29 0h1M69 59h1m20 0h1M39 60h2m27 0h1M57 61h1m9 1h1m10 0h1M52 63h1m-4 2h1m1 0h1m-4 1h2m-5 1h1m-1 1h2m15 0h1m9 2h1m-1 1h1m-2 1h1M55 73h2m11 1h1"/>
<path stroke="#a8a8a8" d="M45 8h1M63 8h1M47 9h1m1 0h1M64 9h1m0 1h1M51 11h1m2 1h1m12 0h1M54 13h1M39 15h2m28 0h1M44 17h2m-1 1h1m44 0h1M46 19h1m2 0h1m0 1h1m20 0h1m10 1h1m-1 1h1M38 24h2m24 0h1M42 25h1m9 0h1m2 1h1m9 0h1m8 0h1M44 28h1m19 1h1m10 0h1m0 4h1M48 34h1m35 0h2M65 35h1m1 0h1m8 0h1M58 36h1m16 0h1M58 37h1m26 0h1M38 38h1m46 0h1M37 39h1m20 0h1m8 0h1m7 0h1M36 40h1m1 0h1m26 0h1m-1 1h1M48 42h1m25 1h1M57 44h1M46 45h1m7 1h1m11 0h1m7 0h1m9 0h1m-1 1h1M44 48h1m38 0h2M43 49h1m21 0h1m8 0h1m9 0h1M39 50h1m1 0h1m12 0h1m19 0h1m8 1h1M73 52h1M63 53h1m9 0h1M51 54h1m-2 1h1m10 1h1M45 57h1m34 0h2M45 58h1m11 1h1m11 1h1m-2 1h1M54 62h1m-2 2h1m-4 1h1m13 1h1M47 67h1m14 0h2m7 4h1M56 72h2"/>
<path stroke="#aaaaaa" d="M46 8h2m0 1h1m1 1h2m0 1h1m0 1h1m1 1h1m11 0h2M55 14h1m15 5h1M60 20h1m11 0h1M49 21h1m0 1h1m22 0h1m-2 1h1m0 1h1m0 3h1m-1 1h1m-1 1h1m0 1h1M47 31h1m27 0h1m0 3h1M48 35h1m36 0h1M65 36h1m19 0h1M65 37h1M46 38h1m11 0h1M38 39h1m7 0h1m29 0h1M46 40h1m28 0h1m-1 1h2M45 43h1m9 0h1M45 44h1m-1 1h1m18 0h1m10 0h1M42 48h1m-2 1h1m21 0h1M40 50h1m11 3h1m8 0h1m10 0h1M62 54h1m9 0h1M60 55h1m20 1h1M59 59h1m-4 1h1m1 0h1m-4 1h1m-1 1h1m-3 1h2m-4 1h1m11 2h1M46 67h1"/>
<path stroke="#acacac" d="M56 14h1m11 0h1M58 17h1M47 18h1m11 0h2m-1 1h1M51 21h1m20 0h1M52 22h1m8 0h1m1 0h1m9 1h1M39 25h1m1 0h1m-2 1h1m2 0h1m19 0h1M41 27h1m3 2h1m20 1h1M45 32h1m29 0h1m-1 1h1M46 34h1m18 0h1M46 35h1m28 0h1M36 36h1m9 0h1m1 0h1m18 0h1M46 37h1m18 1h1m-1 1h1m10 1h1M48 41h1m17 0h1m-2 1h1m9 0h1m-2 2h1m-1 1h1M44 46h2m18 0h1M43 47h1m-1 1h1m-2 1h1m10 0h1m29 0h1m-1 1h1M62 51h1M49 54h1m11 0h1M48 55h1m12 0h1m-2 2h1m-3 1h1m-3 3h1m-5 3h1"/>
<path stroke="#aeaeae" d="M56 15h2m-1 1h2m0 1h1M46 18h1m1 2h2m11 0h1m10 2h1M51 23h1m10 0h2M40 25h1m23 0h1M42 27h2m21 0h1M54 28h1m9 0h1M55 31h1m1 0h1m8 0h1M47 32h1m-2 1h1m18 0h1M35 34h1m39 0h1M56 35h1m-1 1h1m-1 1h1m10 0h1m-1 1h1m-2 2h1M35 41h1m30 1h1m8 1h1M46 44h1m28 0h1M66 45h1M56 46h1M44 47h1m10 1h1m9 0h1M53 51h1m10 0h1M50 53h1m-2 2h1m-3 1h1m12 0h1M46 57h2m11 0h1m-3 3h1"/>
<path stroke="#b0b0b0" d="M47 19h2m1 2h1m10 0h2m0 3h1M54 25h1m8 0h1M53 26h1m1 1h1m9 1h1m-1 1h1M45 30h2m-2 1h1m11 1h1m8 0h1m-1 1h1m-1 1h1M48 37h1m-1 1h1m7 0h1m-9 1h1m-1 1h1m-3 1h1m0 2h1m9 0h1m7 0h1M55 44h1m-2 3h1m9 0h1M54 49h1m-2 1h1m-2 1h1m-2 1h1m-2 2h1m-3 2h1m10 2h1m-2 1h1"/>
<path stroke="#b2b2b2" d="M51 22h1m10 0h1M52 24h2M41 26h2m21 1h1m-9 2h1m8 1h1m-1 1h1M46 32h1m18 0h1M47 33h1m-1 1h1m8 0h1M47 35h1m18 0h1M36 39h1m10 0h1m8 0h1m-1 1h1M46 43h1m19 0h1m-1 1h1m-2 3h1M54 48h1m9 0h1m-2 2h2M52 52h1m9 0h1m-1 1h1"/>
<path stroke="#b5b5b5" d="M52 23h1m11 3h1M54 27h1m0 1h1m-1 2h1M46 31h1m9 2h2M47 36h1m18 0h1M47 37h1m-1 1h1m18 1h1M47 40h1m8 1h1M46 42h1m18 2h1M55 45h2m8 0h1m-1 1h1M55 47h1m8 2h1m-2 3h1M51 53h1"/>
<path stroke="#b7b7b7" d="M53 25h1m0 1h1m0 3h1M29 33h4m24 1h1m-1 1h1m-1 1h1M36 37h1m10 4h1m-1 1h1m9 0h1m-3 4h1m7 5h1"/>
<path stroke="#b9b9b9" d="M56 32h1m0 5h1m8 0h1M36 38h1m29 0h1M57 40h1m-1 1h1m-2 1h1m-1 2h1"/>
<path stroke="#bbbbbb" d="M56 30h1m-1 1h1m0 7h1m-1 1h1M33 42h1m22 1h1"/>
<path stroke="#bfbfbf" d="M29 42h4"/>
<path stroke="#c6c6c6" d="M33 33h1"/>
<path stroke="#d4d4d4" d="M35 40h1"/>
</g>
<path fill="#eeeeee" fill-rule="evenodd" d="M1366.5 274.5 1361.5 274.7 1355.5 273.6 1350.8 271.5 1346.5 268.5 1342.5 264.2 1340.2 260.5 1338.2 255.5 1337.2 250.5 1337.3 244.5 1338.4 239.5 1340.5 234.7 1343.4 230.5 1347.5 226.5 1351.5 224 1355.5 222.3 1360.5 221.3 1366.5 221.3 1371.5 222.4 1376.3 224.5 1380.5 227.4 1384.3 231.5 1386.7 235.5 1388.6 240.5 1389.5 245.5 1389.6 250.5 1388.7 255.5 1386.7 260.5 1384.1 264.5 1380.5 268.3 1376.5 271.2 1372.5 273.1Z"/>
</g></g>
<path d="M1221.46 422.6v-5.5M1221.46 73.2v5.5M1235.74 422.6v-3.3M1235.74 73.2v3.3M1250.03 422.6v-3.3M1250.03 73.2v3.3M1264.31 422.6v-3.3M1264.31 73.2v3.3M1278.6 422.6v-3.3M1278.6 73.2v3.3M1292.88 422.6v-5.5M1292.88 73.2v5.5M1307.16 422.6v-3.3M1307.16 73.2v3.3M1321.45 422.6v-3.3M1321.45 73.2v3.3M1335.73 422.6v-3.3M1335.73 73.2v3.3M1350.02 422.6v-3.3M1350.02 73.2v3.3M1364.3 422.6v-5.5M1364.3 73.2v5.5M1378.58 422.6v-3.3M1378.58 73.2v3.3M1392.87 422.6v-3.3M1392.87 73.2v3.3M1407.15 422.6v-3.3M1407.15 73.2v3.3M1421.44 422.6v-3.3M1421.44 73.2v3.3M1435.72 422.6v-5.5M1435.72 73.2v5.5M1450 422.6v-3.3M1450 73.2v3.3M1464.29 422.6v-3.3M1464.29 73.2v3.3M1478.57 422.6v-3.3M1478.57 73.2v3.3M1492.86 422.6v-3.3M1492.86 73.2v3.3M1507.14 422.6v-5.5M1507.14 73.2v5.5M1521.42 422.6v-3.3M1521.42 73.2v3.3M1535.71 422.6v-3.3M1535.71 73.2v3.3M1549.99 422.6v-3.3M1549.99 73.2v3.3M1564.28 422.6v-3.3M1564.28 73.2v3.3M1578.56 422.6v-5.5M1578.56 73.2v5.5M1592.84 422.6v-3.3M1592.84 73.2v3.3M1607.13 422.6v-3.3M1607.13 73.2v3.3M1621.41 422.6v-3.3M1621.41 73.2v3.3M1635.7 422.6v-3.3M1635.7 73.2v3.3M1221.4 419.21h3.3M1649.9 419.21h-3.3M1221.4 404.94h3.3M1649.9 404.94h-3.3M1221.4 390.66h5.5M1649.9 390.66h-5.5M1221.4 376.38h3.3M1649.9 376.38h-3.3M1221.4 362.11h3.3M1649.9 362.11h-3.3M1221.4 347.83h3.3M1649.9 347.83h-3.3M1221.4 333.56h3.3M1649.9 333.56h-3.3M1221.4 319.28h5.5M1649.9 319.28h-5.5M1221.4 305h3.3M1649.9 305h-3.3M1221.4 290.73h3.3M1649.9 290.73h-3.3M1221.4 276.45h3.3M1649.9 276.45h-3.3M1221.4 262.18h3.3M1649.9 262.18h-3.3M1221.4 247.9h5.5M1649.9 247.9h-5.5M1221.4 233.62h3.3M1649.9 233.62h-3.3M1221.4 219.35h3.3M1649.9 219.35h-3.3M1221.4 205.07h3.3M1649.9 205.07h-3.3M1221.4 190.8h3.3M1649.9 190.8h-3.3M1221.4 176.52h5.5M1649.9 176.52h-5.5M1221.4 162.24h3.3M1649.9 162.24h-3.3M1221.4 147.97h3.3M1649.9 147.97h-3.3M1221.4 133.69h3.3M1649.9 133.69h-3.3M1221.4 119.42h3.3M1649.9 119.42h-3.3M1221.4 105.14h5.5M1649.9 105.14h-5.5M1221.4 90.86h3.3M1649.9 90.86h-3.3M1221.4 76.59h3.3M1649.9 76.59h-3.3" stroke="#222" stroke-opacity="0.6" stroke-width="0.8" fill="none"/><rect x="1221.4" y="73.2" width="428.5" height="349.4" fill="none" stroke="#555" stroke-opacity="0.75" stroke-width="1"/><circle cx="1364.3" cy="247.9" r="4.5" fill="#fff"/>
<g font-size="28.6">
<text x="1221.46" y="459.6" text-anchor="middle">- 200</text>
<text x="1292.88" y="459.6" text-anchor="middle">- 100</text>
<text x="1364.3" y="459.6" text-anchor="middle">0</text>
<text x="1435.72" y="459.6" text-anchor="middle">100</text>
<text x="1507.14" y="459.6" text-anchor="middle">200</text>
<text x="1578.56" y="459.6" text-anchor="middle">300</text>
<text x="1649.98" y="459.6" text-anchor="middle">400</text>
<text x="1213.8" y="400.53" text-anchor="end">- 200</text>
<text x="1213.8" y="329.15" text-anchor="end">- 100</text>
<text x="1213.8" y="257.77" text-anchor="end">0</text>
<text x="1213.8" y="186.39" text-anchor="end">100</text>
<text x="1213.8" y="115.01" text-anchor="end">200</text>
</g>
<text class="ax" x="1458.4" y="499" text-anchor="middle"><tspan class="it">x</tspan> [nm]</text>
<text class="ax" transform="translate(1150 252.5) rotate(-90)" text-anchor="middle"><tspan class="it">y</tspan> [nm]</text>
<clipPath id="cb1"><rect x="134" y="599.7" width="355.8" height="355.9"/></clipPath>
<g clip-path="url(#cb1)"><g filter="url(#hm)"><g transform="translate(119 586.5) scale(5)" stroke-width="1.04" fill="none">
<path stroke="#2a2a2a" d="M33 30h1m9 0h1M32 31h2m9 0h2M31 32h1m13 0h1"/>
<path stroke="#2d2d2d" d="M34 31h1m7 0h1M32 32h1m11 0h1"/>
<path stroke="#2f2f2f" d="M38 29h1m-5 1h2m5 0h2M30 33h1m15 0h1M30 34h1m15 0h1"/>
<path stroke="#313131" d="M37 29h1m1 0h1m-9 4h1m13 0h1"/>
<path stroke="#333333" d="M36 29h1m3 0h1M29 35h1m17 0h1"/>
<path stroke="#353535" d="M36 30h1m3 0h1m6 6h1"/>
<path stroke="#373737" d="M37 30h1m1 0h1M29 36h1"/>
<path stroke="#393939" d="M34 29h2m5 0h2m-5 1h1M29 34h1m17 0h1"/>
<path stroke="#3e3e3e" d="M31 31h1m13 0h1M30 35h1m-2 2h1m17 0h1"/>
<path stroke="#404040" d="M30 32h1m15 0h1m-1 3h1m1 2h1"/>
<path stroke="#424242" d="M37 20h4m-9 1h2m8 0h3m1 1h1M28 37h1m-1 1h1m19 0h1"/>
<path stroke="#444444" d="M35 20h2m4 0h1m-8 1h1m-5 1h1m13 8h1M28 36h1m19 0h1M29 38h1m-2 1h1m19 0h1"/>
<path stroke="#464646" d="M35 21h1m5 0h1m3 0h1M29 22h1m1 0h1m13 0h1m1 0h1M28 23h2m17 0h2M27 24h1m21 0h1M26 25h1m5 5h1m14 8h1"/>
<path stroke="#484848" d="M34 20h1m7 0h1M31 21h1m4 0h1m3 0h1M26 24h1m23 0h1M25 25h1m24 0h2M24 26h2m25 0h2M23 28h1m9 4h1m9 0h1"/>
<path stroke="#4a4a4a" d="M37 21h3m-8 1h1m11 0h1M27 23h1m21 0h1M24 27h1m27 0h2m-1 1h1M22 29h1m31 0h1M29 33h1m17 0h1M29 39h1m17 0h1M28 40h1m19 0h1"/>
<path stroke="#4c4c4c" d="M37 11h3m1 0h1M31 12h1m13 0h1M33 20h1m9 0h1M28 24h1m19 0h1M23 27h1m-2 3h1m31 0h1m0 1h1M31 34h1m16 1h1M29 40h1"/>
<path stroke="#4f4f4f" d="M34 11h3m3 0h1m1 0h1M30 12h1m1 0h1m11 0h1m1 0h1M28 13h1m18 0h2M25 14h1m24 0h1M30 21h1m15 0h1M30 23h1m15 0h1m-9 5h1m15 0h1M21 30h1m33 0h1M21 31h1m-1 1h1m33 0h1M45 34h1M28 35h1m10 0h1m7 5h1"/>
<path stroke="#515151" d="M33 11h1m9 0h1M29 12h1m3 0h1m8 0h2m3 0h1M27 13h1m1 0h1m19 0h1M26 14h1m24 0h1M23 15h2m27 0h2M22 16h1m31 0h1M21 17h1m33 0h1M20 18h1m7 4h1m14 0h1m4 0h1M27 25h1m-6 3h1m14 0h1m1 0h1M23 29h1m29 0h1M35 31h1m5 0h1m14 1h1M20 33h1m35 0h1M20 34h1m35 0h1M28 41h2m17 0h2"/>
<path stroke="#535353" d="M32 11h1m11 0h1M34 12h1m6 0h1M27 14h1m21 0h1M25 15h1m25 0h1M23 16h1m29 0h1m2 1h1M19 18h1m36 0h2M18 19h2m37 0h2M18 20h1m39 0h1M17 21h1m15 1h1m26 0h1M49 25h1M20 32h1m11 1h1m11 0h1M20 35h1m16 0h2m17 0h1M30 36h1m-2 6h1m17 0h1"/>
<path stroke="#555555" d="M34 2h9M29 3h3M46 3h2M26 4h1M50 4h1m2 1h1M35 12h2m3 0h1M26 13h1m3 0h1m15 0h1m3 0h1M24 14h1m27 0h1M20 17h1m1 0h1m15 2h1M17 20h1m14 0h1m11 0h1m14 0h1m-1 1h2M16 22h1m-2 1h1m45 0h1M51 24h1M14 25h1m9 0h1m27 0h1m9 0h1M26 26h1m23 0h1M24 28h1m27 0h1m2 1h1M22 31h1m31 0h1M21 33h1m33 0h1M20 36h1m25 0h1m10 1h1"/>
<path stroke="#575757" d="M32 2h2m9 0h2M28 3h1m3 0h1M44 3h2m2 0h1M25 4h1m1 0h1M49 4h1m1 0h1M23 5h2M52 5h1M21 6h2M54 6h2M19 7h2M56 7h2M18 8h1M58 8h1M16 9h1M60 9h1M15 10h1m45 0h1M14 11h1m16 0h1m30 0h1M28 12h1m8 0h3m8 0h1M21 16h1m33 0h1m-2 1h1M37 19h1m1 0h1M16 21h1m44 1h1M14 24h2m9 0h1m35 0h2M13 26h1m9 0h1m29 0h1m9 0h1M13 27h1m11 0h1m25 0h1m11 0h1M12 28h1m-1 1h1m8 0h1m21 0h1m20 0h1M20 31h1m35 0h1M19 35h1m37 0h1M19 36h1m36 0h2M19 37h1m-1 1h1m37 0h1"/>
<path stroke="#595959" d="M12 1h1M64 1h1M31 2h1M45 2h1M27 3h1m5 0h1m9 0h1m5 0h1M24 4h1m3 0h1M48 4h1m3 0h1M22 5h1m2 0h1M51 5h1m2 0h1M20 6h1M56 6h1M17 8h1M59 8h1M17 9h1M59 9h1M13 11h1m31 0h1m17 0h1M12 12h2m49 0h2M11 13h2m18 0h1m13 0h1m18 0h1M11 14h1m16 0h1m19 0h1m16 0h1M10 15h1m11 0h1m31 0h1m11 0h1M9 16h1m14 0h1m42 0h1m0 1h1M21 18h1m33 0h1M36 19h1m3 0h1M15 22h1m18 0h1m7 0h1M16 23h1m9 0h1m4 0h1m18 0h1m9 0h1M29 24h1M14 26h1m47 0h1M13 28h1m22 0h1m3 0h1m23 0h1M33 29h1M12 30h1m51 0h1M11 31h1m53 0h1M11 32h1m53 0h1M19 34h1m37 0h1M20 37h1m35 0h1M19 39h1m37 0h1M19 40h1m37 0h1M29 43h1m17 0h1"/>
<path stroke="#5b5b5b" d="M14 0h1M11 1h1M36 1h5M65 1h1M10 2h1M30 2h1M46 2h1M66 2h1M9 3h1M34 3h2m6 0h1M67 3h1M8 4h1M68 4h1m0 1h1M23 6h1M53 6h1M70 6h1M18 7h1M58 7h1M19 8h1M57 8h1m3 1h1M14 10h1m1 0h1m19 0h5m19 0h1m1 0h1m2 3h1M10 14h1m55 0h1M26 15h1m23 0h1m1 1h1M8 17h1M7 18h2m59 0h2M7 19h1m12 0h1m35 0h1m12 0h1M6 20h1m12 0h1m50 0h1M47 21h1m22 0h1M5 22h1m11 0h1m41 0h1M45 23h1m16 0h1M47 24h1M13 25h1m49 0h1M12 27h1m41 0h1m9 0h1m-2 1h1M11 30h1m53 0h1M11 33h1m53 0h1M21 34h1m-2 4h1m35 0h1M20 39h1m-2 2h1m37 0h1M28 42h1m19 0h1"/>
<path stroke="#5e5e5e" d="M13 0h1M62 0h2M35 1h1m5 0h1M63 1h1M11 2h1M65 2h1M10 3h1M26 3h1m9 0h2m1 0h3m8 0h1M29 4h1M47 4h1M7 5h1M70 5h1M6 6h1M71 6h1M5 7h1M21 7h1M55 7h1M71 7h1M4 8h1M72 8h1M3 9h1M15 9h1M73 9h1M2 10h1m32 0h1m5 0h1m32 0h1M1 11h1m13 0h1m14 0h1m15 0h1m14 0h1m13 0h1M1 12h1m23 1h1m18 0h1m6 0h1m24 0h1M9 15h1m57 0h1M9 17h1m57 0h1M18 18h1m39 0h1M35 19h1m5 0h1m17 0h1m-3 1h1M6 21h1m11 0h1m10 0h1m28 0h1m12 0h1m-1 1h1M5 23h1m8 0h1m56 0h1M4 24h1m67 0h1M4 25h1m10 0h1m56 0h1M3 27h1m18 0h1m50 0h1M35 28h1m5 0h1M23 30h1m29 0h1M12 31h1m51 0h1m-8 2h1M10 34h2m36 0h1m6 0h1m9 0h2M10 35h2m54 0h1M10 36h1m55 0h1M10 37h1m55 0h1m-1 1h1M56 39h1M20 40h1m35 0h1M20 41h1m35 0h1M19 42h2m35 0h2"/>
<path stroke="#606060" d="M15 0h1M61 0h1M13 1h1M34 1h1m7 0h1M29 2h1M47 2h1M8 3h1M38 3h1M66 3h1m1 0h1M7 4h1M9 4h1M23 4h1M53 4h1M67 4h1m1 0h1M6 5h1M21 5h1m4 0h1M50 5h1m4 0h1M5 6h1M19 6h1M57 6h1M4 7h1M72 7h1M3 8h1M16 8h1M60 8h1M73 8h1M18 9h1M58 9h1M2 11h1m71 0h1M14 12h1m12 0h1m21 0h1m12 0h1m12 0h2M0 13h1m31 0h1M23 14h1m29 0h1m23 0h1M11 15h1m53 0h1m11 0h1M8 16h1m1 0h1m55 0h1m1 0h1M19 17h1m37 0h1M6 19h1m10 0h1m52 0h1M7 20h1m23 0h1m13 0h1m14 0h1m8 0h1M5 21h1m29 1h1m5 0h1m7 0h1M4 23h1m67 0h1M61 25h1M3 26h1m69 0h1M14 27h1M3 28h1m69 0h1M11 29h1m1 0h1m49 0h1m1 0h1m8 0h1m-1 1h1M2 31h1m43 0h1m27 0h1M22 32h1M10 33h1m8 0h1m46 0h1M28 34h1m36 1h1M1 36h1m8 2h1m16 0h1m21 0h1M10 39h1m38 0h1m16 0h1m-1 1h1M20 43h1m35 0h1M20 44h1"/>
<path stroke="#626262" d="M0 0h1M64 0h1M77 0h1M33 1h1m9 0h1M66 1h1M9 2h1M64 2h1m2 0h1M30 4h1M46 4h1M8 5h1M68 5h1M7 6h1M24 6h1M2 9h1M4 9h1M72 9h1m1 0h1M1 10h1m1 0h1m30 0h1m7 0h1m30 0h1M0 12h1m12 1h1m49 0h1M0 14h1m11 0h1m16 0h1m17 0h1m16 0h1m11 0h1M20 16h1m35 0h1M7 17h1m15 0h1m29 0h1m15 0h1M8 19h1m7 1h1M6 22h1m20 0h1m42 0h1M5 24h1m65 0h1M3 25h1m69 0h1M4 26h1m59 0h1m7 0h1M62 27h1M2 28h1m71 0h1M2 29h2m69 0h1M2 30h1m53 0h1M30 31h1m5 0h1M1 32h2m7 0h1m1 0h1m41 0h1m9 0h1m1 0h1m7 0h1M1 33h1m73 0h1M1 34h1m73 0h1M1 35h1m19 0h1M11 36h1m53 0h1M1 37h1m9 0h1m29 0h1m23 0h1M1 38h1m39 0h1M1 39h1m25 0h1M10 40h1m-1 1h1m55 0h1M10 42h1m55 0h1M19 43h1m10 0h1m15 0h1m10 0h1M29 44h2m15 0h1m9 0h1"/>
<path stroke="#646464" d="M12 0h1M76 0h1M10 1h1M44 1h1M77 1h1M12 2h1M28 2h1M48 2h1M25 3h1M51 3h1M27 5h1M49 5h1m2 1h1M69 6h1M6 7h1M17 7h1m4 0h1M59 7h1M70 7h1M5 8h1M20 8h1M56 8h1M71 8h1M17 10h1m57 0h1M12 11h1m51 0h1m11 0h1M11 12h1m53 0h1M1 13h1m8 0h1m22 0h1m9 0h1m22 0h1m10 3h1M34 19h1m7 0h1m25 0h1M5 20h1m65 0h1M15 21h1m45 0h1M4 22h1m67 0h1M13 24h1m2 0h1m43 0h1m2 0h1M28 25h1m19 0h1M12 26h1m61 1h1M21 28h1m33 0h1M3 30h1m16 0h1m24 0h1M1 31h1m38 0h1m34 1h1M2 33h1m71 0h1M2 34h1m71 0h1M55 35h1m19 0h1m-1 1h1M27 37h1m21 0h1m25 0h1M11 38h1m53 0h1m9 0h1M11 39h1m63 0h1M1 40h1m25 0h1m21 0h1M1 41h1m9 0h1M1 42h1m9 0h1m-2 1h1m54 0h2M47 44h1M11 45h1m8 0h1m35 0h1"/>
<path stroke="#666666" d="M16 0h1M60 0h1M14 1h1M32 1h1M11 3h1M65 3h1M31 4h1M45 4h1m8 3h1M13 10h1m19 0h1m9 0h1m15 0h1m3 0h1M29 11h1m17 0h1m27 2h1m1 0h1M67 14h1M0 15h1m26 0h1m21 0h1M25 16h1m25 0h1M9 18h1m57 0h1m2 0h1M7 21h1m61 0h1M36 22h1m3 0h1M3 24h1m69 0h1M2 27h1m1 0h1m67 0h1M11 28h1m53 0h1M24 29h1m27 0h1M1 30h1m29 0h1m41 0h1m-8 1h1m8 0h1M47 32h1m9 0h1M12 33h1m51 0h1M2 35h1m71 0h1M30 37h1m27 0h1M18 38h1m39 0h1M18 39h1m39 0h1m6 0h1M11 40h1m53 0h1m9 0h1M65 41h1m9 0h1M30 42h1m15 0h1m18 0h1m9 0h1M1 43h1m9 0h1m16 0h1m19 0h1M1 44h1m8 0h2m7 0h1m37 0h1m7 0h2M1 45h1m19 0h1m8 0h1m15 0h1m8 0h1m9 0h1M11 46h1m8 0h2m33 0h2m8 0h1M21 47h1"/>
<path stroke="#686868" d="M62 1h1M6 4h1M22 4h1M54 4h1M5 5h1M20 5h1M56 5h1M71 5h1M4 6h1M72 6h1m0 1h1M14 9h1M62 9h1M16 11h1M2 12h1m71 0h1M42 13h1M9 14h1m11 1h1m33 0h1m12 0h1M6 18h1m15 0h1m31 0h1m7 4h1M6 23h1m10 0h1m14 0h1m11 0h1m25 0h1M5 25h1m65 0h1M13 30h1m49 0h1m11 0h1M3 31h1m6 0h1m62 0h1M19 32h1m9 0h1M2 36h1m18 0h1m33 0h1m2 0h1m15 0h1m1 0h1M2 37h1m15 0h1m27 0h1m20 0h1m6 0h1m1 0h1M9 38h1m57 0h1m8 0h1M9 39h1m57 0h1m8 0h1M18 40h1m39 0h1m17 0h1m-2 3h1M21 44h1m33 0h1m18 0h2M2 45h1m7 0h1m55 0h1m7 0h1M2 46h1m71 0h1M2 47h1m8 0h1m43 0h1m9 0h1m8 0h1M12 48h1m51 0h1m9 0h1"/>
<path stroke="#6a6a6a" d="M31 1h1M45 1h1M27 2h1M49 2h1M7 3h1M69 3h1M10 4h1M32 4h1M44 4h1M66 4h1m3 0h1M25 6h1M58 6h1M3 7h1M74 8h1M19 9h1M57 9h1M0 11h1m2 0h1m56 0h1m12 0h1M26 12h1m23 0h1M24 13h1m9 0h1m17 0h1M30 14h1M8 15h1m67 0h1M10 17h1m55 0h1m10 0h1m-6 4h1M14 22h1m22 0h3m19 1h1M30 24h1m22 1h1M2 26h1m12 0h1m11 0h1m21 0h1m11 0h1m12 0h1M4 28h1m9 0h1m10 0h1m36 0h1m9 0h1M1 29h1m35 2h1M22 33h1M12 34h1m51 0h1m2 1h1m8 0h1M9 36h1m8 0h1m48 0h1M9 37h1M2 38h1m32 0h6m33 0h1M2 39h1m71 0h1M2 40h1m6 0h1m57 0h1m6 0h1M2 41h1m15 0h1m30 0h1m8 0h1m8 0h1m6 0h1m1 0h1M2 42h1m71 0h1M2 43h1m18 0h1m33 0h1m18 0h1M2 44h1m28 1h1m13 0h1m11 0h1m17 0h1M1 46h1m10 0h1m53 0h1m8 0h1M1 47h1m10 0h1m51 0h1M2 48h1m8 0h1m9 0h2m31 0h2m9 0h1M12 49h1m51 0h1m9 0h1M12 50h1m51 0h1m8 0h1m-1 1h1"/>
<path stroke="#6c6c6c" d="M1 0h1M65 0h1m9 0h1M0 1h1M8 2h1m4 0h1M63 2h1m4 0h1m8 0h1M24 3h1M52 3h1M9 5h1M28 5h1M48 5h1M67 5h1M18 6h1M51 6h1M2 8h1M15 8h1M61 8h1M1 9h1M75 9h1M4 10h1m27 0h1m11 0h1M15 12h1m45 0h1M35 13h1m5 0h1m4 1h1M11 16h1m53 0h1m3 0h1M21 19h1m11 0h1m9 0h1m11 0h1M8 20h1m37 0h1m21 0h1M4 21h1m23 0h1m19 0h1M18 22h1m54 1h1M24 24h1m21 0h1m5 0h1M23 25h1m40 0h1M26 27h1m23 0h1m0 1h1m23 1h1M10 30h1m55 0h1M23 31h1m15 0h1M3 32h1m69 0h1M54 33h1m21 0h1m-1 1h1M9 35h1m8 0h1m39 0h1M27 36h1m21 0h1M21 37h1m13 0h6m14 0h1M9 41h1m17 0h1m2 0h1M9 42h1m11 0h1m45 0h1m8 0h1m-1 1h1M12 45h1m6 0h1m44 0h1M10 46h1m20 0h1m13 0h1m18 0h1M20 47h1m1 0h1m31 0h1m1 0h1m18 0h1M3 48h1M2 49h2m18 0h1m31 0h1m18 0h1M2 50h2m9 0h1m49 0h1m10 0h1M3 51h1m9 0h1m49 0h1M3 52h1m9 0h1m49 0h1m9 0h1M4 53h1m67 0h1"/>
<path stroke="#6e6e6e" d="M11 0h1M30 1h1M46 1h1M67 1h1M33 4h1m9 0h1M8 6h1M68 6h1M23 7h1M53 7h1M6 8h1M21 8h1M55 8h1M5 9h1M71 9h1m0 1h1m4 2h1M14 13h1m47 0h1M1 14h1m11 0h1m8 0h1m31 0h1m20 0h1M12 15h1m51 0h1M0 16h1m6 0h1M5 19h1m65 0h1M20 20h1m9 0h1m25 0h1M19 21h1m37 0h1m0 1h1M3 23h1m47 0h1M12 25h1m61 0h1M5 26h1m48 0h1m16 0h1M11 27h1m53 0h1M1 28h1m11 3h1m39 0h1m9 0h1M3 33h1m5 1h1m57 0h1M12 35h1m51 0h1M0 37h1M0 38h1m20 0h1M0 39h1M0 40h1m20 0h1m-1 1h1m24 0h1M18 42h1m36 0h1m2 0h1m8 1h1M12 44h1m18 0h1m13 0h1m30 0h1M29 45h1m17 0h1M22 46h1m7 0h1m1 0h1m11 0h1m9 0h1M3 47h1m62 0h1m6 0h1M1 48h1m71 0h1M11 49h1m1 0h1m9 0h1m29 0h1m9 0h1m1 0h1M23 50h1m29 0h2M4 51h1m7 0h1m51 0h1m7 0h1M4 52h1m9 0h1m47 0h1m9 0h1M3 53h1m10 0h1m47 0h1m10 0h1M4 54h1m9 0h1m57 0h1M5 55h1"/>
<path stroke="#717171" d="M17 0h1M59 0h1M9 1h1M76 1h1M34 4h1m7 0h1M7 7h1M69 7h1m0 1h1m5 2h1M28 11h1m19 0h1M36 13h1m2 0h2m22 1h1M24 17h1m27 0h1m5 0h1M17 18h1m41 0h1m0 1h1M7 22h1m61 0h1M13 23h1m11 0h1m37 0h1M6 24h1m63 0h1M2 25h1m13 0h1m5 1h1m52 2h1M4 29h1m15 0h1m35 0h1m15 0h1M57 31h1M34 32h1m41 0h1m-4 1h1M0 35h1m30 0h1m13 0h1M0 36h1m54 2h1M21 39h1m33 0h1m-1 1h1M0 41h1m54 0h1M0 42h1m8 1h1m2 0h1m51 0h1M48 44h1m15 0h1m11 1h1M3 46h1m42 0h1m10 0h1m15 0h1M10 47h1m21 0h1m11 0h1M13 48h1m9 0h1m39 0h1m11 0h1M1 49h1m19 0h1m33 0h1M4 50h1m17 0h1m1 0h1m27 0h1M2 51h1m11 0h1m8 0h2m27 0h2m8 0h1m11 0h1M51 52h1M13 53h1m49 0h1M5 54h1m9 0h1m45 0h2m8 0h1M4 55h1m10 0h1m45 0h1m9 0h2M5 56h1m64 0h2M6 57h1m63 0h2M6 58h1m63 0h1"/>
<path stroke="#737373" d="M15 1h1M61 1h1M26 2h1M50 2h1M12 3h1M64 3h1M21 4h1M55 4h1M29 5h1M47 5h1M16 7h1M60 7h1M18 10h1m12 0h1m13 0h1m12 0h1M2 13h1m34 0h2m35 0h1M28 15h1m19 0h1M6 17h1m11 0h1m51 0h1m6 1h1M9 19h1m6 0h1m43 6h1M44 29h1m21 0h1M19 31h1m18 0h1m3 1h1M9 33h1m57 0h1M0 34h1m2 0h1m54 0h1m14 0h1M12 36h1m51 0h1M12 37h1m17 1h1m15 0h1M30 40h1M12 42h1m36 0h1M0 43h1m17 0h1m39 0h1M9 44h1m18 0h1m38 0h1M3 45h1m18 0h1m50 0h1M19 46h1m11 1h1m1 0h1m9 0h1m1 0h1M20 48h1m32 0h1m2 0h1m18 1h1M11 50h1m2 0h1m50 0h1m6 0h1M25 51h1M2 52h1m9 0h1m11 0h2m26 0h1m11 0h1m9 0h1M5 53h1m9 0h1m9 0h2m23 0h2m9 0h1m9 0h1M3 54h1m69 0h1M6 55h1m9 0h1m43 0h1M4 56h1m1 0h1m8 0h2m43 0h2m10 0h1M5 57h1m10 0h2m41 0h2M7 58h1m9 0h2m50 0h1M6 59h2m61 0h2M7 60h2m59 0h2M8 61h1m59 0h1m8 1h1m-1 1h1m-1 1h1m-2 1h1"/>
<path stroke="#757575" d="M47 1h1M35 4h1m4 0h2M19 5h1M57 5h1M26 6h1M50 6h1M12 10h1m51 0h1M11 11h1m53 0h1M10 12h1m55 0h1m0 1h1M31 14h1m13 0h1M19 16h1m6 0h1m23 0h1m6 0h1m18 0h1M67 19h1M15 20h1m45 0h1m10 0h1M3 22h1m46 0h1m22 0h1M33 23h1m9 0h1M1 27h1m3 0h1m9 0h1m-6 2h1m3 0h1m17 0h1m29 0h1M4 30h1m67 0h1m3 1h1M13 32h1M0 33h1m47 0h1M18 34h1m3 0h1M3 35h1m69 0h1M64 37h1M12 38h1m-1 1h1m17 0h1m7 0h1M12 40h1m33 0h1M12 41h1m51 0h1M27 42h1m36 0h1M3 43h1M0 44h1m2 0h1m69 0h1M32 45h1m11 0h1m9 0h1M33 46h1m42 0h1M13 47h1m49 0h1M10 48h1m22 0h1m9 0h1m22 0h1M4 49h1m47 0h1m19 0h1M1 50h1m60 0h1m12 0h1M22 51h1m28 0h1m2 0h1M5 52h1m9 0h1m7 0h1m2 0h1m23 0h1m2 0h1m7 0h1m9 0h1M24 53h1m27 0h1M13 54h1m2 0h1m9 0h2m21 0h2m9 0h1m2 0h1M14 55h1m47 0h1m7 0h1M17 56h1m41 0h1M7 57h1m10 0h1m50 0h1M5 58h1m52 0h2m11 0h1M8 59h1m9 0h2m37 0h2m9 0h1M19 60h1m36 0h1M9 61h1m57 0h1M8 62h2m56 0h3M0 63h1m8 0h2m55 0h1M0 64h1m9 0h1m54 0h2m9 0h1M0 65h2m63 0h1m9 0h1M0 66h2m73 0h2M1 67h2m71 0h2M2 68h1m71 0h1M3 69h1"/>
<path stroke="#777777" d="M29 1h1M23 3h1M53 3h1M70 3h1M5 4h1m5 0h1M36 4h2m1 0h1M71 4h1M4 5h1M72 5h1M3 6h1M73 6h1M13 9h1M63 9h1M0 10h1m16 1h1m33 1h1M9 13h1M8 14h1m59 0h1M10 18h1m33 1h1M4 20h1m21 2h1m47 2h1M55 27h1m5 0h1m9 0h1m3 0h1M34 28h1m7 0h1M0 32h1m8 0h1m53 0h1m3 0h1M28 33h1m25 1h1M3 36h1m69 0h1M3 37h1m60 1h1M46 39h1m17 0h1m-1 1h1M3 42h1m69 1h1M18 44h1m39 0h1M0 45h1m8 0h1m57 0h1M13 46h1m29 0h1M23 47h1m10 0h1m7 0h1m10 0h1m22 0h1M32 48h1m1 0h1m7 0h1m1 0h1M24 49h1m-4 1h1m3 0h1m29 0h1M11 51h1m53 0h1M2 53h1m24 0h1m21 0h1m24 0h1M25 54h1m2 0h1m19 0h1m2 0h1M3 55h1m13 0h1m9 0h2m18 0h3m9 0h1m13 0h1M4 57h1m10 0h1m42 0h1m2 0h1m10 0h1M8 58h1m7 0h1m2 0h1m37 0h1m2 0h1M17 59h1m2 0h1m35 0h1M6 60h1m2 0h1m10 0h2m33 0h1m1 0h1m9 0h1m2 0h1M7 61h1m12 0h2m33 0h2m9 0h1m2 0h1m7 0h1M10 62h1m11 0h2m29 0h2M11 63h1m53 0h1m1 0h1m8 0h1M11 64h2m51 0h1M11 65h3m50 0h1m12 0h1M2 66h1m9 0h3m48 0h2m9 0h1M13 67h2m47 0h2m12 0h1M1 68h1m1 0h1m11 0h1m45 0h2m10 0h1m1 0h1M2 69h1m1 0h1m67 0h3M3 70h2m66 0h3M4 71h2m65 0h2M5 72h3m61 0h2M6 73h2m61 0h2M8 74h1m59 0h1"/>
<path stroke="#797979" d="M2 0h1m7 0h1M66 0h1m7 0h1M0 2h1M14 2h1M6 3h1M38 4h1M65 4h1M30 5h1M17 6h1M59 6h1M2 7h1M24 7h1M52 7h1M74 7h1M20 9h1M37 9h3M56 9h1m2 2h1M3 12h1m21 0h1m47 0h1M23 13h1m29 0h1m2 2h1M5 18h1m17 0h1m29 0h1m12 0h1m4 0h1M32 19h1M8 21h1m53 0h1m5 0h1M2 24h1m14 0h1m41 0h1M6 25h1m22 0h1m35 1h1M21 27h1m2 3h1m27 0h1m23 0h1M4 31h1m22 4h1m21 0h1m23 2h1M3 38h1m69 0h1M3 39h1m35 0h1M3 40h1M3 41h1m69 0h1m-1 1h1M31 43h1M22 44h1m31 0h1M0 46h1m28 0h1m17 0h1m15 0h1m3 0h1M19 47h1m10 0h1m15 0h1m10 0h1M4 48h1m30 0h1m5 0h1m30 0h1M10 49h1m3 0h1m19 0h1m7 0h1m13 0h1m5 0h1m3 0h1M51 50h1M1 51h1m3 0h1m44 0h1m24 0h1M49 52h1M12 53h1m3 0h1m11 0h1m19 0h1m11 0h1m3 0h1M6 54h1m22 0h1m17 0h1m22 0h1M26 55h1m2 0h2m15 0h1m3 0h1M7 56h1m6 0h1m3 0h1m9 0h4m14 0h3m9 0h1m3 0h1m6 0h1m-2 2h1M5 59h1m3 0h1m49 0h1m11 0h1M18 60h1m39 0h1m18 0h1M10 61h1m8 0h1m2 0h2m29 0h2m2 0h1M0 62h1m10 0h1m8 0h2m2 0h1m27 0h1m2 0h1m9 0h1m10 0h1M8 63h1m13 0h4m26 0h3m13 0h1M1 64h1m7 0h1m14 0h3m23 0h2m15 0h1m7 0h1M10 65h1m52 0h1m2 0h1M11 66h1m50 0h1m2 0h1m11 0h1M0 67h1m2 0h1m11 0h2m44 0h1m2 0h1m8 0h1M4 68h1m8 0h2m1 0h1m42 0h2m2 0h1m8 0h1M15 69h3m40 0h4M5 70h1m11 0h2m39 0h2M6 71h1m12 0h2m35 0h3m11 0h1m2 0h1M4 72h1m50 0h1m15 0h1M5 73h1m2 0h1m59 0h1M7 74h1m1 0h1m57 0h1m1 0h1M8 75h3m55 0h3M9 76h3m53 0h3M12 77h2m49 0h3m11 0h1"/>
<path stroke="#7b7b7b" d="M18 0h1M38 0h1M58 0h1M28 1h1M7 2h1M25 2h1M51 2h1M62 2h1m6 0h1m7 1h1M10 5h1M46 5h1M1 8h1M14 8h1m7 0h1M54 8h1m7 0h1M75 8h1M36 9h1m3 0h1M30 10h1m15 0h1M4 11h1m22 0h1m21 0h1m22 0h1m4 0h1M16 12h1m15 2h1M1 15h1m18 0h1m48 0h1m5 0h1M0 17h1m13 4h1M7 23h1m4 1h1m51 0h1M47 25h1m22 0h1M1 26h1m9 0h1M0 31h1m71 0h1M13 33h1m4 0h1m39 0h1M8 39h1m59 0h1m4 0h1m-6 1h1m4 0h1M45 43h1M13 45h1M9 46h1M4 47h1m30 0h1m5 0h1m30 0h1M24 48h1m6 0h1m4 0h1m3 0h1m4 0h1m6 0h1m23 0h1M20 49h1m12 0h1m1 0h2m3 0h2m1 0h1M15 51h1m10 0h1m34 0h1m9 0h1M22 52h1m4 0h1m26 0h1M6 53h1m16 0h1m29 0h1M24 54h1m21 0h1m5 0h1M13 55h1m17 0h1m13 0h1m17 0h1M3 56h1m23 0h1m4 0h2m10 0h2m3 0h1m23 0h1M8 57h1m10 0h1m9 0h6m8 0h5m9 0h1m10 0h1M20 58h1m23 0h1m11 0h1m15 0h1M21 59h1m33 0h1m11 0h1M10 60h1m11 0h1m31 0h1M24 61h1m27 0h1m17 0h1M7 62h1m17 0h1m25 0h1m4 0h1m12 0h1M12 63h1m8 0h1m4 0h1m23 0h2m12 0h1M13 64h1m9 0h1m3 0h2m19 0h2m2 0h2m9 0h1M2 65h1m11 0h1m10 0h5m17 0h5m10 0h1m11 0h1M15 66h1m13 0h2m15 0h1m14 0h1M12 67h1m47 0h1M17 68h1m58 0h1M1 69h1m3 0h1m8 0h1m3 0h2m37 0h1m4 0h1m8 0h1m3 0h1M2 70h1m3 0h1m9 0h1m2 0h2m35 0h2m2 0h1m9 0h1m3 0h1M3 71h1m3 0h1m9 0h2m2 0h2m32 0h1m3 0h1m9 0h1M8 72h1m10 0h6m28 0h2m1 0h2m10 0h1m3 0h1M9 73h1m12 0h4m25 0h5m11 0h1m3 0h1M6 74h1m3 0h1m12 0h1m1 0h2m23 0h3m13 0h1m3 0h1M7 75h1m3 0h1m53 0h1m3 0h1M8 76h1m3 0h2m49 0h2m12 0h1M0 77h1m9 0h2m2 0h2m46 0h1m3 0h1m9 0h1"/>
<path stroke="#7d7d7d" d="M37 0h1m1 0h1M8 1h1M48 1h1M68 1h1M66 5h1M49 6h1M35 9h1M76 9h1M5 10h1m54 2h1M44 14h1M7 15h1m3 2h1m53 0h1M38 18h1m38 1h1m-9 4h1M31 24h1m13 0h1m29 2h1M5 28h1m4 0h1m55 0h1m4 0h1m4 1h1M14 30h1m42 0h1m4 0h1M9 31h1m57 0h1M23 32h1m29 0h1m9 1h1M22 35h1M8 37h1m59 0h1M8 38h1m59 0h1M37 39h1m39 0h1M8 40h1M8 41h1m59 0h1M22 43h1m4 0h1m21 0h1M18 45h1m9 0h1m19 0h1m9 0h1m4 0h1M23 46h1m10 0h1m18 0h1M0 47h1m66 0h1M14 48h1m22 0h3m22 0h1M37 49h3m4 0h1M5 50h1m29 0h2m1 0h3m25 0h1M21 51h1m33 0h1M1 52h1m9 0h1m53 0h1m9 0h1M29 53h1m17 0h1m22 0h1M2 54h1m14 0h1m12 0h1m28 0h1m14 0h1M7 55h1m10 0h1m6 0h1m6 0h2m9 0h2m6 0h1m6 0h1m10 0h1M34 56h5m1 0h4M28 57h1m6 0h8m5 0h1M4 58h1m10 0h1m14 0h14m1 0h2m14 0h1M16 59h1m17 0h3m2 0h1m2 0h2m16 0h1m16 0h1M17 60h1m5 0h1m29 0h1m5 0h1m6 0h1m4 0h1M0 61h1m5 0h1m11 0h1m39 0h1m6 0h1M19 62h1m6 0h1m23 0h1m6 0h1M1 63h1m25 0h2m19 0h2m5 0h2m18 0h1M8 64h1m13 0h1m6 0h2m14 0h3m6 0h1m13 0h1M9 65h1m5 0h1m8 0h1m5 0h4m9 0h4m5 0h1m14 0h1M3 66h1m6 0h1m15 0h3m2 0h4m1 0h1m1 0h2m1 0h5m1 0h4m15 0h1m6 0h1M4 67h1m6 0h1m5 0h1m11 0h11m1 0h7m11 0h1m5 0h1m6 0h1m4 0h1M0 68h1m11 0h1m5 0h1m16 0h3m2 0h1m1 0h1m15 0h1m5 0h1m6 0h1M13 69h1m6 0h1m35 0h1m6 0h1M15 70h1m5 0h1m32 0h2m5 0h1M16 71h1m6 0h1m29 0h2m5 0h1m13 0h1M3 72h1m14 0h1m6 0h1m25 0h2m5 0h1M4 73h1m5 0h1m9 0h2m4 0h3m18 0h1m1 0h2m5 0h2m8 0h1m5 0h1M5 74h1m5 0h1m10 0h1m1 0h1m2 0h4m14 0h5m3 0h2m10 0h1m5 0h1M12 75h1m11 0h12m1 0h1m4 0h11m11 0h1m5 0h1m6 0h1M0 76h1m13 0h1m12 0h1m1 0h8m2 0h11m18 0h2M1 77h1m14 0h1m19 0h1m2 0h1m1 0h1m18 0h2m5 0h1m7 0h1"/>
<path stroke="#808080" d="M35 0h2m3 0h2M16 1h1M75 1h1m0 1h1M20 4h1M56 4h1M31 5h1M45 5h1M9 6h1M27 6h1M67 6h1M8 7h1M68 7h1M6 9h1M41 9h1m29 1h1M15 13h1m45 0h1M29 15h1m17 0h1M12 16h1m51 0h1M37 18h1m1 0h1M22 19h1m31 0h1M29 20h1m17 0h1M3 21h1m69 0h1M18 23h1m15 0h1m7 0h1m15 0h1m15 0h1M16 26h1M0 30h1m18 0h1M4 32h1m67 0h1M54 35h1M8 36h1m59 0h1m8 0h1m-1 1h1M17 38h1m41 0h1m17 0h1M17 39h1m18 0h1m3 0h1m18 0h1m-1 1h1m17 0h1m-1 1h1M68 42h1m8 0h1M54 43h1M13 44h1m49 0h1M4 46h1m37 0h1m29 0h1M9 47h1m26 0h2m1 0h2M0 48h1m24 1h1m6 0h1m18 0h1m24 0h1M10 50h1m4 0h1m10 0h1m7 0h1m2 0h1m3 0h2m28 0h1M27 51h1m9 0h3m9 0h1M16 52h1m11 0h1m19 0h1m11 0h1M12 54h1m18 0h2m11 0h2m18 0h1M34 55h9m31 0h1M19 56h1m6 0h1m12 0h1m10 0h1m6 0h1m5 0h1M3 57h1m10 0h1m5 0h1m28 0h1m6 0h1m5 0h1m10 0h1M9 58h1m11 0h1m7 0h1m17 0h1m7 0h1m11 0h1M22 59h1m8 0h3m3 0h2m1 0h2m2 0h2m8 0h1M5 60h1m27 0h1m2 0h7M11 61h1m13 0h1m11 0h2m1 0h1m10 0h1m24 0h1M12 62h1m14 0h1m20 0h2m14 0h1M7 63h1m5 0h1m6 0h1m8 0h4m5 0h1m7 0h2m15 0h1m5 0h1M2 64h1m11 0h1m6 0h1m9 0h14m17 0h1m11 0h1M23 65h1m10 0h9m10 0h1m7 0h1M16 66h1m8 0h1m9 0h1m1 0h1m2 0h1m10 0h1m8 0h1M18 67h1m8 0h2m11 0h1m7 0h3m7 0h1M5 68h1m13 0h1m10 0h5m3 0h2m1 0h1m1 0h5m9 0h1M6 69h1m14 0h1m10 0h13m10 0h1m14 0h1m5 0h1M1 70h1m5 0h1m6 0h1m7 0h2m12 0h6m11 0h1m8 0h1m6 0h1m5 0h1M2 71h1m5 0h1m6 0h1m8 0h3m10 0h1m3 0h1m9 0h2m15 0h1M9 72h1m7 0h1m8 0h3m1 0h1m2 0h1m2 0h1m2 0h1m5 0h2m1 0h3m8 0h1m7 0h1m5 0h1M18 73h2m9 0h18m1 0h1m9 0h1M12 74h1m7 0h2m9 0h14m10 0h2M6 75h1m6 0h1m8 0h2m12 0h1m1 0h4m11 0h2m8 0h1M7 76h1m16 0h3m1 0h1m8 0h2m11 0h2m10 0h1m13 0h1M9 77h1m7 0h1m8 0h10m1 0h2m1 0h1m1 0h7m10 0h1"/>
<path stroke="#828282" d="M42 0h1M1 1h1M60 1h1M13 3h1m8 0h1M54 3h1m8 0h1M18 5h1M58 5h1M15 7h1M61 7h1M7 8h1M69 8h1M42 9h1M70 9h1M19 10h1m37 0h1M2 14h1m11 0h1m6 0h1m33 0h1m6 0h1m11 0h1M13 15h1m49 0h1M6 16h1m63 0h1M25 17h1m25 0h1m24 0h1M36 18h1m3 0h1m31 1h1M9 20h1m11 0h1m45 0h1M27 21h1m21 0h1M13 22h1m5 0h1m43 0h1M2 23h1m57 3h1M15 28h1m40 0h1M25 29h1M4 33h1m8 1h1m18 0h1m30 0h1m4 1h1m8 0h1M17 37h1m41 0h1M17 40h1m-1 1h1m41 0h1M8 42h1M8 43h1m59 0h1m8 0h1M32 44h1m11 0h1M4 45h1m28 0h1m9 0h1m28 0h1M58 46h1M38 47h1M19 48h1m10 0h1m26 0h1M5 49h1m14 1h1m12 0h1m9 0h1m6 0h1m5 0h1m4 0h1m14 0h1M35 51h2m3 0h3M6 52h1m29 0h5m29 0h1M1 53h1m15 0h1m12 0h1m5 0h6m4 0h1m7 0h1m20 0h1M7 54h1m15 0h1m9 0h11m9 0h1m15 0h1M2 55h1m49 0h1M8 56h1m4 0h1m37 0h1m16 0h1M27 57h1m0 1h1m19 0h1m28 0h1M4 59h1m5 0h1m19 0h1m15 0h1m6 0h1m12 0h1m5 0h1M0 60h1m15 0h1m7 0h1m6 0h2m1 0h2m7 0h2m7 0h1m7 0h1m4 0h1M5 61h1m11 0h1m8 0h1m6 0h4m2 0h1m1 0h4m5 0h1m8 0h1m11 0h1M1 62h1m4 0h1m11 0h1m9 0h3m1 0h16m10 0h1m11 0h1m4 0h1M19 63h1m13 0h5m1 0h7m11 0h1m-3 1h1M3 65h1m4 0h1m13 0h1m31 0h1m13 0h1m4 0h1M4 66h1m4 0h1m7 0h1m6 0h1m27 0h1m6 0h1m7 0h1m4 0h1M10 67h1m14 0h2m24 0h1m14 0h1M11 68h1m8 0h1m6 0h3m18 0h3m5 0h1m8 0h1m11 0h1M0 69h1m11 0h1m9 0h2m4 0h4m13 0h5m4 0h1m9 0h1M24 70h12m6 0h6m1 0h1m1 0h2m10 0h1M14 71h1m12 0h10m1 0h3m1 0h9m10 0h1M2 72h1m7 0h1m5 0h1m12 0h1m1 0h2m1 0h2m1 0h2m1 0h5m2 0h1m12 0h1m5 0h1m7 0h1M3 73h1m7 0h1m5 0h1m41 0h1m5 0h1m7 0h1M4 74h1m8 0h1m5 0h1m37 0h1m6 0h1m7 0h1m4 0h1M0 75h1m4 0h1m8 0h1m6 0h1m33 0h1m6 0h1m8 0h1M6 76h1m8 0h2m5 0h2m28 0h3m6 0h1M2 77h1m5 0h1m9 0h2m3 0h3m23 0h4m4 0h2m9 0h1m5 0h1"/>
<path stroke="#848484" d="M34 0h1M0 9h1M34 9h1m12 1h1M33 14h1m9 0h1M27 16h1m21 0h1M0 18h1m3 1h1m40 0h1m9 1h1M20 21h1m35 0h1m0 1h1m-5 2h1M1 25h1m73 0h1M6 26h1m21 0h1m19 0h1m21 0h1M20 28h1m40 0h1m14 0h1M0 29h1m4 0h1m45 0h1m19 0h1m-5 1h1M58 32h1M33 33h1m9 0h1m28 0h1M44 34h1m32 0h1M8 35h1m13 1h1m-1 6h1m31 0h1m4 0h1M13 43h1m49 0h1M4 44h1m3 0h1m68 0h1M23 45h1m-6 1h1m16 0h1m5 0h1M14 47h1m9 0h1m4 0h1m17 0h1m4 0h1m9 0h1M9 48h1m36 0h1m20 0h1M0 49h1m30 0h1m13 0h1m25 0h1M32 50h1m11 0h1M33 51h2m8 0h1m22 0h1M29 52h1m4 0h2m5 0h2m4 0h1m7 0h1M11 53h1m10 0h1m8 0h5m6 0h4m13 0h1m5 0h1M18 54h1m39 0h1M12 55h1m11 0h1m32 0h1m6 0h1M25 56h1m48 0h1M9 57h1m11 0h1m4 0h1m23 0h1m16 0h1M3 58h1m10 0h1m7 0h1m31 0h1m7 0h1M15 59h1m7 0h2m3 0h2m17 0h2m12 0h1M11 60h1m13 0h1m4 0h1m14 0h3m2 0h2m24 0h1M12 61h1m14 0h6m12 0h5m14 0h1M13 62h1m17 0h1m31 0h1M2 63h1m11 0h1m47 0h1m7 0h1m3 0h1M7 64h1m7 0h1m4 0h1m35 0h1m4 0h1m7 0h1M16 65h1m4 0h1m33 0h1m4 0h1M18 66h1m3 0h2m29 0h2m3 0h1M5 67h1m13 0h1m3 0h2m27 0h2m2 0h2m13 0h1M6 68h1m14 0h1m1 0h1m1 0h2m24 0h2m1 0h2m14 0h1M7 69h1m16 0h4m22 0h4m15 0h1M0 70h1m7 0h1m4 0h1m34 0h1m1 0h1m17 0h1m7 0h1M1 71h1m7 0h1m52 0h1m4 0h1m7 0h1M11 72h1m3 0h1m45 0h1M12 73h1m3 0h1m43 0h1m3 0h1M17 74h2m39 0h2m2 0h2M15 75h1m2 0h3m35 0h3m2 0h1m14 0h1M1 76h1m3 0h1m11 0h5m33 0h2m1 0h3m9 0h1m4 0h1M3 77h1m3 0h1m12 0h3m30 0h4m12 0h1m3 0h1"/>
<path stroke="#868686" d="M19 0h1M33 0h1m9 0h1M57 0h1M27 1h1M49 1h1M24 2h1M52 2h1M12 4h1M72 4h1M32 5h1M44 5h1M73 5h1M25 7h1M51 7h1M21 9h1M11 10h1m17 0h1m35 0h1M10 11h1m55 0h1m0 1h1M3 13h1m69 0h1m1 3h1M17 17h1m41 0h1M16 18h1m18 0h1m5 0h1m18 0h1M31 19h1m45 1h1M8 22h1m59 0h1M7 24h1m15 0h1m45 0h1M54 25h1m10 0h1M38 27h1M9 30h1m4 1h1m3 1h1m58 1h1M4 34h1m3 0h1m59 0h1m3 0h1M13 35h1m49 0h1M17 36h1m23 0h1m12 0h1m4 0h1M26 39h1m23 0h1M17 42h1m9 2h1m21 0h1m18 0h1m3 0h1M53 45h1m23 0h1M36 46h1m1 0h1m1 0h1m7 0h1M5 48h1m19 0h1m25 0h1m19 0h1M15 49h1m45 0h1M6 51h1m3 0h1m5 0h1m11 0h1m15 0h1m3 0h1m11 0h1m9 0h1m5 0h1M21 52h1m8 0h4m9 0h4M7 53h1M1 54h1m73 0h1M8 55h1m10 0h1m33 0h1M2 56h1m17 0h1m31 0h1m3 0h1M13 57h1m11 0h1m25 0h1m3 0h1m7 0h1m13 0h1M10 58h1m12 0h1m3 0h1m21 0h2m2 0h1m19 0h1M0 59h1m24 0h1m1 0h1m21 0h4M4 60h1m21 0h4m18 0h2m11 0h1m10 0h1M16 61h1m43 0h1m14 0h1M17 62h1m41 0h1m11 0h1M6 63h1m11 0h1m39 0h1M3 64h1m12 0h1m2 0h1m37 0h1m2 0h1m12 0h1M7 65h1m9 0h1m2 0h1m35 0h1m2 0h1m9 0h1m2 0h1M8 66h1m10 0h3m33 0h3m10 0h1M6 67h1m2 0h1m10 0h3m31 0h2m11 0h1M7 68h1m2 0h1m11 0h1m1 0h1m28 0h1m12 0h1M8 69h1m2 0h1m53 0h1m2 0h1m8 0h1M9 70h1m2 0h1m51 0h1m2 0h1M10 71h1m2 0h1m49 0h1m1 0h2M1 72h1m10 0h3m47 0h4m9 0h1M2 73h1m10 0h3m45 0h3m10 0h1m2 0h1M0 74h1m2 0h1m10 0h3m43 0h2m11 0h1m2 0h1M1 75h1m2 0h1m11 0h2m41 0h2m11 0h2m1 0h1M2 76h1m1 0h1m52 0h1m13 0h1m2 0h1M4 77h3m63 0h3"/>
<path stroke="#888888" d="M3 0h1M9 0h1M44 0h1M67 0h1M15 2h1M61 2h1m9 1h1M4 4h1M64 4h1M77 4h1M3 5h1M16 6h1M28 6h1M48 6h1M60 6h1M74 6h1M23 8h1M53 8h1M33 9h1m9 0h1M55 9h1m8 0h1m12 1h1M18 11h1m31 0h1M9 12h1m14 0h1m27 0h1M8 13h1m59 0h1M1 16h1m56 0h1M5 17h1m65 0h1M10 19h1m50 0h1m4 0h1M24 23h1m16 0h1m10 0h1M11 25h1m10 0h1M10 27h1m16 0h1m9 0h1m1 0h1m9 0h1m16 0h1M26 28h1m23 0h1m-5 2h1m0 1h1m14 0h1M4 35h1m8 1h1m21 0h6M22 37h1m27 1h1M26 40h1m23 0h1M22 41h1m31 0h1M4 42h1m8 0h1m17 0h1m13 0h1m17 0h1M4 43h1m12 0h1m41 0h1m12 0h1M8 45h1m59 0h1M14 46h1m13 0h1m8 0h1m1 0h1m22 0h1m14 0h1M9 49h1m9 0h1m6 0h1m19 0h1m3 0h1m6 0h1m9 0h1M0 50h1m26 0h1m3 0h1m13 0h1m3 0h1M20 51h1m10 0h2m14 0h1m8 0h1M17 52h1m41 0h1m6 0h1m2 1h1M11 54h1m10 0h1m31 0h1m10 0h1M23 55h1m44 0h1M9 56h1m14 0h1m39 0h1M22 57h1m29 0h3M24 58h3m24 0h2m13 0h1M3 59h1m7 0h1m2 0h1m11 0h1m35 0h1m2 0h1m7 0h1m2 0h1M12 60h1m2 0h1m48 0h1M1 61h1m11 0h1m49 0h1M2 62h1m2 0h1m8 0h3m43 0h1m1 0h1m11 0h1M15 63h3m41 0h3M17 64h2m39 0h2m10 0h1M4 65h1m13 0h2m37 0h2M5 66h1m63 0h1m1 0h1M7 67h2m59 0h1m1 0h1M8 68h2m57 0h3M9 69h2m55 0h2M10 70h2m53 0h2m10 0h1M0 71h1m10 0h2m51 0h1m11 0h2M0 72h1m75 0h2M0 73h2m73 0h2M1 74h2m71 0h2M2 75h2m70 0h1M3 76h1m68 0h2"/>
<path stroke="#8a8a8a" d="M32 0h1M73 0h1M6 2h1M70 2h1M0 3h1M5 3h1M33 5h1m9 0h1M2 6h1M1 7h1M75 7h1M12 9h1m13 2h1m31 0h1M4 12h1m67 0h1M22 13h1m31 0h1M34 14h1m7 0h1m26 0h1M30 15h1m15 0h1M18 16h1m-4 3h1m57 1h1M2 22h1m71 0h1M12 23h1m22 0h1m28 0h1M17 25h1m41 0h1m16 2h1M0 28h1m32 0h1m9 0h1M5 30h1m24 0h1m-2 1h1m47 1h1M8 33h1m14 0h1m44 0h1M27 34h1m21 0h1M17 35h1m22 0h1m18 0h1m12 0h1M4 36h1m58 0h1M13 37h1m40 0h1M22 38h1m3 0h1M13 40h1m8 0h1m31 0h1M4 41h1m8 0h1m36 0h1m12 0h1m8 0h1m-1 1h1M34 45h1M5 47h1m12 0h1m39 0h1m12 0h1m5 0h1M29 48h1m17 0h1M30 49h1M6 50h1m9 0h1m29 0h1m23 0h1M0 51h1m28 0h2m14 0h2M10 52h1m65 0h1M18 53h1m2 0h1m33 0h1m2 0h1M19 54h1m37 0h1m10 0h1M1 55h1m18 0h1m1 0h1m31 0h1m1 0h1m18 0h1M12 56h1m8 0h3m29 0h3m11 0h1m9 0h1M2 57h1m7 0h1m12 0h2m41 0h1m7 0h1M0 58h1m10 0h1m1 0h1m49 0h1m-1 1h2M1 60h1m11 0h2m47 0h2m11 0h1M2 61h1m1 0h1m9 0h2m45 0h2m9 0h1M4 62h1m56 0h1m10 0h1M3 63h1m1 0h1m65 0h1m1 0h1M4 64h3m64 0h2M5 65h2m63 0h2M6 66h2m62 0h1m-2 1h1"/>
<path stroke="#8c8c8c" d="M45 0h1M17 1h1M50 1h1M69 1h1M21 3h1M55 3h1M19 4h1M57 4h1M11 5h1M65 5h1M13 8h1M63 8h1M76 8h1M17 12h1M7 14h1M2 15h1m16 0h1m37 0h1M11 18h1m12 0h1m9 0h1m7 0h1m9 0h1m12 0h1m10 0h1M3 20h1m10 0h1m47 0h1M51 22h1M1 24h1m73 0h1M55 26h1M6 27h1m63 0h1m-4 2h1m3 1h1M24 31h1m27 0h1m24 0h1M53 33h1M31 36h1m40 0h1M4 37h1m45 0h1m12 0h1m8 0h1M4 38h1m8 0h1m40 0h1m8 0h1M4 39h1m8 0h1m8 0h1m12 0h1m5 0h1m12 0h1m8 0h1m8 0h1M4 40h1m58 0h1m8 0h1M26 41h1M17 44h1m5 0h1m29 0h1m5 0h1M14 45h1m27 0h1m6 0h1m12 0h1M5 46h1m2 0h1m15 0h1m27 0h1m15 0h1M28 47h1m19 0h1M15 48h1m45 0h1m15 0h1M9 50h1m9 0h1m8 0h3m16 0h2m8 0h1m2 0h1m6 0h1M0 52h1m6 0h1m12 0h1m35 0h1m12 0h1M10 53h1m55 0h1m9 0h1M8 54h1m11 0h2m33 0h1M9 55h1m1 0h1m9 0h1m33 0h1m9 0h1m1 0h1m9 0h1M1 56h1m73 0h1M11 57h2m51 0h1M2 58h1m9 0h1m51 0h2m8 0h1m1 0h1M12 59h2M3 60h1m69 0h1M3 61h1m69 0h2M3 62h1m69 0h1M4 63h1m67 0h1"/>
<path stroke="#8e8e8e" d="M31 0h1M2 1h1M7 1h1M26 1h1M59 1h1M1 2h1M23 2h1M53 2h1M75 2h1M14 3h1M62 3h1M34 5h1m7 0h1M59 5h1M10 6h1M29 6h1M47 6h1M66 6h1M50 7h1M32 9h1M44 9h1m3 1h1M5 11h1m65 0h1M59 12h1M35 14h1m5 0h1m28 1h1m3 0h1M4 18h1m67 0h1M0 19h1m47 1h1M9 21h1m57 0h1m9 0h1M25 22h1m6 2h1m11 0h1M30 25h1m15 0h1M21 26h1m-6 1h1m19 0h1m3 0h1m19 0h1M9 29h1m5 0h1m3 0h1m37 0h1m3 0h1M5 31h1m52 0h1M14 32h1m53 0h1M45 36h1M26 37h1m45 1h1M50 42h1M27 45h1m7 0h1m2 0h1m2 0h1m17 0h1m11 1h1M8 47h1m16 0h1m25 0h1m16 0h1M18 48h1m7 0h1m1 0h1m21 0h1m7 0h1M6 49h1m20 0h3m17 0h3m20 0h1m6 0h1M7 51h1m1 0h1m7 0h1m1 0h1m37 0h1m1 0h1M18 52h1m39 0h1M0 53h1m7 0h1m10 0h2m35 0h2M0 54h1m8 0h2m45 0h1m9 0h2m9 0h1M10 55h1M0 56h1m9 0h2m53 0h2M0 57h2m63 0h1m9 0h2m-2 1h1M1 59h2m71 0h2M2 60h1m71 0h1"/>
<path stroke="#909090" d="M20 0h1M56 0h1M74 1h1m1 2h1M17 5h1M35 5h1m5 0h1M9 7h1m4 0h1M26 7h1M62 7h1m4 0h1M0 8h1M7 9h1M6 10h1m13 0h1m7 0h1m27 0h1m13 0h1M16 13h1M6 15h1m21 1h1M12 17h1m13 0h1m23 0h1m13 0h1M28 20h1m34 1h1M8 23h1m27 0h1m3 0h1m27 0h1M18 24h1M7 25h1m61 0h1m-4 1h1m9 0h1M0 27h1m30 2h1m13 0h1m31 1h1M18 31h1m52 0h1M8 32h1m26 0h1m12 0h1m13 0h1M17 34h1m41 0h1M36 35h1m32 3h1M7 39h1m61 0h1M7 40h1m61 0h1m-1 1h1M26 42h1m5 1h1M14 44h1m18 0h1m9 0h1M5 45h1m11 0h1m18 0h2m1 0h2m30 0h1M15 47h1m45 0h1M8 48h1m39 0h2m18 0h1M16 49h1m1 0h1m41 0h1m16 1h1M18 51h1m48 0h1m1 0h1m7 0h1M8 52h2m9 0h1m37 0h1m9 0h2m8 0h1M67 53h2m8 0h1m-2 1h1M0 55h1m65 0h1m9 0h1m-1 1h1M1 58h1"/>
<path stroke="#939393" d="M30 0h1M46 0h1M36 5h1m3 0h1M8 8h1M24 8h1M52 8h1M68 8h1M22 9h1m8 0h1M45 9h1M69 9h1m7 0h1M60 13h1M3 14h1m11 0h1m4 0h1m15 0h1m3 0h1m15 0h1m4 0h1M13 16h1m34 0h1m14 0h1m7 0h1M1 17h1m73 0h1M23 19h1m6 0h1m15 0h1m6 0h1M2 21h1m10 0h1m60 0h1m0 2h1M11 24h1m46 0h1m6 0h1M10 26h1m45 1h1M6 28h1m63 0h1M5 32h1m22 0h1m12 0h1m29 0h1M14 33h1M7 37h1m61 0h1M7 38h1M7 41h1M7 42h1m61 0h1M7 43h1m15 0h1m20 0h1m8 0h1m15 0h1M5 44h1m56 0h1m8 0h1M24 45h1m27 0h1M17 46h1m9 0h1m21 0h1m9 0h1M27 47h1m21 0h1M6 48h1m20 0h1m42 0h1M8 49h1m49 0h1m9 0h1M7 50h2m8 0h2m39 0h2m8 0h2M8 51h1m49 0h1m9 0h1M9 53h1"/>
<path stroke="#959595" d="M4 0h1M8 0h1M68 0h1m3 0h1M25 1h1M51 1h1M16 2h1M60 2h1M72 3h1M0 4h1M13 4h1M63 4h1m9 0h1M2 5h1M37 5h3M77 5h1M61 6h1M54 9h1M25 11h1m25 0h1M23 12h1m29 0h1M37 14h3m33 0h1M14 15h1m16 0h1m13 0h1m16 0h1M5 16h1m27 2h1m9 0h1M3 19h1m69 0h1m2 0h1M10 20h1m55 0h1M50 21h1m26 1h1M1 23h1m17 0h1m17 0h1m1 0h1M0 26h1m19 1h1M9 28h1m57 0h1m9 1h1M8 31h1m59 0h1M5 33h1m56 0h1M23 34h1m45 1h1M7 36h1m18 0h1m23 0h1m18 0h1M31 41h1M5 43h1m8 0h1m11 0h1m23 0h1m11 0h1m8 0h1M7 44h1m29 0h1m31 0h1M7 45h1m61 0h1M15 46h1m9 0h1m25 0h1m9 0h1M6 47h1m10 0h1m8 0h1m23 0h1m8 0h1m10 0h1M7 48h1m8 0h1m43 0h1M7 49h1m9 0h1m41 0h1m9 0h1"/>
<path stroke="#979797" d="M29 0h1M47 0h1M5 2h1M22 2h1M54 2h1M71 2h1M4 3h1M20 3h1M56 3h1M3 4h1M18 4h1M58 4h1M74 5h1M1 6h1M15 6h1M30 6h1M46 6h1M75 6h1m0 1h1M65 9h1M10 10h1m55 0h1M9 11h1m9 0h1m37 0h1m9 0h1M8 12h1m59 0h1M4 13h1m67 0h1M2 16h1M0 20h1m21 0h1m3 1h1m37 1h1M38 23h1m18 0h1m18 2h1M7 26h1M6 29h1m8 1h1m45 0h1M17 33h1m41 0h1m11 0h1M53 34h1M7 35h1m52 4h1M16 40h1m43 0h1M5 41h1m39 0h1m14 0h1M5 42h1m54 0h1m1 0h1m8 0h1M26 44h1m7 0h1m4 0h1m2 0h1m7 0h1M6 46h2m18 0h1m23 0h1m18 0h2M7 47h1m8 0h1m43 0h1m8 0h1M17 48h1m41 0h1m9 0h1"/>
<path stroke="#999999" d="M21 0h1M55 0h1M6 1h1M18 1h1M58 1h1M70 1h1m4 2h1M12 5h1M64 5h1M27 7h1M49 7h1M38 8h2M64 8h1M11 9h1M46 9h1M27 10h1m21 0h1M5 12h1m1 1h1m13 0h1m33 0h1m13 0h1m4 3h1M4 17h1m11 0h1m43 0h1m11 0h1M15 18h1m45 0h1m13 0h1M11 19h1m42 1h1M21 21h1M9 22h1m2 0h1m7 0h1m35 0h1m10 0h1m7 0h1M8 24h1M0 25h1m16 1h1m41 0h1m9 0h1m7 2h1m-8 1h1M25 30h1m25 0h1m16 0h1M5 34h1m1 0h1m6 0h1m47 0h1m6 0h1m1 0h1M5 35h1m65 0h1M5 36h1M5 37h1m54 0h1M16 38h1m43 0h1M5 39h1m10 0h1M5 40h1m65 0h1M14 41h1m1 0h1m54 0h1M14 42h1m1 0h1m6 0h1m29 0h1M6 43h1m9 0h1m43 0h1m9 0h1M6 44h1m9 0h1m7 0h1m10 0h2m1 0h1m1 0h1m29 0h1M6 45h1m8 0h1m10 0h1m23 0h1m10 0h1m8 0h1M16 46h1"/>
<path stroke="#9b9b9b" d="M28 0h1M48 0h1M3 1h1M2 2h1M74 2h1M1 3h1M15 3h1M61 3h1M76 4h1M16 5h1M60 5h1M11 6h1M31 6h1M45 6h1M0 7h1M12 8h1M36 8h2m2 0h1M77 8h1M30 9h1M21 10h1m-4 2h1m52 0h1M6 14h1m63 0h1M3 15h1m40 0h1m13 0h1M17 16h1m41 0h1M25 18h1m36 1h1m2 0h1M2 20h1m71 0h1m1 0h1M0 21h1m54 0h1M1 22h1m75 1h1M68 24h1M10 25h1m55 0h1M29 26h1m17 0h1M9 27h1m25 0h1m5 0h1m25 0h1m9 0h1M16 28h1m40 0h1m2 0h1M6 30h1m1 0h1m9 0h1m39 0h1M24 32h1m44 1h1M14 35h1m8 0h1m38 0h1m8 1h1M16 37h1m54 0h1M5 38h1m65 0h1m-2 1h2M14 40h1m55 0h1M6 41h1m55 0h1m7 0h1M6 42h1m63 0h1M33 43h1m9 0h1M15 44h1m25 0h1m10 0h1m7 0h2M16 45h1m8 0h1m25 0h1m8 0h1m-1 1h1"/>
<path stroke="#9d9d9d" d="M5 0h1M7 0h1M69 0h1m1 0h1M24 1h1M52 1h1M73 1h1M17 2h1M59 2h1M2 4h1M0 5h1M75 5h1M65 6h1M77 6h1M10 7h1m2 0h1M63 7h1m2 0h1M9 8h1M25 8h1m9 0h1m5 0h1m9 0h1M8 9h1M7 10h1m47 0h1m13 0h1M6 11h1m63 0h1M58 12h1M5 15h1m12 0h1m13 0h1m38 0h1m1 0h1M29 16h1m17 0h1M1 18h1m1 0h1m28 0h1m11 0h1m6 0h1m12 0h1m8 0h1M14 19h1M0 22h1m10 1h1m41 0h1m11 0h1M0 24h1m21 0h1m10 0h1m9 0h1m10 0h1m21 0h2m-1 1h1m-1 1h1M7 27h1m61 0h1M19 28h1M8 29h1m61 1h1M6 31h1m8 0h1m45 0h1m8 0h1M52 32h1m6 0h1m9 0h1M7 33h1m19 0h1m21 0h1m3 2h1M14 36h1m1 0h1m43 0h1m1 0h1m7 0h1M6 37h1m7 0h1m55 0h1M6 38h1m7 0h1m55 0h1M6 39h1m7 0h1m47 0h1M6 40h1m55 0h1M23 41h1m29 0h1M15 43h1"/>
<path stroke="#9f9f9f" d="M6 0h1M22 0h1m4 0h1M49 0h1m4 0h1M71 1h1M4 2h1M21 2h1M55 2h1M72 2h1M2 3h2M19 3h1M57 3h1M73 3h1M14 4h1M59 4h1m2 0h1M74 4h2M1 5h1M0 6h1M14 6h1M32 6h1M44 6h1M62 6h1M76 6h1M28 7h1M48 7h1M77 7h1M34 8h1m7 0h1M67 8h1M23 9h1M53 9h1M68 9h1M24 11h1m27 0h1M17 13h1m41 0h1M4 14h1m14 0h1m37 0h1m14 0h1M4 16h1m67 0h1M2 17h1m10 0h1m13 0h1m21 0h1m24 0h1M12 18h1M2 19h1m44 0h1m26 0h2M13 20h1m35 0h1m13 0h1M10 21h1m55 0h1m8 0h2M52 22h1M0 23h1m22 0h1m52 0h1M8 25h1m9 0h1m2 0h1m33 0h1M7 28h1m36 0h1M26 29h1m23 0h1m17 0h1m0 2h1M6 32h2m9 0h1m52 0h1M6 33h1m63 0h1M6 34h1m63 0h1M6 35h1m19 0h1m23 0h1m9 0h1m9 0h1M6 36h1m24 1h1m30 0h1m-1 1h1M31 40h1m3 0h1m5 0h2M15 41h1m-1 1h1m16 0h1m11 0h1m16 0h1M35 43h1m5 0h1m19 0h1M25 44h1m25 0h1"/>
<path stroke="#a2a2a2" d="M26 0h1M50 0h1M70 0h1M4 1h2M19 1h1M57 1h1M72 1h1M3 2h1M73 2h1M16 3h1M74 3h1M1 4h1M17 4h1M13 5h1M76 5h1M11 8h1M33 8h1m9 0h1M10 9h1M29 9h1M47 9h1M66 9h1M9 10h1m16 0h1m23 0h1m16 0h1M8 11h1m59 0h1M7 12h1m14 0h1m31 0h1m14 0h2M5 13h2m63 0h2M16 14h1m43 0h1m10 0h1M15 15h1m45 0h1m10 0h1M3 16h1m10 0h1m47 0h1m10 0h1M3 17h1m59 0h1m9 0h1M2 18h1m71 0h1M1 19h1m27 0h1M11 20h1m15 0h1m47 0h1M1 21h1m10 0h1m51 0h1M24 22h1m51 0h1M9 23h1m57 0h1M10 24h1m55 0h1M31 25h1m13 0h1m12 0h1m9 0h1M9 26h1m57 0h1M28 27h1m19 0h1M8 28h1m23 0h1m35 0h2M7 29h1m61 0h1M7 30h1m61 0h1M7 31h1m7 1h1m0 3h1m6 1h1m21 1h1M15 39h1m45 0h1M15 40h1m7 0h1m1 0h1m8 0h1m10 0h1m5 0h1m1 0h1m7 0h1M25 41h1m25 0h1m9 0h1M25 42h1m25 0h1M24 43h2m8 0h1m1 0h1m3 0h1m1 0h1m8 0h2"/>
<path stroke="#a4a4a4" d="M23 0h1M53 0h1M23 1h1M53 1h1M18 2h1m1 0h1M56 2h1m1 0h1m1 1h1M15 5h1M61 5h1m1 0h1M12 6h1M33 6h1m9 0h1M63 6h2M11 7h2M64 7h1M10 8h1M26 8h1M65 8h2M9 9h1M67 9h1M8 10h1m59 0h1M7 11h1m12 0h1m35 0h1m12 0h1M6 12h1m49 1h1M5 14h1M4 15h1m28 0h1m9 0h1m-7 2h3M24 19h1m27 0h1M1 20h1m63 0h1M11 22h1M9 24h1M9 25h1m57 0h1M8 26h1m11 0h1m35 0h1m11 0h1M8 27h1m8 0h1m41 0h1m8 0h1M27 28h1m21 0h1M16 29h1m41 0h1m1 0h1m0 3h1M15 33h1m44 1h1m-8 2h1M23 37h1m37 0h1M15 38h1m18 0h1m7 0h1m18 0h1M23 39h1m1 0h1m25 0h1m1 0h1M24 42h1m9 0h1m7 0h1"/>
<path stroke="#a6a6a6" d="M24 0h2M51 0h2M20 1h1M19 2h1M57 2h1M17 3h2M58 3h2M15 4h2M60 4h2M14 5h1M62 5h1M13 6h1M34 6h1m7 0h1M29 7h1M47 7h1M65 7h1M32 8h1M44 8h1m5 0h1M24 9h1m3 0h1M48 9h1m3 0h1M22 10h1m31 0h1M19 12h1m37 0h1M20 13h1m-5 3h1m13 0h1m29 0h1M15 17h1m20 0h1m3 0h1m20 0h1M14 18h1m16 0h1m13 0h1m16 0h2M12 19h2m50 0h1M12 20h1m-2 1h1m39 0h1M10 22h1m54 0h2M10 23h1m55 0h1M19 24h1m37 0h1m9 0h1M42 27h1M18 29h1m-2 2h1m41 0h1m0 2h2M15 34h2m-2 1h1m45 0h1M15 36h1m45 0h1M15 37h1m37 0h1M23 38h1m1 0h1m5 0h1m19 0h1m1 0h1M31 39h1m13 0h1M34 41h1m7 0h1M33 42h1m1 0h1m5 0h1m1 0h1m8 0h1"/>
<path stroke="#a8a8a8" d="M21 1h2M54 1h3M35 6h2m2 0h3M30 7h1m0 1h1M45 8h1M25 10h1m25 0h1M23 11h1m29 0h1M21 12h1m33 0h1M18 13h1m39 0h1M18 14h1m39 0h1M17 15h1m16 0h1m7 0h1m16 0h2M15 16h1m30 0h1m14 0h1M14 17h1m47 0h1M13 18h1m12 0h1m36 1h1M23 20h1m29 0h1m10 0h1M25 21h1m39 0h1M20 23h1m35 0h1M34 24h1m7 0h1M19 27h1m14 0h1m22 0h1M16 30h1m12 0h1m17 0h1m12 0h1M48 31h1M16 33h1m7 0h1m27 0h1m8 1h1M32 35h1m12 3h1M34 39h1m7 0h1M24 41h1m27 0h1M37 43h1m1 0h1"/>
<path stroke="#aaaaaa" d="M37 6h2m7 1h1M27 8h1M49 8h1M25 9h1m1 0h1M49 9h1M23 10h1m28 0h2M21 11h2m31 0h2M20 12h1m35 0h1M19 13h1m37 0h1M17 14h1m41 0h1M16 15h1m24 0h1M28 17h1m6 0h1m5 0h1m6 0h1m1 1h1M28 19h1m19 0h1M22 21h1m31 0h1M21 22h1m33 0h1M18 26h1m39 0h1M17 28h1m40 0h2M46 29h1M17 30h1m41 0h1M16 31h1m8 0h1m2 0h1m22 0h1m8 0h1M16 32h1m19 0h1m3 0h1m19 0h1M50 34h1m-7 1h1M25 37h1m25 0h1M24 40h1m27 0h1M32 41h1m11 0h1m-7 2h1"/>
<path stroke="#acacac" d="M31 7h3m1 0h8m1 0h2M28 8h3M46 8h3M26 9h1M50 9h2M24 10h1m10 5h1m-5 1h1m2 1h1m7 0h1M26 20h1m23 0h1m3 3h1M21 24h1m33 0h1m2 3h1M18 28h1m-2 1h1m12 0h1m28 0h1M34 33h1m-9 1h1m11 0h1m-5 3h1m7 0h1M24 39h1m8 2h1"/>
<path stroke="#aeaeae" d="M34 7h1m8 0h1m-8 8h1m1 0h1m1 0h1m4 1h1M30 18h1m15 0h1M25 19h1m25 0h1M23 22h1m29 0h1M22 23h1m-3 1h1m-2 1h2m35 0h2M19 26h1m10 0h1m15 0h1m10 0h1M18 27h1m8 5h1m21 0h1m-8 1h1M24 34h1m0 2h1m25 0h1m0 2h1m-1 1h1M35 41h7m1 0h1"/>
<path stroke="#b0b0b0" d="M37 15h1m1 0h1M29 17h1m3 0h1m9 0h1m3 0h1m1 1h1M24 20h1m27 0h1M23 21h2m27 0h1M22 22h1m-2 1h1m33 0h1M35 24h1m5 0h1m14 0h1M26 30h1m6 4h1m18 0h1M24 37h1m-1 1h1"/>
<path stroke="#b2b2b2" d="M32 16h1m11 0h1M27 18h1m1 0h1m17 0h1M26 19h2m21 0h2M25 20h1m25 0h1m1 1h1m0 1h1M32 25h1m11 0h1m-2 2h1m1 1h1m4 2h1M24 35h1m26 0h2M24 36h1m27 0h1m-1 1h1M43 39h1M32 40h1m10 0h2"/>
<path stroke="#b5b5b5" d="M33 16h1m4 0h1m4 0h1M30 17h3m11 0h3M28 18h1m19 0h1M36 24h1m-8 3h1m3 0h1m13 0h1M31 28h1m-7 4h1m25 0h1M26 33h1m23 0h1m-8 1h1M25 35h1m7 4h1m-1 1h1m6 0h1"/>
<path stroke="#b7b7b7" d="M34 16h4m1 0h4m-3 8h1m-4 2h3M28 28h1m-2 1h1m21 0h1M25 33h1m-1 1h1m25 0h1M36 40h4m0 2h1"/>
<path stroke="#b9b9b9" d="M37 24h3m-4 2h1m3 0h1m7 2h1m-1 2h1M37 32h1m1 0h1m11 1h1M39 34h1m1 1h1M32 36h1m11 0h1M33 38h1m9 0h1M32 39h1m11 0h1m-9 3h1"/>
<path stroke="#bbbbbb" d="M31 26h1m-3 3h1m17 0h1M28 30h1m-3 1h2m21 0h2M26 32h1m23 0h1M37 34h1m-3 1h1m-2 1h1m7 0h1M32 38h1"/>
<path stroke="#bdbdbd" d="M33 25h1m9 0h1m-9 1h1m5 0h1m3 0h1M32 27h1m11 0h1M27 30h1m21 0h1M38 32h1m-7 5h1m11 0h1m-1 1h1"/>
<path stroke="#bfbfbf" d="M30 27h1m-1 1h1m15 0h1M28 29h1m19 0h1"/>
<path stroke="#c1c1c1" d="M34 25h1m7 0h1m-1 1h1M31 27h1m14 0h1M29 28h1m17 0h1M35 33h1m-3 4h1m9 0h1"/>
<path stroke="#c4c4c4" d="M32 26h3m8 0h2m0 1h1m-5 6h1m-8 1h1m-2 1h1m9 0h1"/>
<path stroke="#c6c6c6" d="M35 25h1m1 0h3m1 0h1m-6 9h1m3 0h1m1 0h1"/>
<path stroke="#c8c8c8" d="M36 25h1m3 0h1M33 36h1m9 0h1m-7 6h2"/>
<path stroke="#cacaca" d="M39 42h1"/>
<path stroke="#d0d0d0" d="M36 33h1m3 0h1m-7 2h1m7 0h1"/>
<path stroke="#d4d4d4" d="M37 33h3m-5 1h1m5 0h1"/>
</g>
<path fill="#eeeeee" fill-rule="evenodd" d="M312.5 799.5 308.5 799.3 304.5 798.2 301.6 796.5 299.7 794.5 298.7 792.5 298.6 789.5 299.4 787.5 301.2 785.5 303.5 784 305.5 783.1 311.5 781.7 315.6 782.5 318.5 783.4 320.6 784.5 323 786.5 324.3 788.5 324.8 790.5 324.5 792.5 323.5 794.5 321.5 796.5 319.5 797.8 316.5 798.9Z"/>
<path fill="#111111" fill-rule="evenodd" d="M324.5 734.9 312.5 734 307.5 734.2 299.5 734.9 298.5 734.8 297.9 734.5 300.1 733.5 303.6 732.5 311.5 731.7 319.6 732.5 323 733.5 325.3 734.5ZM323.5 778.7 311.5 779.3 300.5 778.8 299.1 778.5 297.5 777.9 296.3 776.5 295.9 772.5 296.5 769.5 297.8 766.5 299.5 764.3 301.5 762.5 304.9 760.5 308.5 759.4 311.5 759.2 314.5 759.4 317.5 760.2 320.2 761.5 323.5 764.1 325.5 766.7 326.7 769.5 327.3 773.5 326.9 776.5 325.5 778Z"/>
</g></g>
<path d="M137.36 955.6v-3.3M137.36 599.7v3.3M151.88 955.6v-3.3M151.88 599.7v3.3M166.4 955.6v-5.5M166.4 599.7v5.5M180.92 955.6v-3.3M180.92 599.7v3.3M195.44 955.6v-3.3M195.44 599.7v3.3M209.96 955.6v-3.3M209.96 599.7v3.3M224.48 955.6v-3.3M224.48 599.7v3.3M239 955.6v-5.5M239 599.7v5.5M253.52 955.6v-3.3M253.52 599.7v3.3M268.04 955.6v-3.3M268.04 599.7v3.3M282.56 955.6v-3.3M282.56 599.7v3.3M297.08 955.6v-3.3M297.08 599.7v3.3M311.6 955.6v-5.5M311.6 599.7v5.5M326.12 955.6v-3.3M326.12 599.7v3.3M340.64 955.6v-3.3M340.64 599.7v3.3M355.16 955.6v-3.3M355.16 599.7v3.3M369.68 955.6v-3.3M369.68 599.7v3.3M384.2 955.6v-5.5M384.2 599.7v5.5M398.72 955.6v-3.3M398.72 599.7v3.3M413.24 955.6v-3.3M413.24 599.7v3.3M427.76 955.6v-3.3M427.76 599.7v3.3M442.28 955.6v-3.3M442.28 599.7v3.3M456.8 955.6v-5.5M456.8 599.7v5.5M471.32 955.6v-3.3M471.32 599.7v3.3M485.84 955.6v-3.3M485.84 599.7v3.3M134 951.57h3.3M489.8 951.57h-3.3M134 937.07h3.3M489.8 937.07h-3.3M134 922.56h5.5M489.8 922.56h-5.5M134 908.05h3.3M489.8 908.05h-3.3M134 893.55h3.3M489.8 893.55h-3.3M134 879.04h3.3M489.8 879.04h-3.3M134 864.54h3.3M489.8 864.54h-3.3M134 850.03h5.5M489.8 850.03h-5.5M134 835.52h3.3M489.8 835.52h-3.3M134 821.02h3.3M489.8 821.02h-3.3M134 806.51h3.3M489.8 806.51h-3.3M134 792.01h3.3M489.8 792.01h-3.3M134 777.5h5.5M489.8 777.5h-5.5M134 762.99h3.3M489.8 762.99h-3.3M134 748.49h3.3M489.8 748.49h-3.3M134 733.98h3.3M489.8 733.98h-3.3M134 719.48h3.3M489.8 719.48h-3.3M134 704.97h5.5M489.8 704.97h-5.5M134 690.46h3.3M489.8 690.46h-3.3M134 675.96h3.3M489.8 675.96h-3.3M134 661.45h3.3M489.8 661.45h-3.3M134 646.95h3.3M489.8 646.95h-3.3M134 632.44h5.5M489.8 632.44h-5.5M134 617.93h3.3M489.8 617.93h-3.3M134 603.43h3.3M489.8 603.43h-3.3" stroke="#222" stroke-opacity="0.6" stroke-width="0.8" fill="none"/><rect x="134" y="599.7" width="355.8" height="355.9" fill="none" stroke="#555" stroke-opacity="0.75" stroke-width="1"/><circle cx="311.6" cy="777.5" r="4.5" fill="#fff"/>
<g font-size="27.2">
<text x="166.4" y="988" text-anchor="middle">−200</text>
<text x="239" y="988" text-anchor="middle">−100</text>
<text x="311.6" y="988" text-anchor="middle">0</text>
<text x="384.2" y="988" text-anchor="middle">100</text>
<text x="456.8" y="988" text-anchor="middle">200</text>
<text x="128" y="931.94" text-anchor="end">−200</text>
<text x="128" y="859.41" text-anchor="end">−100</text>
<text x="128" y="786.88" text-anchor="end">0</text>
<text x="128" y="714.35" text-anchor="end">100</text>
<text x="128" y="641.82" text-anchor="end">200</text>
</g>
<text class="ax" x="304.7" y="1026" text-anchor="middle"><tspan class="it">x</tspan> [nm]</text>
<text class="ax" transform="translate(64.8 778.6) rotate(-90)" text-anchor="middle"><tspan class="it">y</tspan> [nm]</text>
<clipPath id="cb2"><rect x="629.4" y="600" width="433.2" height="353.4"/></clipPath>
<g clip-path="url(#cb2)"><g filter="url(#hm)"><g transform="translate(614 587.5) scale(5)" stroke-width="1.04" fill="none">
<path stroke="#2a2a2a" d="M38 0h1M36 8h1m10 4h1m14 1h1M35 16h1m29 0h1M47 19h1M36 23h1m21 5h1"/>
<path stroke="#2d2d2d" d="M37 0h1M65 3h4M38 6h1m17 4h1m-6 2h10m-4 1h5m-2 1h4M36 15h1m29 2h2M57 25h1m0 2h1M35 30h1m23 0h1M46 35h3m-2 3h2"/>
<path stroke="#2f2f2f" d="M51 0h11m5 2h1m1 1h1M69 4h1m1 0h1M37 7h1m21 4h1M48 12h1m13 3h4m-2 1h1m2 2h1M51 23h5m2 3h1m-1 3h2M41 30h6m-3 2h4m0 1h1M26 35h8m14 4h1"/>
<path stroke="#313131" d="M47 1h19m2 3h1m1 0h1M70 5h1M39 6h1m10 6h1m10 0h1M38 13h4m-3 1h1m24 0h1m1 2h1m-2 1h1m0 1h1M43 19h4m21 0h1M53 21h1M35 23h1m18 2h3m-1 2h2m-1 1h1m1 0h1M45 29h1m1 2h1M26 36h9m12 3h1"/>
<path stroke="#333333" d="M64 3h1M44 4h1M39 5h3M71 5h2M49 12h1m13 1h1m4 5h1M51 20h1m3 6h3m2 5h1M46 36h3"/>
<path stroke="#353535" d="M62 0h1m5 2h1M67 4h1m5 1h1M73 6h1M44 10h12m1 0h1M42 13h1m13 0h1m2 1h1M37 15h1m25 1h1M48 19h1m20 1h1M48 22h7m1 1h1m2 4h1m0 2h1m-1 1h1m-2 1h1M49 36h1"/>
<path stroke="#373737" d="M36 1h1m5 2h6M63 3h1m6 0h1m1 3h1m1 0h1m0 1h1M61 15h1m5 4h1m1 0h1m0 2h1M55 22h1m-4 2h6m0 6h1M29 32h4m27 0h1M45 34h4m0 3h1"/>
<path stroke="#393939" d="M66 1h1M88 1h2M48 3h1M91 3h1M72 4h1m1 3h1m1 0h1M76 8h2M52 9h1m7 2h1m1 1h1m5 8h1m0 1h1M36 22h3m31 0h2M34 24h1m23 1h1m1 8h1M49 35h1M35 37h1m10 0h3m0 1h1m-3 2h2"/>
<path stroke="#3c3c3c" d="M63 0h1M87 0h1M44 2h23M90 2h1M75 6h1M50 9h1M77 9h2m-1 1h2m-1 1h2m0 1h1M66 15h1m0 1h1m16 0h1M64 17h1m3 0h1m1 3h1M50 23h1m20 0h1m0 1h1m-1 1h1M36 28h8m4 4h1m10 0h1M27 33h6m13 5h1"/>
<path stroke="#3e3e3e" d="M50 0h1M86 0h1m1 0h1m1 1h1M89 2h1M62 3h1M90 3h1M66 4h1M91 4h2M92 5h1M75 8h1M49 9h1m1 0h1M39 12h8m33 0h1M55 13h1m25 0h2M65 14h1m16 0h2m-1 1h1m0 2h2m-1 1h1m0 1h1M52 20h1m33 0h1M71 21h1m15 0h1M39 22h1m47 0h1M72 23h1m-2 1h1M53 25h1m19 0h1m-1 1h1m-1 1h1M44 28h1m12 1h1M40 30h1m20 2h1m-1 1h1m-2 1h2"/>
<path stroke="#404040" d="M91 2h1M71 3h1M69 5h1m4 0h1M37 6h1M71 6h1M36 7h1M73 7h1M35 8h1M48 9h1m4 0h1M41 11h18M36 14h3m19 0h1M35 15h1m48 0h1m-2 1h1M69 18h1M49 19h1m35 0h1M54 21h1m32 2h2m-1 1h1M72 26h1m0 2h2m-1 1h1M42 31h5m11 0h1m2 0h1M44 33h4M33 34h1m15 0h1m11 1h1M47 41h1"/>
<path stroke="#424242" d="M87 1h1M69 2h1M92 3h1M40 4h4M42 5h1M38 7h1M78 8h1M35 9h1M76 9h1m2 0h1M58 10h1m21 0h1m0 1h1m0 1h1M60 15h1m21 0h1M62 16h1m2 2h1m18 0h1m1 0h1M42 19h1m27 0h1M39 20h12m36 0h1m-2 1h1M47 22h1m40 0h1M70 23h1m17 2h2M54 26h1m33 0h2M39 27h1m1 0h1m32 0h1m14 0h1M56 28h1m17 2h1M59 33h1M26 34h7m12 1h1m14 0h1M49 39h1"/>
<path stroke="#444444" d="M64 0h1m2 1h1M61 3h1M92 6h1M77 7h1m-1 3h1M64 13h1m18 0h1m-3 1h1M36 16h1m48 0h1M66 19h1m18 1h1M69 22h1m2 0h1m13 0h1M73 24h1m13 0h1m1 0h1M33 25h1m37 0h1M59 26h1m14 0h1M40 27h1m14 0h1m4 1h1m28 0h1M73 29h1m15 0h2M36 30h1m38 0h1m-2 1h2M43 32h1m31 0h1m-1 1h1M61 36h1M46 39h1m-1 1h1"/>
<path stroke="#464646" d="M85 0h1m3 0h1M88 2h1m0 1h1M65 4h1m7 0h1M40 6h1M74 8h1M54 9h1m23 2h1m0 1h1M37 13h1m5 0h1m36 0h1m6 6h1M67 20h1m0 1h1m19 0h1M72 27h1m15 0h1m1 1h1M75 29h1M61 30h1m27 0h2m-1 1h1M74 32h1m15 0h1m-1 1h1M75 34h1M60 36h1m0 1h1M48 41h1"/>
<path stroke="#484848" d="M35 1h1M91 1h1M49 3h1M45 4h1M90 4h1m0 1h1M76 6h1M61 11h1M40 14h1m43 0h1m-2 3h1m2 0h1M71 20h1M37 21h16m36 2h1m-3 2h1m2 2h1M33 30h2m4 0h1m7 0h1m25 0h1m15 1h1m1 0h1m-1 1h1m-1 1h1m-2 1h2M75 35h1m15 0h1M75 36h1M26 37h9m26 1h1M49 40h1"/>
<path stroke="#4a4a4a" d="M36 0h1m9 1h1M38 5h1M68 5h1M54 13h1m30 2h1m-4 1h1M50 19h1m33 0h1m0 2h1M73 23h1m12 0h1M70 24h1m3 1h1m15 1h1M60 27h1m14 1h1m12 0h1M46 29h1m10 1h1m33 0h1M32 31h2m55 1h1M74 33h1m1 0h1M59 34h1m2 0h1m13 0h1M62 35h1m13 0h1m13 0h1M35 36h1m40 0h1m13 0h2M60 37h1m14 0h1m15 0h1M35 38h1m55 0h1"/>
<path stroke="#4c4c4c" d="M70 2h1M60 3h1M75 5h1M70 6h1m1 1h1M47 9h1m7 0h1M75 9h1M43 10h1m37 0h1M57 14h1M38 15h1m28 0h1m0 1h1m19 4h1M51 24h1m19 2h1m0 2h1M34 29h11m46 0h1M76 32h1M49 33h1m12 0h1m26 0h1M74 34h1M62 36h1m-1 1h1m13 0h1m13 0h1M34 38h1m25 0h1m14 0h1m14 0h1M61 39h1m28 0h2m-1 1h1M46 41h1"/>
<path stroke="#4f4f4f" d="M86 1h1m5 1h1M79 8h1m0 1h1M59 10h1m22 1h1M63 12h1m2 2h1m14 1h1M63 17h1m5 0h1m17 1h1M72 21h1m16 1h1M49 23h1m7 0h1M35 24h1m54 1h1m-4 1h1M42 27h1m32 0h1M61 29h1m26 0h1M73 31h1m2 0h1M28 32h1m29 0h1m30 2h1M74 35h1M62 38h1m13 0h1m-2 1h2m-2 1h1m14 0h1m0 1h1M47 42h1"/>
<path stroke="#515151" d="M49 0h1M84 0h1M59 3h1M72 3h1m3 7h1m6 2h1m-4 2h1m5 2h1M64 18h1m5 0h1m12 0h1M40 22h1m15 0h1m12 1h1M58 24h1M38 27h1m52 1h1M37 30h1m38 0h1m11 0h1M34 31h1m13 0h1m13 1h1m-4 3h1m29 0h1M74 36h1M60 39h1m0 1h1m14 0h1m-2 1h1m14 0h1m-1 1h2"/>
<path stroke="#535353" d="M65 0h1M90 0h1M35 2h1M87 2h1M50 3h1M78 7h1M92 7h1M77 11h1m1 2h1m4 0h1M34 16h1m-1 1h1m18 3h1m-8 2h1M37 23h1m48 1h1m4 3h1M56 29h1m15 0h1M38 30h1m34 2h1M45 36h1m43 0h1M74 37h1m14 0h1M74 38h1M62 39h1m-3 1h1m15 1h1M46 42h1m43 1h1"/>
<path stroke="#555555" d="M68 1h1M88 3h1M64 4h1m9 0h1m2 2h1M37 8h1M73 8h1M34 9h1M56 9h1m21 3h1M44 13h1m8 0h1M41 19h1m42 1h1M68 22h1m4 0h1m11 0h1M74 24h1m15 0h1M70 25h1m4 1h1m11 1h1M25 35h1m33 1h1m29 2h1M74 39h1m14 0h1m-1 1h1M61 41h1m13 1h1m15 1h1m-2 1h1"/>
<path stroke="#575757" d="M43 2h1M41 3h1M58 3h1M89 4h1M67 5h1M90 5h1m0 1h1M65 13h1m19 1h1M61 16h1M35 17h1m46 0h1M71 19h1m16 0h1m0 2h1M59 25h1m11 2h1m4 2h1M62 31h1m25 0h1M33 32h1m39 1h1m3 1h1M34 35h1m42 0h1m-1 1h1m-1 1h1M62 40h1m11 0h1M60 41h1m13 0h1m14 0h1M48 42h1m27 0h1m12 0h1M75 43h1m13 0h1m1 1h1m-2 1h1"/>
<path stroke="#595959" d="M34 2h1M46 9h1M34 10h1m24 5h1m27 2h1M65 19h1m1 2h1M35 22h1m-2 1h1m56 3h1M45 28h1m41 0h1M41 31h1m46 1h1M26 33h1m31 0h1m33 1h1m-1 1h1M25 36h1m66 0h1M50 37h1m8 0h1m32 0h1M77 38h1m14 0h1M77 39h1M60 42h2m12 0h1M46 43h1m27 0h1m0 1h1m13 0h1m-1 1h1m-1 1h2"/>
<path stroke="#5b5b5b" d="M69 1h1M51 3h1M69 6h1m1 1h1M40 11h1m-3 1h1m12 7h1m14 1h1m5 0h1M45 22h1m44 1h1m-5 2h1M61 28h1m10 2h1m4 3h1m14 0h1M44 34h1m28 0h1M50 36h1m-1 2h1m8 0h1m32 1h1M77 40h1M62 41h1M47 43h1m28 0h1m-3 1h1m16 1h1m-3 2h2"/>
<path stroke="#5e5e5e" d="M57 3h1M76 5h1M74 9h1m11 6h1m-6 1h1m1 3h1M55 21h1m29 2h1M52 25h1M33 26h1m21 2h1m20 0h1M57 31h1m19 1h1m14 0h1m-5 1h1M24 34h2m37 1h1m-1 1h1m-1 1h1m-1 1h1m-5 1h1m32 1h1M49 41h1m42 0h1M60 43h1m13 2h2m15 1h1m-3 2h1"/>
<path stroke="#606060" d="M37 1h1M85 1h1m6 0h1M73 3h1M39 4h1m3 1h1M80 8h1m0 1h1m0 1h1M52 13h1m31 8h1M74 23h1m-6 1h1m5 1h1m15 0h1M32 26h1m27 0h1M43 27h1m27 1h1m15 1h1M62 30h1m29 1h1M63 34h1m24 0h1M73 35h1M45 37h1m4 2h1m12 0h1m-5 1h1M45 41h1m13 0h1m17 0h1M45 42h1m46 0h1M61 43h1m14 1h1m-3 2h1m15 2h1m-2 1h1"/>
<path stroke="#626262" d="M83 0h1M71 2h1M34 3h1M46 4h1M63 4h1m2 1h1M92 8h1M75 10h1M62 11h1m20 0h1m-4 4h1M62 17h1m25 1h1m0 2h1M33 24h1m36 2h1m15 0h1M35 28h1m56 2h1M72 31h1m4 0h1M23 34h1m34 0h1M23 35h2m63 0h1M73 36h1m-1 1h1M45 40h1m13 2h1m2 0h1m14 0h1M45 43h1m0 1h1m13 0h1m12 1h1m2 0h1m11 0h1M75 46h1m12 0h1M74 47h1m13 0h1m2 0h1m-4 1h1m-1 1h1m0 1h1"/>
<path stroke="#646464" d="M66 0h1M91 0h1M86 2h1M33 3h1M53 3h1m2 0h1M35 7h1m3 0h1M79 7h1M33 10h1m8 0h1m21 2h1m19 0h1M45 13h1m-5 1h1m14 0h1m12 2h1m12 2h1M73 21h1M41 22h1m48 0h1M76 27h1M27 32h1m-4 1h2m37 0h1M50 35h1M23 36h1m64 0h1m-1 1h1M45 38h1m27 0h1m14 0h1M45 39h1m27 0h1M63 40h1m9 0h1m-1 1h1m-1 1h1m14 0h1M59 43h1m13 0h1m14 0h1m3 0h1M45 44h1m27 0h1m14 0h1M73 46h1m-1 1h1m0 1h1m15 1h1m-3 1h1m-1 1h2"/>
<path stroke="#666666" d="M52 3h1m1 0h1M41 6h1M72 8h1M60 10h1m15 1h1m1 2h1M35 14h1m43 0h1M34 15h1m33 0h1m18 1h1M33 17h1m36 0h1M38 20h1m29 3h1m22 1h1M34 25h1m18 1h1M37 27h1m16 0h1m22 3h1m9 0h1M49 32h1M23 33h1m0 3h1m63 3h1m-1 1h1m-1 1h1M62 43h1m14 0h1M59 44h1m1 0h1m30 0h1M60 45h1m14 2h1m-3 1h1m17 0h1m-2 2h1m-3 2h1"/>
<path stroke="#686868" d="M48 0h1M45 1h1m9 2h1M87 3h1M75 4h1M45 9h1M57 9h1m19 3h1m7 1h1M46 18h1m24 0h1M42 22h1m1 0h1m40 2h1m6 5h1M72 32h1M22 34h1m-1 1h1m35 0h1M27 38h1m35 3h1M48 43h1m-2 1h1m11 1h1m16 1h1m-4 3h2m12 0h1m3 0h1m-5 1h1m-1 1h1m-1 1h1m1 0h1m-3 1h2m-2 1h1"/>
<path stroke="#6a6a6a" d="M34 1h1M32 4h1M88 4h1M78 6h1M91 7h1M46 13h1M37 16h1m-5 2h1m11 0h1m37 2h1m0 2h1M75 24h1m10 3h1M71 29h1m15 2h1M24 32h2m37 0h1m14 3h1m-1 1h1M25 37h1m52 0h1m-1 1h1m-1 1h1M49 42h1m-6 2h1m32 0h1M45 45h1m15 0h1m30 0h1M59 46h2m11 1h1m-1 1h1m2 0h1m11 0h1M72 49h1m-1 1h2m16 1h1m-2 2h1m-2 1h1m-2 1h1"/>
<path stroke="#6c6c6c" d="M89 5h1M36 6h1M68 6h1M90 6h1M34 8h1m-3 3h2m17 2h1m15 1h1m18 0h1m-6 3h1M34 18h1m28 0h1m25 1h1M67 22h1m6 0h1M48 23h1m20 2h1m-9 2h1m30 1h1M62 29h1m14 0h1M56 30h1M29 31h1m-4 1h1m30 0h1M22 33h1m49 0h1m5 1h1M22 36h1m1 1h1m25 3h1m27 0h1M63 42h1M44 43h1m13 0h1m-1 1h1m3 0h1M46 45h1m11 0h1m-1 1h1m13 0h1m14 0h1m4 0h1M58 47h2m16 0h1m10 0h1M74 50h1m16 0h1M72 51h2m-2 1h1m13 0h1m-1 1h1m-1 1h1m-1 1h1m-1 1h2m-2 1h1"/>
<path stroke="#6e6e6e" d="M33 4h1M70 7h1M39 15h1m48 2h1M32 18h1m14 0h1m24 1h1M36 21h1m53 0h1M43 22h1m14 1h1m17 3h1m-7 1h1M30 31h1m-8 1h1m18 0h1m44 0h1M43 33h1M21 35h1m36 1h1M23 37h1m12 0h1m-7 1h1m47 3h1M58 42h1M44 45h1m27 0h1m4 0h1M61 46h1m-2 1h1m-3 1h2m15 1h1m-5 1h1m-1 1h1m14 0h1M71 52h1m1 0h1m16 0h1M70 53h3m-3 1h2m17 0h1m-5 1h1m2 0h1m-4 1h1m-2 1h2m-2 1h3m-3 1h2"/>
<path stroke="#717171" d="M33 2h1M31 5h1M77 5h1M30 6h1m2 3h1m2 0h1M73 9h1M31 12h1m1 4h1m26 0h1m5 5h1m24 2h1M50 24h1m8 0h1m25 1h1M31 27h2m59 0h1m-7 1h1M25 31h1m-4 1h1m55 1h1M21 34h1m28 0h1m21 0h1M58 37h1m-1 3h1m-1 1h1M44 42h1m33 0h1m-7 1h1m-1 1h1m14 1h1M44 46h1m12 1h1m34 0h1M57 48h1m18 0h1M57 49h2m12 0h1m14 1h1M74 51h1m16 0h1M70 52h1m14 2h1M69 55h3m-3 1h1m18 0h1m-2 1h1m-5 2h1m-1 1h3m-4 1h3m-3 1h1"/>
<path stroke="#737373" d="M30 0h1M84 1h1M72 2h1M32 3h1M74 3h1M62 4h1M32 5h1M92 9h1M32 10h1m-1 2h1m-3 1h1m5 0h1m29 0h1m-9 2h1m21 1h1M32 19h1m7 0h1m23 0h1m17 0h1M65 20h1m7 0h1M57 22h1m19 6h1m-7 2h1M24 31h1m38 0h1m14 1h1M21 33h1m11 0h1m53 0h1M21 36h1m42 0h1M22 37h1m41 0h1M36 38h1m21 0h1m5 0h1m-7 1h1m4 4h1M43 44h1m4 0h1m38 0h1M43 45h1m3 0h1m14 0h1M45 46h1m11 0h1m19 0h1M60 48h1m10 0h1M56 49h1m2 0h1m26 0h1M56 50h3m16 0h1m-6 1h1m2 2h1m11 0h1m4 0h1M69 54h1m2 0h1m16 1h1M68 56h1m1 0h1m13 0h1M68 57h2m13 1h1m3 0h1m-2 1h1m-5 1h1m-2 2h1m1 0h1m-3 1h3m-4 1h2m-2 1h1m11 6h1m-2 2h1"/>
<path stroke="#757575" d="M29 0h1m5 0h1M82 0h1M28 1h2M70 1h1M47 4h1M31 6h1M29 7h2M81 8h1m0 1h1m0 1h1M31 13h1m55 2h1M32 17h1m11 1h1M31 19h1m-1 1h1m22 0h1m29 3h1M32 25h1M23 31h1m2 0h1m-6 1h1m65 2h1M72 35h1m-9 4h1M50 41h1m21 0h1m-1 1h1m5 1h1m8 0h1M57 45h1M42 46h2m17 1h1m9 0h1M56 48h1m35 0h1M55 49h1m20 0h1M55 50h1m14 0h1M55 51h3m17 0h1M54 52h2m18 0h1m10 0h1M69 53h1m3 1h1m-6 1h1m3 0h1m11 0h1M67 56h1m3 0h1m-6 1h2m2 0h1m12 0h1m4 0h1M66 58h4m-5 1h3m14 0h1M64 60h1m1 0h1m19 0h1m-6 1h1m3 0h1m-6 1h1m3 0h1m-6 1h2m-2 1h1m2 0h1m-5 1h2m1 0h1m-4 1h3m-5 1h3m-3 1h2m14 2h1m-2 1h1m-2 1h3m-3 1h1m1 0h1m-5 1h4m-5 1h3m-4 1h2"/>
<path stroke="#777777" d="M28 2h1m7 0h1M85 2h1M31 4h1M80 7h1M29 8h1m44 2h1M31 11h1m31 0h1m20 0h1M47 13h1m2 0h1M30 14h1m2 5h1m49 2h1m-9 2h1m-8 1h1m-9 1h1m15 0h1m9 4h1M22 31h1m4 0h2m-9 2h1m-1 1h1m-1 1h1m43 0h1m22 0h1M20 36h1m51 0h1M21 37h1m50 0h1M24 38h1m47 0h1m-1 1h1m-9 1h1m7 0h1m14 2h1M43 43h1m5 0h1m7 1h1m5 0h1M42 45h1m3 1h1m15 0h1m8 0h1M41 47h4m11 0h1m20 0h1m8 1h1M60 49h1m-7 1h1m4 0h1m-7 1h2m3 0h1m-6 1h1m2 0h2m11 0h1m21 0h1M52 53h4m-7 1h5m14 0h1m15 0h1m5 0h1M47 55h1m2 0h1m16 0h1m15 1h1m5 0h1M65 58h1m16 0h1M64 59h1m3 0h1m18 0h1M63 60h1m1 0h1m1 0h1m13 0h1M61 61h5m14 0h1M60 62h4m21 0h1M59 63h3m22 0h1M55 64h1m1 0h1m20 0h1m4 0h1m-7 1h1m4 0h1m-7 1h2m3 0h1m-7 1h1m3 0h1m-6 1h2m2 0h1m13 0h1M73 69h5m14 0h1M71 70h5m15 0h1M69 71h5m16 0h1M68 72h3m-5 1h2m1 0h1m18 0h2M63 74h2m21 1h1m3 0h2m-7 1h1m2 0h1"/>
<path stroke="#797979" d="M27 2h1M27 3h1M76 4h1M30 5h1M65 5h1M28 8h1M28 9h1m1 3h1m-2 2h1m-1 1h1m49 0h1M31 18h1m57 0h1M30 20h1m59 0h1M30 21h1m60 1h1M38 23h1m46 3h1m6 0h1M31 28h1m38 0h1M23 30h4m-6 1h1m49 0h1m6 0h1M20 32h1m36 1h1M19 34h1m44 0h1M19 35h1m24 0h1m42 1h1M20 37h1m66 0h1M23 38h1m2 0h1m1 0h1m4 0h1m53 0h1m-1 1h1m-1 1h1M44 41h1m19 0h1m22 0h1M57 43h1m20 1h1M41 46h1m14 0h1M39 47h2m4 0h1m40 0h1M39 48h4m12 0h1m5 0h1m8 1h1m21 0h1M69 51h1m15 0h1M52 52h1m-2 1h1m4 0h1m11 0h1m5 0h1m9 0h1M47 54h2m5 0h1M41 55h1m1 0h4m1 0h2m1 0h2M43 56h7m16 0h1m5 0h1m-8 1h1m5 0h1m-8 1h1m5 0h1m17 0h1M63 59h1m5 0h1m11 0h1M62 60h1m5 0h1m-9 1h1m5 0h1m19 0h1M58 62h2m4 0h2m13 0h1M56 63h3m3 0h2m14 0h1M45 64h1m5 0h4m1 0h1m1 0h4m15 0h1M47 65h11m18 0h1M50 66h1m1 0h2m20 1h1m5 0h1m-8 1h1m5 0h1m-8 1h1m5 0h1m12 0h1M70 70h1m5 0h1m-9 1h1m5 0h1m-9 1h2m3 0h2m16 0h1M63 73h3m2 0h1m1 0h2M51 74h1m1 0h10m2 0h3m19 0h1m4 0h1M52 75h14m19 0h1m-3 1h2m4 0h2"/>
<path stroke="#7b7b7b" d="M26 4h2m9 1h1M29 6h1M71 8h1M27 10h1m-1 1h1m47 0h1m9 1h1M48 13h1m29 1h1M28 15h1m-1 1h1m19 2h1m3 1h1M32 20h1m-2 1h1m42 0h1M30 22h1m38 4h1m7 1h1M62 28h1M24 29h1m22 0h1M22 30h1m4 0h1m-8 1h1m14 0h1M19 33h1m-1 3h1m1 2h2m9 0h1m9 6h1m-2 1h1m6 0h1m14 0h1m7 0h1m6 0h1M40 46h1m6 0h1m38 0h1M37 47h2m23 0h1M38 48h1m4 0h1m26 0h1m6 0h1M54 49h1m-2 1h1m6 0h1m15 0h1m8 0h1M52 51h1m6 0h1m-9 1h1m6 0h1m16 0h1M37 53h1m11 0h2m40 0h1M38 54h3m4 0h2m8 0h1m11 0h1m6 0h1M39 55h2m1 0h1m10 0h2m11 0h1m6 0h1m9 0h1m6 0h1M41 56h2m7 0h2m-7 1h3m34 0h1m6 0h1M62 59h1m7 0h1m17 0h1M61 60h1m18 0h1m6 0h1M59 61h1m7 0h1M39 62h1m16 0h2m8 0h1M39 63h5m10 0h2m8 0h1m20 0h1M41 64h4m1 0h5m11 0h1m21 0h1M42 65h5m11 0h3m22 0h1M46 66h4m1 0h1m2 0h4m17 0h1m6 0h1M73 67h1m7 0h1m10 0h1M72 68h1m7 0h1M70 69h2m-3 1h1m7 0h1m12 0h1M40 71h3m23 0h2m7 0h2m12 0h1M42 72h4m17 0h3m7 0h2m13 0h1M43 73h9m7 0h4m9 0h1m14 0h1M46 74h5m1 0h1m15 0h3m15 0h1M48 75h4m14 0h2m24 0h1M55 76h5"/>
<path stroke="#7d7d7d" d="M24 0h2M47 0h1M23 1h2m1 2h1m1 0h1m6 0h1M86 3h1M25 5h2M44 5h1M25 6h1M79 6h1M25 7h1m1 2h1m1 0h1M58 9h1M28 10h1m32 0h1M26 11h1m-1 1h1m49 0h1M26 13h1m2 0h1m19 0h1m27 0h1M55 14h1m13 1h1M29 16h1m40 0h1m17 0h1M27 17h2m42 0h1m9 1h1M30 19h1m-2 2h1m-1 1h1m-1 1h1m0 3h1m-2 1h1m-6 1h2m1 0h1m2 0h1M20 29h4m1 0h6M19 30h3m6 0h1m19 0h1m14 0h1m22 0h1M19 31h1m-1 1h1m-2 1h1m-2 1h2m-1 1h1m-1 1h1m-1 1h2m-1 1h2m29 4h1m13 0h1M49 44h1m21 0h1M40 45h1m-2 1h1m6 1h1m8 0h1M36 48h2m6 0h1m-7 1h4m19 0h1m7 1h1m22 0h1M51 51h1M34 52h3m13 0h1m17 0h1m15 0h1M35 53h2m1 0h1m9 0h1m8 0h1m17 0h1M36 54h2m3 0h4m11 0h1M37 55h2m16 0h1M40 56h1m11 0h1m12 0h1m7 0h1m8 0h1M43 57h2m3 0h3m13 0h1m7 0h1M33 58h1m29 0h1m7 0h1m9 0h1M35 59h1m25 0h1M34 60h4m22 0h1m8 0h1M35 61h5m18 0h1m9 0h1m10 0h1M36 62h3m1 0h3m12 0h1m11 0h1m10 0h1m7 0h1M38 63h1m5 0h10m11 0h1m11 0h1M32 64h1m6 0h2m22 0h1m12 0h1M41 65h1m19 0h2m12 0h1M43 66h3m12 0h2m14 0h1M34 67h3m10 0h8m17 0h1M35 68h3m33 0h1m19 0h1M36 69h4m29 0h1m9 0h1m10 0h1M37 70h5m25 0h2m9 0h1M39 71h1m3 0h2m20 0h1m11 0h1M40 72h2m4 0h2m14 0h1m12 0h1m11 0h1M33 73h1m8 0h1m9 0h7m14 0h1m12 0h1M34 74h2m8 0h2m25 0h1m13 0h1M35 75h3m8 0h2m20 0h1m15 0h1M36 76h3m11 0h5m5 0h5m17 0h1m8 0h1"/>
<path stroke="#808080" d="M0 0h24m4 0h1m2 0h1m7 0h1M92 0h1M0 1h23m4 0h1M0 2h25m4 0h1M42 2h1M0 3h24M0 4h24m1 0h1M87 4h1M0 5h25M0 6h25m1 0h1M67 6h1M0 7h25m3 0h1M90 7h1M0 8h26m4 0h1M91 8h1M0 9h25M0 10h27m8 0h1M0 11h26M0 12h26m1 0h1m37 0h1M0 13h26m60 0h1M0 14h27m1 0h1m13 0h1M0 15h28m2 0h1M0 16h28M0 17h27M0 18h29M0 19h28M0 20h28m1 0h1M0 21h29m27 0h1M0 22h29M0 23h29m1 0h1M0 24h30M0 25h31m61 0h1M0 26h30M0 27h29M0 28h24m2 0h1m1 0h2M0 29h20m35 0h1M0 30h19m59 0h1M0 31h19m21 0h1m15 0h1M0 32h19m52 0h1M0 33h18m46 0h1M0 34h17M0 35h18M0 36h18m61 0h1M0 37h18m61 0h1M0 38h19m60 0h1M0 39h20m59 0h1M0 40h18M0 41h17M0 42h18m39 0h1M0 43h18M0 44h17m24 0h1M0 45h17m39 0h1m29 0h1M0 46h19m19 0h1M0 47h20m50 0h1M0 48h20m25 0h1m8 0h1m7 0h1M0 49h21m1 0h1m4 0h1m3 0h3m3 0h1m4 0h2m9 0h1m23 0h1m7 0h1M0 50h35m17 0h1M0 51h36m24 0h1m7 0h1m7 0h1M0 52h34m3 0h1m11 0h1m9 0h1M0 53h35m4 0h1m1 0h1m4 0h2m10 0h1m8 0h1M0 54h36m30 0h1m16 0h1m7 0h1M0 55h34m2 0h1m37 0h1M0 56h35m3 0h2m13 0h2m35 0h1M0 57h35m5 0h3m8 0h1m11 0h1M0 58h33m1 0h2m10 0h1m15 0h1m26 0h1M0 59h35m1 0h1m34 0h1m8 0h1M0 60h34m4 0h1m20 0h1m28 0h1M0 61h35m5 0h2m14 0h2m29 0h1M0 62h33m1 0h2m7 0h2m8 0h2M0 63h34m1 0h3m28 0h1M0 64h32m1 0h2m3 0h1m25 0h1m20 0h1M0 65h35m5 0h1m22 0h1m20 0h1M0 66h37m5 0h1m17 0h1m12 0h1m9 0h1m8 0h1M0 67h34m3 0h1m7 0h2m8 0h4m23 0h1M0 68h35m3 0h2m30 0h1m10 0h1M0 69h36m4 0h2m26 0h1m11 0h1M0 70h35m1 0h1m5 0h2m22 0h1m12 0h1m9 0h1M0 71h35m3 0h1m6 0h2m16 0h2m23 0h1M0 72h36m2 0h2m8 0h3m7 0h4m14 0h1M0 73h33m1 0h3m3 0h2m32 0h1m10 0h1M0 74h34m2 0h2m5 0h1m28 0h1m11 0h1M0 75h35m3 0h1m5 0h2m23 0h2m12 0h1M0 76h33m1 0h2m3 0h2m7 0h2m15 0h2m14 0h1m10 0h1"/>
<path stroke="#828282" d="M25 1h1m4 0h1M26 2h1M24 3h2M24 4h1m9 0h1M27 5h1M88 5h1m0 1h1M26 7h1m4 0h1M69 7h1M27 8h1M25 9h2m12 2h1m-7 1h1m-7 1h1m4 0h1m-6 1h1m3 0h1m-1 3h1m40 1h1M28 19h1m-1 1h1m53 0h1M31 22h1m1 1h1m33 0h1M30 24h1m1 0h1m3 0h1m47 0h1M61 26h1M36 27h1m48 0h1M30 30h1m55 1h1M57 34h1m21 1h1M25 38h1m-6 1h1m-3 1h2m59 0h1M17 41h2m60 0h1M18 42h1m-1 1h1m45 0h1m6 0h1M17 44h2m-2 1h2m20 0h1M19 46h1m28 0h1m6 0h1m7 0h1m14 0h1M20 47h1m15 0h1m10 0h1M20 48h4m3 0h4m4 0h1m10 0h1M21 49h1m1 0h4m1 0h3m5 0h1m7 0h1m24 0h1M39 50h2m20 0h1M36 51h1m13 0h1m41 0h1M38 52h1m9 0h1m27 0h1M40 53h1m1 0h4m11 1h1m17 0h1M34 55h2m20 0h1m8 0h1m16 0h1m8 0h1M35 56h3m17 0h1m8 0h1M35 57h2m1 0h2m12 0h2m19 0h1m7 0h1m8 0h1M36 58h4m1 0h5m1 0h4m10 0h1m10 0h1M37 59h2m21 0h1M39 60h2m17 0h1m11 0h1m8 0h1M42 61h1m11 0h2m13 0h1m8 0h1M33 62h1m11 0h8m15 0h1m8 0h1M34 63h1m32 0h1m8 0h1m9 0h1M35 64h3m27 0h1m9 0h1M35 65h5m24 0h1m9 0h1M37 66h2m1 0h2m19 0h2M38 67h2m2 0h3m14 0h1m11 0h1m19 0h1M40 68h2m4 0h9m1 0h1m12 0h1m12 0h1m7 0h1M42 69h1m24 0h1m13 0h1m7 0h1M35 70h1m8 0h2m19 0h1m22 0h1M35 71h3m9 0h2m11 0h3m15 0h1m8 0h1M36 72h2m13 0h7m28 0h1M37 73h1m1 0h1m35 0h1M38 74h5m30 0h1M39 75h2m2 0h1m27 0h1m10 0h1M33 76h1m7 0h2m3 0h2m19 0h2m11 0h1"/>
<path stroke="#848484" d="M26 0h1M67 0h1M26 1h1M25 2h1m6 0h1M31 3h1M30 4h1M61 4h1M33 5h1M78 5h1M32 6h1M26 8h1m4 2h1m-4 1h1m1 0h1m3 0h1m-7 2h1m39 1h1M32 16h1m-4 1h1m31 0h1m18 0h1M30 18h1m-2 1h1m61 2h1m-9 1h1m-8 2h1M30 27h1m13 0h1M33 29h1m36 0h1M29 30h1m20 3h1m28 1h1M21 39h2m-3 1h1m23 0h1M19 41h1m37 0h1M19 42h1m23 0h1m35 0h1M19 43h1m22 0h1m7 0h1M19 44h1m20 0h1m15 0h1m7 0h1m21 0h1M19 45h2m28 0h1M20 46h1m16 0h1m32 0h1M21 47h2m12 0h1m18 0h1m8 0h1m14 0h1M24 48h3m4 0h4m18 0h1m31 0h1M34 49h2m9 0h1m6 0h1m9 0h1M35 50h4m2 0h4m6 0h1m16 0h1m8 0h1M37 51h3m9 0h1m34 0h1M39 52h3m4 0h2m12 0h1m6 0h1m24 0h1M59 53h1m6 0h1m16 0h1M58 54h1m6 0h1m-9 1h1m-2 1h1m6 0h1m10 0h1M37 57h1m16 0h1m7 0h1M40 58h1m10 0h2m7 0h1m19 0h1M39 59h11m8 0h2m12 0h1m6 0h1m9 0h1M41 60h3m12 0h2m13 0h1M43 61h4m6 0h1m16 0h1m17 0h1M69 62h1m17 0h1M68 63h1m6 0h1M66 64h2m6 0h1m11 0h1M65 65h1m7 0h1m11 0h1m6 0h1M39 66h1m23 0h1m8 0h1m11 0h1M40 67h2m18 0h2m8 0h1m12 0h1M42 68h4m9 0h1m1 0h2m9 0h1M43 69h4m2 0h4m1 0h2m9 0h2M46 70h3m1 0h1m12 0h2m15 0h1M49 71h4m3 0h1m1 0h2m19 0h1m-3 1h1m7 0h1M38 73h1m37 0h1m7 0h1M74 74h2m6 0h2M41 75h2m29 0h2m7 0h1M43 76h3m23 0h2m7 0h2"/>
<path stroke="#868686" d="M27 0h1M81 0h1M44 1h1M71 1h1m1 1h1M40 3h1M75 3h1M28 4h1m0 1h1M27 6h2M27 7h1M51 8h1M32 9h1M44 9h1M72 9h1M29 10h1m62 0h1M28 12h2m57 2h1M29 18h1m43 1h1m16 0h1M32 21h1m42 1h1M31 23h1m-1 2h1m45 1h1m0 3h1m7 3h1M71 33h1M51 37h1m-1 1h1M20 41h1m50 1h1m7 1h1m6 0h1M21 46h1m1 1h2m23 0h1m-2 1h1m15 0h1m5 0h1m8 0h1M46 49h1m-2 1h1m4 0h1M40 51h4m3 0h2m12 0h1m5 0h1M42 52h4m14 1h1m15 0h1M59 54h1m-2 1h1m5 0h1m10 0h1M57 56h1m4 0h1m18 0h1m9 0h1M55 57h1m5 0h1m12 0h1M53 58h3m3 0h1m13 0h1m16 0h1M50 59h2m4 0h2M44 60h8m1 0h3m22 0h1m10 0h1M47 61h6m24 0h1m-2 1h1m-8 1h1m17 0h1M68 64h1m-3 1h1m5 0h1m-9 1h1m5 0h2m13 0h1m5 0h1M62 67h2m4 0h2m14 0h1m5 0h1M59 68h3m5 0h1m15 0h1m5 0h1M47 69h2m4 0h1m2 0h9m17 0h1m5 0h1M49 70h1m1 0h12m18 0h1m5 0h1M53 71h3m1 0h1m22 0h1m5 0h1m-9 1h1m-2 1h1m5 0h1m-3 1h1m-8 1h1m5 0h1M71 76h2m3 0h2"/>
<path stroke="#888888" d="M33 1h1M83 1h1M29 3h1M28 5h1m4 3h1M52 8h1M29 11h1m3 4h1m-4 1h1m58 1h1M43 18h1M33 20h1m-2 2h1m-2 2h1m60 0h1M51 25h1M32 30h1m-2 1h1m32 1h1m14 1h1m6 0h1M57 35h1M29 38h1m35 0h1M23 39h1m27 0h1M21 40h1m35 0h1M20 42h1m65 0h1M20 43h1m20 0h1m14 0h1M20 44h1m18 0h1m10 0h1m28 0h1M21 45h1m16 0h1m16 0h1m8 0h1M22 46h1m26 0h1m4 0h1M25 47h4m20 0h1m3 0h1m31 0h1M48 48h1m3 0h1m-6 1h5m-6 1h4m12 0h1m21 0h1M44 51h3m30 0h1M61 52h1m4 0h1m16 0h1m8 1h1M64 54h1m11 0h1m5 0h1M59 55h1m3 0h1m-6 1h4m-6 1h5m19 0h1M56 58h3m20 0h1M52 59h4m17 0h1M52 60h1m19 0h1m-2 1h1m4 0h1m-7 1h2m3 0h1m12 0h1M70 63h1m3 0h1m-6 1h2m1 0h2m18 0h1M67 65h5m14 0h1M65 66h5m-6 1h4m-6 1h5m17 0h1m-2 1h1m-2 1h1m3 0h1m-6 1h1m3 0h1m-7 1h6m-7 1h5m-7 1h5m-6 1h5m-7 1h3"/>
<path stroke="#8a8a8a" d="M30 2h1M29 4h1M50 8h1M82 8h1M30 9h1M83 9h1M41 10h1m42 0h1M67 13h1M30 17h1m5 0h1m-3 5h1m31 0h1m1 3h1m15 0h1M31 26h1m37 1h1m15 1h1M63 29h1M49 31h1m21 3h1m-7 3h1M31 38h1m25 1h1m7 0h1M51 40h1m13 0h1m5 1h1M21 44h1m28 1h1m19 0h1M23 46h1m12 0h1m13 0h1m13 0h1m20 0h1M69 47h1M49 48h3m11 1h1m4 0h1m9 0h1m5 0h1M62 51h1m14 1h1M61 53h1m3 0h1m16 0h1M60 54h2m1 0h1m28 0h1M60 55h3m18 0h1m-7 1h1m15 1h1M74 58h1m3 1h1m11 0h1M73 60h1m3 0h1m-6 1h1m16 0h1M72 62h1m1 0h1m-4 1h3m14 0h1m3 0h1M71 64h1m15 0h1m3 1h1m-6 1h1m3 0h1m-6 1h1m3 0h1m-5 1h2m1 0h1m-5 1h4m-5 1h3m-4 1h3"/>
<path stroke="#8c8c8c" d="M84 2h1M30 3h1M77 4h1M31 8h1m6 0h1M53 8h1M30 10h1m42 0h1m5 6h1M49 18h1m31 1h1m-8 1h1M33 21h1m28 6h1M46 28h1m7 0h1m23 0h1m-9 2h1m8 2h1m6 2h1M71 35h1M36 36h1m14 0h1m5 0h1m7 0h1m-9 1h1m-1 1h1M22 40h1m48 0h1m14 0h1M21 41h1m29 0h1m13 0h1m20 0h1M21 42h1m-1 1h1m18 0h1m14 1h1M22 45h1m56 0h1M24 46h1m25 1h3m11 0h1m-2 3h1m3 0h1m10 0h1M66 51h1m16 0h1M62 52h1m2 0h1m-4 1h1m1 0h1m12 0h1M62 54h1m18 0h1m-6 1h1m15 0h1M76 56h1m3 0h1m-6 1h1m3 0h1m-5 1h1m2 0h1m12 0h1M74 59h1m1 0h2m-4 1h3m13 0h1M73 61h3m-3 1h1m15 0h1m-2 2h1m2 0h1m-5 1h2m1 0h1m-4 1h1m1 0h1m-4 1h3m-2 1h1"/>
<path stroke="#8e8e8e" d="M32 0h1M31 2h1M48 4h1M64 5h1M81 7h1M31 9h1m53 2h1M37 12h1m-7 3h1m25 0h1m30 0h1M31 16h1m27 0h1M39 19h1m25 2h1m17 2h1M35 25h1m-2 3h1m-1 6h1m30 1h1m20 0h1M71 36h1m14 0h1M71 37h1m-1 1h1m14 0h1M44 39h1m26 0h1m14 0h1M43 41h1m7 1h1m4 0h1m8 0h1M51 43h1m13 0h1M51 44h1m18 0h1M37 45h1m16 0h1M25 46h1m25 0h1m1 0h1m15 0h1m9 0h1M34 47h1m44 0h1M64 48h1m3 0h1m-2 1h1m-5 2h1m14 0h1M63 52h2m17 0h1M63 53h1m13 1h1m2 1h1m11 1h1M76 57h1m1 0h1m-3 1h2m-3 1h1m15 0h1m-2 2h1m-1 1h1m1 0h1m-4 1h3m-3 1h2m-2 1h1m-2 1h1"/>
<path stroke="#909090" d="M68 0h1M31 1h1m2 6h1M32 8h1M70 8h1M32 15h1m45 0h1M62 18h1M34 19h1m56 1h1M82 21h1M32 23h1m6 0h1m7 0h1m28 0h1m15 0h1M77 25h1M53 27h1m31 2h1M64 31h1m14 0h1M56 32h1M35 35h1m8 1h1m41 1h1M24 39h1m11 0h1m5 3h1m-4 1h1M22 44h1m15 0h1m26 0h1M23 45h1m27 0h1m33 0h1M26 46h1m25 0h1M29 47h1m54 1h1M64 49h1m-1 1h1m1 0h1m16 0h1M64 51h2m12 1h1m-1 1h1m2 0h1m-5 2h1m1 0h1m-3 1h3m-3 1h1m14 0h1m-1 2h1m-2 1h1m-1 1h2m-2 1h1"/>
<path stroke="#939393" d="M34 0h1M32 1h1M85 3h1M42 6h1M80 6h1M32 7h1M49 8h1m9 1h1M91 9h1M64 11h1m9 0h1m0 1h1m10 0h1M32 14h1m1 0h1m42 0h1m12 4h1M63 19h1M37 20h1m26 0h1M52 26h1m31 0h1M31 29h1m38 2h1M35 39h1M23 40h1m-2 1h1m-1 2h1m32 0h1m14 0h1M54 44h1m30 0h1M24 45h1m27 0h2m11 0h1m-1 1h1M33 47h1m31 0h1m2 0h1m-4 1h1m1 0h1m11 0h1M65 49h2m12 0h1M65 50h1m13 0h1m2 1h1m-4 2h1m-2 1h3m-3 1h1m13 3h1m-1 2h1"/>
<path stroke="#959595" d="M60 4h1M86 4h1M68 7h1M54 8h1M90 8h1M62 10h1m13 3h1m-7 2h1m0 1h1M35 18h1m6 0h1m37 0h1m-6 3h1m-9 3h1m10 3h1M69 28h1m15 2h1M65 34h1M51 35h1m28 2h1M44 38h1m35 0h1m-1 1h1m-1 1h1M56 41h1m23 0h1M22 42h1m29 1h1m-1 1h2m15 1h1M30 47h1m1 0h1m51 0h1M66 48h1m16 1h1m-5 2h1m-1 1h3m-2 1h1"/>
<path stroke="#979797" d="M33 0h1M72 1h1m1 1h1M38 4h1M79 5h1m7 0h1M33 6h1M88 6h1m0 1h1M48 8h1m43 3h1M66 12h1m20 1h1M54 14h1m34 2h1M72 17h1M55 20h1m3 3h1m0 1h1M40 26h1m27 0h1M55 30h1m23 0h1M34 32h1m8 2h1m36 1h1m-1 1h1M44 37h1m-4 5h1m28 0h1m9 0h1m-1 1h1m4 0h1M23 44h1m11 2h1m32 0h1M31 47h1m34 0h2m14 3h1m-3 1h2"/>
<path stroke="#999999" d="M80 0h1M76 3h1M33 7h1m6 0h1m-8 6h1m35 1h1m3 4h1M53 19h1m27 1h1M33 22h1m24 0h1m24 2h1M61 25h1M39 26h1m23 2h1M36 31h1m48 0h1M70 32h1M56 33h1m8 0h1M40 42h1m11 0h1M38 43h1m15 0h1m14 1h1m10 0h1M25 45h1m54 0h1M27 46h1m38 0h1m13 0h1m3 0h1m-5 1h1m-1 1h1m2 0h1m-4 1h1m-1 1h2"/>
<path stroke="#9b9b9b" d="M46 0h1M38 1h1M82 1h1M66 6h1m4 3h1M33 14h1m6 1h1m41 7h1m9 0h1M49 24h1m27 0h1M41 26h1m42 1h1M64 30h1m15 4h1M25 39h1m30 1h1M23 41h1m28 0h1m17 0h1M55 42h1m29 0h1M23 43h1m29 0h1m12 1h1m-1 1h1m0 1h1m13 3h2"/>
<path stroke="#9d9d9d" d="M49 4h1M45 5h1M35 6h1m52 8h1M38 16h1m40 1h1m-6 2h1m16 0h1M76 22h1M66 23h1m11 3h1m0 3h1m5 3h1m-6 1h1M66 38h1m-1 1h1M24 40h1m18 0h1m8 0h1m13 0h1M42 41h1m23 0h1m18 0h1M39 42h1m26 0h1m-1 1h1M24 44h1m43 1h1m15 0h1m-2 2h1m-3 1h2"/>
<path stroke="#9f9f9f" d="M83 2h1M78 4h1M34 5h1M63 5h1M83 8h1M43 9h1M84 9h1m0 1h1M43 14h1m16 3h1m29 0h1M62 26h1M32 28h1m36 1h1m0 4h1m14 0h1M56 39h1m28 0h1M70 40h1m14 0h1M23 42h1m29 0h1m15 1h1M37 44h1m46 0h1M36 45h1m30 0h1m13 2h2"/>
<path stroke="#a2a2a2" d="M82 7h1M55 8h1m16 2h1m-5 3h1m9 3h1M50 18h1M35 21h1m47 4h1m0 3h1M39 31h1m25 1h1m14 0h1M56 34h1m13 0h1m14 0h1m-1 1h1M66 36h1m18 0h1M66 37h1M37 38h1m47 0h1M52 39h1m17 0h1M55 41h1M38 42h1m15 0h1m12 2h2m12 0h1m-1 1h1M28 46h1m52 0h1m1 0h1"/>
<path stroke="#a4a4a4" d="M69 0h1M81 6h1M47 8h1M69 8h1M37 9h1m53 1h1m-6 1h1m2 4h1M80 19h1M34 20h1m40 0h1M57 21h1m34 0h1M37 24h1m29 1h1M33 27h2m33 0h1m10 1h1M54 29h1m-4 5h1m18 1h1m-1 1h1m-1 1h1m14 0h1M52 38h1m3 0h1m13 0h1M37 39h1m43 1h1M53 41h1m27 0h1M69 42h1m11 0h1M67 43h1m13 0h1m2 0h1M26 45h1m56 0h1m-2 1h1"/>
<path stroke="#a6a6a6" d="M84 3h1M59 4h1m0 5h1M90 9h1M73 11h1m18 1h1M77 15h1m3 6h1M65 22h1m11 1h1m4 0h1M42 26h1m21 3h1m19 0h1M69 30h1M37 31h1m42 0h1M41 32h1m8 0h1m5 3h1m9 0h1M56 36h1m-1 1h1m24 0h1m-1 1h1M34 39h1m46 0h1M67 42h1m16 0h1M68 43h1m14 1h1m-2 1h1"/>
<path stroke="#a8a8a8" d="M73 1h1M37 2h1M75 2h1m9 2h1M34 6h1M89 8h1M63 10h1M34 12h1m39 0h1m12 0h1M35 13h1m39 0h1m0 1h1m14 4h1M46 23h1m31 2h1M34 26h3m1 0h1m44 0h1M63 27h1m-9 4h1m9 0h1M42 33h1m38 3h1M52 37h1M41 41h1m12 0h1m14 0h1m-2 1h1M24 43h1m57 1h1M34 46h1"/>
<path stroke="#aaaaaa" d="M79 0h1M41 2h1M36 3h1M77 3h1M35 4h1M50 4h1M80 5h1m5 0h1M65 6h1M87 6h1m0 1h1M40 10h1m24 1h1M53 14h1m17 1h1m0 1h1m17 0h1M73 17h1M41 18h1m19 0h1m17 0h1m-4 3h1M40 23h1m4 4h1m33 0h1m0 3h1m3 0h1M38 31h1m30 0h1m-4 3h1m14 1h1M53 40h1m1 0h1m11 0h1m1 0h1M24 41h1m15 0h1m26 0h1m16 0h1m-3 2h2M25 44h1"/>
<path stroke="#acacac" d="M43 1h1M81 1h1M38 11h1m28 1h1m20 1h1M44 14h1m25 0h1M56 15h1m17 3h1m17 2h1M35 27h1m48 4h1m-4 3h1M37 37h1m29 2h1m16 0h1m-1 1h1M38 41h2m28 0h1m13 0h1M24 42h1m57 0h2M37 43h1m-9 3h1"/>
<path stroke="#aeaeae" d="M67 7h1M46 8h1m9 0h1M70 9h1M36 10h1m-2 1h1m22 5h1m19 1h1M51 18h1m10 1h1m0 1h1m16 0h1M64 21h1m1 3h1m15 0h1m0 3h1M68 28h1m11 1h1M31 30h1m37 2h1m14 0h1M66 33h1m14 0h1M52 36h1m14 1h1m-1 1h1m16 0h1M26 39h1m26 0h1m15 0h1m12 0h1M37 40h1m16 0h1m27 0h1m0 1h1M33 46h1"/>
<path stroke="#b0b0b0" d="M40 0h1M70 0h1M82 2h1M51 4h1m6 0h1M79 4h1m5 5h1m3 5h1M75 19h1m1 3h1m3 0h1M60 23h1m17 1h1M67 26h1m11 0h1M48 29h1m16 1h1m15 2h1m2 1h1m-1 1h1M43 35h1m40 0h1m-1 1h1M69 37h1m12 0h1m1 0h1M69 38h1m12 0h1M43 39h1m11 0h1M25 40h1m10 0h1m31 0h1m14 0h1M27 45h1m2 1h1"/>
<path stroke="#b2b2b2" d="M39 3h1M62 5h1M43 6h1M83 7h1M57 8h1M84 8h1m1 2h1m4 1h1M34 13h1m34 0h1m22 0h1M77 16h1m13 1h1M45 23h1m4 2h1m2 3h1m10 0h1m18 0h1M49 30h1m5 2h1m13 1h1m-1 1h1m-3 2h1m1 0h1m12 0h1M53 38h1m29 0h1M68 39h1m14 0h1M38 40h1m3 0h1m-6 1h1m-1 1h1"/>
<path stroke="#b5b5b5" d="M76 2h1m6 1h1M57 4h1M36 5h1M82 6h1M39 8h1m31 2h1m18 0h1m-4 1h1M52 14h1M41 15h1m48 0h1M37 17h1m0 2h1m15 0h1m24 0h1m12 0h1M76 20h1M59 22h1m1 2h1m20 1h1m-3 3h1M68 29h1m14 0h1m-3 2h1M66 32h1m0 3h1m1 0h1m12 0h1m0 1h1m-1 1h1M55 38h1m12 0h1M54 39h1M31 46h2"/>
<path stroke="#b7b7b7" d="M45 0h1M74 1h1m3 2h1M46 5h1M61 9h1M89 9h1M66 11h1m5 0h1M36 12h1m51 0h1M76 15h1M56 20h1M34 21h1m45 0h1m-3 2h1m2 0h1M62 25h1m16 0h1M43 26h1m10 4h1m26 0h1m1 0h1M51 33h1m30 0h2M67 34h1m14 0h1M52 35h1m30 0h1M68 36h1M53 37h1m14 0h1"/>
<path stroke="#b9b9b9" d="M78 0h1M52 4h1m2 0h1M84 4h1M35 5h1M81 5h1m3 0h1m0 1h1m1 2h1M64 10h1m8 2h1m0 1h1M45 14h1m29 0h1m-4 1h1m0 1h1m0 1h1m3 1h1M35 19h1m41 2h1M65 23h1M48 24h1M37 26h1m13 0h1m11 0h1m18 0h1M52 27h1m14 0h1m12 0h1M47 28h1m17 1h1m2 1h1M50 31h1m32 0h1m-2 1h2M55 33h1m27 1h1M36 35h1m31 0h1M55 37h1M43 38h1M25 43h1m0 1h1m9 0h1m-2 1h1"/>
<path stroke="#bbbbbb" d="M71 0h1m8 1h1M56 4h1M41 7h9M66 7h1M87 7h1M68 8h1M42 9h1m25 3h1m20 1h1M71 14h1m20 0h1m-2 2h1M75 18h1m16 0h1M41 23h2m38 1h1M66 25h1m15 2h1m-1 1h1m-2 1h1m0 1h1M66 31h1m1 0h1m13 0h1M67 33h1M55 34h1m12 0h1M43 36h1m9 0h1m1 0h1m-2 2h1M39 40h1m1 0h1"/>
<path stroke="#bdbdbd" d="M81 2h1M37 4h1M53 4h2M80 4h1M61 5h1m2 1h1M58 8h1M85 8h1m0 1h1m3 2h1m0 1h1M51 14h1m38 0h1M55 15h1M39 16h17m3 1h1m17 0h1M36 18h4m12 0h1m23 1h1M36 20h1m42 0h1M64 22h1m13 0h1m1 0h1m-2 2h1m0 2h1M64 27h1m16 1h1m0 1h1M67 32h2M34 33h7m27 0h1M55 35h1M43 37h1m10 0h1M40 40h1M25 41h11"/>
<path stroke="#bfbfbf" d="M39 1h3M77 2h1m4 1h1m0 3h1m0 1h1M45 8h1m41 2h1m1 0h1m-2 1h1M70 13h1M46 14h1m45 1h1M76 16h1M45 17h1m46 0h1M78 19h1m-2 1h1M58 21h1M43 23h2m34 0h2m-1 1h1m-1 1h2m-1 1h1m-1 1h1M33 28h1m33 0h1M32 29h1m33 1h1M40 32h1m-3 7h1M25 42h11"/>
<path stroke="#c1c1c1" d="M75 1h1m3 2h1m3 1h1M82 5h1m1 0h1m0 1h1m0 1h1m0 1h1M38 9h3M62 9h1m6 0h1M88 9h1m-1 1h1m0 2h2m-1 1h2M74 14h1m0 1h1m15 0h1M57 16h1m16 0h1m17 0h1M75 17h1M40 18h1m35 0h2M35 20h1m42 0h1M63 21h1m14 0h2m-1 1h1M46 27h5m14 1h1m1 1h1m-1 2h1M51 32h1m0 2h1m0 1h1M37 36h6M27 39h7m-6 6h6"/>
<path stroke="#c4c4c4" d="M72 0h1m4 0h1m3 4h1m2 2h1m0 1h1m0 1h1m0 1h1M70 10h1m-4 1h1m21 0h1M72 12h1m0 1h1m-2 1h1m18 0h1M73 15h1M46 17h3m27 0h1M60 18h1m16 1h1M65 24h1m0 2h1m-1 3h1m0 1h1M54 31h1M42 34h1m11 2h1M42 39h1m-8 1h1"/>
<path stroke="#c6c6c6" d="M79 1h1M78 2h1m1 0h1m0 1h1m0 1h1m0 1h1M59 8h1m7 0h1M37 10h3m31 1h1m-3 1h1M47 14h1m1 0h2m23 1h1m0 1h1M55 19h1m5 0h1m0 1h1m-2 3h1m0 1h1M36 25h13m-5 1h6m16 1h1M53 29h1M38 38h4M26 40h9m1 1h1M27 44h9"/>
<path stroke="#c8c8c8" d="M42 1h1M38 2h3M79 2h1m0 1h1M47 5h12m1 0h1m2 1h1m1 4h1M37 11h1m33 2h1M48 14h1m24 0h1M57 20h1m6 3h1M49 25h1m13 0h1m0 1h1m0 1h1m0 1h1M35 32h4m15 0h1m-3 1h1m1 2h1"/>
<path stroke="#cacaca" d="M76 1h1M37 3h2m5 3h18m3 1h1M63 9h1m4 0h1m3 4h1M42 15h13M38 17h6m9 1h6m1 4h1M47 24h1m17 1h1M49 29h4m-3 1h3M41 33h1m-7 1h7m-6 9h1"/>
<path stroke="#cccccc" d="M41 0h3M73 0h1m2 0h1m0 1h2M60 8h1M41 9h1m24 1h1m3 2h2M58 17h1m0 4h1M38 24h9m3 2h1m14 0h1M48 28h5m0 6h2M38 37h4m-3 2h1m1 0h1M26 43h10"/>
<path stroke="#cecece" d="M74 0h2M52 7h2M66 8h1M36 11h1m33 0h1M56 16h1M44 17h1m4 0h9m1 1h1M37 19h1m18 0h4m3 3h1m-1 2h1m0 1h1M51 27h1m1 3h1m-3 1h2M42 35h1m-1 3h1m-3 1h1m-7 6h1"/>
<path stroke="#d0d0d0" d="M44 0h1M59 5h1m2 1h1M51 7h1M64 7h1M40 8h5M64 9h1m3 1h2m-2 1h2M36 19h1m21 1h3m1 1h1m-1 2h1M39 32h1m12 0h1m0 1h2"/>
<path stroke="#d2d2d2" d="M54 7h10M61 8h5M65 9h3m-1 1h1m-8 9h1m0 1h1m-1 2h2m0 1h1m0 1h1M53 31h1M37 35h5m0 2h1m-7 5h1"/>
<path stroke="#d4d4d4" d="M36 4h1M50 7h1M35 12h1m24 9h2M53 32h1"/>
</g>
<path fill="#eeeeee" fill-rule="evenodd" d="M805.5 603.8 802.5 604.2 801.9 603.5 802.5 601.5 803.9 599.5 806.7 596.5 811.3 592.5 821.1 585.5 849.5 585.5 831.5 592.1ZM800.5 643.6 797.5 644.3 796.5 644.2 795.9 643.5 796 642.5 797 640.5 800.3 636.5 804.8 632.5 810.2 628.5 816.5 624.5 823.9 620.5 835.4 615.5 848.1 611.5 862.4 608.5 875.5 607.1 887.5 607 899.5 608.2 911.3 610.5 921.1 613.5 932.6 618.5 942.6 624.5 947.8 628.5 950.9 631.5 952.5 633.5 953 635.5 952 636.5 948.5 636.4 919.5 629.1 901.5 625.8 885.5 624.4 877.5 624.2 869.5 624.4 861.5 625 853.5 626.1 845.5 627.6 838.5 629.3 829.5 632.1 821.5 634.9ZM929.5 702 927.5 701.9 924.5 700.5 905.5 689.1 897.5 685 890.5 681.9 883.5 679.3 876.5 677.2 868.5 675.3 861.5 674.2 854.5 673.6 847.5 673.5 840.5 673.8 833.5 674.6 826.5 676 818.5 678.3 797.5 686.6 795.5 686.9 794.5 686.7 793.7 685.5 793.7 684.5 794.6 681.5 796.5 678.5 799.2 675.5 802.7 672.5 806.8 669.5 811.8 666.5 821.5 662.1 826.5 660.4 833.5 658.5 844.5 656.6 856.5 656 867.5 656.8 878.5 658.9 889.6 662.5 898.2 666.5 907.8 672.5 912.9 676.5 917.2 680.5 924.2 688.5 927.5 693.5 929.5 697.5 930.2 700.5 930 701.5ZM880.5 749.5 877.5 747.8 859.5 731.5 854.1 727.5 849.5 724.6 842.5 721.1 836.5 718.8 829.5 717.1 823.5 716.3 815.5 716.2 808.5 717 801.5 718.8 795.5 721.2 790.5 723.8 783.5 728.6 778.5 732.9 771.5 740.8 770.5 740.9 770.3 740.5 771.5 736.5 773.4 732.5 775.8 728.5 778.5 724.8 781.5 721.4 785.5 717.5 789.5 714.2 793.5 711.5 798.5 708.6 803.1 706.5 812.5 703.3 817.5 702.2 823.1 701.5 828.5 701.3 833.2 701.5 838.5 702.2 843.5 703.3 847.6 704.5 852.6 706.5 856.6 708.5 861.5 711.5 865.5 714.5 869.8 718.5 873.3 722.5 876.8 727.5 879.5 732.5 881.5 737.4 882.8 742.5 882.9 746.5 882.4 748.5 881.5 749.4ZM819.5 782.7 816.5 782.9 814.5 782.6 812.5 781.9 810.5 780.6 808.5 778.4 803 768.5 799.7 764.5 795.5 761.2 792.5 759.7 789.5 758.8 787.5 757.3 784.7 753.5 784 751.5 784.4 749.5 785.5 748.1 789.5 745.8 794.5 744 799.5 743.2 804.5 743.2 809.5 744.2 813.5 745.8 818 748.5 821.4 751.5 824.6 755.5 827.2 760.5 828.5 765.5 828.7 770.5 828 774.5 826.1 778.5 823.5 781.1 821.5 782.1ZM775.5 817.5 770.5 817.4 766.5 816.9 762.5 815.9 758.5 814.4 755.5 812.9 751.5 810.3 748.2 807.5 745.8 804.5 744 801.5 743 798.5 742.6 795.5 742.8 792.5 743.7 789.5 745.4 786.5 747.9 783.5 750.3 781.5 752.8 780.5 763.5 778.5 773.5 777.8 776.5 778.1 781.1 779.5 787.6 782.5 792 785.5 795.8 789.5 797.9 793.5 798.8 798.5 797.9 803.5 795.9 807.5 792.2 811.5 787.5 814.5 781.5 816.7Z"/>
<path fill="#111111" fill-rule="evenodd" d="M803.5 623.5 800.5 624.2 799.5 624 799.1 623.5 799.6 621.5 802.7 617.5 805.8 614.5 810.7 610.5 816.5 606.5 823 602.5 832.6 597.5 844.7 592.5 857.5 588.5 870.9 585.5 921.5 585.6 932.8 588.5 938.6 590.5 945.7 593.5 951.4 596.5 956.1 599.5 959.5 602.5 960.5 604.5 960 605.5 959.5 605.7 957.5 606 954.5 605.9 925.5 601.7 915.5 600.7 904.5 600 888.5 600 873.5 601.2 865.5 602.3 856.5 604 841.5 608.1 825.5 613.9ZM943.5 670.6 939.3 669.5 914.5 659.1 901.5 654.8 893.5 652.7 884.5 650.9 876.5 649.8 868.5 649.2 854.5 649.4 847.5 650 839.5 651.3 831.5 653.1 822.5 655.8 799.5 664.5 797.5 665 795.5 665 794.5 664.5 794.1 663.5 794.6 661.5 796.4 658.5 799 655.5 803.7 651.5 809.3 647.5 814.4 644.5 824.9 639.5 836.8 635.5 849.5 632.7 861.5 631.4 873.5 631.4 885.5 632.7 898 635.5 909.1 639.5 919.2 644.5 924.1 647.5 929.7 651.5 934.5 655.5 938.6 659.5 942 663.5 944.5 667.5 945 669.5 944.5 670.4ZM908.5 730.7 906.5 730.3 904.5 729 886.7 714.5 880.5 710.2 873.5 706.1 866.5 702.8 858.5 699.7 851.5 697.8 843.5 696.4 836.5 695.8 828.5 695.9 821.5 696.7 814.5 698.2 806.5 700.8 799.5 703.9 793.5 707.4 782.5 714.6 781.5 714.7 781.4 713.5 782.6 710.5 785 706.5 788 702.5 791.7 698.5 795.5 695.2 799.5 692.3 804.1 689.5 808.5 687.3 819.5 683.2 825.5 681.6 831.5 680.5 842.5 679.8 853.4 680.5 863.5 682.6 869.1 684.5 874 686.5 883.1 691.5 887.3 694.5 892.1 698.5 896.1 702.5 899.6 706.5 902.5 710.5 905.5 715.6 907.8 720.5 909.3 725.5 909.5 729.4ZM856.5 782.6 854.5 783.2 853.5 783 852.5 782.5 850.9 780.5 849.5 777.6 846 767.5 843.3 761.5 839 754.5 834.9 749.5 829.5 744.7 824.5 741.6 819.5 739.3 813.5 737.6 809.5 737.1 804.5 737.1 800.5 737.5 796.5 738.4 792.5 739.9 788.5 741.9 783.5 745 782.1 746.5 781.3 749.5 781.5 753.5 786.5 763.3 789.8 767.5 791.3 770.5 791.5 772.5 791.1 774.5 790.5 775.5 788.5 776.8 786.5 777.3 784.5 777.3 778.5 776.3 773.5 775.9 767.5 776.2 756.4 777.5 752.5 777.3 750.5 776.2 748.5 774.7 746 771.5 744.5 767.5 744.3 765.5 744.4 762.5 745.1 759.5 747.2 755.5 749.6 752.5 753 749.5 757.5 746.9 761.5 745.4 765.5 744.7 768.5 745.3 769.5 745.3 772.5 744.2 775 742.5 780.2 736.5 784.5 732.3 788.5 729.3 793.3 726.5 800.5 723.6 807.5 721.9 815.5 721.3 822.5 722 827.5 723.1 832.5 724.8 837.5 727.3 841.5 729.8 844.9 732.5 849.1 736.5 852.3 740.5 855.5 745.5 858 750.5 859.7 755.5 860.8 760.5 861.3 765.5 861 771.5 860 776.5 858.5 780.1Z"/>
</g></g>
<path d="M629.4 953.4v-5.5M629.4 600v5.5M643.84 953.4v-3.3M643.84 600v3.3M658.28 953.4v-3.3M658.28 600v3.3M672.72 953.4v-3.3M672.72 600v3.3M687.16 953.4v-3.3M687.16 600v3.3M701.6 953.4v-5.5M701.6 600v5.5M716.04 953.4v-3.3M716.04 600v3.3M730.48 953.4v-3.3M730.48 600v3.3M744.92 953.4v-3.3M744.92 600v3.3M759.36 953.4v-3.3M759.36 600v3.3M773.8 953.4v-5.5M773.8 600v5.5M788.24 953.4v-3.3M788.24 600v3.3M802.68 953.4v-3.3M802.68 600v3.3M817.12 953.4v-3.3M817.12 600v3.3M831.56 953.4v-3.3M831.56 600v3.3M846 953.4v-5.5M846 600v5.5M860.44 953.4v-3.3M860.44 600v3.3M874.88 953.4v-3.3M874.88 600v3.3M889.32 953.4v-3.3M889.32 600v3.3M903.76 953.4v-3.3M903.76 600v3.3M918.2 953.4v-5.5M918.2 600v5.5M932.64 953.4v-3.3M932.64 600v3.3M947.08 953.4v-3.3M947.08 600v3.3M961.52 953.4v-3.3M961.52 600v3.3M975.96 953.4v-3.3M975.96 600v3.3M990.4 953.4v-5.5M990.4 600v5.5M1004.84 953.4v-3.3M1004.84 600v3.3M1019.28 953.4v-3.3M1019.28 600v3.3M1033.72 953.4v-3.3M1033.72 600v3.3M1048.16 953.4v-3.3M1048.16 600v3.3M1062.6 953.4v-5.5M1062.6 600v5.5M629.4 949.52h3.3M1062.6 949.52h-3.3M629.4 935.11h3.3M1062.6 935.11h-3.3M629.4 920.7h5.5M1062.6 920.7h-5.5M629.4 906.29h3.3M1062.6 906.29h-3.3M629.4 891.88h3.3M1062.6 891.88h-3.3M629.4 877.47h3.3M1062.6 877.47h-3.3M629.4 863.06h3.3M1062.6 863.06h-3.3M629.4 848.65h5.5M1062.6 848.65h-5.5M629.4 834.24h3.3M1062.6 834.24h-3.3M629.4 819.83h3.3M1062.6 819.83h-3.3M629.4 805.42h3.3M1062.6 805.42h-3.3M629.4 791.01h3.3M1062.6 791.01h-3.3M629.4 776.6h5.5M1062.6 776.6h-5.5M629.4 762.19h3.3M1062.6 762.19h-3.3M629.4 747.78h3.3M1062.6 747.78h-3.3M629.4 733.37h3.3M1062.6 733.37h-3.3M629.4 718.96h3.3M1062.6 718.96h-3.3M629.4 704.55h5.5M1062.6 704.55h-5.5M629.4 690.14h3.3M1062.6 690.14h-3.3M629.4 675.73h3.3M1062.6 675.73h-3.3M629.4 661.32h3.3M1062.6 661.32h-3.3M629.4 646.91h3.3M1062.6 646.91h-3.3M629.4 632.5h5.5M1062.6 632.5h-5.5M629.4 618.09h3.3M1062.6 618.09h-3.3M629.4 603.68h3.3M1062.6 603.68h-3.3" stroke="#222" stroke-opacity="0.6" stroke-width="0.8" fill="none"/><rect x="629.4" y="600" width="433.2" height="353.4" fill="none" stroke="#555" stroke-opacity="0.75" stroke-width="1"/><circle cx="773.8" cy="776.6" r="4.5" fill="#fff"/>
<g font-size="26.8">
<text x="629.4" y="988" text-anchor="middle">− 200</text>
<text x="701.6" y="988" text-anchor="middle">− 100</text>
<text x="773.8" y="988" text-anchor="middle">0</text>
<text x="846" y="988" text-anchor="middle">100</text>
<text x="918.2" y="988" text-anchor="middle">200</text>
<text x="990.4" y="988" text-anchor="middle">300</text>
<text x="1062.6" y="988" text-anchor="middle">400</text>
<text x="622.7" y="929.95" text-anchor="end">− 200</text>
<text x="622.7" y="857.9" text-anchor="end">− 100</text>
<text x="622.7" y="785.85" text-anchor="end">0</text>
<text x="622.7" y="713.8" text-anchor="end">100</text>
<text x="622.7" y="641.75" text-anchor="end">200</text>
</g>
<text class="ax" x="871.9" y="1026" text-anchor="middle"><tspan class="it">x</tspan> [nm]</text>
<text class="ax" transform="translate(561 777) rotate(-90)" text-anchor="middle"><tspan class="it">y</tspan> [nm]</text>
<clipPath id="cb3"><rect x="1221.4" y="601.4" width="428.5" height="348.8"/></clipPath>
<g clip-path="url(#cb3)"><g filter="url(#hm)"><g transform="translate(1206 588.5) scale(5)" stroke-width="1.04" fill="none">
<path stroke="#2a2a2a" d="M43 24h1m0 1h1m0 1h1m0 1h1m-1 1h2m-1 1h1"/>
<path stroke="#2d2d2d" d="M39 22h1m5 5h1M28 29h7m12 1h1M34 32h1m5 1h1"/>
<path stroke="#2f2f2f" d="M41 23h1m0 1h1m0 1h1m4 5h1m-1 1h1"/>
<path stroke="#313131" d="M55 24h1M37 30h1"/>
<path stroke="#333333" d="M52 20h1m-1 1h2M40 22h1m12 0h1M40 23h1m13 0h1M44 26h1m1 3h1m-6 6h1m-1 3h1"/>
<path stroke="#353535" d="M46 16h1m-9 6h1m3 1h1m12 2h1M35 29h1m12 0h1m-1 3h1"/>
<path stroke="#373737" d="M51 20h1m2 2h1m1 3h1M46 26h1m2 8h1m-1 1h1"/>
<path stroke="#393939" d="M47 16h1m0 1h1m2 2h1m3 4h1m-2 1h1M45 25h1m10 1h1M47 27h1m1 6h1"/>
<path stroke="#3c3c3c" d="M45 15h1m1 2h1m1 1h1m0 1h1M38 21h1m5 3h1m4 8h1M38 35h3m-2 3h2"/>
<path stroke="#3e3e3e" d="M44 15h1m0 1h1m18 6h1M48 33h1m0 3h1"/>
<path stroke="#404040" d="M54 11h1m-6 6h1m0 1h1M37 21h1m1 2h1m1 1h1m14 0h1"/>
<path stroke="#424242" d="M58 14h1M46 15h1m12 0h1m1 2h1m0 2h1M53 20h1M36 21h1m2 0h1m24 0h1M41 22h1m11 1h1m11 0h1M56 27h1m0 1h1m-1 1h1m0 1h1M39 31h1m7 0h1m1 0h1M34 33h1m14 4h1"/>
<path stroke="#444444" d="M53 10h1m1 1h1m4 5h1M48 18h1m12 0h2m0 2h1m-1 1h1M37 22h1m17 4h1m1 1h1M45 28h1m12 3h1M35 32h6m0 2h1m6 0h1m0 4h1m-1 1h1"/>
<path stroke="#464646" d="M51 9h1m3 3h2M42 14h1m15 1h1M35 21h1m16 1h1m12 0h1M43 23h1m20 0h1m0 1h1M36 29h1m21 0h1M26 31h13m19 1h1m0 2h1M50 35h1m-1 1h1M40 39h1m8 1h1"/>
<path stroke="#484848" d="M43 6h1m8 3h1m-1 1h1m1 0h1M38 13h1m18 0h1M41 14h1m1 0h1m-1 1h1m4 1h1m10 0h1m11 0h1M46 17h1m13 0h1m-9 2h1M34 21h1m16 0h1m2 0h1M42 25h1m14 1h1m8 0h1m-1 1h1M38 30h1m18 0h1m0 3h1m-1 1h1m0 1h1M30 37h2"/>
<path stroke="#4a4a4a" d="M61 5h1M42 6h1m6 2h1m0 1h1m2 2h1m14 0h1M37 13h1m6 1h1m27 3h1M49 19h1m13 0h1m-2 1h1m11 1h1m-1 1h1M65 25h2M56 28h1m2 5h1m-1 3h1M50 37h1M41 39h1"/>
<path stroke="#4c4c4c" d="M57 2h1m2 2h1M44 6h1M62 6h1m1 1h1M50 8h1m17 4h2M39 13h1m16 0h1m1 0h1m-2 1h1m1 0h1m10 0h1m-1 1h2M62 17h1M50 20h1m22 0h1M54 25h1m-7 3h1m9 0h1m8 0h1m-1 1h1M49 30h1m0 4h1m-2 7h1"/>
<path stroke="#4f4f4f" d="M58 3h2m1 1h1m0 1h1m0 1h1M63 7h1m1 1h1m1 2h1M54 12h1M36 13h1m3 0h1m28 0h1M40 14h1m19 1h1M44 16h1m16 0h1m19 0h1M33 21h1m39 0h1M55 22h1m7 0h1m2 2h1M43 26h1m23 1h1M31 28h1m34 0h1m0 2h1M57 31h1m9 0h1m-9 1h1m7 0h1m0 1h1M25 34h9m34 0h1M25 35h9m14 0h1m9 0h1m9 0h1M26 36h7m35 0h1M32 37h1m26 0h1M50 38h1m8 0h1"/>
<path stroke="#515151" d="M55 1h2M70 1h1M56 2h1M71 2h1m0 1h1m0 1h1M41 5h2M41 6h1m4 1h1m1 1h1M64 8h1m0 1h1m1 2h1M57 12h1M41 13h1m37 0h1m0 1h1M42 15h1m37 0h2M72 16h1m-2 1h1M51 18h1m20 0h1M61 19h1m11 0h1M64 20h1m9 0h1M36 22h1m28 4h1M44 27h1m14 4h1m8 1h1M37 34h4m-8 2h1m24 0h1M42 37h1m25 0h1M50 39h1m8 0h1m-1 1h1m-2 2h1"/>
<path stroke="#535353" d="M52 0h2M91 0h1M58 2h1M70 2h1M60 3h1M84 4h1M44 7h2m1 0h2m2 1h1M76 8h1M53 9h1M66 9h1M77 9h1M51 10h1m14 0h1M56 11h1m21 0h1m0 1h1M70 13h1m18 0h1M45 14h1m44 1h1m-1 1h1M81 17h1m-9 1h1m8 0h1m-1 1h1M32 21h1m50 0h1M74 23h1M57 25h1M30 28h1m45 0h1m-1 1h1M46 30h1m21 1h1m-2 2h1M24 37h1m43 1h1M58 41h2M49 42h1m9 0h1m-2 1h1"/>
<path stroke="#555555" d="M54 1h1M69 1h1M57 3h1M71 3h1M83 3h1M59 4h1M40 5h1m2 0h1M73 5h2m9 0h1M45 6h1M74 6h1M85 6h1M75 7h1M86 7h1M49 9h1m28 1h1M69 11h1m18 0h1M37 12h1m40 0h1m10 0h1M35 13h1m44 0h1M39 14h1m29 0h1m20 0h1M47 15h1m22 1h1m11 1h1M34 20h2m47 0h1M31 21h1m33 0h1m9 1h1M38 23h1m17 0h1m18 0h1M40 24h1m23 0h1m10 0h1m-1 1h1m8 0h1M67 26h1m7 0h1M55 27h1m20 0h1M56 29h1m2 1h1m16 0h1M47 32h1m9 0h1M25 33h9m24 4h1M42 38h1m25 1h1M50 40h1m7 0h1m9 0h1"/>
<path stroke="#575757" d="M54 0h1M68 0h1M80 0h1M57 1h1M71 1h1M91 1h1M72 2h1m0 1h1M84 3h1M72 4h1M60 5h1M85 5h1M61 6h1m2 0h1M43 7h1m5 0h1M76 7h1m0 1h1m8 0h1M55 10h1m21 0h1M36 12h1m51 0h1m0 2h1M50 17h1m39 0h1M47 18h1m15 0h1m8 1h1M36 20h1m45 0h1M30 21h1m9 0h1m42 1h1M66 23h1m17 3h1M75 27h1M66 29h1m1 1h1M50 33h1M34 34h1m32 0h1M25 36h1m32 2h1m-1 1h1m9 2h1M48 43h2m-2 1h1"/>
<path stroke="#595959" d="M51 0h1M69 0h1M81 0h1M81 1h2M82 2h2M83 4h1M39 5h1m0 1h1M75 6h1M62 7h1m2 0h1M85 7h1m1 1h1M76 9h1M87 9h1M68 10h1m18 0h1M38 12h1m-5 1h1m7 0h1m25 0h1m21 0h1M38 14h1m32 0h1m7 0h1m0 2h1M60 18h1m20 0h1m1 1h1m7 0h1M33 20h1m57 0h1M62 21h1M35 22h1m6 0h1m30 0h1m9 1h1M53 24h1m30 0h1m-9 2h1M58 27h1m6 0h1M37 29h1m39 1h1m-2 1h2M41 33h1m18 2h1m6 0h1M42 36h1m5 0h1m18 0h1M25 37h1m22 2h1m-1 1h1m-1 1h1m-1 1h1m10 1h1m-2 1h1"/>
<path stroke="#5b5b5b" d="M90 0h1M53 1h1M74 4h1M38 5h1M63 5h1M46 6h1M86 6h1M47 8h1m40 2h1M79 11h1M70 12h1M29 13h1m25 0h1M37 14h1m43 0h1m7 1h1M58 16h1m23 0h1M73 17h1m17 1h1M37 20h1m-9 1h1m45 0h1M26 22h2m55 2h1M46 25h1m37 2h1M34 28h1m40 0h1M59 29h1m8 0h1m8 0h1m-1 3h1M57 33h1m19 1h1m-1 1h1m8 0h1M60 36h1M26 37h1m40 0h1m-1 1h1m9 0h1M67 39h1m9 0h1M67 40h1m9 0h1M50 41h1m17 1h1"/>
<path stroke="#5e5e5e" d="M67 0h1M55 2h1m3 0h1m2 2h1M85 4h1M35 5h3M84 6h1M52 8h1M63 8h1M75 8h1M67 9h1M78 9h1M52 11h1m34 0h1M67 12h1M28 13h1m1 0h1m1 0h2m54 0h1M41 15h1m15 0h1m-9 1h1m-5 1h1m13 0h1m31 0h1m-2 1h1M74 19h1M31 20h2m39 0h1M27 21h2m53 0h1M34 22h1m49 1h1M45 24h1m28 0h1m1 1h1M47 26h1m37 0h1m-1 1h1M33 28h1m51 0h1m-1 1h1M66 30h1m18 0h1M76 32h1M36 33h4m37 0h1M60 34h1m8 1h1m15 0h1M69 36h1m7 0h1m8 0h1M60 37h1m8 0h1m7 0h1M48 38h1m11 0h1m-1 1h1m6 2h1m0 2h1M49 44h1m-2 1h1m36 2h1"/>
<path stroke="#606060" d="M55 0h1M82 3h1M34 5h1m9 0h1M39 6h1m7 0h1M42 7h1M74 7h1M66 8h1M64 9h1M86 9h1M66 11h1m10 0h1m11 0h1M35 12h1m-5 1h1m46 0h1M36 14h1m35 1h1m-2 3h1m19 3h1M28 22h1m55 0h1M63 23h1m3 2h1m15 0h1M32 28h1m51 0h1M75 29h1M56 30h1m28 1h1M50 32h1m18 2h1m15 0h2m-2 2h1M48 37h1m37 0h1M69 38h1m8 1h1M60 40h1m-4 2h1m9 0h1M57 43h1m9 0h1M47 45h1m37 1h1M66 47h1m-1 1h1M56 49h1"/>
<path stroke="#626262" d="M50 0h1M79 0h1M56 3h1m4 0h1M58 4h1M75 5h1M29 6h1m8 0h1M73 6h1M50 7h1M87 7h1M46 8h1m7 1h1m-5 1h1m14 0h1M39 12h1m18 0h1m21 0h1M59 13h1M26 14h3m27 0h1m3 0h1m8 1h1M43 16h1m18 0h1m26 0h1M48 19h1m4 0h1M30 20h1m23 0h1m29 1h1M33 22h1m32 0h1m18 3h1M29 28h1m38 0h1m8 0h1m8 2h1m-1 2h1M69 33h1m6 0h1m8 0h2M24 36h1m53 2h1M39 39h1m29 0h1M40 40h1m28 0h1m8 0h1M60 41h1m16 0h1M47 44h1m9 0h1m1 0h1m7 0h1M58 45h1m8 0h1m17 0h1M67 46h1m8 2h1m7 0h2M66 49h1"/>
<path stroke="#646464" d="M70 0h1M83 1h1M69 2h1m0 1h1M30 5h1m2 0h1M83 5h1M30 6h1m4 0h3M85 8h1m2 1h1M33 12h2m18 0h1m36 0h1M27 13h1m15 0h1M29 14h1m-6 1h1m36 0h1m17 0h1m0 2h1m2 1h1M64 19h1m16 0h1m8 0h1M38 20h1M26 21h1m2 1h3m59 0h1M26 23h1m17 0h1m7 0h1m4 1h1m6 1h1m9 0h1M49 29h1m36 0h1M66 31h1m19 0h1m-2 1h1M47 33h1m12 0h1m-4 1h1m18 0h1m-1 1h1m1 1h1m-1 1h1m-3 1h1m-1 1h1M41 40h1m27 1h1M50 42h1m26 0h1M68 44h1m7 0h1m8 0h1M57 45h1m18 0h1M47 46h1m9 0h1m8 0h1m9 0h1M57 47h1m9 0h1m8 0h1m7 0h1M56 48h2m18 1h1m7 0h1M55 50h2"/>
<path stroke="#666666" d="M52 1h1m5 0h1m9 0h1M81 2h1m2 0h1m6 0h1M71 4h1M29 5h1m1 0h2M72 5h1M28 6h1M76 6h1m0 1h1M48 9h1m30 1h1M57 11h1M32 12h1m38 1h1M25 14h1m9 0h1m10 0h1M23 15h1m1 0h1m56 0h1m8 1h1M61 20h1M25 22h1m6 0h1m49 0h1M25 23h1m50 1h1M41 25h1m12 1h1m28 0h1m-7 1h1M65 28h1M27 29h1m17 0h1m38 0h1M75 30h1M25 32h9m44 2h1m-1 1h1m-3 1h1m-1 1h1m8 0h1m0 1h1M76 40h1M57 41h1m27 0h1M60 42h1m24 0h1M76 43h2m7 0h1M66 45h1m10 0h1m8 0h1M58 46h1m18 0h1m8 0h1M77 47h1M67 48h1M55 49h1m1 0h1m7 0h1m9 0h1M65 50h2m8 0h1M55 51h1"/>
<path stroke="#686868" d="M82 0h1M72 1h1m7 0h1M34 4h8M86 5h1M31 6h1m2 0h1M48 6h1M25 7h1m60 3h1M31 12h1m55 0h1M73 16h1m-4 1h1M18 18h1m55 0h1M29 20h1m19 0h1m25 0h1m8 0h1M72 21h1M51 22h1m33 2h1M58 26h1m15 0h1M48 27h1m6 1h1m30 0h1M26 30h11m19 1h1m12 1h1M24 35h1m32 0h1m-7 1h1m35 0h1m-2 3h1m-2 1h2M76 41h1m1 0h1m7 0h1M69 42h1m6 0h1M47 43h1m29 1h1m8 0h1M68 45h1m15 1h1M56 47h1m8 1h1m9 0h1m9 1h1M76 50h1M65 51h1m9 0h1"/>
<path stroke="#6a6a6a" d="M85 3h1M42 4h1m2 1h1M59 5h1M27 6h1m4 0h2M24 7h1m1 0h3M41 7h1M84 7h1M45 8h1M78 8h1M56 10h1m19 0h1M30 12h1m9 0h1M24 14h1m5 0h1m3 0h1m53 0h1M22 15h1m3 0h1m13 0h1M21 16h2m40 1h1m25 0h1M19 18h1m45 2h1M50 21h1m4 0h1M27 23h1m9 0h1m35 0h1m2 0h1m14 0h1M50 31h1m27 0h1M66 32h1m11 1h1M42 35h1m8 0h1m35 0h1m-1 2h1m-3 1h1M42 39h1m42 0h1M57 40h1m28 2h1M50 43h1m35 0h1M48 46h1m-3 1h2m10 0h1m27 0h1M77 48h1M67 49h1m16 1h1M56 51h1m-3 1h1m10 0h1m18 1h1m6 3h1M59 59h2"/>
<path stroke="#6c6c6c" d="M49 0h1m4 2h1m5 0h1M73 2h1m0 1h1M33 4h1M82 4h1M28 5h1M64 5h1M25 6h2M60 6h1m4 0h1M23 7h1m5 0h1M51 7h1M19 9h2m48 1h1m19 0h1M70 11h1M29 12h1m47 0h1m3 1h1M33 14h1m34 0h1M23 16h1m-5 1h2m31 1h1M17 19h2m71 1h1M24 23h1m57 0h1M23 24h2m14 0h1m27 0h1M21 25h3m-4 1h2m-3 1h2m47 0h1m17 0h1M11 28h1m23 0h1m23 0h1m24 2h1M60 32h1m17 0h1M34 35h1m22 1h1M27 37h1m23 0h1m5 2h1m11 4h1m-4 1h1M49 45h1m9 0h1m24 0h1M46 46h1m21 0h1m-4 1h1m9 0h1M46 48h1m11 0h1m24 1h1M57 50h1m16 0h1M54 51h1m11 0h1m7 0h1m9 0h1M55 52h1m18 0h2m8 0h1M74 53h1m-1 1h1m16 0h1m-1 1h1M81 57h1M60 58h2m9 0h1m9 0h1M71 59h1M59 60h1m28 3h1"/>
<path stroke="#6e6e6e" d="M56 0h1m9 0h1M24 6h1M61 7h1M21 8h2M53 8h1M88 8h1M21 9h1m-3 1h1m6 3h1m17 0h1m9 0h1M31 14h2m-6 1h1m20 0h1m42 0h1m-9 2h1M71 19h1M28 20h1m52 0h1M22 24h1m68 0h1M22 26h1m54 0h1M11 27h1m71 0h1M19 28h1m58 2h1M40 31h1m28 0h1m5 0h1M47 34h1m39 0h1M57 37h1m-1 1h1m29 0h1M78 42h1M60 43h1M46 45h1m9 1h1m18 0h1M55 48h1m27 0h1M45 49h1m31 0h1M54 50h1m28 0h1m1 0h1M76 51h1M64 52h1M53 53h2m9 0h2m17 0h1m7 0h1m-9 1h2m-3 3h1m8 0h1M59 58h1m12 0h1M61 59h1m28 0h1m-2 1h2m-2 1h1m-2 1h2m-2 2h1M78 65h1"/>
<path stroke="#717171" d="M20 0h1M16 1h1M30 4h1m1 0h1M43 4h1M57 4h1M75 4h1m7 2h1m3 0h1M22 7h1M66 7h1M20 8h1m2 0h2M18 9h1M68 9h1m6 0h1M18 10h1m1 0h1m59 1h1m-3 3h1M20 16h1m0 1h1m24 1h1m13 1h1M16 20h2m-3 1h1m25 0h1M14 22h1m47 0h1M23 23h1m1 1h1m38 2h1M21 27h1m52 0h1M20 28h1M11 29h1m7 0h1m26 2h1m13 0h1m23 0h1M24 34h1M3 35h2m79 0h1M29 37h1m21 1h1m-1 1h1m27 0h1m7 0h1M66 43h1m17 0h1m-1 1h1M75 45h1M65 46h1m2 1h1M45 48h1m40 0h1M74 49h1M43 50h2m22 0h1m-4 1h1m18 0h1M53 52h1m12 0h1m16 0h1m7 0h1M75 53h1m9 0h1M64 54h1m8 0h1m8 2h1M61 57h1m18 1h1m1 0h1m7 0h1M58 59h1m11 0h1m1 0h1m7 0h2M58 60h1m1 0h1m10 0h1m-2 1h1m8 0h1m10 0h1m-2 2h1M78 64h1m8 0h1M78 66h1m7 1h2m-2 1h1"/>
<path stroke="#737373" d="M3 0h2M19 0h1m1 0h1M15 1h1M90 1h1M13 2h4M0 3h1M12 3h2M29 4h1m1 0h1M63 4h1M23 6h1m6 1h1M25 8h1M44 8h1M62 8h1M74 8h1M6 9h2m43 2h1m34 0h1m3 0h1M15 12h1m12 0h1m38 1h1M23 14h1m15 1h1M24 16h1m-7 1h1m-2 1h1m2 0h1m59 0h1M9 19h1m74 0h1M16 21h1m8 0h1m40 0h1M15 22h1m8 0h1m31 0h1m19 0h1M28 23h1m56 0h1M20 25h1m-2 1h1m22 0h1m43 0h1M44 28h1M18 29h1m46 0h1m12 0h1M39 30h1m16 2h1m9 1h1m20 0h1M3 36h2m19 2h1m26 2h1m35 0h1M47 42h1m36 0h1M50 44h1m18 0h1m5 0h1M59 46h1M45 47h1m1 1h1m20 0h1M44 49h1m1 0h1m-5 1h1m2 0h1m-4 1h1m42 0h1M56 52h1m28 0h1M52 53h1m10 0h1m9 0h1M52 54h2m9 0h1m-1 1h1m9 0h1m9 0h1M62 56h1m18 0h1m1 0h1M49 57h1m12 0h1m8 0h2m7 0h1m9 0h1M49 58h1m12 0h1m7 0h1m20 0h1m-3 1h1M70 60h1m9 0h1m-1 1h1m7 0h1M69 62h2m8 0h1M68 63h2m8 0h2m7 0h1M67 64h1m11 0h1m9 0h1M52 65h1m13 0h2m11 0h1m7 0h2m-2 1h1m-1 2h1"/>
<path stroke="#757575" d="M18 0h1M48 0h1M71 0h1M89 0h1M2 1h2M14 1h1m2 0h1M51 1h1M0 2h2M12 2h1m1 1h1M91 3h1M12 4h1M27 5h1M46 5h1m2 1h1M21 7h1M40 7h1M7 8h2M19 8h1M8 9h1M55 9h1M79 9h1m5 0h1M6 10h2m9 1h2m-5 1h1m1 0h1m24 0h1M1 13h2m11 0h1M1 14h1m70 0h1M1 15h1m19 0h1m6 0h1m59 0h1M1 16h1m40 0h1m26 0h1m9 0h1M44 17h1m6 0h1m37 1h1M8 19h1m10 0h1M8 20h2m17 0h1m11 0h1m50 1h1M43 22h1M14 23h1m6 1h1m4 0h1m55 0h1M24 25h1m66 0h1M11 26h2m10 0h1M12 27h1m-1 1h1m5 0h1m64 0h1M10 29h1M3 30h1m7 0h1m6 0h2m49 0h1M3 31h2m70 1h1M3 34h2m46 0h1m14 0h1m17 0h1M37 35h1m0 1h4m42 0h1M4 37h1m74 1h1M42 40h1m36 0h1m4 1h1m2 0h1M66 42h1m8 1h1m2 0h1M56 45h1m-3 4h1m3 0h1m5 1h1m12 0h1M41 51h1m1 0h1m9 0h1m3 0h1M40 52h1m35 0h1M39 53h2m14 0h1m10 0h1m-2 1h1m9 0h1M62 55h1m11 0h1m7 0h1M50 56h1m12 0h1m8 0h1m17 0h1M50 57h1m9 0h1m22 0h1M48 58h1m12 2h1m10 0h1m6 0h1m-9 1h1m8 1h1m9 0h1M52 64h2m14 0h1M51 65h1m13 0h1m11 0h1M65 66h2m10 0h1m7 2h1M62 69h1m22 0h2M62 70h1m20 1h1M71 72h1m-1 1h1m9 0h1M71 74h1m9 0h1"/>
<path stroke="#777777" d="M2 0h1M16 0h2M78 0h1M18 1h1M2 2h1M1 3h1M15 3h1M55 3h1m6 0h1M81 3h1M0 4h1M11 4h1M86 4h1M76 5h1M73 7h1M6 8h1M26 8h1M67 8h1M22 9h1M47 9h1M63 9h1M17 10h1m31 0h1M16 11h1m2 0h1m-7 1h1m3 0h1m48 0h1m4 0h1M15 13h1m71 0h1M2 14h1m88 0h1M11 15h1M0 16h1m9 0h3m12 0h1M0 17h2m8 0h2m62 0h1M9 18h2m-1 1h1m64 0h1M8 21h1m5 0h1m1 1h1m-4 1h1m49 1h1M12 25h1m40 0h1m23 0h1M5 26h1m62 0h1M22 27h1m20 0h1M10 28h1m63 0h1M3 29h1m16 0h1M4 30h1m5 0h1m49 0h1m26 0h1M18 31h1m68 0h1M3 32h2m79 0h1m2 0h1M3 33h1m80 0h1M66 35h1M3 37h1m75 0h1M61 39h1m4 0h1M39 40h1m26 0h1M41 41h1m9 0h1m14 0h1M3 44h1m42 0h1m13 0h1m17 0h1m-1 1h1M48 47h1m6 0h1m3 0h1m23 0h1M44 48h1m29 0h1M43 49h1M21 50h1m19 0h1m2 1h1m46 0h1M39 52h1m1 0h1m31 0h1M37 53h2m12 1h1m2 0h1m7 0h1m22 0h1M51 55h2m11 0h1m7 0h1m11 0h1m5 0h1M49 56h1m1 0h1m9 0h1m11 0h1M48 57h1m1 1h1m7 0h1M48 59h2m12 0h1m28 0h1M42 60h2m37 0h1m6 0h1M58 61h2m9 0h1m-2 1h1m9 0h1M54 63h2m11 0h1m2 0h1M54 64h1m11 0h1m2 0h1M53 65h1m14 0h1M51 66h2m11 0h1m11 0h1m2 0h1m6 0h1m1 0h1M23 67h2m22 0h1m16 0h2m9 0h3M24 68h1m22 0h1m15 0h2m10 0h1M61 69h1m1 0h1m-3 1h1m22 0h1M60 71h2m22 0h1M72 72h1m9 0h2M72 73h1m9 0h1M69 74h2m9 0h1M27 75h1m41 0h2m9 0h1m9 0h2"/>
<path stroke="#797979" d="M5 0h1M22 0h1M1 1h1M13 1h1m5 0h1M59 1h1M84 1h1M17 2h1M53 2h1M11 3h1m4 0h1M13 4h1M28 4h1M11 5h2M25 5h2M8 6h2M22 6h1M77 6h1M7 7h3M20 7h1M31 7h1M18 8h1M5 9h1M17 9h1M8 10h1m12 0h1m42 0h1M15 11h1m21 0h1m27 0h1M1 12h1m1 1h1m9 0h1m11 0h1M13 14h1m68 0h1M2 15h1m7 0h1m1 0h2m24 0h1m44 1h1M9 17h1m12 0h1M0 18h1m63 0h1M0 19h1m15 0h1m1 1h1M7 21h1m9 0h1M6 22h2m64 0h1m12 0h1M6 23h1m15 0h1m13 0h1M13 24h1m59 0h1M5 25h2m79 0h1M4 26h1m1 0h1M4 27h2m12 0h1M4 28h1m16 0h1m56 0h1M4 29h1m7 0h1m42 0h1m31 0h1M2 30h1m14 0h1m-8 1h2m5 0h1m7 0h1M10 32h1M4 33h1m11 0h1m58 0h1M16 34h1m53 1h1m-5 1h1m3 0h1m8 0h1M66 37h1m3 0h1m13 0h1M3 38h2m20 0h1m35 0h1m4 0h1m3 0h1M3 39h2m11 0h1m53 0h1M61 40h1m22 0h1M75 42h1m11 0h1M2 43h2m83 0h1M2 44h1m53 0h1m30 0h1M11 45h1m53 0h1m3 0h1m17 0h1M11 46h1m66 0h1m-1 1h1M21 49h1m20 0h1m21 0h1m3 0h1m17 0h1M13 50h1m6 0h1m-8 1h1m7 0h1m18 0h1m26 0h1m5 0h1M38 52h1m3 0h1m9 0h1m10 0h1M36 53h1m4 0h1m40 0h1M39 54h2m31 0h1m9 0h1M50 55h1m2 0h1m17 1h1M47 57h1m3 0h1m7 0h1m3 0h1m6 0h1m2 0h1M46 58h2m25 0h1m9 0h1m5 0h1M42 59h2m2 0h2m25 0h1m5 0h1m2 0h1M41 60h1m2 0h1m12 0h1M42 61h2m13 0h1M15 62h1m39 0h2m14 0h1m15 0h1M14 63h3m35 0h2m2 0h1m23 0h1m9 0h1M15 64h1m35 0h1m3 0h1m21 0h1m11 1h1M67 66h1M22 67h1m2 0h1m37 0h1m10 0h1m3 0h1m6 0h1m2 0h1M23 68h1m1 0h1m20 0h1m15 0h1m11 0h1m1 0h1m7 0h1M64 69h1m19 0h1m2 0h1M32 70h2m1 0h1m24 0h1m2 0h1m19 0h1M59 71h1m2 0h1m9 0h1m9 0h1M14 72h1m44 0h3m11 0h1m7 0h1M18 73h2m50 0h1M19 74h1m34 0h2m16 0h1m9 0h1m8 0h1M68 75h1m2 0h1m9 0h1"/>
<path stroke="#7b7b7b" d="M15 0h1M4 1h1M20 1h1M3 2h1M2 3h1M34 3h2M69 3h1M44 4h1M9 5h2M47 5h1M82 5h1M10 6h2M72 6h1M32 7h1M52 7h1M27 8h1M43 8h1M23 9h1M89 9h1M5 10h1m10 0h1M5 11h2m7 0h1m21 0h1m39 0h1M2 12h1m9 1h1m3 0h1m28 0h1m14 0h1M11 14h2m1 0h1m40 0h1M0 15h1m28 0h1M2 16h1m16 0h1m30 0h1m6 0h1M1 18h1m6 0h1m50 0h1M34 19h1M0 20h1m6 0h1m2 0h1m4 0h1m55 0h1M9 21h1m71 0h1M8 22h1m4 0h1M5 23h1m1 0h1m7 0h1m13 0h1m37 0h1M5 24h2m6 1h1m44 0h1m32 1h1M3 27h1m6 0h1M3 28h1m1 0h1m22 0h1m40 1h1M50 30h1M2 31h1m2 0h1m13 0h1m-9 1h1m4 0h2m-8 1h2m5 0h1m6 0h1M15 34h1m1 0h1m52 0h1M2 35h1m12 0h2m44 0h1m17 0h1M2 36h1m58 0h1M23 37h1m37 0h1M15 38h2m9 0h1m57 0h1M15 39h1m1 0h1m57 0h1M3 40h2m4 0h1m6 0h1m53 0h1M9 41h1m30 0h1m6 0h1m31 0h1M3 42h1m5 0h1M4 43h1m5 0h1m45 0h1M4 44h1m5 0h2m4 0h1M2 45h3m5 0h1m1 0h1m4 0h1m27 1h1m3 0h1m37 0h1M11 47h1m8 2h1m1 0h1m24 0h1M12 50h1m9 0h1m23 0h1m44 0h1M14 51h1m7 0h1m16 0h1m37 0h1M13 52h2m22 0h1m29 0h1m14 0h1M8 53h2m4 0h1m11 0h3m6 0h1m15 0h1m24 0h1M8 54h2m5 0h1m11 0h6m5 0h1m11 0h1m15 0h1M49 55h1m15 0h1m9 0h1M48 56h1m3 0h1m11 0h1m9 0h1M18 57h2m1 0h2m23 0h1M22 58h2m21 0h1m33 0h1M1 59h2m20 0h3m18 0h2m11 0h1m30 0h1M2 60h1m20 0h3m21 0h2m20 0h1m21 0h1M41 61h1m18 0h1m17 0h1m2 0h1M14 62h1m19 0h1m2 0h3m1 0h2m14 0h1M38 63h1M14 64h1m1 0h1m39 0h1m23 0h1m9 0h1M54 65h1m9 0h1m11 0h1m9 0h1M23 66h1m26 0h1m2 0h1m21 0h1M46 67h1m1 0h1m1 0h3m13 0h1M22 68h1m3 0h1m16 0h3m2 0h1m16 0h1m11 0h1m10 0h1M7 69h1m24 0h4m7 0h2m15 0h1m13 0h2M7 70h1m23 0h1m2 0h1m1 0h1m22 0h1m25 0h1M0 71h1m31 0h1m2 0h2m26 0h1m7 0h1m1 0h1M0 72h2m13 0h1m42 0h1m3 0h1m7 0h1m13 0h1M14 73h2m39 0h1m24 0h1m2 0h1m7 0h1M18 74h1m37 0h1m11 0h1M26 75h1m1 0h1m24 0h3m23 0h1"/>
<path stroke="#7d7d7d" d="M23 0h1M47 0h1m9 0h1M83 0h1M0 1h1M12 1h1M11 2h1M80 2h1m4 0h1M33 3h1m2 0h1M1 4h1m8 0h1M70 4h1M0 5h1M8 5h1M24 5h1M7 6h1M6 7h1M33 7h4m2 0h1M78 7h1m9 0h1M5 8h1M9 8h1M84 8h1M3 12h3m6 0h1m5 0h1m8 0h1m24 0h1m6 0h1m21 0h1M4 13h1m72 0h1M0 14h1m2 0h1m18 0h1m38 0h1m0 1h1M9 16h1m3 0h1m74 0h1M12 17h1m45 0h1M11 18h1m9 0h1m48 0h1M7 19h1m23 0h1m1 0h1m1 0h1M26 20h1M6 21h1m69 0h1M5 22h1m24 1h1M7 24h1m4 0h1m1 0h1M4 25h1m14 0h1m5 0h1m56 0h1M3 26h1m9 0h1M6 27h1m47 0h1m9 0h1M49 28h1M2 29h1m2 0h1m11 0h1m56 0h1m8 0h1M5 30h1m6 0h1m7 0h1m44 0h1M16 31h1M2 32h1m2 0h1m12 0h1m-4 1h1m19 0h1m20 0h1M2 34h1m2 0h1m4 0h2m63 0h1M5 35h1m4 0h2m5 0h1m29 0h1M5 36h1m4 0h1m4 0h2m6 0h1M2 37h1m2 0h1m9 0h2m11 0h1m4 0h1M17 38h1m66 1h1M10 40h1m4 0h1m1 0h1m57 0h1M3 41h2m5 0h1m59 0h1m4 0h1M2 42h1m1 0h1m5 0h1m28 0h1M1 43h1m7 0h1m1 0h1M1 44h1m10 0h1m4 0h1m20 0h1M16 45h1m1 0h1M3 46h2m5 0h1m1 0h1m4 0h1m-8 1h1m63 0h1M11 48h1m8 0h3m36 0h1m4 0h1m13 0h1m12 0h1M12 49h1m28 0h1m49 0h1M5 50h1m8 0h1m25 0h1m12 0h1m4 0h1m14 0h1M12 51h1m7 0h1m17 0h1m6 0h1m36 0h1M21 52h3m5 0h1m6 0h1M6 53h2m5 0h1m9 0h1m1 0h1m3 0h6m27 0h1M6 54h2m6 0h1m1 0h1m16 0h5m52 0h1M6 55h4m5 0h3m11 0h5m27 0h1M8 56h1m8 0h2m2 0h2m57 0h1m3 0h1M20 57h1M10 58h1m13 0h1m19 0h1m6 0h1M0 59h1m21 0h1m3 0h1m14 0h1m8 0h1m18 0h1M1 60h1m1 0h1m41 0h2m2 0h1m23 0h1M2 61h2m10 0h2m7 0h3m8 0h1m2 0h2m1 0h1m3 0h1m11 0h1m11 0h1m3 0h1m14 0h1M2 62h2m9 0h1m2 0h1m16 0h1m1 0h1m4 0h1m2 0h1m10 0h1m3 0h1m8 0h1m13 0h1M2 63h2m9 0h1m3 0h1m12 0h1m1 0h3m4 0h1m11 0h1m5 0h1M13 64h1m3 0h1m14 0h2m31 0h1m20 0h1M7 65h1m42 0h1m4 0h1m13 0h1m10 0h1M7 66h1m14 0h1m1 0h2m23 0h1m18 0h1M26 67h1m17 0h2m3 0h1M7 68h1m34 0h1m8 0h1m9 0h1m11 0h1M6 69h1m1 0h1m14 0h4m4 0h1m4 0h1m3 0h3m2 0h3m25 0h1m2 0h1m6 0h1M6 70h1m1 0h1m28 0h4m1 0h3m28 0h3m10 0h1M1 71h1m5 0h1m6 0h1m16 0h1m1 0h2m2 0h1m20 0h1m15 0h1M13 72h1m4 0h2m35 0h2m17 0h1M0 73h2m14 0h2m36 0h1m1 0h1m2 0h1m9 0h1m3 0h1M17 74h1m2 0h1m32 0h1m3 0h1m25 0h1m6 0h1M0 75h2m17 0h1m26 0h1m5 0h1m14 0h1m14 0h1m6 0h1"/>
<path stroke="#808080" d="M1 0h1M6 0h1m7 0h1m6 1h1M67 1h1M79 1h1M61 2h1m6 0h1M10 3h1M37 3h2M9 4h1m4 0h1M13 5h1M71 5h1M0 6h1M12 6h1m8 0h1M0 7h1m9 0h1m8 0h1M37 7h2M17 8h1M28 8h1M9 9h1m70 1h1M7 11h1m5 0h1m6 0h1m14 0h1m2 0h1m19 0h1M0 13h1m10 0h1m79 0h1M10 14h1m4 0h1m31 0h1M9 15h1m4 0h1m22 0h1m18 0h1m16 0h1M26 16h1m36 0h1M2 17h1m5 0h1M1 19h1m9 0h1m8 0h1m9 0h1m1 0h1m14 0h1m41 0h1M0 21h1m60 0h1m23 0h1M23 22h1m66 0h1M8 23h1m26 0h1m21 0h1M20 24h1m6 0h1M7 25h1m3 0h1m6 1h1m-6 1h1m45 0h1M2 28h1m84 0h1M9 32h1m31 0h1M2 33h1m2 0h1m3 0h1m8 0h1M9 34h1m69 0h1M9 35h1m13 0h1m51 0h1M9 36h1m1 0h1m5 0h1M9 37h2m6 0h1m20 0h4m46 0h1M2 38h1m2 0h1m3 0h2m3 0h1m8 0h1m51 0h1M5 39h1m3 0h2M5 40h1m41 0h1M2 41h1m13 0h2m43 0h1M16 42h1m24 0h1m9 0h1m4 0h1m13 0h1M16 43h5M5 44h1m3 0h1m8 0h3m18 0h1M5 45h1m13 0h2m16 0h1m12 0h1m9 0h1M2 46h1m15 0h1m64 0h1M4 47h1m7 0h1m7 0h2M4 48h1m7 0h1m30 0h1m4 0h1m5 0h1M4 49h2m5 0h1m1 0h1m5 0h1m3 0h1m58 0h1M4 50h1m1 0h1m12 0h1m3 0h1m44 0h1m13 0h1m3 0h1M4 51h3m8 0h1m7 0h1m5 0h2m6 0h1m25 0h1M5 52h5m5 0h1m8 0h5m1 0h6m7 0h1m13 0h1M5 53h1m9 0h1m6 0h1m1 0h1m25 0h1m5 0h1m15 0h1M5 54h1m20 0h1m14 0h1M5 55h1m22 0h1m5 0h1m36 0h1m9 0h1M5 56h3m1 0h1m6 0h1m2 0h2m26 0h1m5 0h1m6 0h1M9 57h2m6 0h1m5 0h1m21 0h1m6 0h1m21 0h1m4 0h1m4 0h1m4 0h1M0 58h3m6 0h1m1 0h2m5 0h4m21 0h1m19 0h1m5 0h1M3 59h1m6 0h4M0 60h1m12 0h3m6 0h1m7 0h2m3 0h1m4 0h1m21 0h1m15 0h1M1 61h1m14 0h1m5 0h1m7 0h4m1 0h2m2 0h1m21 0h1M25 62h2m3 0h3m3 0h1m22 0h1M1 63h1m2 0h1m7 0h1m13 0h1m2 0h1m1 0h1m3 0h1m1 0h1m2 0h3m23 0h1m10 0h1m8 0h1M2 64h2m2 0h2m23 0h1m2 0h1m35 0h1M6 65h1m7 0h4m14 0h2M6 66h1m14 0h1m25 0h2m5 0h1m8 0h1m16 0h1M6 67h2m13 0h1m20 0h2m9 0h1m8 0h1m10 0h1m5 0h1m4 0h1M6 68h1m1 0h2m17 0h1m5 0h3m4 0h2m7 0h2m1 0h1m25 0h1M5 69h1m3 0h1m12 0h1m4 0h1m9 0h3M0 70h2m7 0h1m16 0h2m13 0h1m3 0h1m18 0h1m6 0h2M2 71h1m3 0h1m1 0h1m6 0h1m22 0h2m1 0h4m12 0h1m12 0h1m4 0h1m9 0h1M2 72h1m3 0h1m9 0h2m14 0h1m2 0h3m19 0h1m5 0h1m5 0h1m21 0h1M13 73h1m6 0h1m36 0h2m1 0h2m6 0h1m15 0h1m5 0h1M0 74h1m13 0h3m10 0h1m30 0h1m20 0h1M8 75h2m8 0h1m1 0h1m24 0h1m1 0h1m3 0h1m4 0h2m14 0h1m10 0h1"/>
<path stroke="#828282" d="M24 0h1M65 0h1m7 1h1M4 2h1M18 2h1M3 3h1M17 3h1M32 3h1M15 4h1M27 4h1M7 5h1M23 5h1M58 5h1M87 5h1M50 6h1M5 7h1M54 8h1M16 9h1m7 0h1M9 10h1m5 0h1m69 0h1M1 11h2m1 0h1m3 0h1m24 0h1M0 12h1m5 0h1m4 0h1m30 0h1m43 0h1M5 13h1m4 0h1m6 0h1M4 14h1M3 15h1m26 0h1m37 0h1M17 17h1m5 0h1M2 18h1m4 0h1m76 0h1M65 19h1m14 0h1M1 20h1m4 0h1m12 0h1M5 21h1m12 0h1M4 22h1m12 0h1M4 23h1m11 0h1m14 0h1M4 24h1m72 0h1M3 25h1m10 0h1m53 0h1m4 0h1M2 26h1m4 0h1m2 0h1m13 0h1M2 27h1m20 0h1m54 0h1m12 0h1M6 28h1m6 0h1m3 0h1m42 1h1M16 30h1M1 31h1m10 0h1m2 1h1m3 0h1m-8 1h1m38 0h1m18 0h1m8 0h1M12 34h1m1 0h1m3 0h1m42 0h1M1 35h1m10 0h1m1 0h1m3 0h1m56 1h1m12 0h1M11 37h1m2 0h1m60 0h1M11 38h2m75 0h1M2 39h1m8 0h1m2 0h1m3 0h1M2 40h1m5 0h1m2 0h1m6 0h1M5 41h1m2 0h1m2 0h1m3 0h1m2 0h1m20 0h1M1 42h1m6 0h1m2 0h1m5 0h1m1 0h2m19 0h1m38 0h1M5 43h1m9 0h1m23 0h2m5 0h1M13 44h1m1 0h1m49 0h1M1 45h1m11 0h1m1 0h1m22 0h1m6 0h1M5 46h1m10 0h1m2 0h2m34 0h1m13 0h1m4 0h1M3 47h1m1 0h1m12 0h2m24 0h1m42 0h1m3 0h1M3 48h1m1 0h2m3 0h1m8 0h1m3 0h1M2 49h2m2 0h2m6 0h1M2 50h2m3 0h1m3 0h1m3 0h1m13 0h2m8 0h1M2 51h2m3 0h1m11 0h1m4 0h1m3 0h1m2 0h1m20 0h1m33 0h1M4 52h1m7 0h1m38 0h1m25 0h1m8 0h1M4 53h1m5 0h1m31 0h1m24 0h1m18 0h1M4 54h1m5 0h1m6 0h1m4 0h1m2 0h1m23 0h1m11 0h1m14 0h1M14 55h1m3 0h1m16 0h1m3 0h2m13 0h1m30 0h1M10 56h1m4 0h1m14 0h3m13 0h1m18 0h1M5 57h4m49 0h1M3 58h1m9 0h1m11 0h2m15 0h1m31 0h1M4 59h1m9 0h1m6 0h1m5 0h4m52 0h1M4 60h1m6 0h2m3 0h1m9 0h1m2 0h1m2 0h3m1 0h2m18 0h1m25 0h1m4 0h1M0 61h1m3 0h1m8 0h1m12 0h1m2 0h1m15 0h1m9 0h1m35 0h1M1 62h1m2 0h1m2 0h1m4 0h1m4 0h1m4 0h3m4 0h1m23 0h1m6 0h1M6 63h3m16 0h1m1 0h2m7 0h1m6 0h1m14 0h1m12 0h1M1 64h1m2 0h2m2 0h1m9 0h1m7 0h1m3 0h1m8 0h1m2 0h2m6 0h1m6 0h1m18 0h1M5 65h1m2 0h1m4 0h1m4 0h3m4 0h1m8 0h1m21 0h1m33 0h1M8 66h1m11 0h1m5 0h1m6 0h2m8 0h1m2 0h1m8 0h1m13 0h1m4 0h1m10 0h1m3 0h1M8 67h4m8 0h1m6 0h1m5 0h2m6 0h1m25 0h1M5 68h1m4 0h1m10 0h1m9 0h2m5 0h2m20 0h1m5 0h1m5 0h1m10 0h1M0 69h2m8 0h1m7 0h1m9 0h3m17 0h1m10 0h1m5 0h1m6 0h1m4 0h1m10 0h1M2 70h1m2 0h1m4 0h1m7 0h1m4 0h3m4 0h1m15 0h1m11 0h1m17 0h1m5 0h1m4 0h1M5 71h1m3 0h2m2 0h1m2 0h1m1 0h2m5 0h3m12 0h1m4 0h1m10 0h1m24 0h1M7 72h1m3 0h2m14 0h1m3 0h1m1 0h2m3 0h1m4 0h3m8 0h1m20 0h1m4 0h1M2 73h1m7 0h3m14 0h1m7 0h2m16 0h1m8 0h1m16 0h1M1 74h1m6 0h4m14 0h1m25 0h1m6 0h1m7 0h1m16 0h1M2 75h1m4 0h1m2 0h2m3 0h3m7 0h1m32 0h2m18 0h1"/>
<path stroke="#848484" d="M0 0h1M7 0h1M25 0h1M5 1h1M50 1h1M39 3h1M2 4h1M8 4h1m7 0h1M56 4h1M91 4h1M65 5h1M6 6h1m6 0h1M11 7h1m6 0h1M83 7h1M0 8h1M4 9h1M4 10h1m17 0h1m34 0h1M0 11h1m2 0h1m5 0h1m22 0h1m1 0h1M10 12h1m8 0h1m4 1h1M9 14h1m10 1h1m15 0h1M8 16h1m3 2h1M2 19h1m3 0h1m29 0h1m17 0h1M2 20h1m0 1h2m5 0h1m2 0h1M9 22h1m11 1h1m12 0h1M15 24h1m22 0h1m47 0h1M22 28h1m46 0h1m21 0h1M13 29h1m7 0h1M1 30h1m72 0h1M6 31h1m2 0h1m10 0h1m-9 1h1m66 0h1M19 33h1M1 34h1m11 0h1m8 1h1m65 0h1M1 36h1m10 0h1m1 0h1M1 37h1m10 0h1m0 1h1m4 0h1m-7 1h2m74 0h1M14 40h1m4 1h2m35 0h1M5 42h1m9 0h1m2 0h1m42 0h1M0 43h1m7 0h1m3 0h1m8 0h1m48 0h1M6 44h1m7 0h1m6 0h1m18 0h1M9 45h1m11 0h1m17 0h1m34 0h1M1 46h1m11 0h1m7 0h1m69 0h1M2 47h1m14 0h1m4 0h1m41 0h1m4 0h1M2 48h1m10 0h1m10 0h1m17 0h1m39 0h1M0 49h2m6 0h1m6 0h1m8 0h1m4 0h1m10 0h1m32 0h1m4 0h1M0 50h2m6 0h1m7 0h1m7 0h1m13 0h1m8 0h1M0 51h2m6 0h1m7 0h1m1 0h1m6 0h2m5 0h1m13 0h1M0 52h2m1 0h1m6 0h1m5 0h1m3 0h1m23 0h1M0 53h2m14 0h1m4 0h1m68 0h1M0 54h1m12 0h1m9 0h2m30 0h1M4 55h1m5 0h1m10 0h2m4 0h1m8 0h3m9 0h1m17 0h1m9 0h1M4 56h1m9 0h1m14 0h1m3 0h3m34 0h1m4 0h1m13 0h1M0 57h2m2 0h1m6 0h1m4 0h1m18 0h1m8 0h1m19 0h1M4 58h3m1 0h1m5 0h1m2 0h1m9 0h1m1 0h2m4 0h2m4 0h1m15 0h1m26 0h1m3 0h1M5 59h1m3 0h1m5 0h4m12 0h1m2 0h4m2 0h1m22 0h1m10 0h1M5 60h1m4 0h1m6 0h1m9 0h2m9 0h2m10 0h1m17 0h1M5 61h3m3 0h2m4 0h1m10 0h1m17 0h3M5 62h2m1 0h4m15 0h2m15 0h1m7 0h1m19 0h1m4 0h1M0 63h1m4 0h1m3 0h1m1 0h1m6 0h1m40 0h1m21 0h1M0 64h1m11 0h1m6 0h2m4 0h1m1 0h1m1 0h1m5 0h1m2 0h1m1 0h2m22 0h1M0 65h5m16 0h4m1 0h1m4 0h1m10 0h2m5 0h1m13 0h1m11 0h1M0 66h1m4 0h1m3 0h11m12 0h1m9 0h1m1 0h2M0 67h1m4 0h1m6 0h1m2 0h5m12 0h1m2 0h1m4 0h1m13 0h1m6 0h1m10 0h1m10 0h1M0 68h1m3 0h1m6 0h1m3 0h6m7 0h3m5 0h2m15 0h1M2 69h3m10 0h3m1 0h1m31 0h2m18 0h1M3 70h2m9 0h3m2 0h1m8 0h2m17 0h1M3 71h1m7 0h2m4 0h1m5 0h2m3 0h1m1 0h1m15 0h1m8 0h1m8 0h1m26 0h1M3 72h3m2 0h3m9 0h1m4 0h2m12 0h4m3 0h1m2 0h1m18 0h1m16 0h1M3 73h1m1 0h5m16 0h1m1 0h1m3 0h3m2 0h1m6 0h2m4 0h1m1 0h1m10 0h1m10 0h1M2 74h1m4 0h1m4 0h2m7 0h1m6 0h1m5 0h2m9 0h2m4 0h1m8 0h1m12 0h1m15 0h1M3 75h1m8 0h1m1 0h1m6 0h1m7 0h1m3 0h4m3 0h1m3 0h1m3 0h3m15 0h1m17 0h1"/>
<path stroke="#868686" d="M13 0h1M26 0h1M46 0h1M11 1h1M10 2h1m8 0h1M52 2h1M74 2h1M4 3h1M8 3h2M29 3h3m8 0h1M75 3h1M86 3h1M25 4h2M45 4h1M1 5h1M14 5h1m7 0h1M48 5h1M20 6h1M1 7h1M1 8h1M4 8h1M16 8h1M29 8h1M79 8h1M0 9h1M25 9h1M46 9h1M0 10h2m12 0h1m55 0h1m4 0h1m14 0h1M10 11h1m1 0h1m18 0h1m40 2h1M16 14h1m61 1h1m4 0h1M3 16h1m37 0h1M7 17h1m5 0h1m65 0h1M16 18h1m12 1h1M3 20h1m1 0h1m5 0h1m73 0h1M1 21h2m21 0h1M3 22h1m77 0h1M12 23h1m19 0h2M3 24h1m4 0h1m37 0h1M2 25h1m37 0h1m41 1h1M7 27h1m79 0h1M36 28h1M1 29h1m4 0h1m31 0h1M6 30h1m2 0h1m45 0h1m27 0h1M15 31h1m63 0h1M1 32h1m4 0h1m17 0h1M1 33h1m11 0h2m4 1h1m1 0h3m18 0h1M13 35h1m5 0h1m1 0h1M8 36h1m4 0h1m4 0h1m15 0h1M8 37h1m4 0h1m4 0h1M1 38h1m6 0h1m29 0h1M1 39h1m6 0h1m38 0h1M1 40h1m10 0h1m6 0h1M1 41h1m19 0h1m20 0h1M0 42h1m5 0h2m13 0h1M6 43h1m6 0h2m23 0h1m12 0h1M0 44h1m7 0h1m65 0h1M0 45h1m5 0h1m7 0h1m68 0h1M6 46h1m2 0h1m5 0h1m44 0h1M1 47h1m4 0h1m2 0h1m6 0h1m6 0h2M0 48h2m5 0h3m7 0h2m50 0h1M9 49h2m5 0h1m1 0h1m11 0h1m17 0h1m4 0h1m5 0h1M17 50h2m6 0h1m2 0h1m2 0h1m5 0h1M9 51h1m1 0h1m5 0h1m9 0h1m8 0h1m21 0h1m9 0h1M2 52h1m8 0h1m5 0h1m1 0h1m30 0h1m11 0h1M2 53h2m7 0h2m4 0h1m31 0h1M1 54h1m19 0h1m49 0h1m9 0h1m4 0h1M0 55h1m12 0h1m5 0h2m2 0h1M0 56h1m22 0h1m4 0h1m7 0h1m8 0h1m13 0h1M2 57h1m9 0h4m8 0h1m5 0h5m1 0h1m16 0h1m15 0h1M7 58h1m7 0h2m11 0h1m2 0h1m2 0h1m2 0h1m2 0h1m11 0h1M6 59h3m10 0h2m11 0h2m4 0h2m11 0h1m26 0h1m8 0h1M6 60h1m2 0h1m11 0h1M8 61h3m10 0h1m5 0h1m21 0h1m4 0h1m7 0h1m4 0h1m5 0h1m8 0h1M0 62h1m17 0h1m2 0h1m29 0h1m14 0h1m19 0h1M10 63h1m8 0h4m1 0h1m19 0h1m5 0h1m14 0h1M9 64h3m9 0h1m6 0h1m29 0h1m22 0h1M9 65h1m1 0h2m14 0h1m2 0h1m13 0h1m25 0h1m10 0h1M4 66h1m26 0h1m3 0h1m5 0h1m14 0h1m5 0h1M4 67h1m8 0h2m15 0h2m7 0h1m15 0h1m12 0h1m2 0h1m8 0h1m8 0h1M1 68h3m8 0h1m1 0h1m39 0h1m4 0h1m11 0h1M11 69h1m2 0h1m5 0h2m27 0h2m2 0h1m4 0h1m23 0h1M11 70h1m1 0h1m3 0h1m2 0h1m1 0h1m25 0h1m2 0h1m5 0h1m12 0h1m17 0h1M4 71h1m15 0h1m8 0h1m17 0h1m1 0h3m2 0h1m14 0h1m6 0h1m9 0h1M24 72h1m3 0h1m1 0h1m16 0h2m1 0h2m1 0h1m36 0h1M4 73h1m20 0h1m5 0h1m6 0h1m4 0h1m2 0h4m1 0h1m15 0h1m21 0h1M3 74h1m2 0h1m18 0h1m6 0h2m2 0h1m7 0h1m2 0h1m2 0h1m10 0h1M6 75h1m6 0h1m8 0h3m7 0h1m6 0h1m1 0h1m18 0h1m16 0h1m10 0h1"/>
<path stroke="#888888" d="M12 0h1M6 1h1M9 2h1M20 2h1M90 2h1M41 3h1M3 4h1M7 4h1M64 4h1M6 5h1M1 6h1M5 6h1M59 6h1m6 0h1M4 7h1m7 0h1m4 0h1M10 8h1M42 8h1M1 9h1M15 9h1M69 9h1M11 11h1m38 0h1m20 0h1M7 12h1m1 0h1M6 13h1m2 0h1m8 0h1m34 0h1M5 14h1m15 0h1M8 15h1m22 0h1m3 0h1m13 0h1M14 16h1m3 0h1m8 0h1M3 17h1m84 0h1M3 18h1m2 0h1m68 0h1M3 19h1m0 1h1m9 0h1m51 0h1M0 22h1m66 0h1M3 23h1m5 0h1m1 1h1m40 0h1M0 25h1m7 0h1m1 0h1m15 0h1m20 0h1M0 26h2m12 0h1M1 28h1m7 1h1m81 0h1M13 30h1m65 0h1M65 31h1M0 32h1m69 0h1M0 33h1M0 34h1m19 0h1m35 0h1m31 0h1M8 35h1m11 0h1M6 36h1m14 0h2m-1 1h1M0 38h1m5 1h1M6 40h2m5 0h1m6 0h2m34 0h1m31 0h1M6 41h2m4 0h1m1 0h1m-3 1h1m1 0h1M7 43h1m71 0h1M7 44h1m29 0h1m32 0h1m12 0h1M22 45h1m68 0h1M0 46h1m13 0h1m7 0h1m1 0h1m39 0h1M0 47h1m6 0h2m4 0h1m29 0h1m5 0h1M14 48h1m1 0h1m8 0h1m3 0h1m11 0h1M17 49h1m7 0h1m2 0h1m9 0h2M9 50h2m15 0h2m50 0h1M10 51h1m22 0h1m1 0h1M18 52h1m26 0h1m26 0h1M18 53h1m1 0h1m36 0h1m3 0h1m15 0h1M2 54h2m14 0h1m23 0h1m5 0h1m18 0h1M1 55h1m1 0h1m22 0h1m14 0h1m5 0h1m12 0h1M1 56h1m11 0h1m23 0h1m28 0h1m12 0h1M3 57h1m21 0h1m1 0h3m7 0h1m37 0h1M32 58h2m4 0h2m16 1h1m11 0h1M7 60h2m9 0h1m36 0h1m18 0h1M18 61h1m31 0h1m26 0h1M20 62h1m24 0h1m4 0h1m10 0h1m29 0h1M23 63h1m36 0h1M22 64h3m12 0h1m6 0h1m18 0h1M10 65h1m18 0h1m5 0h1m3 0h3m15 0h1m27 0h1M1 66h3m23 0h1m2 0h1m8 0h2m29 0h1m2 0h1m7 0h1m2 0h1m5 0h1M1 67h3m24 0h2m6 0h1m1 0h1m21 0h1m8 0h2M13 68h1m41 0h1m23 0h1m9 0h1M12 69h2m40 0h1m11 0h1m3 0h1m7 0h1M12 70h1m8 0h1m27 0h2m1 0h5m8 0h1m11 0h1M22 71h1m25 0h1m3 0h2m26 0h1m6 0h1M23 72h1m5 0h1m22 0h1m23 0h1m2 0h1m9 0h1M21 73h1m1 0h2m14 0h4m32 0h1m9 0h1M4 74h2m16 0h3m12 0h1m2 0h2m1 0h1m4 0h2m12 0h1m15 0h1M4 75h2m31 0h2m3 0h2m20 0h2m7 0h1m11 0h1"/>
<path stroke="#8a8a8a" d="M8 0h1M27 0h1M45 0h1M72 0h1M7 1h1M22 1h1M5 2h1M8 2h1M7 3h1M28 3h1M42 3h1M4 4h1M6 4h1M17 4h1m6 0h1M81 4h1M2 5h1M5 5h1m9 0h1m5 0h1M14 6h1M2 7h1M13 7h1m2 0h1M60 7h1M2 8h2M15 8h1M89 8h1M2 9h1M56 9h1M74 9h1M2 10h2m6 0h1m10 1h1m8 0h1m8 0h1M8 12h1m17 0h1m55 1h1M67 14h1m19 0h1M4 15h1m10 0h1m18 0h1m39 1h1M24 17h1m-3 1h1m30 0h1M4 19h2m6 0h1m2 0h1m5 0h1m15 0h1m10 1h1m6 0h1m20 0h1m12 0h1M11 21h1m59 0h1M2 22h1m7 0h1m11 0h1m-6 1h1m27 0h1m16 0h1m9 0h1m4 0h1M9 24h1m9 0h1m8 0h1M1 25h1m16 0h1m44 0h1M9 26h1m63 0h1m4 0h1M0 27h2m7 0h1m4 0h1m2 0h1M9 28h1m54 0h1M16 29h1m-2 1h1m5 0h1M0 31h1m12 0h1m-1 1h2m5 0h1m25 0h1M6 33h1m13 0h1m1 0h1M6 34h1M0 35h1m5 0h1M0 36h1m18 0h2m26 0h1M0 37h1m5 0h1M6 38h1m20 0h1m52 0h1M0 39h1m18 0h1m60 0h1M0 41h1m12 0h1m74 0h1M13 42h1m8 0h1m65 0h1M22 43h1m18 0h1m19 0h1m21 0h1M22 44h1m56 0h1m11 0h1M7 45h2m14 0h2m11 0h1M7 46h2m14 0h1m11 0h1m1 0h2m5 0h1M15 47h1m38 0h1M15 48h1m12 0h1m9 0h1m34 0h1m13 0h1M27 49h1m3 0h1m5 0h1m31 0h1M32 50h1m3 0h1m15 0h1m10 0h1M34 51h1m55 1h1M43 53h1m37 0h1M11 54h2m7 0h1M2 55h1m8 0h1m12 0h2m20 0h1m33 0h1m8 0h1M2 56h2m7 0h1m15 0h1m10 0h3m13 0h1m21 0h1m8 0h1M26 57h1m11 0h1m1 0h4m21 0h1M53 58h1m14 0h1m9 0h1m5 1h1M19 60h2m30 0h1m11 0h1M19 61h2m32 0h1M19 62h1m26 0h2m34 0h1m-7 1h1m14 0h1M36 64h1m22 0h1m11 0h1m3 0h1M28 65h1m9 0h1m6 0h4m13 0h1m11 0h1m16 0h1M38 66h1m18 0h1m3 0h1m10 0h1M37 67h1m18 0h1m2 0h1m22 0h1M67 68h1m2 0h1m11 0h1M55 69h1m1 0h1m31 0h1M69 70h1m11 0h1m9 0h1M21 71h1m46 0h1m19 0h1m1 0h1M21 72h2m41 0h1m2 0h1m18 0h1M22 73h1m6 0h2m47 0h1M29 74h1m1 0h1m6 0h2m2 0h1m20 0h1m2 0h1m18 0h1M30 75h2m29 0h1m1 0h1m12 0h1"/>
<path stroke="#8c8c8c" d="M8 1h1m1 0h1M60 1h1M6 2h2M21 2h1M34 2h1M5 3h1M18 3h1M54 3h1M5 4h1M76 4h1M3 5h2M2 6h1M4 6h1M82 6h1m5 0h1M3 7h1M15 7h1M53 7h1M30 8h1M3 9h1m6 0h1m3 0h1M26 9h1M13 10h1m9 0h1m57 1h1M20 12h1m70 0h1M8 13h1m14 0h1M6 14h1m1 0h1m8 0h1m14 1h2M7 16h1M4 17h1m59 0h1m4 0h1M4 18h2m39 0h1M12 20h1m12 0h1m34 0h1M12 21h1m29 0h1M1 22h1m10 0h1m5 0h1M2 23h1m87 0h1M0 24h1m1 0h1m7 0h1m5 0h1M9 25h1m5 0h1M8 26h1M8 27h1m73 0h1M7 28h1m6 0h1m8 0h1M14 29h1M0 30h1m13 0h1m30 0h1m45 0h1M7 31h1m6 0h1m59 0h1M7 32h2M8 33h1m12 0h1m1 0h1m37 0h1M8 34h1m27 0h1M19 37h1m1 0h1M7 38h1m11 0h1m2 0h1m24 0h1M7 39h1m12 0h2M0 40h1m79 0h1M22 41h1m60 1h1M65 43h1m8 0h1M23 44h1m21 0h1m5 0h1M40 45h1m14 0h1m23 0h1M25 46h1M14 47h1m10 0h1m16 0h1m17 0h1M37 48h1m1 0h2M26 49h1m5 0h2m-1 1h1m14 0h1m-2 1h1m3 0h1m26 0h1M49 52h1m8 0h1m9 0h1M19 53h1m28 0h1M19 54h1m36 0h1m3 0h1m16 0h1M12 55h1m32 0h1m24 0h1M12 56h1m11 0h1m1 0h1m14 0h1m2 0h1m13 0h1M39 57h1m38 0h1m6 0h1m2 0h1M64 58h1m10 0h1m9 0h1M55 59h1m19 0h1m10 0h1M54 60h1m12 0h1m9 0h1m5 0h1M51 61h1m34 0h1M48 62h2m12 0h1M45 63h1m15 0h2m1 0h1m7 0h1m9 0h1M45 64h1m3 0h1m10 0h1m1 0h1m22 0h1m5 0h1M36 65h1m21 0h1M28 66h2m6 0h1m21 0h1m1 0h1m10 0h1m10 0h2M57 67h1m23 0h1M56 68h1m1 0h1m10 0h1M56 69h1m10 0h1m11 0h1M66 70h1m1 0h1m9 0h1m10 0h1M65 71h1m1 0h1m9 0h1m11 0h1m-3 1h2M64 73h1m11 0h2m10 0h1M30 74h1m43 0h1m2 0h1m10 0h1M62 75h1m24 0h1"/>
<path stroke="#8e8e8e" d="M11 0h1M28 0h1M77 0h1M9 1h1M89 1h1M33 2h1m1 0h1M6 3h1M27 3h1M63 3h1M23 4h1M16 5h1M3 6h1M19 6h1M51 6h1M14 7h1M67 7h1M14 8h1M61 8h1m6 0h1M45 9h1m2 1h1M29 11h1m13 1h1m32 0h1M7 13h1m11 0h1M7 14h1M5 15h1m1 0h1m11 0h1M4 16h1m12 0h1m10 0h1M6 17h1m7 0h1m1 0h1m26 0h1m40 0h1M13 18h1m14 1h1M13 20h1m6 0h1m19 0h1M19 21h1m-9 1h1M0 23h1m9 0h2m8 0h1m60 0h1m4 0h1M1 24h1m15 2h1m7 0h1m61 0h1M24 27h1m44 0h1M0 28h1M0 29h1m6 0h1m14 0h1m56 0h1M7 30h1m80 0h1M8 31h1m15 0h1m30 0h1m27 0h1M51 32h1m36 1h1m-6 2h1M7 36h1m75 0h1M7 37h1m12 0h1m59 0h1M21 38h1m34 1h1M22 40h2m59 1h1m4 2h1m2 0h1m-4 1h1M70 45h1m17 0h1M36 46h1m2 0h1m10 0h1m28 0h1m8 0h1M37 47h5m40 0h1M26 48h2m2 0h1m5 0h1m12 0h1m3 0h1M34 49h1m1 0h1m-3 1h2m23 0h1M48 51h1m23 0h1m17 0h1M46 52h1m1 0h1m32 0h1M44 53h1m23 0h1m2 0h1M47 54h1m41 0h1M42 55h1m12 0h1m3 0h1m7 0h1m9 0h1m8 0h1M25 56h1m16 0h1m26 0h1M54 57h1m2 0h1m8 0h1m1 0h1M56 58h1m30 0h1M52 59h1m24 0h1m7 0h1M75 60h1m10 0h1M52 61h1m10 0h1m2 0h1m7 0h1M65 62h1m7 0h1M46 63h1m2 0h1m13 0h1m21 0h1M46 64h1m14 0h1M37 65h1m21 0h3m9 0h1m10 0h1M37 66h1m21 0h1m31 0h1M58 67h1m31 0h1M57 68h1m10 0h1m11 0h1M69 69h1m21 0h1M67 70h1m22 0h1M66 71h1m11 0h2M66 72h1m10 0h2M66 73h1m19 0h1M64 74h2m10 0h1m-3 1h2m10 0h1"/>
<path stroke="#909090" d="M9 0h1M44 0h1M58 0h1M23 1h1M49 1h1M19 3h1m5 0h2M43 3h1M22 4h1M46 4h1M20 5h1M49 5h1M77 5h1M15 6h4M11 8h1M31 8h1M73 8h1M84 9h1M11 10h2m72 1h1M46 13h1m19 0h1M18 14h1m1 0h1m56 0h1M6 15h1m9 0h1M5 16h2m8 0h1M5 17h1m19 0h1M13 19h1m56 0h1m14 0h1m-6 1h1M49 21h1m6 0h1m32 0h1M1 23h1m16 0h1m-2 1h2m49 0h1M17 25h1m9 0h1M15 26h1m32 0h1m10 0h1m13 1h1M8 28h1m7 0h1m-2 1h1m72 0h1M8 30h1m16 0h1m-5 1h1m48 0h1m17 0h1m2 0h1M21 32h3m41 0h1M7 33h1M7 34h1M7 35h1m48 0h1m23 1h1M47 37h1m35 0h1M20 38h1m35 0h1M23 39h1m59 1h1M38 42h1m7 0h1m44 0h1M23 43h1m37 1h1m2 1h1M29 46h1m10 0h2M26 47h1m2 0h1m49 0h1M60 48h1M35 49h1m27 0h1m23 0h1M69 50h1M49 51h2m11 0h1m18 0h1M47 52h1m13 0h1m16 0h1M45 53h1m1 0h1m10 0h1M43 54h1m2 0h1m10 0h1m21 1h1M43 56h1m23 0h1m9 0h2M67 57h1m8 0h1M54 58h1m12 0h1m18 0h1M53 59h2m12 0h1M52 60h2m22 0h1M63 62h1m12 0h1M47 63h1m34 1h1M73 65h1m17 2h1M81 68h1m8 0h2M68 69h1m12 0h1m8 0h1M79 70h2M65 72h1m-1 1h1m21 0h1M75 74h1m10 0h2"/>
<path stroke="#939393" d="M10 0h1M32 2h1m3 0h1M51 2h1M20 3h1m0 1h1M87 4h1M17 5h1M57 5h1M78 6h1M12 8h2M32 8h1m8 0h1M13 9h1M62 9h1M80 9h1M24 10h1m-3 1h1m5 0h1m-4 1h1m39 0h1M20 13h1m1 0h1m-4 1h1m-3 1h2m-3 1h1m-2 1h1m63 1h1m8 0h1M14 19h1m8 2h1m-3 1h1m55 0h1M19 23h1m31 0h1M29 24h1m28 0h1M16 25h1m61 0h1M16 26h1m36 0h1M15 27h1m-1 1h1m66 0h1M8 29h1m17 0h1m-4 2h1m37 1h1m12 0h1m8 0h1m4 0h1m2 0h1m-1 1h1M35 34h1m47 0h1m7 0h1M80 35h1M52 36h1m3 1h1M43 38h1m47 0h1M22 39h1m68 0h1M52 40h1m27 1h1m-7 1h1M24 44h1m8 2h2m8 0h1M27 47h2m1 0h4m2 0h1m36 0h1M31 48h1m1 0h3m13 1h1m22 1h1m8 0h1M46 53h1m13 0h1M44 54h2m12 0h2m8 0h1m1 0h1M43 55h2m13 0h1m19 0h1M68 56h1m8 1h1M55 58h1m9 0h2m9 0h2M64 59h1m11 0h1m7 1h1m-9 1h1m6 0h1M64 62h1m20 0h1M48 63h1m26 0h1M47 64h2m23 0h1m1 0h1m-3 1h1m10 0h2m-5 4h1"/>
<path stroke="#959595" d="M33 0h1M84 0h1m3 0h1M24 1h1M85 1h1M22 2h1m2 0h2M37 2h1M62 2h1M79 2h1M21 3h1m2 0h1M80 3h1M18 4h1M69 4h1M18 5h1M91 5h1M72 7h1M55 8h1M11 9h1M27 9h1M90 9h1M63 10h1M40 11h1m23 0h1M21 12h1m50 0h1M21 13h1m39 0h1m24 0h1M62 14h1m24 1h1M29 16h1m10 0h1M14 18h2m7 0h1m3 1h1m-9 3h1m24 0h1m5 0h1m39 2h1M16 27h1m37 1h1m5 0h1m27 0h1M50 29h1m13 0h1M22 30h2m46 0h1M22 31h1m60 2h1M35 35h2m54 0h1M35 36h1m20 0h1M34 37h1m17 0h1m38 0h1M71 38h1m11 0h1M24 39h1m27 0h1m18 0h1m11 0h1M24 40h1m46 0h1m19 0h1M24 41h1m27 0h1m38 0h1M42 42h1m22 0h1M25 44h1m15 0h1m13 0h1M25 45h1m15 0h1m2 0h1m6 0h1m9 0h1m11 0h1M28 46h1m1 0h1m11 0h1m11 0h1m15 0h1m2 0h1M34 47h1m-3 1h1m30 0h1m15 0h1M52 49h1m28 0h1M49 50h1m1 0h1m35 0h1m2 0h1M59 51h1m9 0h1m17 0h1m-1 1h1M59 53h1m18 0h1m8 0h1m1 0h1M78 54h1m1 0h1m6 0h1M68 55h2M57 56h1m28 0h1m1 0h1m-3 1h2M66 59h1m-3 1h1m1 0h1m18 0h1M64 61h2m9 0h1m9 0h1M74 62h1m8 0h1M73 63h1m-1 1h1"/>
<path stroke="#979797" d="M29 0h1m4 0h1m8 0h1M64 0h1M25 1h1M66 1h1M78 1h1M23 2h2m2 0h2M23 3h1M44 3h1M20 4h1M47 4h1M19 5h1M70 5h1m0 1h1M89 7h1M33 8h1M83 8h1M12 9h1m78 2h1M51 12h1m8 0h1m-7 2h1m18 0h1M63 15h1m14 1h1M26 17h1m25 0h1m22 0h1M22 19h1m15 0h1M21 20h1m-2 1h1m-1 1h1m65 0h1m-6 2h1m5 1h1M27 28h1m45 0h1m5 0h1M23 29h2m36 2h1M46 33h1m18 0h1m8 0h1m-4 1h1m8 0h1M52 35h1m18 0h1m-1 1h1m19 0h1m-3 1h1M31 38h1m20 0h1m36 0h1M62 39h1m2 1h1M23 41h1m41 0h1m5 0h1m2 0h1M23 42h1m47 0h1m8 0h1M45 43h1m25 0h1m1 1h1M26 45h1m-1 1h1m55 0h1M35 47h1m52 0h1M60 49h1m11 0h1M50 50h1m8 2h2m8 0h1m-1 1h2m9 0h1M69 54h1M56 55h2m29 0h2M55 56h1m-1 1h2m8 2h1m9 3h1m-2 1h1m8 0h2m-2 1h2"/>
<path stroke="#999999" d="M30 0h1m1 0h1m2 0h1M26 1h1m2 1h3m6 0h1M86 2h1M22 3h1M68 3h1M19 4h1M55 4h1M81 5h1M79 7h1M34 8h1M28 9h1m-4 1h1m-3 1h1m3 0h1m-6 1h1m21 0h1m3 2h1m34 0h1M68 16h1m15 0h1M65 18h1M26 19h1m32 0h1m16 0h1M24 20h1m-4 1h2m44 0h1m3 1h1m17 0h1M30 24h1m6 0h1m34 0h1M26 26h1m14 0h1m21 0h1m5 0h1M30 27h2m-8 1h2m56 1h1M24 30h1m26 1h1m3 1h1m18 2h1M65 35h1M36 36h1m52 0h1M43 37h1m27 0h1M32 38h1m29 0h1M43 39h1m21 0h1m8 0h1m14 0h1M62 40h1m11 0h1M24 42h1m27 0h1M25 43h1m54 0h1M71 44h1M27 45h1m7 0h1m6 0h1M27 46h1m4 0h1m28 0h1M50 47h1m2 0h1m9 0h1m6 0h1m19 0h1M81 48h1m8 0h1M79 49h1m10 0h1M62 50h1m-2 1h1m9 1h1m7 2h1m8 0h1m-2 2h1M65 60h1m18 1h1m-1 1h1"/>
<path stroke="#9b9b9b" d="M31 0h1M42 0h1M27 1h1m5 0h2M48 1h1M67 2h1M53 3h1M90 3h1M52 6h1M82 7h1M35 8h1m4 0h1m3 1h1m36 1h1m-7 1h1M23 12h2m5 4h1m-1 2h1m-9 2h1m63 1h1M57 22h1m20 2h1m8 0h1M28 25h1m61 0h1M25 27h1m3 0h1m2 0h2m36 2h1m2 0h1M61 30h1m9 3h1m8 0h1M65 34h1m23 1h1M65 36h1M35 37h1m26 0h1m2 0h1m-1 1h1m8 0h1m14 2h1M46 41h1m42 1h1M24 43h1m12 0h1m17 0h1M26 44h1m37 0h1m15 0h1m8 0h1m-8 1h1m6 0h1M31 46h1m57 0h2M50 48h1m1 0h1m17 0h1M50 49h2m8 1h1m18 0h1M60 51h1m18 0h1m-1 1h2m8 0h1M79 53h1M56 56h1"/>
<path stroke="#9d9d9d" d="M36 0h1M28 1h1m6 0h1M74 1h1M39 2h1M75 2h1M45 3h1M76 3h1M66 5h1M36 8h1M29 9h1m-4 1h1m5 0h2m24 0h1m25 0h1M24 11h1m1 0h1m14 0h1m7 0h1m9 0h1m22 1h1m2 0h1M39 16h1m11 0h1m35 0h1M27 17h1m-4 1h1m60 0h1M46 19h1m41 0h1M70 20h1m6 1h1m2 0h1M61 22h1m6 1h1m12 2h1M27 26h1m-2 1h1m1 0h1m20 0h1m29 0h1m8 0h1M64 30h1m15 0h1m1 0h1m-3 1h1m-1 1h1m8 2h1M74 35h1M62 36h1M30 38h1m50 1h1m7 2h1M55 42h1m17 1h1m8 0h1m6 0h1M44 44h1m37 0h1M43 45h1m27 0h1m8 0h1m9 0h1M51 46h1m11 0h1m-3 1h1m19 0h1m7 0h1M72 48h1m15 0h1M70 49h1m0 2h1m8 0h1M70 52h1m17 1h1"/>
<path stroke="#9f9f9f" d="M41 0h1M59 0h1M32 1h1M61 1h1M40 2h1m9 0h1M89 2h1M48 4h1M65 4h1M50 5h1M88 5h1M58 6h1M54 7h1M37 8h1M30 9h1M70 9h1M31 10h1m2 0h1m1 0h2m9 0h1m23 0h1m19 0h1M25 11h1m50 2h1M50 15h1m4 0h1m18 0h1M38 16h1m17 0h1m7 0h1M25 18h1m3 0h1m1 0h1m26 0h1M23 19h1m1 0h1m40 0h1m12 0h1M23 20h1m7 4h1m7 1h1M28 26h1m61 0h1m-1 1h1M37 28h1m6 1h1m44 0h1M62 35h1m11 1h1m6 0h1m-8 1h1m6 0h1m-1 1h1M38 39h1m4 1h1m37 0h1M38 41h1m23 0h1m19 1h1M52 43h1M36 44h1m5 0h1m29 0h1m17 0h1M54 45h1m17 0h1m7 1h1m-1 1h1M51 48h1m9 0h1m18 0h1M62 49h1m17 0h1M70 50h1m9 0h1M70 51h1m18 0h1m-2 1h1"/>
<path stroke="#a2a2a2" d="M37 0h1m2 0h1M73 0h1M36 1h1M47 1h1M64 3h1M87 3h1M77 4h1M67 6h1M91 6h1M38 8h2M80 8h1M31 9h2M57 9h1M27 10h2m1 0h1m4 0h1m38 0h1m-3 1h1M45 12h1m6 1h1m14 2h1M31 16h1m5 0h1M28 17h2m12 0h1m14 0h1M26 18h1m42 0h1m16 2h1m-9 3h1m10 0h1M62 24h1M29 25h1m39 0h1M29 26h1m40 2h1m18 0h2M80 29h1m9 0h1M73 30h1m15 0h1M71 32h1M42 33h1m12 0h1m33 0h1M46 34h1m5 0h1m28 1h2M37 36h1m44 0h1m-1 1h1m-1 2h1m-1 1h1M55 41h1m25 0h2M42 43h1m29 0h1m17 0h1M43 44h1m8 0h1M28 45h1m34 0h1M53 46h1m17 0h2M51 47h2m19 0h1m16 1h1M61 49h1m9 0h1m16 0h1M61 50h1m9 0h1m17 0h1m-2 1h1"/>
<path stroke="#a4a4a4" d="M38 0h2M76 0h1M29 1h1m1 0h1m9 1h1M52 3h1M80 4h1M56 5h1M78 5h1m2 1h1M68 7h1m0 1h1M90 8h1M33 9h1m9 0h1M29 10h1m8 0h1m47 4h1M77 15h1m0 2h1m8 0h1M27 18h2m3 0h1m11 0h1m31 0h1M24 19h1m63 1h1m-9 2h1m6 1h1M36 24h1m35 1h1m6 1h1m1 0h1m6 0h1M27 27h1m32 0h1m2 0h1M25 29h1m64 1h1m-9 1h1m6 0h1m-1 1h1M43 36h1m38 2h1m7 0h1M25 42h1m19 0h1m16 0h1m18 0h1M44 43h1m17 0h1m18 0h1M62 44h1m18 0h1M52 45h1m9 0h1m18 0h1M52 46h1m28 0h1M62 47h1m8 0h1M62 48h1m8 0h1m17 1h1m-2 1h1"/>
<path stroke="#a6a6a6" d="M30 1h1M46 1h1M42 2h2M63 2h1M46 3h1M90 4h1M89 6h1M59 7h1M56 8h1M73 9h1m7 0h1m1 0h1m-2 2h1M73 13h1m-8 1h1m17 1h1M32 16h1m3 0h1m38 0h1M30 17h1m54 0h1M33 18h3m50 1h1M41 20h1m1 1h1m36 2h1M32 24h1m1 0h2m-6 1h1m21 0h1m6 0h1m19 0h1M30 26h1m11 1h1m38 0h1M54 29h1m6 0h1m19 0h1M62 34h1m19 0h1m7 0h1m-1 1h1m-1 1h1m-1 1h1m-1 2h1M46 40h1m8 0h1m34 0h1M43 41h1m28 1h2m16 0h1M43 43h1m20 0h1m-3 3h1"/>
<path stroke="#a8a8a8" d="M63 0h1M37 1h1m7 0h1M65 1h1M77 1h1M44 2h1m4 0h1M78 2h1M49 4h1m3 2h1M79 6h1M60 8h1M34 9h1M91 9h1M46 10h1m37 1h1M62 13h1m2 0h1m17 0h1M36 18h1m17 0h1m32 0h1M39 19h1m15 0h1m-9 1h1m19 0h1m9 0h1M60 21h1m27 0h1m-2 1h1M71 23h1M33 24h1m38 2h1m16 1h1M26 28h1m16 0h1m36 0h2m-1 2h1M64 31h1m6 0h1m1 0h1m16 0h1M73 32h1m16 1h1M72 34h1m8 0h1M28 38h1m43 1h1M38 40h1m33 0h1m-1 1h1m17 0h1M43 42h2m18 2h1M34 45h1"/>
<path stroke="#aaaaaa" d="M85 0h1m2 1h1M45 2h1m1 1h1M79 3h1m9 0h1M54 4h1M88 4h1M51 5h1M69 5h1m0 1h1m0 1h1m8 0h1M91 7h1M72 8h1m9 0h1M35 9h1m6 2h1m7 1h1m10 0h1m2 0h1M47 13h1m37 0h1M63 14h1M33 16h3m51 3h1m-9 1h1m7 0h1M70 21h1m16 0h1M68 22h1m9 0h1m9 0h1M58 23h1m20 1h2m8 0h1m-2 1h1M31 26h1m57 0h1M70 27h1M40 30h1m30 0h1M45 31h1m35 0h1m0 1h1m7 0h1M72 33h2m8 0h1M73 34h1m-2 1h1M36 37h2m-4 1h1m37 0h1m0 1h1M53 40h1m19 0h1M53 41h1m19 0h1M54 44h1m-2 1h1"/>
<path stroke="#acacac" d="M60 0h1M38 1h1m5 0h1M86 1h1M46 2h3M66 2h1m9 0h1M87 2h1M51 3h1M68 4h1M80 5h1m8 0h1M81 7h1m8 0h1M81 8h1m9 0h1M36 9h1m5 0h1M61 9h1M39 10h1m23 1h1m11 1h1M49 14h1m36 1h1M31 17h1m33 0h1m10 0h1m1 1h1m7 0h1M56 20h1m-9 1h1m-3 2h1m41 0h1M69 24h1m18 0h1M31 25h1m48 0h1m8 0h1M53 27h1m18 0h1m7 0h1M63 28h1M51 30h1m20 2h1m8 0h1M52 33h1m28 0h1M72 36h1m-1 1h1M33 38h1m39 0h1M55 39h1M44 41h1m8 1h1"/>
<path stroke="#aeaeae" d="M74 0h1M87 0h1M39 1h1m3 0h1M62 1h1M75 1h1M88 2h1M48 3h1M77 3h1M89 4h1m0 1h1M57 6h1M80 6h1M55 7h1M37 9h1M82 9h1M45 10h1m16 0h1m9 0h1m9 0h2M74 11h1m-2 1h1M53 14h1m22 0h1m7 0h1M64 15h1m12 1h1m7 0h2M68 17h1m17 0h1M37 18h1m31 1h1m7 0h1m1 4h1M51 24h1m-4 1h1m31 1h1M50 28h1m21 0h1m-2 1h2M41 31h1m20 2h1m-8 1h1M46 35h1m26 0h1M29 38h1m16 1h1m16 0h1m-1 1h2M45 41h1m18 1h1m-2 1h1M53 44h1M29 45h1"/>
<path stroke="#b0b0b0" d="M75 0h1M40 1h1M64 1h1M64 2h1M77 2h1M49 3h2M67 3h1M88 3h1M50 4h1M66 4h1M78 4h1M52 5h1M67 5h1M79 5h1M68 6h1M90 6h1M69 7h1m0 1h1m0 1h1m1 1h1M43 11h1m16 0h1m12 0h1m9 1h2M74 14h1M53 17h1m24 2h1M59 20h1m18 1h2M49 22h1m29 0h1M47 24h1M32 25h1m29 0h1M32 26h1m1 0h1m35 0h1m0 2h1M39 29h1m23 0h1M54 30h1m17 0h1M62 31h1m9 0h1m-9 1h1m8 5h1M55 38h1m7 0h1M53 39h1m10 0h1M44 40h1m9 1h1m9 0h1M54 42h1M26 43h10m17 0h2M27 44h1"/>
<path stroke="#b2b2b2" d="M61 0h2M41 1h2M76 1h1M65 3h1M78 3h1M53 4h1M79 4h1M55 5h1M69 6h1M38 9h1M72 9h1M48 11h1m34 0h1M46 12h1m16 1h1m20 0h1m0 1h1M75 15h1m9 0h1M76 16h1M32 17h1m8 0h1m35 0h1M66 18h1m10 0h1m0 2h1M57 21h1M45 22h1m24 0h1M50 23h1m18 0h1m1 1h1M38 25h1m-5 2h1m26 1h1m0 2h2m-2 2h1m1 3h1m-2 1h2m8 0h1M63 37h2m-1 1h1M44 39h1m9 1h1M25 41h13m25 0h1m-1 1h1"/>
<path stroke="#b5b5b5" d="M86 0h1M63 1h1M87 1h1M65 2h1M51 4h2M68 5h1M54 6h1M70 7h1M57 8h1M71 8h1M41 9h1M58 9h1M40 10h1m3 0h1m14 0h1M44 11h1m17 1h2M51 13h1m12 0h1m11 2h1M33 17h1m2 0h1m32 3h1m-2 1h1m-8 2h1M33 25h1m36 0h2M33 26h1m15 0h1m10 0h1M35 27h1m35 0h1M44 30h1m7 2h1m11 1h1m-1 1h1M55 35h1m7 0h1m-9 1h1m-3 1h1m1 0h1m-3 1h1m-9 2h1"/>
<path stroke="#b7b7b7" d="M67 4h1M53 5h1m2 1h1M56 7h1m1 0h1M39 9h2m4 2h1m28 1h1m0 1h1M64 14h2m1 2h1M34 17h2m1 0h1m0 1h1m6 1h1m21 0h1m2 4h1m-1 1h1M35 26h1m4 0h1m30 0h1M62 29h1m-9 2h1m8 0h1M53 36h1m-8 2h1"/>
<path stroke="#b9b9b9" d="M66 3h1M54 5h1m0 1h1M41 10h1m20 1h1m11 2h1M50 14h1m24 0h1M51 15h1m2 0h1m11 0h1M52 16h1m12 0h1M38 17h1m4 1h1m24 0h1M58 19h1M42 20h1m25 0h1m0 2h1M34 25h1m27 1h1m-9 6h1m8 2h1M53 35h1m-8 1h1m-3 2h1m9 1h1M37 42h1m-5 3h1"/>
<path stroke="#bbbbbb" d="M57 7h1m1 1h1M42 10h2m2 1h2m13 0h1M49 12h1m-2 1h1m6 3h1M40 17h1m-1 2h1m28 2h1M58 22h1m0 2h1M41 27h1m20 1h1M46 37h1m-2 2h1"/>
<path stroke="#bdbdbd" d="M58 8h1m1 1h1m0 1h1M50 13h1m1 1h1m12 1h1M39 17h1m16 0h1m0 1h1m10 1h1M44 21h1M35 25h1m1 0h1m14 1h1M36 27h1m25 0h1M43 29h1m1 3h1m17 0h1m-1 1h1M35 38h3m-3 6h1"/>
<path stroke="#bfbfbf" d="M47 12h1m18 5h1M55 18h1M46 20h1m13 2h1M36 25h1m-1 1h1m24 1h1m-9 1h1m-3 1h1m0 2h1m1 2h1m-2 1h1M44 37h1m0 1h1m8 0h1"/>
<path stroke="#c1c1c1" d="M59 9h1m0 1h1M49 13h1m1 1h1m14 2h1M54 17h1m12 0h1m-1 1h1M56 19h1m2 2h1m1 3h1M42 28h1m0 7h1m10 2h1M25 39h13m-8 6h1"/>
<path stroke="#c4c4c4" d="M48 12h1M39 18h1m17 2h2M47 21h1m3 4h1m8 0h1m0 1h1M45 33h1m7 0h1m0 1h1m-1 1h1m-1 1h1M36 43h1"/>
<path stroke="#c6c6c6" d="M53 15h1M42 18h1m15 3h1M37 26h1m1 0h1m-3 1h1m15 5h1"/>
<path stroke="#c8c8c8" d="M52 15h1m0 1h2m0 1h1m0 1h1M44 19h1m1 3h1m12 1h1M48 24h1m12 1h1M38 27h1m11 0h1m-7 4h1m-2 3h1m1 0h1m-2 1h1m-1 1h1m0 1h1M25 40h13M28 44h7"/>
<path stroke="#cacaca" d="M41 19h1m15 0h1M43 20h1m5 3h1m0 1h1m-2 1h1M39 28h1m0 1h1m12 0h1M41 30h1m10 0h1m0 1h1M44 34h1m0 1h1m-1 1h1"/>
<path stroke="#cccccc" d="M40 18h1m4 3h1m13 1h1M47 23h1m12 0h1m-1 1h1M38 26h1m11 0h1M40 27h1m-3 1h1m14 2h1M42 31h1"/>
<path stroke="#cecece" d="M41 18h1m3 2h1m0 1h1m5 6h1M41 28h1m1 2h1m-2 2h1M32 45h1"/>
<path stroke="#d0d0d0" d="M42 19h2m0 1h1m2 2h2m-1 1h1m2 5h1M42 29h1m0 3h1m-1 1h2M26 42h11m-6 3h1"/>
<path stroke="#d2d2d2" d="M49 24h1m0 1h1M40 28h1m0 1h1m0 1h1"/>
<path stroke="#d4d4d4" d="M51 26h1M39 27h1m11 0h1m0 1h1m-1 1h1M43 31h1m0 1h1"/>
</g>
<path fill="#eeeeee" fill-rule="evenodd" d="M1457.5 713 1456.5 712.7 1455.5 712 1452.5 708.8 1451.1 706.5 1451.4 705.5 1453.5 706.5 1455.6 708.5 1457.5 711.5 1457.7 712.5ZM1423.5 743.1 1417.5 738.6 1411.5 733.5 1409.4 730.5 1409.1 729.5 1409.5 728.1 1410.5 727.8 1412.5 728.5 1415.2 730.5 1417.3 732.5 1420.5 736.5 1422.5 739.6 1423.5 741.5 1423.7 742.5ZM1365.5 815.5 1358.5 814.9 1352.5 813.1 1346.5 810.1 1341.5 806.2 1337.3 801.5 1333.9 795.5 1331.7 788.5 1331.2 784.5 1331.4 782.5 1332.5 781.2 1335.5 780.3 1350.5 779.6 1375.5 779.5 1378.5 778.7 1382.5 776.7 1385.8 774.5 1393.5 768.3 1394.5 768 1395.5 768.3 1396.1 769.5 1396.9 772.5 1398.5 780.5 1398.8 784.5 1398.4 788.5 1397.7 791.5 1396.2 795.5 1394 799.5 1391.5 803 1388.5 806.2 1385.5 808.7 1381.5 811.3 1378.5 812.8 1374.5 814.2 1370.5 815.1Z"/>
<path fill="#111111" fill-rule="evenodd" d="M1413.5 780.6 1411.5 781.2 1408.5 781.1 1404.5 779.8 1401.5 778.3 1400.1 775.5 1397.7 766.5 1393.5 758.5 1391.3 755.5 1388.5 752.8 1385.5 750.5 1382.5 749 1381.5 749.1 1380.4 750.5 1379.1 759.5 1377.7 763.5 1376.3 766.5 1372.5 771.7 1369.6 774.5 1367.5 775.9 1364.5 776.9 1361.5 776.6 1358.5 775.7 1348.5 771.3 1340.5 768.3 1336.1 765.5 1334.5 763.5 1333.8 761.5 1333.3 756.5 1333.6 752.5 1334.8 747.5 1336.3 743.5 1338 740.5 1340.1 737.5 1344.5 733 1349.5 729.8 1355.5 727.8 1360.5 727.5 1365.5 728 1373.5 730.2 1379.5 730.9 1383.5 731.8 1387.5 733 1391.5 734.7 1398 738.5 1404.1 743.5 1408.5 748.6 1412.1 754.5 1413.8 758.5 1415.4 763.5 1416.6 768.5 1417.2 772.5 1417 775.5 1416.4 777.5 1414.9 779.5Z"/>
</g></g>
<path d="M1221.46 950.2v-5.5M1221.46 601.4v5.5M1235.74 950.2v-3.3M1235.74 601.4v3.3M1250.03 950.2v-3.3M1250.03 601.4v3.3M1264.31 950.2v-3.3M1264.31 601.4v3.3M1278.6 950.2v-3.3M1278.6 601.4v3.3M1292.88 950.2v-5.5M1292.88 601.4v5.5M1307.16 950.2v-3.3M1307.16 601.4v3.3M1321.45 950.2v-3.3M1321.45 601.4v3.3M1335.73 950.2v-3.3M1335.73 601.4v3.3M1350.02 950.2v-3.3M1350.02 601.4v3.3M1364.3 950.2v-5.5M1364.3 601.4v5.5M1378.58 950.2v-3.3M1378.58 601.4v3.3M1392.87 950.2v-3.3M1392.87 601.4v3.3M1407.15 950.2v-3.3M1407.15 601.4v3.3M1421.44 950.2v-3.3M1421.44 601.4v3.3M1435.72 950.2v-5.5M1435.72 601.4v5.5M1450 950.2v-3.3M1450 601.4v3.3M1464.29 950.2v-3.3M1464.29 601.4v3.3M1478.57 950.2v-3.3M1478.57 601.4v3.3M1492.86 950.2v-3.3M1492.86 601.4v3.3M1507.14 950.2v-5.5M1507.14 601.4v5.5M1521.42 950.2v-3.3M1521.42 601.4v3.3M1535.71 950.2v-3.3M1535.71 601.4v3.3M1549.99 950.2v-3.3M1549.99 601.4v3.3M1564.28 950.2v-3.3M1564.28 601.4v3.3M1578.56 950.2v-5.5M1578.56 601.4v5.5M1592.84 950.2v-3.3M1592.84 601.4v3.3M1607.13 950.2v-3.3M1607.13 601.4v3.3M1621.41 950.2v-3.3M1621.41 601.4v3.3M1635.7 950.2v-3.3M1635.7 601.4v3.3M1221.4 946.63h3.3M1649.9 946.63h-3.3M1221.4 932.4h3.3M1649.9 932.4h-3.3M1221.4 918.16h5.5M1649.9 918.16h-5.5M1221.4 903.92h3.3M1649.9 903.92h-3.3M1221.4 889.69h3.3M1649.9 889.69h-3.3M1221.4 875.45h3.3M1649.9 875.45h-3.3M1221.4 861.22h3.3M1649.9 861.22h-3.3M1221.4 846.98h5.5M1649.9 846.98h-5.5M1221.4 832.74h3.3M1649.9 832.74h-3.3M1221.4 818.51h3.3M1649.9 818.51h-3.3M1221.4 804.27h3.3M1649.9 804.27h-3.3M1221.4 790.04h3.3M1649.9 790.04h-3.3M1221.4 775.8h5.5M1649.9 775.8h-5.5M1221.4 761.56h3.3M1649.9 761.56h-3.3M1221.4 747.33h3.3M1649.9 747.33h-3.3M1221.4 733.09h3.3M1649.9 733.09h-3.3M1221.4 718.86h3.3M1649.9 718.86h-3.3M1221.4 704.62h5.5M1649.9 704.62h-5.5M1221.4 690.38h3.3M1649.9 690.38h-3.3M1221.4 676.15h3.3M1649.9 676.15h-3.3M1221.4 661.91h3.3M1649.9 661.91h-3.3M1221.4 647.68h3.3M1649.9 647.68h-3.3M1221.4 633.44h5.5M1649.9 633.44h-5.5M1221.4 619.2h3.3M1649.9 619.2h-3.3M1221.4 604.97h3.3M1649.9 604.97h-3.3" stroke="#222" stroke-opacity="0.6" stroke-width="0.8" fill="none"/><rect x="1221.4" y="601.4" width="428.5" height="348.8" fill="none" stroke="#555" stroke-opacity="0.75" stroke-width="1"/><circle cx="1364.3" cy="775.8" r="4.5" fill="#fff"/>
<g font-size="28.6">
<text x="1221.46" y="988" text-anchor="middle">- 200</text>
<text x="1292.88" y="988" text-anchor="middle">- 100</text>
<text x="1364.3" y="988" text-anchor="middle">0</text>
<text x="1435.72" y="988" text-anchor="middle">100</text>
<text x="1507.14" y="988" text-anchor="middle">200</text>
<text x="1578.56" y="988" text-anchor="middle">300</text>
<text x="1649.98" y="988" text-anchor="middle">400</text>
<text x="1213.8" y="928.03" text-anchor="end">- 200</text>
<text x="1213.8" y="856.85" text-anchor="end">- 100</text>
<text x="1213.8" y="785.67" text-anchor="end">0</text>
<text x="1213.8" y="714.49" text-anchor="end">100</text>
<text x="1213.8" y="643.31" text-anchor="end">200</text>
</g>
<text class="ax" x="1458.4" y="1026" text-anchor="middle"><tspan class="it">x</tspan> [nm]</text>
<text class="ax" transform="translate(1150 778.5) rotate(-90)" text-anchor="middle"><tspan class="it">y</tspan> [nm]</text>
<rect x="1697" y="328.6" width="34.2" height="395.6" fill="url(#cb)"/>
<g font-size="28"><text x="1740" y="335">1</text><text x="1740" y="530.5">0</text><text x="1739" y="725">-1</text></g>
<text class="bl" x="1" y="36">(a)</text><text class="bl" x="1" y="555">(b)</text>
<text class="pl" x="20" y="79.5">(<tspan class="it">i</tspan>)</text>
<text class="pl" x="523" y="79.5">(<tspan class="it">ii</tspan>)</text>
<text class="pl" x="1101" y="79.5">(<tspan class="it">iii</tspan>)</text>
<text class="pl" x="20" y="603.5">(<tspan class="it">i</tspan>)</text>
<text class="pl" x="523" y="603.5">(<tspan class="it">ii</tspan>)</text>
<text class="pl" x="1101" y="603.5">(<tspan class="it">iii</tspan>)</text>
<text class="tt" x="306" y="47.5" text-anchor="middle"><tspan class="it">v</tspan><tspan font-size="26" dy="6">0</tspan><tspan dy="-6"> = 0</tspan></text>
<text class="tt" x="843.5" y="47.5" text-anchor="middle"><tspan class="it">v</tspan><tspan font-size="26" dy="6">0</tspan><tspan dy="-6"> = 0.75</tspan><tspan class="it">v</tspan><tspan font-size="26" dy="6">F</tspan><tspan dy="-6"> (Galilean)</tspan></text>
<text class="tt" x="1433" y="47.5" text-anchor="middle"><tspan class="it">v</tspan><tspan font-size="26" dy="6">0</tspan><tspan dy="-6"> = 0.75</tspan><tspan class="it">v</tspan><tspan font-size="26" dy="6">F</tspan><tspan dy="-6"> (Relativistic)</tspan></text>
</svg></body></html>
